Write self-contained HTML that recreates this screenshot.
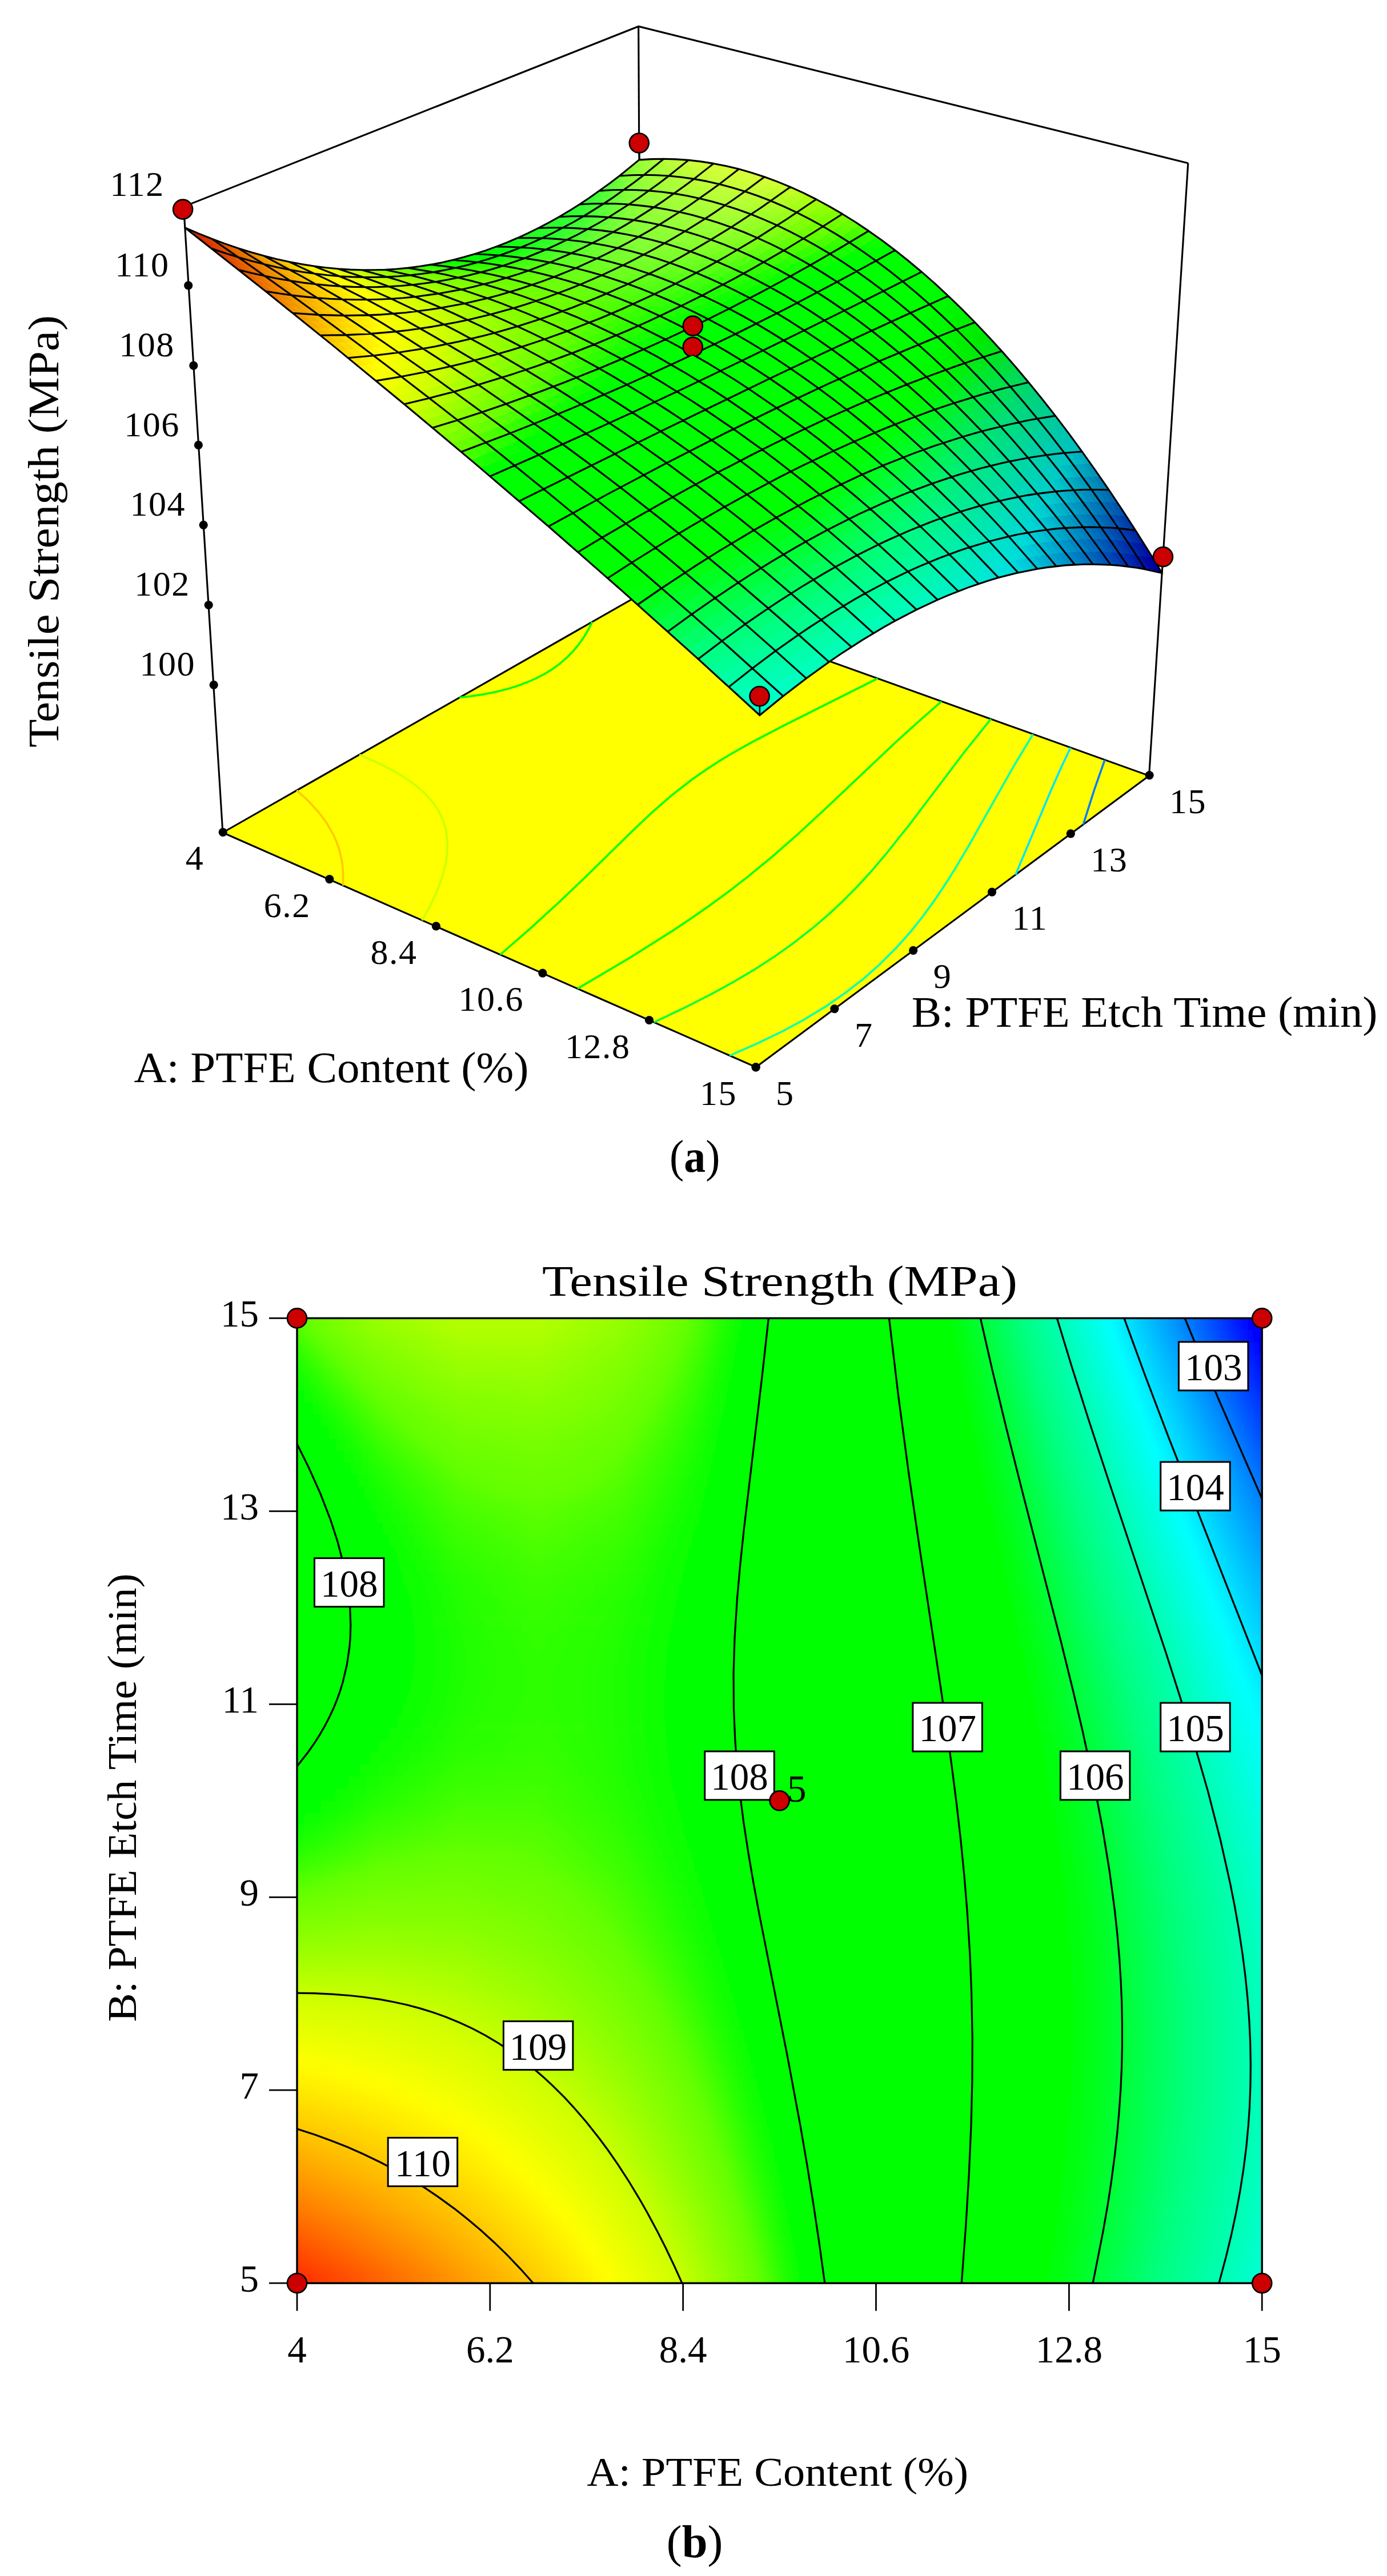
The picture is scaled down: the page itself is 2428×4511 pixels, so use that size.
<!DOCTYPE html><html><head><meta charset="utf-8"><title>Tensile Strength response surface</title><style>html,body{margin:0;padding:0;background:#fff}svg{display:block}</style></head><body><svg width="2428" height="4511" viewBox="0 0 2428 4511"><g id="partA">
<polygon points="389.9,1458 1323.3,1868.7 2011.5,1358.4 1122.7,1039.9" fill="#ffff00" stroke="#000" stroke-width="3.1" stroke-linejoin="miter"/>
<g fill="none" stroke-width="3.5">
<path d="M1896.2 1443.9L1916 1381.8 1934 1330.7" stroke="#007dff"/>
<path d="M1777.8 1531.7L1839.5 1384.8 1857.1 1345.1 1874.1 1309.2" stroke="#00e5ff"/>
<path d="M1277.3 1848.5L1324.9 1827.6 1369.7 1806 1407.2 1785.7 1445.8 1762.2 1477.6 1740.3 1510.1 1715.2 1539.5 1689.3 1568.7 1660.1 1592.8 1633.1 1614.7 1605.8 1636.8 1575.4 1658.8 1542.3 1675.9 1514.7 1695.3 1481.8 1774.1 1342.3 1808.4 1285.6" stroke="#00ffb2"/>
<path d="M1144.9 1790.2L1194.3 1766.7 1241.6 1742.7 1282.4 1720.5 1320.9 1697.7 1356.9 1674.4 1390.5 1650.4 1421.7 1626 1450.7 1601.1 1474.9 1578.5 1500.2 1553 1526 1524.8 1550.2 1496.5 1591.1 1445.2 1688.2 1317 1734.6 1259.2" stroke="#00ff36"/>
<path d="M1011.1 1731.3L1104.5 1675.9 1177.8 1629.7 1212.4 1606.5 1242.5 1585.5 1274.5 1562.1 1305.1 1538.5 1351.3 1500.6 1397.2 1460.3 1443 1418 1565.3 1302.3 1605.5 1265.7 1648.1 1228.2" stroke="#00ff00"/>
<path d="M875.7 1671.8L927.3 1626.9 978.8 1579.8 1021.4 1539.2 1107.2 1454.9 1140.6 1423.4 1175.3 1393.2 1212.1 1364.5 1236.1 1347.7 1261.1 1331.6 1287.1 1316 1317.3 1299.1 1372.4 1270.4 1536.3 1188.1" stroke="#00ff00"/>
<path d="M1036.8 1088.9L1030.4 1101.8 1021.9 1116.1 1012 1129.9 1002.6 1141.1 991.9 1151.9 979.8 1162.3 966.2 1172.2 954.1 1179.7 937.2 1188.5 922.2 1195 905.8 1201.1 887.9 1206.6 868.4 1211.5 847.1 1215.7 824 1219.3 804.3 1221.6" stroke="#00ff00"/>
<path d="M738.9 1611.6L753.2 1585.9 764.8 1561.3 773.6 1537.6 779.9 1513.9 782.7 1494.8 783.2 1473.7 780.8 1454.6 775.8 1437.2 768.5 1421.4 763.2 1412.6 757.1 1404.3 743.2 1388.9 727.2 1374.9 709.3 1362.2 686.6 1348.6 658.7 1334.5 629.2 1321.5" stroke="#c9ff00"/>
<path d="M600.6 1550.7L600.7 1527.5 598.4 1507.1 593.2 1485.8 589.7 1475.8 584.2 1463 572.5 1442.2 558.4 1423 540 1402.8 519.4 1384.1" stroke="#ffc700"/>
</g>
<polyline points="321.5,361.9 1117.7,46.2 2079.8,285.7" fill="none" stroke="#000" stroke-width="3.1"/>
<line x1="1117.7" y1="46.2" x2="1122.7" y2="1039.9" stroke="#000" stroke-width="3.1"/>
<g shape-rendering="crispEdges" stroke-width="0.8">
<path fill="#d42200" stroke="#d42200" d="M323.8 398.7L339.3 410.8 355.1 417.2 339.6 405.6Z"/>
<path fill="#d83100" stroke="#d83100" d="M339.6 405.6L355.1 417.2 370.7 423.2 355.3 412.1Z"/>
<path fill="#db4100" stroke="#db4100" d="M355.3 412.1L370.7 423.2 386.3 428.9 370.9 418.3Z"/>
<path fill="#df5200" stroke="#df5200" d="M370.9 418.3L386.3 428.9 401.7 434.3 386.4 424.1Z"/>
<path fill="#e26200" stroke="#e26200" d="M386.4 424.1L401.7 434.3 417 439.3 401.7 429.6Z"/>
<path fill="#e57200" stroke="#e57200" d="M401.7 429.6L417 439.3 432.2 444 417 434.7Z"/>
<path fill="#e88200" stroke="#e88200" d="M417 434.7L432.2 444 447.3 448.3 432.1 439.5Z"/>
<path fill="#eb9200" stroke="#eb9200" d="M432.1 439.5L447.3 448.3 462.2 452.4 447.2 444Z"/>
<path fill="#eea100" stroke="#eea100" d="M447.2 444L462.2 452.4 477.1 456.1 462.1 448.1Z"/>
<path fill="#f1b100" stroke="#f1b100" d="M462.1 448.1L477.1 456.1 491.9 459.5 476.9 451.9Z"/>
<path fill="#f4c000" stroke="#f4c000" d="M476.9 451.9L491.9 459.5 506.6 462.5 491.6 455.3Z"/>
<path fill="#f7d000" stroke="#f7d000" d="M491.6 455.3L506.6 462.5 521.1 465.3 506.2 458.5Z"/>
<path fill="#f9df00" stroke="#f9df00" d="M506.2 458.5L521.1 465.3 535.6 467.8 520.7 461.3Z"/>
<path fill="#fced00" stroke="#fced00" d="M520.7 461.3L535.6 467.8 550 469.9 535.1 463.8Z"/>
<path fill="#fefc00" stroke="#fefc00" d="M535.1 463.8L550 469.9 564.3 471.8 549.5 466Z"/>
<path fill="#f6ff00" stroke="#f6ff00" d="M549.5 466L564.3 471.8 578.5 473.3 563.7 467.9ZM610 495.7L625.1 502.6 639.3 502.7 624.2 496.2Z"/>
<path fill="#eaff00" stroke="#eaff00" d="M563.7 467.9L578.5 473.3 592.6 474.6 577.8 469.5ZM639.3 502.7L654.4 509.4 668.4 509 653.3 502.7Z"/>
<path fill="#dfff00" stroke="#dfff00" d="M577.8 469.5L592.6 474.6 606.6 475.5 591.9 470.8ZM592.6 474.6L607.4 479.8 621.4 480.4 606.6 475.5ZM668.4 509L683.6 515.6 697.5 514.7 682.4 508.4ZM718.5 556.4L734.1 564.7 748.1 562.7 732.6 554.6ZM726.5 612.9L742.4 623.4 756.7 620.7 740.7 610.5ZM715.4 642.3L731.6 654 746 651 729.8 639.7Z"/>
<path fill="#d5ff00" stroke="#d5ff00" d="M591.9 470.8L606.6 475.5 620.5 476.2 605.8 471.8ZM606.6 475.5L621.4 480.4 635.3 480.8 620.5 476.2ZM751.5 584.2L767.2 593.3 781.2 590.7 765.5 581.9Z"/>
<path fill="#c5ff00" stroke="#c5ff00" d="M605.8 471.8L620.5 476.2 634.4 476.6 619.7 472.4ZM620.5 476.2L635.3 480.8 649.1 480.9 634.4 476.6ZM650.1 485.6L665 490.6 678.8 490.1 663.9 485.4ZM665 490.6L679.9 495.7 693.7 494.9 678.8 490.1Z"/>
<path fill="#b4ff00" stroke="#b4ff00" d="M619.7 472.4L634.4 476.6 648.1 476.7 633.5 472.8ZM723.7 505.2L738.8 510.6 752.4 508.8 737.3 503.7ZM770.7 530.4L786.1 536.8 799.7 534.2 784.3 528ZM787.8 546L803.3 553 816.9 550.2 801.5 543.4Z"/>
<path fill="#a4ff00" stroke="#a4ff00" d="M633.5 472.8L648.1 476.7 661.8 476.5 647.2 472.9ZM782.6 519.8L797.9 525.5 811.3 522.8 796.1 517.3ZM828.7 618L844.7 627.4 858.5 623.6 842.6 614.4ZM767.9 709.9L784.4 722.7 798.8 718.4 782.4 705.9Z"/>
<path fill="#94ff00" stroke="#94ff00" d="M647.2 472.9L661.8 476.5 675.4 476 660.8 472.7ZM764.3 499.9L779.3 504.6 792.7 502.2 777.7 497.7ZM779.3 504.6L794.4 509.5 807.7 506.9 792.7 502.2ZM835 659L851.2 669.7 865.2 665.4 849 655Z"/>
<path fill="#85ff00" stroke="#85ff00" d="M660.8 472.7L675.4 476 688.9 475.3 674.4 472.2ZM733.1 485.6L747.9 489.4 761.2 487.4 746.4 483.8ZM868.5 527.8L883.9 533.5 897.1 529.7 881.7 524.1ZM886 543.3L901.5 549.7 914.7 545.7 899.3 539.5ZM894.9 587L910.6 594.9 924.1 590.7 908.3 583ZM885.9 615.7L901.8 624.6 915.4 620.3 899.5 611.6ZM813.2 714.1L829.6 726.4 843.8 721.7 827.4 709.6ZM786.5 740.2L803.1 753.5 817.5 748.7 800.9 735.7Z"/>
<path fill="#78ff00" stroke="#78ff00" d="M674.4 472.2L688.9 475.3 702.4 474.2 687.8 471.5ZM731.7 480.4L746.4 483.8 759.7 481.8 745 478.6ZM910.2 525.7L925.5 531.4 938.6 527.1 923.2 521.6ZM924.1 590.7L939.8 598.7 953.2 594.1 937.4 586.4ZM867.4 680.4L883.7 691.3 897.6 686.6 881.4 675.9Z"/>
<path fill="#6bff00" stroke="#6bff00" d="M687.8 471.5L702.4 474.2 715.7 472.9 701.2 470.4ZM830.5 486.7L845.5 490.3 858.5 486.9 843.6 483.4ZM969.4 538.8L984.9 545 997.9 540.1 982.4 534.1ZM971.9 549.7L987.5 556.3 1000.5 551.4 984.9 545ZM963.9 577.4L979.6 584.8 992.7 580 977 572.7ZM920.2 647.6L936.3 657.3 949.9 652.4 933.8 643Z"/>
<path fill="#5bff00" stroke="#5bff00" d="M701.2 470.4L715.7 472.9 729 471.4 714.5 469.1ZM819.7 767L836.4 780.5 850.7 775 834.1 761.8Z"/>
<path fill="#46ff00" stroke="#46ff00" d="M714.5 469.1L729 471.4 742.2 469.5 727.7 467.5ZM1034.5 577.4L1050.3 584.9 1063.2 579.6 1047.5 572.2ZM976.8 642.6L992.9 651.9 1006.3 646.7 990.2 637.6ZM952.5 667.1L968.7 677.1 982.2 671.9 966 662.1Z"/>
<path fill="#32ff00" stroke="#32ff00" d="M727.7 467.5L742.2 469.5 755.4 467.4 740.9 465.6ZM1016.8 627.3L1032.8 636.2 1046 630.8 1030 622.1ZM1387.4 446.9L1403 455.4 1414.5 448.8 1399 440.1ZM930.2 708.4L946.6 719.5 960.4 714.1 944 703.1ZM890.9 740.9L907.5 753.1 921.5 747.5 905 735.6Z"/>
<path fill="#21ff00" stroke="#21ff00" d="M740.9 465.6L755.4 467.4 768.5 465 754 463.4ZM1104.7 576.3L1120.5 584 1133.2 578.3 1117.4 570.6ZM1340.7 473.6L1356.3 481.8 1368.1 475.3 1352.5 467ZM1032.8 636.2L1048.9 645.2 1062 639.7 1046 630.8ZM1487 424.6L1502.5 434.9 1513.7 428.4 1498.2 417.9ZM879.3 764.1L895.9 776.9 910 771.1 893.4 758.6Z"/>
<path fill="#13ff00" stroke="#13ff00" d="M754 463.4L768.5 465 781.5 462.4 767 461ZM781.5 462.4L796 464.1 808.9 461 794.4 459.5ZM1133.2 578.3L1149.1 586.3 1161.7 580.5 1145.8 572.6ZM1368.1 475.3L1383.7 483.9 1395.3 477.4 1379.7 468.7Z"/>
<path fill="#06ff00" stroke="#06ff00" d="M767 461L781.5 462.4 794.4 459.5 779.9 458.3ZM1149.1 586.3L1165 594.5 1177.6 588.7 1161.7 580.5ZM1088.1 628.7L1104.2 637.6 1117.1 631.9 1101.1 623.1ZM1407 470.9L1422.6 480.2 1434.1 473.8 1418.5 464.4ZM1001.2 697.6L1017.6 708.1 1031.1 702.4 1014.7 692ZM895.9 776.9L912.6 789.8 926.7 783.8 910 771.1Z"/>
<path fill="#00ff00" stroke="#00ff00" d="M779.9 458.3L794.4 459.5 807.2 456.4 792.8 455.3ZM792.8 455.3L807.2 456.4 820 452.9 805.6 452.1ZM805.6 452.1L820 452.9 832.8 449.3 818.4 448.6ZM807.2 456.4L821.7 457.7 834.5 454.1 820 452.9ZM1224 550.8L1239.8 558.9 1252.1 552.9 1236.3 544.8ZM1236.3 544.8L1252.1 552.9 1264.3 546.8 1248.5 538.7ZM1126.8 611.8L1142.8 620.4 1155.6 614.7 1139.6 606.1ZM1139.6 606.1L1155.6 614.7 1168.3 608.8 1152.3 600.3ZM1152.3 600.3L1168.3 608.8 1181 603 1165 594.5ZM1165 594.5L1181 603 1193.5 597.1 1177.6 588.7ZM1177.6 588.7L1193.5 597.1 1206.1 591.2 1190.1 582.8ZM1190.1 582.8L1206.1 591.2 1218.5 585.3 1202.6 576.9ZM1202.6 576.9L1218.5 585.3 1231 579.3 1215.1 570.9ZM1215.1 570.9L1231 579.3 1243.3 573.3 1227.5 564.9ZM1227.5 564.9L1243.3 573.3 1255.6 567.3 1239.8 558.9ZM1239.8 558.9L1255.6 567.3 1267.9 561.2 1252.1 552.9ZM1252.1 552.9L1267.9 561.2 1280.1 555.2 1264.3 546.8ZM1264.3 546.8L1280.1 555.2 1292.3 549 1276.4 540.6ZM1276.4 540.6L1292.3 549 1304.4 542.9 1288.6 534.5ZM1288.6 534.5L1304.4 542.9 1316.4 536.8 1300.6 528.3ZM1300.6 528.3L1316.4 536.8 1328.4 530.6 1312.6 522ZM1312.6 522L1328.4 530.6 1340.3 524.4 1324.6 515.7ZM1324.6 515.7L1340.3 524.4 1352.2 518.1 1336.5 509.4ZM1336.5 509.4L1352.2 518.1 1364.1 511.9 1348.4 503.1ZM1348.4 503.1L1364.1 511.9 1375.9 505.6 1360.2 496.7ZM1360.2 496.7L1375.9 505.6 1387.6 499.3 1372 490.3ZM1372 490.3L1387.6 499.3 1399.3 492.9 1383.7 483.9ZM1065 654.5L1081.2 663.9 1094.3 658.2 1078.1 648.9ZM1078.1 648.9L1094.3 658.2 1107.3 652.5 1091.2 643.3ZM1091.2 643.3L1107.3 652.5 1120.3 646.8 1104.2 637.6ZM1104.2 637.6L1120.3 646.8 1133.2 641 1117.1 631.9ZM1117.1 631.9L1133.2 641 1146.1 635.2 1130 626.2ZM1130 626.2L1146.1 635.2 1158.9 629.4 1142.8 620.4ZM1142.8 620.4L1158.9 629.4 1171.6 623.5 1155.6 614.7ZM1155.6 614.7L1171.6 623.5 1184.3 617.6 1168.3 608.8ZM1168.3 608.8L1184.3 617.6 1197 611.8 1181 603ZM1181 603L1197 611.8 1209.5 605.8 1193.5 597.1ZM1193.5 597.1L1209.5 605.8 1222.1 599.9 1206.1 591.2ZM1206.1 591.2L1222.1 599.9 1234.5 594 1218.5 585.3ZM1218.5 585.3L1234.5 594 1246.9 588 1231 579.3ZM1231 579.3L1246.9 588 1259.3 582 1243.3 573.3ZM1243.3 573.3L1259.3 582 1271.6 576 1255.6 567.3ZM1255.6 567.3L1271.6 576 1283.8 569.9 1267.9 561.2ZM1267.9 561.2L1283.8 569.9 1296 563.9 1280.1 555.2ZM1280.1 555.2L1296 563.9 1308.1 557.8 1292.3 549ZM1292.3 549L1308.1 557.8 1320.2 551.7 1304.4 542.9ZM1304.4 542.9L1320.2 551.7 1332.2 545.6 1316.4 536.8ZM1316.4 536.8L1332.2 545.6 1344.2 539.5 1328.4 530.6ZM1328.4 530.6L1344.2 539.5 1356.1 533.3 1340.3 524.4ZM1340.3 524.4L1356.1 533.3 1368 527.2 1352.2 518.1ZM1352.2 518.1L1368 527.2 1379.8 521 1364.1 511.9ZM1364.1 511.9L1379.8 521 1391.6 514.8 1375.9 505.6ZM1375.9 505.6L1391.6 514.8 1403.3 508.6 1387.6 499.3ZM1387.6 499.3L1403.3 508.6 1415 502.3 1399.3 492.9ZM1399.3 492.9L1415 502.3 1426.6 496.1 1411 486.6ZM1411 486.6L1426.6 496.1 1438.2 489.8 1422.6 480.2ZM1422.6 480.2L1438.2 489.8 1449.7 483.6 1434.1 473.8ZM1434.1 473.8L1449.7 483.6 1461.2 477.3 1445.6 467.4ZM1445.6 467.4L1461.2 477.3 1472.7 471 1457.1 460.9ZM1457.1 460.9L1472.7 471 1484.1 464.7 1468.5 454.4ZM1468.5 454.4L1484.1 464.7 1495.4 458.3 1479.9 448ZM1479.9 448L1495.4 458.3 1506.7 452 1491.2 441.4ZM1028.1 686.5L1044.5 696.7 1057.8 690.9 1041.5 680.9ZM1041.5 680.9L1057.8 690.9 1071.1 685.2 1054.8 675.3ZM1054.8 675.3L1071.1 685.2 1084.3 679.4 1068 669.6ZM1068 669.6L1084.3 679.4 1097.4 673.6 1081.2 663.9ZM1081.2 663.9L1097.4 673.6 1110.5 667.8 1094.3 658.2ZM1094.3 658.2L1110.5 667.8 1123.5 662 1107.3 652.5ZM1107.3 652.5L1123.5 662 1136.5 656.1 1120.3 646.8ZM1120.3 646.8L1136.5 656.1 1149.4 650.3 1133.2 641ZM1133.2 641L1149.4 650.3 1162.2 644.4 1146.1 635.2ZM1146.1 635.2L1162.2 644.4 1175 638.5 1158.9 629.4ZM1158.9 629.4L1175 638.5 1187.7 632.6 1171.6 623.5ZM1171.6 623.5L1187.7 632.6 1200.4 626.7 1184.3 617.6ZM1184.3 617.6L1200.4 626.7 1213 620.8 1197 611.8ZM1197 611.8L1213 620.8 1225.6 614.8 1209.5 605.8ZM1209.5 605.8L1225.6 614.8 1238.1 608.9 1222.1 599.9ZM1222.1 599.9L1238.1 608.9 1250.5 602.9 1234.5 594ZM1234.5 594L1250.5 602.9 1262.9 596.9 1246.9 588ZM1246.9 588L1262.9 596.9 1275.2 591 1259.3 582ZM1259.3 582L1275.2 591 1287.5 585 1271.6 576ZM1271.6 576L1287.5 585 1299.7 578.9 1283.8 569.9ZM1283.8 569.9L1299.7 578.9 1311.9 572.9 1296 563.9ZM1296 563.9L1311.9 572.9 1324 566.9 1308.1 557.8ZM1308.1 557.8L1324 566.9 1336.1 560.8 1320.2 551.7ZM1320.2 551.7L1336.1 560.8 1348.1 554.8 1332.2 545.6ZM1332.2 545.6L1348.1 554.8 1360 548.7 1344.2 539.5ZM1344.2 539.5L1360 548.7 1372 542.6 1356.1 533.3ZM1356.1 533.3L1372 542.6 1383.8 536.6 1368 527.2ZM1368 527.2L1383.8 536.6 1395.6 530.5 1379.8 521ZM1379.8 521L1395.6 530.5 1407.4 524.4 1391.6 514.8ZM1391.6 514.8L1407.4 524.4 1419.1 518.3 1403.3 508.6ZM1403.3 508.6L1419.1 518.3 1430.7 512.1 1415 502.3ZM1415 502.3L1430.7 512.1 1442.3 506 1426.6 496.1ZM1426.6 496.1L1442.3 506 1453.9 499.9 1438.2 489.8ZM1438.2 489.8L1453.9 499.9 1465.4 493.7 1449.7 483.6ZM1449.7 483.6L1465.4 493.7 1476.9 487.6 1461.2 477.3ZM1461.2 477.3L1476.9 487.6 1488.3 481.4 1472.7 471ZM1472.7 471L1488.3 481.4 1499.6 475.3 1484.1 464.7ZM1484.1 464.7L1499.6 475.3 1511 469.1 1495.4 458.3ZM1495.4 458.3L1511 469.1 1522.2 462.9 1506.7 452ZM1506.7 452L1522.2 462.9 1533.5 456.8 1517.9 445.6ZM1517.9 445.6L1533.5 456.8 1544.7 450.6 1529.2 439.3ZM1529.2 439.3L1544.7 450.6 1555.8 444.4 1540.3 432.9ZM1540.3 432.9L1555.8 444.4 1566.9 438.2 1551.4 426.5ZM976.8 725.1L993.3 736.3 1006.9 730.5 990.5 719.5ZM990.5 719.5L1006.9 730.5 1020.5 724.7 1004.1 713.8ZM1004.1 713.8L1020.5 724.7 1034 718.8 1017.6 708.1ZM1017.6 708.1L1034 718.8 1047.4 712.9 1031.1 702.4ZM1031.1 702.4L1047.4 712.9 1060.8 707.1 1044.5 696.7ZM1044.5 696.7L1060.8 707.1 1074.1 701.2 1057.8 690.9ZM1057.8 690.9L1074.1 701.2 1087.4 695.3 1071.1 685.2ZM1071.1 685.2L1087.4 695.3 1100.6 689.4 1084.3 679.4ZM1084.3 679.4L1100.6 689.4 1113.7 683.5 1097.4 673.6ZM1097.4 673.6L1113.7 683.5 1126.8 677.6 1110.5 667.8ZM1110.5 667.8L1126.8 677.6 1139.8 671.7 1123.5 662ZM1123.5 662L1139.8 671.7 1152.7 665.8 1136.5 656.1ZM1136.5 656.1L1152.7 665.8 1165.6 659.8 1149.4 650.3ZM1149.4 650.3L1165.6 659.8 1178.4 653.9 1162.2 644.4ZM1162.2 644.4L1178.4 653.9 1191.2 647.9 1175 638.5ZM1175 638.5L1191.2 647.9 1203.9 642 1187.7 632.6ZM1187.7 632.6L1203.9 642 1216.5 636 1200.4 626.7ZM1200.4 626.7L1216.5 636 1229.1 630.1 1213 620.8ZM1213 620.8L1229.1 630.1 1241.7 624.1 1225.6 614.8ZM1225.6 614.8L1241.7 624.1 1254.1 618.2 1238.1 608.9ZM1238.1 608.9L1254.1 618.2 1266.6 612.2 1250.5 602.9ZM1250.5 602.9L1266.6 612.2 1278.9 606.2 1262.9 596.9ZM1262.9 596.9L1278.9 606.2 1291.2 600.2 1275.2 591ZM1275.2 591L1291.2 600.2 1303.5 594.3 1287.5 585ZM1287.5 585L1303.5 594.3 1315.7 588.3 1299.7 578.9ZM1299.7 578.9L1315.7 588.3 1327.9 582.3 1311.9 572.9ZM1311.9 572.9L1327.9 582.3 1340 576.3 1324 566.9ZM1324 566.9L1340 576.3 1352 570.3 1336.1 560.8ZM1336.1 560.8L1352 570.3 1364 564.3 1348.1 554.8ZM1348.1 554.8L1364 564.3 1375.9 558.3 1360 548.7ZM1360 548.7L1375.9 558.3 1387.8 552.3 1372 542.6ZM1372 542.6L1387.8 552.3 1399.6 546.3 1383.8 536.6ZM1383.8 536.6L1399.6 546.3 1411.4 540.3 1395.6 530.5ZM1395.6 530.5L1411.4 540.3 1423.2 534.3 1407.4 524.4ZM1407.4 524.4L1423.2 534.3 1434.9 528.3 1419.1 518.3ZM1419.1 518.3L1434.9 528.3 1446.5 522.3 1430.7 512.1ZM1430.7 512.1L1446.5 522.3 1458.1 516.3 1442.3 506ZM1442.3 506L1458.1 516.3 1469.6 510.3 1453.9 499.9ZM1453.9 499.9L1469.6 510.3 1481.1 504.3 1465.4 493.7ZM1465.4 493.7L1481.1 504.3 1492.5 498.3 1476.9 487.6ZM1476.9 487.6L1492.5 498.3 1503.9 492.3 1488.3 481.4ZM1488.3 481.4L1503.9 492.3 1515.3 486.3 1499.6 475.3ZM1499.6 475.3L1515.3 486.3 1526.6 480.3 1511 469.1ZM1511 469.1L1526.6 480.3 1537.8 474.3 1522.2 462.9ZM1522.2 462.9L1537.8 474.3 1549 468.4 1533.5 456.8ZM1533.5 456.8L1549 468.4 1560.2 462.4 1544.7 450.6ZM1544.7 450.6L1560.2 462.4 1571.3 456.4 1555.8 444.4ZM1555.8 444.4L1571.3 456.4 1582.4 450.4 1566.9 438.2ZM924.1 765.3L940.7 777.8 954.6 771.8 938 759.6ZM938 759.6L954.6 771.8 968.5 765.7 951.9 753.8ZM951.9 753.8L968.5 765.7 982.3 759.7 965.8 748ZM965.8 748L982.3 759.7 996.1 753.7 979.6 742.2ZM979.6 742.2L996.1 753.7 1009.8 747.7 993.3 736.3ZM993.3 736.3L1009.8 747.7 1023.4 741.7 1006.9 730.5ZM1006.9 730.5L1023.4 741.7 1036.9 735.7 1020.5 724.7ZM1020.5 724.7L1036.9 735.7 1050.4 729.7 1034 718.8ZM1034 718.8L1050.4 729.7 1063.9 723.7 1047.4 712.9ZM1047.4 712.9L1063.9 723.7 1077.2 717.7 1060.8 707.1ZM1060.8 707.1L1077.2 717.7 1090.5 711.6 1074.1 701.2ZM1074.1 701.2L1090.5 711.6 1103.7 705.6 1087.4 695.3ZM1087.4 695.3L1103.7 705.6 1116.9 699.6 1100.6 689.4ZM1100.6 689.4L1116.9 699.6 1130 693.6 1113.7 683.5ZM1113.7 683.5L1130 693.6 1143.1 687.6 1126.8 677.6ZM1126.8 677.6L1143.1 687.6 1156 681.6 1139.8 671.7ZM1139.8 671.7L1156 681.6 1169 675.6 1152.7 665.8ZM1152.7 665.8L1169 675.6 1181.8 669.6 1165.6 659.8ZM1165.6 659.8L1181.8 669.6 1194.6 663.6 1178.4 653.9ZM1178.4 653.9L1194.6 663.6 1207.4 657.6 1191.2 647.9ZM1191.2 647.9L1207.4 657.6 1220.1 651.6 1203.9 642ZM1203.9 642L1220.1 651.6 1232.7 645.7 1216.5 636ZM1216.5 636L1232.7 645.7 1245.3 639.7 1229.1 630.1ZM1229.1 630.1L1245.3 639.7 1257.8 633.7 1241.7 624.1ZM1241.7 624.1L1257.8 633.7 1270.3 627.7 1254.1 618.2ZM1254.1 618.2L1270.3 627.7 1282.7 621.8 1266.6 612.2ZM1266.6 612.2L1282.7 621.8 1295 615.8 1278.9 606.2ZM1278.9 606.2L1295 615.8 1307.3 609.8 1291.2 600.2ZM1291.2 600.2L1307.3 609.8 1319.5 603.9 1303.5 594.3ZM1303.5 594.3L1319.5 603.9 1331.7 597.9 1315.7 588.3ZM1315.7 588.3L1331.7 597.9 1343.9 592 1327.9 582.3ZM1327.9 582.3L1343.9 592 1355.9 586 1340 576.3ZM1340 576.3L1355.9 586 1368 580.1 1352 570.3ZM1352 570.3L1368 580.1 1379.9 574.2 1364 564.3ZM1364 564.3L1379.9 574.2 1391.8 568.3 1375.9 558.3ZM1375.9 558.3L1391.8 568.3 1403.7 562.4 1387.8 552.3ZM1387.8 552.3L1403.7 562.4 1415.5 556.4 1399.6 546.3ZM1399.6 546.3L1415.5 556.4 1427.3 550.5 1411.4 540.3ZM1411.4 540.3L1427.3 550.5 1439 544.7 1423.2 534.3ZM1423.2 534.3L1439 544.7 1450.7 538.8 1434.9 528.3ZM1434.9 528.3L1450.7 538.8 1462.3 532.9 1446.5 522.3ZM1446.5 522.3L1462.3 532.9 1473.8 527 1458.1 516.3ZM1458.1 516.3L1473.8 527 1485.4 521.2 1469.6 510.3ZM1469.6 510.3L1485.4 521.2 1496.8 515.3 1481.1 504.3ZM1481.1 504.3L1496.8 515.3 1508.2 509.5 1492.5 498.3ZM1492.5 498.3L1508.2 509.5 1519.6 503.6 1503.9 492.3ZM1503.9 492.3L1519.6 503.6 1530.9 497.8 1515.3 486.3ZM1515.3 486.3L1530.9 497.8 1542.2 492 1526.6 480.3ZM1526.6 480.3L1542.2 492 1553.4 486.2 1537.8 474.3ZM1537.8 474.3L1553.4 486.2 1564.6 480.4 1549 468.4ZM1549 468.4L1564.6 480.4 1575.7 474.6 1560.2 462.4ZM1560.2 462.4L1575.7 474.6 1586.8 468.8 1571.3 456.4ZM1571.3 456.4L1586.8 468.8 1597.8 463 1582.4 450.4ZM841.1 819.7L857.9 834.1 872.3 827.8 855.5 813.7ZM855.5 813.7L872.3 827.8 886.7 821.5 869.9 807.8ZM869.9 807.8L886.7 821.5 901 815.3 884.2 801.8ZM884.2 801.8L901 815.3 915.2 809 898.4 795.8ZM898.4 795.8L915.2 809 929.3 802.8 912.6 789.8ZM912.6 789.8L929.3 802.8 943.4 796.5 926.7 783.8ZM926.7 783.8L943.4 796.5 957.4 790.3 940.7 777.8ZM940.7 777.8L957.4 790.3 971.3 784.1 954.6 771.8ZM954.6 771.8L971.3 784.1 985.2 777.8 968.5 765.7ZM968.5 765.7L985.2 777.8 999 771.6 982.3 759.7ZM982.3 759.7L999 771.6 1012.7 765.4 996.1 753.7ZM996.1 753.7L1012.7 765.4 1026.3 759.2 1009.8 747.7ZM1009.8 747.7L1026.3 759.2 1039.9 753.1 1023.4 741.7ZM1023.4 741.7L1039.9 753.1 1053.5 746.9 1036.9 735.7ZM1036.9 735.7L1053.5 746.9 1066.9 740.7 1050.4 729.7ZM1050.4 729.7L1066.9 740.7 1080.3 734.6 1063.9 723.7ZM1063.9 723.7L1080.3 734.6 1093.7 728.4 1077.2 717.7ZM1077.2 717.7L1093.7 728.4 1106.9 722.3 1090.5 711.6ZM1090.5 711.6L1106.9 722.3 1120.2 716.2 1103.7 705.6ZM1103.7 705.6L1120.2 716.2 1133.3 710.1 1116.9 699.6ZM1116.9 699.6L1133.3 710.1 1146.4 704 1130 693.6ZM1130 693.6L1146.4 704 1159.4 697.9 1143.1 687.6ZM1143.1 687.6L1159.4 697.9 1172.4 691.8 1156 681.6ZM1156 681.6L1172.4 691.8 1185.3 685.7 1169 675.6ZM1169 675.6L1185.3 685.7 1198.1 679.6 1181.8 669.6ZM1181.8 669.6L1198.1 679.6 1210.9 673.6 1194.6 663.6ZM1194.6 663.6L1210.9 673.6 1223.6 667.6 1207.4 657.6ZM1207.4 657.6L1223.6 667.6 1236.3 661.5 1220.1 651.6ZM1220.1 651.6L1236.3 661.5 1248.9 655.5 1232.7 645.7ZM1232.7 645.7L1248.9 655.5 1261.5 649.5 1245.3 639.7ZM1245.3 639.7L1261.5 649.5 1274 643.5 1257.8 633.7ZM1257.8 633.7L1274 643.5 1286.4 637.6 1270.3 627.7ZM1270.3 627.7L1286.4 637.6 1298.8 631.6 1282.7 621.8ZM1282.7 621.8L1298.8 631.6 1311.1 625.7 1295 615.8ZM1295 615.8L1311.1 625.7 1323.4 619.7 1307.3 609.8ZM1307.3 609.8L1323.4 619.7 1335.6 613.8 1319.5 603.9ZM1319.5 603.9L1335.6 613.8 1347.8 607.9 1331.7 597.9ZM1331.7 597.9L1347.8 607.9 1359.9 602 1343.9 592ZM1343.9 592L1359.9 602 1372 596.1 1355.9 586ZM1355.9 586L1372 596.1 1384 590.3 1368 580.1ZM1368 580.1L1384 590.3 1395.9 584.4 1379.9 574.2ZM1379.9 574.2L1395.9 584.4 1407.8 578.6 1391.8 568.3ZM1391.8 568.3L1407.8 578.6 1419.6 572.7 1403.7 562.4ZM1403.7 562.4L1419.6 572.7 1431.4 566.9 1415.5 556.4ZM1415.5 556.4L1431.4 566.9 1443.2 561.1 1427.3 550.5ZM1427.3 550.5L1443.2 561.1 1454.9 555.4 1439 544.7ZM1439 544.7L1454.9 555.4 1466.5 549.6 1450.7 538.8ZM1450.7 538.8L1466.5 549.6 1478.1 543.9 1462.3 532.9ZM1462.3 532.9L1478.1 543.9 1489.6 538.1 1473.8 527ZM1473.8 527L1489.6 538.1 1501.1 532.4 1485.4 521.2ZM1485.4 521.2L1501.1 532.4 1512.6 526.7 1496.8 515.3ZM1496.8 515.3L1512.6 526.7 1524 521 1508.2 509.5ZM1508.2 509.5L1524 521 1535.3 515.4 1519.6 503.6ZM1519.6 503.6L1535.3 515.4 1546.6 509.7 1530.9 497.8ZM1530.9 497.8L1546.6 509.7 1557.8 504.1 1542.2 492ZM1542.2 492L1557.8 504.1 1569 498.5 1553.4 486.2ZM1553.4 486.2L1569 498.5 1580.2 492.9 1564.6 480.4ZM1564.6 480.4L1580.2 492.9 1591.3 487.3 1575.7 474.6ZM1575.7 474.6L1591.3 487.3 1602.3 481.7 1586.8 468.8ZM1586.8 468.8L1602.3 481.7 1613.4 476.2 1597.8 463ZM857.9 834.1L874.8 848.5 889.2 842 872.3 827.8ZM872.3 827.8L889.2 842 903.6 835.4 886.7 821.5ZM886.7 821.5L903.6 835.4 917.8 828.9 901 815.3ZM901 815.3L917.8 828.9 932 822.4 915.2 809ZM915.2 809L932 822.4 946.1 815.9 929.3 802.8ZM929.3 802.8L946.1 815.9 960.1 809.4 943.4 796.5ZM943.4 796.5L960.1 809.4 974.1 803 957.4 790.3ZM957.4 790.3L974.1 803 988 796.5 971.3 784.1ZM971.3 784.1L988 796.5 1001.8 790.1 985.2 777.8ZM985.2 777.8L1001.8 790.1 1015.6 783.7 999 771.6ZM999 771.6L1015.6 783.7 1029.3 777.3 1012.7 765.4ZM1012.7 765.4L1029.3 777.3 1043 770.9 1026.3 759.2ZM1026.3 759.2L1043 770.9 1056.5 764.6 1039.9 753.1ZM1039.9 753.1L1056.5 764.6 1070 758.3 1053.5 746.9ZM1053.5 746.9L1070 758.3 1083.5 752 1066.9 740.7ZM1066.9 740.7L1083.5 752 1096.9 745.7 1080.3 734.6ZM1080.3 734.6L1096.9 745.7 1110.2 739.4 1093.7 728.4ZM1093.7 728.4L1110.2 739.4 1123.4 733.1 1106.9 722.3ZM1106.9 722.3L1123.4 733.1 1136.6 726.9 1120.2 716.2ZM1120.2 716.2L1136.6 726.9 1149.7 720.7 1133.3 710.1ZM1133.3 710.1L1149.7 720.7 1162.8 714.5 1146.4 704ZM1146.4 704L1162.8 714.5 1175.8 708.3 1159.4 697.9ZM1159.4 697.9L1175.8 708.3 1188.8 702.2 1172.4 691.8ZM1172.4 691.8L1188.8 702.2 1201.6 696 1185.3 685.7ZM1185.3 685.7L1201.6 696 1214.5 689.9 1198.1 679.6ZM1198.1 679.6L1214.5 689.9 1227.2 683.8 1210.9 673.6ZM1210.9 673.6L1227.2 683.8 1239.9 677.8 1223.6 667.6ZM1223.6 667.6L1239.9 677.8 1252.6 671.7 1236.3 661.5ZM1236.3 661.5L1252.6 671.7 1265.2 665.7 1248.9 655.5ZM1248.9 655.5L1265.2 665.7 1277.7 659.7 1261.5 649.5ZM1261.5 649.5L1277.7 659.7 1290.2 653.7 1274 643.5ZM1274 643.5L1290.2 653.7 1302.6 647.7 1286.4 637.6ZM1286.4 637.6L1302.6 647.7 1315 641.8 1298.8 631.6ZM1298.8 631.6L1315 641.8 1327.3 635.8 1311.1 625.7ZM1311.1 625.7L1327.3 635.8 1339.5 629.9 1323.4 619.7ZM1323.4 619.7L1339.5 629.9 1351.7 624 1335.6 613.8ZM1335.6 613.8L1351.7 624 1363.9 618.2 1347.8 607.9ZM1347.8 607.9L1363.9 618.2 1376 612.3 1359.9 602ZM1359.9 602L1376 612.3 1388 606.5 1372 596.1ZM1372 596.1L1388 606.5 1400 600.7 1384 590.3ZM1384 590.3L1400 600.7 1411.9 595 1395.9 584.4ZM1395.9 584.4L1411.9 595 1423.8 589.2 1407.8 578.6ZM1407.8 578.6L1423.8 589.2 1435.6 583.5 1419.6 572.7ZM1419.6 572.7L1435.6 583.5 1447.4 577.8 1431.4 566.9ZM1431.4 566.9L1447.4 577.8 1459.1 572.1 1443.2 561.1ZM1443.2 561.1L1459.1 572.1 1470.8 566.4 1454.9 555.4ZM1454.9 555.4L1470.8 566.4 1482.4 560.8 1466.5 549.6ZM1466.5 549.6L1482.4 560.8 1494 555.2 1478.1 543.9ZM1478.1 543.9L1494 555.2 1505.5 549.6 1489.6 538.1ZM1489.6 538.1L1505.5 549.6 1516.9 544 1501.1 532.4ZM1501.1 532.4L1516.9 544 1528.3 538.5 1512.6 526.7ZM1512.6 526.7L1528.3 538.5 1539.7 533 1524 521ZM1524 521L1539.7 533 1551 527.5 1535.3 515.4ZM1535.3 515.4L1551 527.5 1562.3 522 1546.6 509.7ZM1546.6 509.7L1562.3 522 1573.5 516.6 1557.8 504.1ZM1557.8 504.1L1573.5 516.6 1584.7 511.2 1569 498.5ZM1569 498.5L1584.7 511.2 1595.8 505.8 1580.2 492.9ZM1580.2 492.9L1595.8 505.8 1606.9 500.4 1591.3 487.3ZM1591.3 487.3L1606.9 500.4 1617.9 495.1 1602.3 481.7ZM1602.3 481.7L1617.9 495.1 1628.9 489.7 1613.4 476.2ZM874.8 848.5L891.8 863 906.2 856.2 889.2 842ZM889.2 842L906.2 856.2 920.5 849.4 903.6 835.4ZM903.6 835.4L920.5 849.4 934.7 842.6 917.8 828.9ZM917.8 828.9L934.7 842.6 948.8 835.8 932 822.4ZM932 822.4L948.8 835.8 962.9 829.1 946.1 815.9ZM946.1 815.9L962.9 829.1 976.9 822.4 960.1 809.4ZM960.1 809.4L976.9 822.4 990.9 815.7 974.1 803ZM974.1 803L990.9 815.7 1004.8 809.1 988 796.5ZM988 796.5L1004.8 809.1 1018.6 802.5 1001.8 790.1ZM1001.8 790.1L1018.6 802.5 1032.3 795.9 1015.6 783.7ZM1015.6 783.7L1032.3 795.9 1046 789.3 1029.3 777.3ZM1029.3 777.3L1046 789.3 1059.6 782.8 1043 770.9ZM1043 770.9L1059.6 782.8 1073.2 776.3 1056.5 764.6ZM1056.5 764.6L1073.2 776.3 1086.6 769.8 1070 758.3ZM1070 758.3L1086.6 769.8 1100.1 763.4 1083.5 752ZM1083.5 752L1100.1 763.4 1113.4 756.9 1096.9 745.7ZM1096.9 745.7L1113.4 756.9 1126.7 750.6 1110.2 739.4ZM1110.2 739.4L1126.7 750.6 1139.9 744.2 1123.4 733.1ZM1123.4 733.1L1139.9 744.2 1153.1 737.9 1136.6 726.9ZM1136.6 726.9L1153.1 737.9 1166.2 731.5 1149.7 720.7ZM1149.7 720.7L1166.2 731.5 1179.3 725.3 1162.8 714.5ZM1162.8 714.5L1179.3 725.3 1192.3 719 1175.8 708.3ZM1175.8 708.3L1192.3 719 1205.2 712.8 1188.8 702.2ZM1188.8 702.2L1205.2 712.8 1218 706.6 1201.6 696ZM1201.6 696L1218 706.6 1230.9 700.4 1214.5 689.9ZM1214.5 689.9L1230.9 700.4 1243.6 694.3 1227.2 683.8ZM1227.2 683.8L1243.6 694.3 1256.3 688.2 1239.9 677.8ZM1239.9 677.8L1256.3 688.2 1268.9 682.1 1252.6 671.7ZM1252.6 671.7L1268.9 682.1 1281.5 676.1 1265.2 665.7ZM1265.2 665.7L1281.5 676.1 1294 670.1 1277.7 659.7ZM1277.7 659.7L1294 670.1 1306.5 664.1 1290.2 653.7ZM1290.2 653.7L1306.5 664.1 1318.9 658.1 1302.6 647.7ZM1302.6 647.7L1318.9 658.1 1331.2 652.2 1315 641.8ZM1315 641.8L1331.2 652.2 1343.5 646.3 1327.3 635.8ZM1327.3 635.8L1343.5 646.3 1355.7 640.4 1339.5 629.9ZM1339.5 629.9L1355.7 640.4 1367.9 634.6 1351.7 624ZM1351.7 624L1367.9 634.6 1380 628.8 1363.9 618.2ZM1363.9 618.2L1380 628.8 1392.1 623 1376 612.3ZM1376 612.3L1392.1 623 1404.1 617.3 1388 606.5ZM1388 606.5L1404.1 617.3 1416.1 611.6 1400 600.7ZM1400 600.7L1416.1 611.6 1428 605.9 1411.9 595ZM1411.9 595L1428 605.9 1439.8 600.2 1423.8 589.2ZM1423.8 589.2L1439.8 600.2 1451.6 594.6 1435.6 583.5ZM1435.6 583.5L1451.6 594.6 1463.4 589 1447.4 577.8ZM1447.4 577.8L1463.4 589 1475.1 583.4 1459.1 572.1ZM1459.1 572.1L1475.1 583.4 1486.7 577.9 1470.8 566.4ZM1470.8 566.4L1486.7 577.9 1498.3 572.4 1482.4 560.8ZM1482.4 560.8L1498.3 572.4 1509.8 566.9 1494 555.2ZM1494 555.2L1509.8 566.9 1521.3 561.5 1505.5 549.6ZM1505.5 549.6L1521.3 561.5 1532.8 556.1 1516.9 544ZM1516.9 544L1532.8 556.1 1544.2 550.7 1528.3 538.5ZM1528.3 538.5L1544.2 550.7 1555.5 545.4 1539.7 533ZM1539.7 533L1555.5 545.4 1566.8 540.1 1551 527.5ZM1551 527.5L1566.8 540.1 1578 534.8 1562.3 522ZM1562.3 522L1578 534.8 1589.2 529.5 1573.5 516.6ZM1573.5 516.6L1589.2 529.5 1600.3 524.3 1584.7 511.2ZM1584.7 511.2L1600.3 524.3 1611.4 519.1 1595.8 505.8ZM1595.8 505.8L1611.4 519.1 1622.5 514 1606.9 500.4ZM1606.9 500.4L1622.5 514 1633.5 508.9 1617.9 495.1ZM891.8 863L908.8 877.6 923.1 870.5 906.2 856.2ZM906.2 856.2L923.1 870.5 937.4 863.4 920.5 849.4ZM920.5 849.4L937.4 863.4 951.6 856.4 934.7 842.6ZM934.7 842.6L951.6 856.4 965.7 849.4 948.8 835.8ZM948.8 835.8L965.7 849.4 979.8 842.5 962.9 829.1ZM962.9 829.1L979.8 842.5 993.8 835.5 976.9 822.4ZM976.9 822.4L993.8 835.5 1007.7 828.7 990.9 815.7ZM990.9 815.7L1007.7 828.7 1021.6 821.8 1004.8 809.1ZM1004.8 809.1L1021.6 821.8 1035.3 815 1018.6 802.5ZM1018.6 802.5L1035.3 815 1049.1 808.2 1032.3 795.9ZM1032.3 795.9L1049.1 808.2 1062.7 801.5 1046 789.3ZM1046 789.3L1062.7 801.5 1076.3 794.8 1059.6 782.8ZM1059.6 782.8L1076.3 794.8 1089.8 788.2 1073.2 776.3ZM1073.2 776.3L1089.8 788.2 1103.3 781.5 1086.6 769.8ZM1086.6 769.8L1103.3 781.5 1116.7 775 1100.1 763.4ZM1100.1 763.4L1116.7 775 1130 768.4 1113.4 756.9ZM1113.4 756.9L1130 768.4 1143.3 761.9 1126.7 750.6ZM1126.7 750.6L1143.3 761.9 1156.5 755.4 1139.9 744.2ZM1139.9 744.2L1156.5 755.4 1169.7 749 1153.1 737.9ZM1153.1 737.9L1169.7 749 1182.8 742.6 1166.2 731.5ZM1166.2 731.5L1182.8 742.6 1195.8 736.3 1179.3 725.3ZM1179.3 725.3L1195.8 736.3 1208.7 729.9 1192.3 719ZM1192.3 719L1208.7 729.9 1221.7 723.7 1205.2 712.8ZM1205.2 712.8L1221.7 723.7 1234.5 717.4 1218 706.6ZM1218 706.6L1234.5 717.4 1247.3 711.2 1230.9 700.4ZM1230.9 700.4L1247.3 711.2 1260 705 1243.6 694.3ZM1243.6 694.3L1260 705 1272.7 698.9 1256.3 688.2ZM1256.3 688.2L1272.7 698.9 1285.3 692.8 1268.9 682.1ZM1268.9 682.1L1285.3 692.8 1297.8 686.8 1281.5 676.1ZM1281.5 676.1L1297.8 686.8 1310.3 680.8 1294 670.1ZM1294 670.1L1310.3 680.8 1322.8 674.8 1306.5 664.1ZM1306.5 664.1L1322.8 674.8 1335.1 668.8 1318.9 658.1ZM1318.9 658.1L1335.1 668.8 1347.5 662.9 1331.2 652.2ZM1331.2 652.2L1347.5 662.9 1359.7 657.1 1343.5 646.3ZM1343.5 646.3L1359.7 657.1 1371.9 651.3 1355.7 640.4ZM1355.7 640.4L1371.9 651.3 1384.1 645.5 1367.9 634.6ZM1367.9 634.6L1384.1 645.5 1396.2 639.7 1380 628.8ZM1380 628.8L1396.2 639.7 1408.2 634 1392.1 623ZM1392.1 623L1408.2 634 1420.2 628.3 1404.1 617.3ZM1404.1 617.3L1420.2 628.3 1432.2 622.7 1416.1 611.6ZM1416.1 611.6L1432.2 622.7 1444.1 617.1 1428 605.9ZM1428 605.9L1444.1 617.1 1455.9 611.6 1439.8 600.2ZM1439.8 600.2L1455.9 611.6 1467.7 606.1 1451.6 594.6ZM1451.6 594.6L1467.7 606.1 1479.4 600.6 1463.4 589ZM1463.4 589L1479.4 600.6 1491.1 595.1 1475.1 583.4ZM1475.1 583.4L1491.1 595.1 1502.7 589.7 1486.7 577.9ZM1486.7 577.9L1502.7 589.7 1514.2 584.4 1498.3 572.4ZM1498.3 572.4L1514.2 584.4 1525.7 579.1 1509.8 566.9ZM1509.8 566.9L1525.7 579.1 1537.2 573.8 1521.3 561.5ZM1521.3 561.5L1537.2 573.8 1548.6 568.5 1532.8 556.1ZM1532.8 556.1L1548.6 568.5 1560 563.3 1544.2 550.7ZM1544.2 550.7L1560 563.3 1571.3 558.2 1555.5 545.4ZM1555.5 545.4L1571.3 558.2 1582.6 553 1566.8 540.1ZM1566.8 540.1L1582.6 553 1593.8 548 1578 534.8ZM1578 534.8L1593.8 548 1604.9 542.9 1589.2 529.5ZM1589.2 529.5L1604.9 542.9 1616 537.9 1600.3 524.3ZM1600.3 524.3L1616 537.9 1627.1 532.9 1611.4 519.1ZM908.8 877.6L925.9 892.3 940.2 884.9 923.1 870.5ZM923.1 870.5L940.2 884.9 954.4 877.6 937.4 863.4ZM937.4 863.4L954.4 877.6 968.6 870.3 951.6 856.4ZM951.6 856.4L968.6 870.3 982.7 863.1 965.7 849.4ZM965.7 849.4L982.7 863.1 996.7 855.9 979.8 842.5ZM979.8 842.5L996.7 855.9 1010.7 848.8 993.8 835.5ZM993.8 835.5L1010.7 848.8 1024.6 841.7 1007.7 828.7ZM1007.7 828.7L1024.6 841.7 1038.4 834.7 1021.6 821.8ZM1021.6 821.8L1038.4 834.7 1052.2 827.7 1035.3 815ZM1035.3 815L1052.2 827.7 1065.9 820.7 1049.1 808.2ZM1049.1 808.2L1065.9 820.7 1079.5 813.8 1062.7 801.5ZM1062.7 801.5L1079.5 813.8 1093.1 807 1076.3 794.8ZM1076.3 794.8L1093.1 807 1106.6 800.2 1089.8 788.2ZM1089.8 788.2L1106.6 800.2 1120 793.4 1103.3 781.5ZM1103.3 781.5L1120 793.4 1133.4 786.7 1116.7 775ZM1116.7 775L1133.4 786.7 1146.7 780.1 1130 768.4ZM1130 768.4L1146.7 780.1 1160 773.5 1143.3 761.9ZM1143.3 761.9L1160 773.5 1173.1 766.9 1156.5 755.4ZM1156.5 755.4L1173.1 766.9 1186.3 760.4 1169.7 749ZM1169.7 749L1186.3 760.4 1199.3 753.9 1182.8 742.6ZM1182.8 742.6L1199.3 753.9 1212.3 747.5 1195.8 736.3ZM1195.8 736.3L1212.3 747.5 1225.3 741.1 1208.7 729.9ZM1208.7 729.9L1225.3 741.1 1238.2 734.7 1221.7 723.7ZM1221.7 723.7L1238.2 734.7 1251 728.5 1234.5 717.4ZM1234.5 717.4L1251 728.5 1263.8 722.2 1247.3 711.2ZM1247.3 711.2L1263.8 722.2 1276.5 716 1260 705ZM1260 705L1276.5 716 1289.1 709.9 1272.7 698.9ZM1272.7 698.9L1289.1 709.9 1301.7 703.8 1285.3 692.8ZM1285.3 692.8L1301.7 703.8 1314.2 697.7 1297.8 686.8ZM1297.8 686.8L1314.2 697.7 1326.7 691.7 1310.3 680.8ZM1310.3 680.8L1326.7 691.7 1339.1 685.8 1322.8 674.8ZM1322.8 674.8L1339.1 685.8 1351.5 679.8 1335.1 668.8ZM1335.1 668.8L1351.5 679.8 1363.8 674 1347.5 662.9ZM1347.5 662.9L1363.8 674 1376 668.2 1359.7 657.1ZM1359.7 657.1L1376 668.2 1388.2 662.4 1371.9 651.3ZM1371.9 651.3L1388.2 662.4 1400.3 656.7 1384.1 645.5ZM1384.1 645.5L1400.3 656.7 1412.4 651 1396.2 639.7ZM1396.2 639.7L1412.4 651 1424.4 645.3 1408.2 634ZM1408.2 634L1424.4 645.3 1436.4 639.8 1420.2 628.3ZM1420.2 628.3L1436.4 639.8 1448.3 634.2 1432.2 622.7ZM1432.2 622.7L1448.3 634.2 1460.2 628.7 1444.1 617.1ZM1444.1 617.1L1460.2 628.7 1472 623.3 1455.9 611.6ZM1455.9 611.6L1472 623.3 1483.7 617.9 1467.7 606.1ZM1467.7 606.1L1483.7 617.9 1495.4 612.5 1479.4 600.6ZM1479.4 600.6L1495.4 612.5 1507.1 607.2 1491.1 595.1ZM1491.1 595.1L1507.1 607.2 1518.7 602 1502.7 589.7ZM1502.7 589.7L1518.7 602 1530.2 596.7 1514.2 584.4ZM1514.2 584.4L1530.2 596.7 1541.7 591.6 1525.7 579.1ZM1525.7 579.1L1541.7 591.6 1553.1 586.5 1537.2 573.8ZM1537.2 573.8L1553.1 586.5 1564.5 581.4 1548.6 568.5ZM1548.6 568.5L1564.5 581.4 1575.8 576.4 1560 563.3ZM1560 563.3L1575.8 576.4 1587.1 571.4 1571.3 558.2ZM1571.3 558.2L1587.1 571.4 1598.4 566.4 1582.6 553ZM1582.6 553L1598.4 566.4 1609.5 561.6 1593.8 548ZM1593.8 548L1609.5 561.6 1620.7 556.7 1604.9 542.9ZM925.9 892.3L943 907 957.2 899.4 940.2 884.9ZM940.2 884.9L957.2 899.4 971.4 891.8 954.4 877.6ZM954.4 877.6L971.4 891.8 985.6 884.3 968.6 870.3ZM968.6 870.3L985.6 884.3 999.7 876.9 982.7 863.1ZM982.7 863.1L999.7 876.9 1013.7 869.5 996.7 855.9ZM996.7 855.9L1013.7 869.5 1027.6 862.2 1010.7 848.8ZM1010.7 848.8L1027.6 862.2 1041.5 854.9 1024.6 841.7ZM1024.6 841.7L1041.5 854.9 1055.3 847.7 1038.4 834.7ZM1038.4 834.7L1055.3 847.7 1069 840.5 1052.2 827.7ZM1052.2 827.7L1069 840.5 1082.7 833.4 1065.9 820.7ZM1065.9 820.7L1082.7 833.4 1096.3 826.3 1079.5 813.8ZM1079.5 813.8L1096.3 826.3 1109.9 819.3 1093.1 807ZM1093.1 807L1109.9 819.3 1123.3 812.4 1106.6 800.2ZM1106.6 800.2L1123.3 812.4 1136.8 805.5 1120 793.4ZM1120 793.4L1136.8 805.5 1150.1 798.7 1133.4 786.7ZM1133.4 786.7L1150.1 798.7 1163.4 791.9 1146.7 780.1ZM1146.7 780.1L1163.4 791.9 1176.6 785.2 1160 773.5ZM1160 773.5L1176.6 785.2 1189.8 778.5 1173.1 766.9ZM1173.1 766.9L1189.8 778.5 1202.9 771.9 1186.3 760.4ZM1186.3 760.4L1202.9 771.9 1216 765.4 1199.3 753.9ZM1199.3 753.9L1216 765.4 1228.9 758.9 1212.3 747.5ZM1212.3 747.5L1228.9 758.9 1241.9 752.5 1225.3 741.1ZM1225.3 741.1L1241.9 752.5 1254.7 746.1 1238.2 734.7ZM1238.2 734.7L1254.7 746.1 1267.5 739.8 1251 728.5ZM1251 728.5L1267.5 739.8 1280.3 733.5 1263.8 722.2ZM1263.8 722.2L1280.3 733.5 1293 727.3 1276.5 716ZM1276.5 716L1293 727.3 1305.6 721.1 1289.1 709.9ZM1289.1 709.9L1305.6 721.1 1318.2 715 1301.7 703.8ZM1301.7 703.8L1318.2 715 1330.7 709 1314.2 697.7ZM1314.2 697.7L1330.7 709 1343.1 703 1326.7 691.7ZM1326.7 691.7L1343.1 703 1355.5 697 1339.1 685.8ZM1339.1 685.8L1355.5 697 1367.8 691.1 1351.5 679.8ZM1351.5 679.8L1367.8 691.1 1380.1 685.3 1363.8 674ZM1363.8 674L1380.1 685.3 1392.3 679.5 1376 668.2ZM1376 668.2L1392.3 679.5 1404.5 673.8 1388.2 662.4ZM1388.2 662.4L1404.5 673.8 1416.6 668.2 1400.3 656.7ZM1400.3 656.7L1416.6 668.2 1428.7 662.6 1412.4 651ZM1412.4 651L1428.7 662.6 1440.7 657 1424.4 645.3ZM1424.4 645.3L1440.7 657 1452.6 651.5 1436.4 639.8ZM1436.4 639.8L1452.6 651.5 1464.5 646.1 1448.3 634.2ZM1448.3 634.2L1464.5 646.1 1476.3 640.7 1460.2 628.7ZM1460.2 628.7L1476.3 640.7 1488.1 635.3 1472 623.3ZM1472 623.3L1488.1 635.3 1499.8 630.1 1483.7 617.9ZM1483.7 617.9L1499.8 630.1 1511.5 624.8 1495.4 612.5ZM1495.4 612.5L1511.5 624.8 1523.1 619.7 1507.1 607.2ZM1507.1 607.2L1523.1 619.7 1534.7 614.6 1518.7 602ZM1518.7 602L1534.7 614.6 1546.2 609.5 1530.2 596.7ZM1530.2 596.7L1546.2 609.5 1557.7 604.5 1541.7 591.6ZM1541.7 591.6L1557.7 604.5 1569.1 599.5 1553.1 586.5ZM1553.1 586.5L1569.1 599.5 1580.4 594.6 1564.5 581.4ZM1564.5 581.4L1580.4 594.6 1591.7 589.8 1575.8 576.4ZM1575.8 576.4L1591.7 589.8 1603 585 1587.1 571.4ZM1587.1 571.4L1603 585 1614.2 580.3 1598.4 566.4ZM943 907L960.1 921.8 974.3 914 957.2 899.4ZM957.2 899.4L974.3 914 988.5 906.2 971.4 891.8ZM971.4 891.8L988.5 906.2 1002.6 898.4 985.6 884.3ZM985.6 884.3L1002.6 898.4 1016.7 890.8 999.7 876.9ZM999.7 876.9L1016.7 890.8 1030.7 883.2 1013.7 869.5ZM1013.7 869.5L1030.7 883.2 1044.6 875.6 1027.6 862.2ZM1027.6 862.2L1044.6 875.6 1058.4 868.2 1041.5 854.9ZM1041.5 854.9L1058.4 868.2 1072.2 860.8 1055.3 847.7ZM1055.3 847.7L1072.2 860.8 1085.9 853.4 1069 840.5ZM1069 840.5L1085.9 853.4 1099.6 846.2 1082.7 833.4ZM1082.7 833.4L1099.6 846.2 1113.2 839 1096.3 826.3ZM1096.3 826.3L1113.2 839 1126.7 831.8 1109.9 819.3ZM1109.9 819.3L1126.7 831.8 1140.2 824.8 1123.3 812.4ZM1123.3 812.4L1140.2 824.8 1153.6 817.8 1136.8 805.5ZM1136.8 805.5L1153.6 817.8 1166.9 810.8 1150.1 798.7ZM1150.1 798.7L1166.9 810.8 1180.2 803.9 1163.4 791.9ZM1163.4 791.9L1180.2 803.9 1193.4 797.1 1176.6 785.2ZM1176.6 785.2L1193.4 797.1 1206.5 790.4 1189.8 778.5ZM1189.8 778.5L1206.5 790.4 1219.6 783.7 1202.9 771.9ZM1202.9 771.9L1219.6 783.7 1232.6 777.1 1216 765.4ZM1216 765.4L1232.6 777.1 1245.6 770.5 1228.9 758.9ZM1228.9 758.9L1245.6 770.5 1258.5 764.1 1241.9 752.5ZM1241.9 752.5L1258.5 764.1 1271.3 757.6 1254.7 746.1ZM1254.7 746.1L1271.3 757.6 1284.1 751.3 1267.5 739.8ZM1267.5 739.8L1284.1 751.3 1296.8 745 1280.3 733.5ZM1280.3 733.5L1296.8 745 1309.5 738.8 1293 727.3ZM1293 727.3L1309.5 738.8 1322.1 732.6 1305.6 721.1ZM1305.6 721.1L1322.1 732.6 1334.7 726.5 1318.2 715ZM1318.2 715L1334.7 726.5 1347.1 720.5 1330.7 709ZM1330.7 709L1347.1 720.5 1359.6 714.5 1343.1 703ZM1343.1 703L1359.6 714.5 1371.9 708.6 1355.5 697ZM1355.5 697L1371.9 708.6 1384.2 702.7 1367.8 691.1ZM1367.8 691.1L1384.2 702.7 1396.5 697 1380.1 685.3ZM1380.1 685.3L1396.5 697 1408.7 691.2 1392.3 679.5ZM1392.3 679.5L1408.7 691.2 1420.8 685.6 1404.5 673.8ZM1404.5 673.8L1420.8 685.6 1432.9 680 1416.6 668.2ZM1416.6 668.2L1432.9 680 1445 674.5 1428.7 662.6ZM1428.7 662.6L1445 674.5 1456.9 669 1440.7 657ZM1440.7 657L1456.9 669 1468.8 663.6 1452.6 651.5ZM1452.6 651.5L1468.8 663.6 1480.7 658.3 1464.5 646.1ZM1464.5 646.1L1480.7 658.3 1492.5 653 1476.3 640.7ZM1476.3 640.7L1492.5 653 1504.3 647.8 1488.1 635.3ZM1488.1 635.3L1504.3 647.8 1516 642.6 1499.8 630.1ZM1499.8 630.1L1516 642.6 1527.6 637.5 1511.5 624.8ZM1511.5 624.8L1527.6 637.5 1539.2 632.5 1523.1 619.7ZM1523.1 619.7L1539.2 632.5 1550.7 627.5 1534.7 614.6ZM1534.7 614.6L1550.7 627.5 1562.2 622.6 1546.2 609.5ZM1546.2 609.5L1562.2 622.6 1573.6 617.8 1557.7 604.5ZM1557.7 604.5L1573.6 617.8 1585 613 1569.1 599.5ZM1569.1 599.5L1585 613 1596.3 608.3 1580.4 594.6ZM1580.4 594.6L1596.3 608.3 1607.6 603.6 1591.7 589.8ZM1591.7 589.8L1607.6 603.6 1618.8 599 1603 585ZM960.1 921.8L977.3 936.7 991.5 928.6 974.3 914ZM974.3 914L991.5 928.6 1005.6 920.6 988.5 906.2ZM988.5 906.2L1005.6 920.6 1019.7 912.6 1002.6 898.4ZM1002.6 898.4L1019.7 912.6 1033.8 904.8 1016.7 890.8ZM1016.7 890.8L1033.8 904.8 1047.7 897 1030.7 883.2ZM1030.7 883.2L1047.7 897 1061.6 889.2 1044.6 875.6ZM1044.6 875.6L1061.6 889.2 1075.4 881.6 1058.4 868.2ZM1058.4 868.2L1075.4 881.6 1089.2 874 1072.2 860.8ZM1072.2 860.8L1089.2 874 1102.9 866.5 1085.9 853.4ZM1085.9 853.4L1102.9 866.5 1116.5 859.1 1099.6 846.2ZM1099.6 846.2L1116.5 859.1 1130.1 851.8 1113.2 839ZM1113.2 839L1130.1 851.8 1143.6 844.5 1126.7 831.8ZM1126.7 831.8L1143.6 844.5 1157 837.3 1140.2 824.8ZM1140.2 824.8L1157 837.3 1170.4 830.2 1153.6 817.8ZM1153.6 817.8L1170.4 830.2 1183.7 823.1 1166.9 810.8ZM1166.9 810.8L1183.7 823.1 1197 816.2 1180.2 803.9ZM1180.2 803.9L1197 816.2 1210.2 809.3 1193.4 797.1ZM1193.4 797.1L1210.2 809.3 1223.3 802.4 1206.5 790.4ZM1206.5 790.4L1223.3 802.4 1236.3 795.7 1219.6 783.7ZM1219.6 783.7L1236.3 795.7 1249.3 789 1232.6 777.1ZM1232.6 777.1L1249.3 789 1262.3 782.4 1245.6 770.5ZM1245.6 770.5L1262.3 782.4 1275.2 775.9 1258.5 764.1ZM1258.5 764.1L1275.2 775.9 1288 769.4 1271.3 757.6ZM1271.3 757.6L1288 769.4 1300.7 763.1 1284.1 751.3ZM1284.1 751.3L1300.7 763.1 1313.4 756.7 1296.8 745ZM1296.8 745L1313.4 756.7 1326.1 750.5 1309.5 738.8ZM1309.5 738.8L1326.1 750.5 1338.7 744.4 1322.1 732.6ZM1322.1 732.6L1338.7 744.4 1351.2 738.3 1334.7 726.5ZM1334.7 726.5L1351.2 738.3 1363.7 732.2 1347.1 720.5ZM1347.1 720.5L1363.7 732.2 1376.1 726.3 1359.6 714.5ZM1359.6 714.5L1376.1 726.3 1388.4 720.4 1371.9 708.6ZM1371.9 708.6L1388.4 720.4 1400.7 714.6 1384.2 702.7ZM1384.2 702.7L1400.7 714.6 1412.9 708.9 1396.5 697ZM1396.5 697L1412.9 708.9 1425.1 703.2 1408.7 691.2ZM1408.7 691.2L1425.1 703.2 1437.2 697.7 1420.8 685.6ZM1420.8 685.6L1437.2 697.7 1449.3 692.1 1432.9 680ZM1432.9 680L1449.3 692.1 1461.3 686.7 1445 674.5ZM1445 674.5L1461.3 686.7 1473.2 681.3 1456.9 669ZM1456.9 669L1473.2 681.3 1485.1 676 1468.8 663.6ZM1468.8 663.6L1485.1 676 1497 670.8 1480.7 658.3ZM1480.7 658.3L1497 670.8 1508.7 665.6 1492.5 653ZM1492.5 653L1508.7 665.6 1520.5 660.5 1504.3 647.8ZM1504.3 647.8L1520.5 660.5 1532.1 655.5 1516 642.6ZM1516 642.6L1532.1 655.5 1543.7 650.6 1527.6 637.5ZM1527.6 637.5L1543.7 650.6 1555.3 645.7 1539.2 632.5ZM1539.2 632.5L1555.3 645.7 1566.8 640.9 1550.7 627.5ZM1550.7 627.5L1566.8 640.9 1578.3 636.2 1562.2 622.6ZM1562.2 622.6L1578.3 636.2 1589.7 631.5 1573.6 617.8ZM1573.6 617.8L1589.7 631.5 1601 626.9 1585 613ZM1585 613L1601 626.9 1612.3 622.4 1596.3 608.3ZM977.3 936.7L994.5 951.7 1008.7 943.4 991.5 928.6ZM991.5 928.6L1008.7 943.4 1022.8 935.1 1005.6 920.6ZM1005.6 920.6L1022.8 935.1 1036.9 927 1019.7 912.6ZM1019.7 912.6L1036.9 927 1050.9 918.9 1033.8 904.8ZM1033.8 904.8L1050.9 918.9 1064.8 910.9 1047.7 897ZM1047.7 897L1064.8 910.9 1078.7 903 1061.6 889.2ZM1061.6 889.2L1078.7 903 1092.5 895.2 1075.4 881.6ZM1075.4 881.6L1092.5 895.2 1106.2 887.4 1089.2 874ZM1089.2 874L1106.2 887.4 1119.9 879.8 1102.9 866.5ZM1102.9 866.5L1119.9 879.8 1133.5 872.2 1116.5 859.1ZM1116.5 859.1L1133.5 872.2 1147 864.7 1130.1 851.8ZM1130.1 851.8L1147 864.7 1160.5 857.3 1143.6 844.5ZM1143.6 844.5L1160.5 857.3 1173.9 850 1157 837.3ZM1157 837.3L1173.9 850 1187.3 842.8 1170.4 830.2ZM1170.4 830.2L1187.3 842.8 1200.6 835.6 1183.7 823.1ZM1183.7 823.1L1200.6 835.6 1213.8 828.6 1197 816.2ZM1197 816.2L1213.8 828.6 1227 821.6 1210.2 809.3ZM1210.2 809.3L1227 821.6 1240.1 814.7 1223.3 802.4ZM1223.3 802.4L1240.1 814.7 1253.1 807.9 1236.3 795.7ZM1236.3 795.7L1253.1 807.9 1266.1 801.2 1249.3 789ZM1249.3 789L1266.1 801.2 1279 794.5 1262.3 782.4ZM1262.3 782.4L1279 794.5 1291.9 788 1275.2 775.9ZM1275.2 775.9L1291.9 788 1304.7 781.5 1288 769.4ZM1288 769.4L1304.7 781.5 1317.4 775.1 1300.7 763.1ZM1300.7 763.1L1317.4 775.1 1330.1 768.8 1313.4 756.7ZM1313.4 756.7L1330.1 768.8 1342.7 762.5 1326.1 750.5ZM1326.1 750.5L1342.7 762.5 1355.3 756.4 1338.7 744.4ZM1338.7 744.4L1355.3 756.4 1367.8 750.3 1351.2 738.3ZM1351.2 738.3L1367.8 750.3 1380.2 744.3 1363.7 732.2ZM1363.7 732.2L1380.2 744.3 1392.6 738.4 1376.1 726.3ZM1376.1 726.3L1392.6 738.4 1404.9 732.6 1388.4 720.4ZM1388.4 720.4L1404.9 732.6 1417.2 726.8 1400.7 714.6ZM1400.7 714.6L1417.2 726.8 1429.4 721.1 1412.9 708.9ZM1412.9 708.9L1429.4 721.1 1441.5 715.5 1425.1 703.2ZM1425.1 703.2L1441.5 715.5 1453.6 710 1437.2 697.7ZM1437.2 697.7L1453.6 710 1465.7 704.6 1449.3 692.1ZM1449.3 692.1L1465.7 704.6 1477.6 699.3 1461.3 686.7ZM1461.3 686.7L1477.6 699.3 1489.6 694 1473.2 681.3ZM1473.2 681.3L1489.6 694 1501.4 688.8 1485.1 676ZM1485.1 676L1501.4 688.8 1513.2 683.7 1497 670.8ZM1497 670.8L1513.2 683.7 1525 678.6 1508.7 665.6ZM1508.7 665.6L1525 678.6 1536.7 673.7 1520.5 660.5ZM1520.5 660.5L1536.7 673.7 1548.3 668.8 1532.1 655.5ZM1532.1 655.5L1548.3 668.8 1559.9 664 1543.7 650.6ZM1543.7 650.6L1559.9 664 1571.4 659.3 1555.3 645.7ZM1555.3 645.7L1571.4 659.3 1582.9 654.6 1566.8 640.9ZM1566.8 640.9L1582.9 654.6 1594.3 650.1 1578.3 636.2ZM1578.3 636.2L1594.3 650.1 1605.7 645.6 1589.7 631.5ZM994.5 951.7L1011.8 966.8 1025.9 958.2 1008.7 943.4ZM1008.7 943.4L1025.9 958.2 1040 949.8 1022.8 935.1ZM1022.8 935.1L1040 949.8 1054.1 941.4 1036.9 927ZM1036.9 927L1054.1 941.4 1068 933.1 1050.9 918.9ZM1050.9 918.9L1068 933.1 1082 924.9 1064.8 910.9ZM1064.8 910.9L1082 924.9 1095.8 916.8 1078.7 903ZM1078.7 903L1095.8 916.8 1109.6 908.8 1092.5 895.2ZM1092.5 895.2L1109.6 908.8 1123.3 901 1106.2 887.4ZM1106.2 887.4L1123.3 901 1136.9 893.2 1119.9 879.8ZM1119.9 879.8L1136.9 893.2 1150.5 885.4 1133.5 872.2ZM1133.5 872.2L1150.5 885.4 1164 877.8 1147 864.7ZM1147 864.7L1164 877.8 1177.5 870.3 1160.5 857.3ZM1160.5 857.3L1177.5 870.3 1190.9 862.9 1173.9 850ZM1173.9 850L1190.9 862.9 1204.2 855.6 1187.3 842.8ZM1187.3 842.8L1204.2 855.6 1217.5 848.3 1200.6 835.6ZM1200.6 835.6L1217.5 848.3 1230.7 841.2 1213.8 828.6ZM1213.8 828.6L1230.7 841.2 1243.8 834.1 1227 821.6ZM1227 821.6L1243.8 834.1 1256.9 827.2 1240.1 814.7ZM1240.1 814.7L1256.9 827.2 1269.9 820.3 1253.1 807.9ZM1253.1 807.9L1269.9 820.3 1282.9 813.5 1266.1 801.2ZM1266.1 801.2L1282.9 813.5 1295.8 806.8 1279 794.5ZM1279 794.5L1295.8 806.8 1308.6 800.2 1291.9 788ZM1291.9 788L1308.6 800.2 1321.4 793.7 1304.7 781.5ZM1304.7 781.5L1321.4 793.7 1334.1 787.3 1317.4 775.1ZM1317.4 775.1L1334.1 787.3 1346.8 781 1330.1 768.8ZM1330.1 768.8L1346.8 781 1359.4 774.8 1342.7 762.5ZM1342.7 762.5L1359.4 774.8 1371.9 768.6 1355.3 756.4ZM1355.3 756.4L1371.9 768.6 1384.4 762.6 1367.8 750.3ZM1367.8 750.3L1384.4 762.6 1396.8 756.6 1380.2 744.3ZM1380.2 744.3L1396.8 756.6 1409.2 750.8 1392.6 738.4ZM1392.6 738.4L1409.2 750.8 1421.5 745 1404.9 732.6ZM1404.9 732.6L1421.5 745 1433.7 739.3 1417.2 726.8ZM1417.2 726.8L1433.7 739.3 1445.9 733.7 1429.4 721.1ZM1429.4 721.1L1445.9 733.7 1458 728.2 1441.5 715.5ZM1441.5 715.5L1458 728.2 1470.1 722.7 1453.6 710ZM1453.6 710L1470.1 722.7 1482.1 717.4 1465.7 704.6ZM1465.7 704.6L1482.1 717.4 1494 712.1 1477.6 699.3ZM1477.6 699.3L1494 712.1 1505.9 707 1489.6 694ZM1489.6 694L1505.9 707 1517.8 701.9 1501.4 688.8ZM1501.4 688.8L1517.8 701.9 1529.5 696.9 1513.2 683.7ZM1513.2 683.7L1529.5 696.9 1541.3 692 1525 678.6ZM1525 678.6L1541.3 692 1552.9 687.2 1536.7 673.7ZM1536.7 673.7L1552.9 687.2 1564.5 682.4 1548.3 668.8ZM1548.3 668.8L1564.5 682.4 1576.1 677.8 1559.9 664ZM1559.9 664L1576.1 677.8 1587.6 673.2 1571.4 659.3ZM1571.4 659.3L1587.6 673.2 1599 668.8 1582.9 654.6ZM1011.8 966.8L1029.1 981.9 1043.2 973.2 1025.9 958.2ZM1025.9 958.2L1043.2 973.2 1057.3 964.5 1040 949.8ZM1040 949.8L1057.3 964.5 1071.3 955.9 1054.1 941.4ZM1054.1 941.4L1071.3 955.9 1085.3 947.4 1068 933.1ZM1068 933.1L1085.3 947.4 1099.1 939.1 1082 924.9ZM1082 924.9L1099.1 939.1 1113 930.8 1095.8 916.8ZM1095.8 916.8L1113 930.8 1126.7 922.7 1109.6 908.8ZM1109.6 908.8L1126.7 922.7 1140.4 914.6 1123.3 901ZM1123.3 901L1140.4 914.6 1154 906.7 1136.9 893.2ZM1136.9 893.2L1154 906.7 1167.6 898.8 1150.5 885.4ZM1150.5 885.4L1167.6 898.8 1181.1 891.1 1164 877.8ZM1164 877.8L1181.1 891.1 1194.5 883.5 1177.5 870.3ZM1177.5 870.3L1194.5 883.5 1207.9 875.9 1190.9 862.9ZM1190.9 862.9L1207.9 875.9 1221.2 868.5 1204.2 855.6ZM1204.2 855.6L1221.2 868.5 1234.4 861.2 1217.5 848.3ZM1217.5 848.3L1234.4 861.2 1247.6 854 1230.7 841.2ZM1230.7 841.2L1247.6 854 1260.8 846.9 1243.8 834.1ZM1243.8 834.1L1260.8 846.9 1273.8 839.8 1256.9 827.2ZM1256.9 827.2L1273.8 839.8 1286.8 832.9 1269.9 820.3ZM1269.9 820.3L1286.8 832.9 1299.7 826.1 1282.9 813.5ZM1282.9 813.5L1299.7 826.1 1312.6 819.4 1295.8 806.8ZM1295.8 806.8L1312.6 819.4 1325.4 812.8 1308.6 800.2ZM1308.6 800.2L1325.4 812.8 1338.2 806.3 1321.4 793.7ZM1321.4 793.7L1338.2 806.3 1350.9 799.8 1334.1 787.3ZM1334.1 787.3L1350.9 799.8 1363.5 793.5 1346.8 781ZM1346.8 781L1363.5 793.5 1376.1 787.3 1359.4 774.8ZM1359.4 774.8L1376.1 787.3 1388.6 781.2 1371.9 768.6ZM1371.9 768.6L1388.6 781.2 1401 775.2 1384.4 762.6ZM1384.4 762.6L1401 775.2 1413.4 769.2 1396.8 756.6ZM1396.8 756.6L1413.4 769.2 1425.8 763.4 1409.2 750.8ZM1409.2 750.8L1425.8 763.4 1438 757.7 1421.5 745ZM1421.5 745L1438 757.7 1450.2 752.1 1433.7 739.3ZM1433.7 739.3L1450.2 752.1 1462.4 746.5 1445.9 733.7ZM1445.9 733.7L1462.4 746.5 1474.5 741.1 1458 728.2ZM1458 728.2L1474.5 741.1 1486.5 735.7 1470.1 722.7ZM1470.1 722.7L1486.5 735.7 1498.5 730.5 1482.1 717.4ZM1482.1 717.4L1498.5 730.5 1510.4 725.3 1494 712.1ZM1494 712.1L1510.4 725.3 1522.3 720.3 1505.9 707ZM1505.9 707L1522.3 720.3 1534.1 715.3 1517.8 701.9ZM1517.8 701.9L1534.1 715.3 1545.9 710.5 1529.5 696.9ZM1529.5 696.9L1545.9 710.5 1557.6 705.7 1541.3 692ZM1541.3 692L1557.6 705.7 1569.2 701 1552.9 687.2ZM1552.9 687.2L1569.2 701 1580.8 696.4 1564.5 682.4ZM1564.5 682.4L1580.8 696.4 1592.3 692 1576.1 677.8ZM1029.1 981.9L1046.4 997.2 1060.5 988.2 1043.2 973.2ZM1043.2 973.2L1060.5 988.2 1074.6 979.3 1057.3 964.5ZM1057.3 964.5L1074.6 979.3 1088.6 970.5 1071.3 955.9ZM1071.3 955.9L1088.6 970.5 1102.5 961.9 1085.3 947.4ZM1085.3 947.4L1102.5 961.9 1116.4 953.3 1099.1 939.1ZM1099.1 939.1L1116.4 953.3 1130.2 944.9 1113 930.8ZM1113 930.8L1130.2 944.9 1143.9 936.6 1126.7 922.7ZM1126.7 922.7L1143.9 936.6 1157.6 928.4 1140.4 914.6ZM1140.4 914.6L1157.6 928.4 1171.2 920.3 1154 906.7ZM1154 906.7L1171.2 920.3 1184.7 912.4 1167.6 898.8ZM1167.6 898.8L1184.7 912.4 1198.2 904.5 1181.1 891.1ZM1181.1 891.1L1198.2 904.5 1211.6 896.8 1194.5 883.5ZM1194.5 883.5L1211.6 896.8 1224.9 889.2 1207.9 875.9ZM1207.9 875.9L1224.9 889.2 1238.2 881.7 1221.2 868.5ZM1221.2 868.5L1238.2 881.7 1251.4 874.3 1234.4 861.2ZM1234.4 861.2L1251.4 874.3 1264.6 867 1247.6 854ZM1247.6 854L1264.6 867 1277.7 859.8 1260.8 846.9ZM1260.8 846.9L1277.7 859.8 1290.7 852.7 1273.8 839.8ZM1273.8 839.8L1290.7 852.7 1303.7 845.7 1286.8 832.9ZM1286.8 832.9L1303.7 845.7 1316.6 838.9 1299.7 826.1ZM1299.7 826.1L1316.6 838.9 1329.5 832.2 1312.6 819.4ZM1312.6 819.4L1329.5 832.2 1342.3 825.5 1325.4 812.8ZM1325.4 812.8L1342.3 825.5 1355 819 1338.2 806.3ZM1338.2 806.3L1355 819 1367.7 812.6 1350.9 799.8ZM1350.9 799.8L1367.7 812.6 1380.3 806.3 1363.5 793.5ZM1363.5 793.5L1380.3 806.3 1392.8 800.1 1376.1 787.3ZM1376.1 787.3L1392.8 800.1 1405.3 794 1388.6 781.2ZM1388.6 781.2L1405.3 794 1417.7 788 1401 775.2ZM1401 775.2L1417.7 788 1430.1 782.1 1413.4 769.2ZM1413.4 769.2L1430.1 782.1 1442.4 776.4 1425.8 763.4ZM1425.8 763.4L1442.4 776.4 1454.6 770.7 1438 757.7ZM1438 757.7L1454.6 770.7 1466.8 765.1 1450.2 752.1ZM1450.2 752.1L1466.8 765.1 1479 759.7 1462.4 746.5ZM1462.4 746.5L1479 759.7 1491 754.3 1474.5 741.1ZM1474.5 741.1L1491 754.3 1503 749.1 1486.5 735.7ZM1486.5 735.7L1503 749.1 1515 743.9 1498.5 730.5ZM1498.5 730.5L1515 743.9 1526.9 738.9 1510.4 725.3ZM1510.4 725.3L1526.9 738.9 1538.7 734 1522.3 720.3ZM1522.3 720.3L1538.7 734 1550.5 729.1 1534.1 715.3ZM1534.1 715.3L1550.5 729.1 1562.2 724.4 1545.9 710.5ZM1545.9 710.5L1562.2 724.4 1573.9 719.8 1557.6 705.7ZM1557.6 705.7L1573.9 719.8 1585.5 715.2 1569.2 701ZM1046.4 997.2L1063.8 1012.5 1077.9 1003.3 1060.5 988.2ZM1060.5 988.2L1077.9 1003.3 1091.9 994.2 1074.6 979.3ZM1074.6 979.3L1091.9 994.2 1105.9 985.3 1088.6 970.5ZM1088.6 970.5L1105.9 985.3 1119.8 976.4 1102.5 961.9ZM1102.5 961.9L1119.8 976.4 1133.6 967.7 1116.4 953.3ZM1116.4 953.3L1133.6 967.7 1147.4 959.2 1130.2 944.9ZM1130.2 944.9L1147.4 959.2 1161.1 950.7 1143.9 936.6ZM1143.9 936.6L1161.1 950.7 1174.8 942.4 1157.6 928.4ZM1157.6 928.4L1174.8 942.4 1188.3 934.2 1171.2 920.3ZM1171.2 920.3L1188.3 934.2 1201.9 926.1 1184.7 912.4ZM1184.7 912.4L1201.9 926.1 1215.3 918.1 1198.2 904.5ZM1198.2 904.5L1215.3 918.1 1228.7 910.3 1211.6 896.8ZM1211.6 896.8L1228.7 910.3 1242 902.6 1224.9 889.2ZM1224.9 889.2L1242 902.6 1255.3 895 1238.2 881.7ZM1238.2 881.7L1255.3 895 1268.5 887.5 1251.4 874.3ZM1251.4 874.3L1268.5 887.5 1281.6 880.1 1264.6 867ZM1264.6 867L1281.6 880.1 1294.7 872.9 1277.7 859.8ZM1277.7 859.8L1294.7 872.9 1307.7 865.8 1290.7 852.7ZM1290.7 852.7L1307.7 865.8 1320.7 858.8 1303.7 845.7ZM1303.7 845.7L1320.7 858.8 1333.6 851.9 1316.6 838.9ZM1316.6 838.9L1333.6 851.9 1346.4 845.2 1329.5 832.2ZM1329.5 832.2L1346.4 845.2 1359.1 838.5 1342.3 825.5ZM1342.3 825.5L1359.1 838.5 1371.9 832 1355 819ZM1355 819L1371.9 832 1384.5 825.6 1367.7 812.6ZM1367.7 812.6L1384.5 825.6 1397.1 819.3 1380.3 806.3ZM1380.3 806.3L1397.1 819.3 1409.6 813.1 1392.8 800.1ZM1392.8 800.1L1409.6 813.1 1422.1 807.1 1405.3 794ZM1405.3 794L1422.1 807.1 1434.5 801.1 1417.7 788ZM1417.7 788L1434.5 801.1 1446.8 795.3 1430.1 782.1ZM1430.1 782.1L1446.8 795.3 1459.1 789.6 1442.4 776.4ZM1442.4 776.4L1459.1 789.6 1471.3 784 1454.6 770.7ZM1454.6 770.7L1471.3 784 1483.5 778.5 1466.8 765.1ZM1466.8 765.1L1483.5 778.5 1495.6 773.1 1479 759.7ZM1479 759.7L1495.6 773.1 1507.6 767.9 1491 754.3ZM1491 754.3L1507.6 767.9 1519.6 762.7 1503 749.1ZM1503 749.1L1519.6 762.7 1531.5 757.7 1515 743.9ZM1515 743.9L1531.5 757.7 1543.4 752.8 1526.9 738.9ZM1526.9 738.9L1543.4 752.8 1555.2 747.9 1538.7 734ZM1538.7 734L1555.2 747.9 1566.9 743.2 1550.5 729.1ZM1550.5 729.1L1566.9 743.2 1578.6 738.7 1562.2 724.4ZM1063.8 1012.5L1081.3 1027.9 1095.3 1018.5 1077.9 1003.3ZM1077.9 1003.3L1095.3 1018.5 1109.3 1009.2 1091.9 994.2ZM1091.9 994.2L1109.3 1009.2 1123.3 1000.1 1105.9 985.3ZM1105.9 985.3L1123.3 1000.1 1137.2 991.1 1119.8 976.4ZM1119.8 976.4L1137.2 991.1 1151 982.2 1133.6 967.7ZM1133.6 967.7L1151 982.2 1164.7 973.5 1147.4 959.2ZM1147.4 959.2L1164.7 973.5 1178.4 964.9 1161.1 950.7ZM1161.1 950.7L1178.4 964.9 1192 956.5 1174.8 942.4ZM1174.8 942.4L1192 956.5 1205.6 948.1 1188.3 934.2ZM1188.3 934.2L1205.6 948.1 1219.1 939.9 1201.9 926.1ZM1201.9 926.1L1219.1 939.9 1232.5 931.9 1215.3 918.1ZM1215.3 918.1L1232.5 931.9 1245.9 923.9 1228.7 910.3ZM1228.7 910.3L1245.9 923.9 1259.2 916.1 1242 902.6ZM1242 902.6L1259.2 916.1 1272.4 908.5 1255.3 895ZM1255.3 895L1272.4 908.5 1285.6 900.9 1268.5 887.5ZM1268.5 887.5L1285.6 900.9 1298.7 893.5 1281.6 880.1ZM1281.6 880.1L1298.7 893.5 1311.7 886.2 1294.7 872.9ZM1294.7 872.9L1311.7 886.2 1324.7 879.1 1307.7 865.8ZM1307.7 865.8L1324.7 879.1 1337.7 872 1320.7 858.8ZM1320.7 858.8L1337.7 872 1350.5 865.2 1333.6 851.9ZM1333.6 851.9L1350.5 865.2 1363.3 858.4 1346.4 845.2ZM1346.4 845.2L1363.3 858.4 1376.1 851.7 1359.1 838.5ZM1359.1 838.5L1376.1 851.7 1388.7 845.2 1371.9 832ZM1371.9 832L1388.7 845.2 1401.4 838.8 1384.5 825.6ZM1384.5 825.6L1401.4 838.8 1413.9 832.6 1397.1 819.3ZM1397.1 819.3L1413.9 832.6 1426.4 826.4 1409.6 813.1ZM1409.6 813.1L1426.4 826.4 1438.9 820.4 1422.1 807.1ZM1422.1 807.1L1438.9 820.4 1451.2 814.5 1434.5 801.1ZM1434.5 801.1L1451.2 814.5 1463.5 808.7 1446.8 795.3ZM1446.8 795.3L1463.5 808.7 1475.8 803.1 1459.1 789.6ZM1459.1 789.6L1475.8 803.1 1488 797.6 1471.3 784ZM1471.3 784L1488 797.6 1500.1 792.2 1483.5 778.5ZM1483.5 778.5L1500.1 792.2 1512.2 786.9 1495.6 773.1ZM1495.6 773.1L1512.2 786.9 1524.2 781.7 1507.6 767.9ZM1507.6 767.9L1524.2 781.7 1536.2 776.7 1519.6 762.7ZM1519.6 762.7L1536.2 776.7 1548.1 771.8 1531.5 757.7ZM1095.3 1018.5L1112.8 1033.8 1126.8 1024.3 1109.3 1009.2ZM1109.3 1009.2L1126.8 1024.3 1140.7 1015 1123.3 1000.1ZM1123.3 1000.1L1140.7 1015 1154.5 1005.9 1137.2 991.1ZM1137.2 991.1L1154.5 1005.9 1168.3 996.9 1151 982.2ZM1151 982.2L1168.3 996.9 1182.1 988 1164.7 973.5ZM1164.7 973.5L1182.1 988 1195.7 979.3 1178.4 964.9ZM1178.4 964.9L1195.7 979.3 1209.3 970.7 1192 956.5ZM1192 956.5L1209.3 970.7 1222.8 962.2 1205.6 948.1ZM1205.6 948.1L1222.8 962.2 1236.3 953.9 1219.1 939.9ZM1219.1 939.9L1236.3 953.9 1249.7 945.8 1232.5 931.9ZM1232.5 931.9L1249.7 945.8 1263.1 937.8 1245.9 923.9ZM1245.9 923.9L1263.1 937.8 1276.3 929.9 1259.2 916.1ZM1259.2 916.1L1276.3 929.9 1289.6 922.1 1272.4 908.5ZM1272.4 908.5L1289.6 922.1 1302.7 914.5 1285.6 900.9ZM1285.6 900.9L1302.7 914.5 1315.8 907.1 1298.7 893.5ZM1298.7 893.5L1315.8 907.1 1328.8 899.8 1311.7 886.2ZM1311.7 886.2L1328.8 899.8 1341.8 892.6 1324.7 879.1ZM1324.7 879.1L1341.8 892.6 1354.7 885.5 1337.7 872ZM1337.7 872L1354.7 885.5 1367.5 878.6 1350.5 865.2ZM1350.5 865.2L1367.5 878.6 1380.3 871.8 1363.3 858.4ZM1363.3 858.4L1380.3 871.8 1393 865.2 1376.1 851.7ZM1376.1 851.7L1393 865.2 1405.7 858.7 1388.7 845.2ZM1388.7 845.2L1405.7 858.7 1418.3 852.3 1401.4 838.8ZM1401.4 838.8L1418.3 852.3 1430.8 846.1 1413.9 832.6ZM1413.9 832.6L1430.8 846.1 1443.3 840 1426.4 826.4ZM1426.4 826.4L1443.3 840 1455.7 834 1438.9 820.4ZM1438.9 820.4L1455.7 834 1468 828.2 1451.2 814.5ZM1451.2 814.5L1468 828.2 1480.3 822.5 1463.5 808.7ZM1463.5 808.7L1480.3 822.5 1492.5 816.9 1475.8 803.1ZM1222.8 962.2L1240.2 976.5 1253.6 968.1 1236.3 953.9ZM1236.3 953.9L1253.6 968.1 1267 959.8 1249.7 945.8ZM1249.7 945.8L1267 959.8 1280.3 951.7 1263.1 937.8ZM1263.1 937.8L1280.3 951.7 1293.6 943.8 1276.3 929.9ZM1276.3 929.9L1293.6 943.8 1306.8 936 1289.6 922.1ZM1289.6 922.1L1306.8 936 1319.9 928.3 1302.7 914.5ZM1302.7 914.5L1319.9 928.3 1332.9 920.8 1315.8 907.1ZM1315.8 907.1L1332.9 920.8 1345.9 913.5 1328.8 899.8ZM1328.8 899.8L1345.9 913.5 1358.9 906.3 1341.8 892.6ZM1341.8 892.6L1358.9 906.3 1371.8 899.2 1354.7 885.5ZM1354.7 885.5L1371.8 899.2 1384.6 892.3 1367.5 878.6ZM1367.5 878.6L1384.6 892.3 1397.3 885.5 1380.3 871.8ZM1380.3 871.8L1397.3 885.5 1410 878.9 1393 865.2ZM1393 865.2L1410 878.9 1422.7 872.4 1405.7 858.7Z"/>
<path fill="#01ff01" stroke="#01ff01" d="M818.4 448.6L832.8 449.3 845.4 445.3 831.1 444.8ZM820 452.9L834.5 454.1 847.2 450.2 832.8 449.3Z"/>
<path fill="#03ff03" stroke="#03ff03" d="M831.1 444.8L845.4 445.3 858 441.2 843.7 440.8ZM832.8 449.3L847.2 450.2 859.9 446.2 845.4 445.3Z"/>
<path fill="#06ff06" stroke="#06ff06" d="M843.7 440.8L858 441.2 870.6 436.7 856.2 436.5ZM845.4 445.3L859.9 446.2 872.5 441.8 858 441.2ZM847.2 450.2L861.8 451.5 874.4 447.3 859.9 446.2Z"/>
<path fill="#0aff0a" stroke="#0aff0a" d="M856.2 436.5L870.6 436.7 883.1 432.1 868.7 431.9ZM858 441.2L872.5 441.8 885 437.3 870.6 436.7ZM859.9 446.2L874.4 447.3 887 442.8 872.5 441.8Z"/>
<path fill="#0eff0e" stroke="#0eff0e" d="M868.7 431.9L883.1 432.1 895.5 427.2 881.1 427.2ZM870.6 436.7L885 437.3 897.5 432.5 883.1 432.1ZM872.5 441.8L887 442.8 899.5 438.1 885 437.3Z"/>
<path fill="#13ff13" stroke="#13ff13" d="M881.1 427.2L895.5 427.2 907.9 422 893.5 422.1ZM883.1 432.1L897.5 432.5 909.9 427.4 895.5 427.2ZM885 437.3L899.5 438.1 912 433.2 897.5 432.5Z"/>
<path fill="#17ff17" stroke="#17ff17" d="M893.5 422.1L907.9 422 920.2 416.6 905.8 416.8ZM895.5 427.2L909.9 427.4 922.3 422.2 907.9 422ZM897.5 432.5L912 433.2 924.4 428 909.9 427.4ZM899.5 438.1L914.1 439.2 926.5 434.2 912 433.2Z"/>
<path fill="#1bff1b" stroke="#1bff1b" d="M905.8 416.8L920.2 416.6 932.4 410.9 918.1 411.3ZM912 433.2L926.5 434.2 938.9 428.9 924.4 428Z"/>
<path fill="#1fff1f" stroke="#1fff1f" d="M918.1 411.3L932.4 410.9 944.6 405 930.3 405.5Z"/>
<path fill="#23ff23" stroke="#23ff23" d="M930.3 405.5L944.6 405 956.8 398.9 942.5 399.4Z"/>
<path fill="#26ff26" stroke="#26ff26" d="M942.5 399.4L956.8 398.9 968.9 392.5 954.6 393.1Z"/>
<path fill="#29ff29" stroke="#29ff29" d="M954.6 393.1L968.9 392.5 980.9 385.9 966.6 386.6Z"/>
<path fill="#2bff2b" stroke="#2bff2b" d="M966.6 386.6L980.9 385.9 992.9 379.1 978.6 379.8ZM959 404.9L973.5 405.1 985.6 398.8 971.1 398.7ZM961.3 411.2L975.8 411.8 988 405.6 973.5 405.1Z"/>
<path fill="#2eff2e" stroke="#2eff2e" d="M978.6 379.8L992.9 379.1 1004.8 372 990.5 372.8ZM971.1 398.7L985.6 398.8 997.7 392.3 983.2 392.2Z"/>
<path fill="#30ff30" stroke="#30ff30" d="M990.5 372.8L1004.8 372 1016.7 364.7 1002.4 365.5ZM983.2 392.2L997.7 392.3 1009.7 385.6 995.3 385.6Z"/>
<path fill="#31ff31" stroke="#31ff31" d="M1002.4 365.5L1016.7 364.7 1028.6 357.1 1014.3 358ZM992.9 379.1L1007.2 378.7 1019.2 371.5 1004.8 372Z"/>
<path fill="#33ff33" stroke="#33ff33" d="M1014.3 358L1028.6 357.1 1040.4 349.3 1026.1 350.3ZM1004.8 372L1019.2 371.5 1031.1 364.2 1016.7 364.7Z"/>
<path fill="#39ff34" stroke="#39ff34" d="M1026.1 350.3L1040.4 349.3 1052.1 341.3 1037.8 342.3ZM1007.2 378.7L1021.7 378.6 1033.6 371.4 1019.2 371.5Z"/>
<path fill="#44ff35" stroke="#44ff35" d="M1037.8 342.3L1052.1 341.3 1063.8 333.1 1049.5 334.1Z"/>
<path fill="#50ff36" stroke="#50ff36" d="M1049.5 334.1L1063.8 333.1 1075.5 324.6 1061.2 325.6ZM1024.2 385.9L1038.7 386.5 1050.7 379.5 1036.1 378.9Z"/>
<path fill="#5eff36" stroke="#5eff36" d="M1061.2 325.6L1075.5 324.6 1087.1 316 1072.8 316.9Z"/>
<path fill="#6eff37" stroke="#6eff37" d="M1072.8 316.9L1087.1 316 1098.6 307 1084.4 308Z"/>
<path fill="#7fff37" stroke="#7fff37" d="M1084.4 308L1098.6 307 1110.2 297.9 1095.9 298.9Z"/>
<path fill="#8bff37" stroke="#8bff37" d="M1095.9 298.9L1110.2 297.9 1121.7 288.5 1107.4 289.5Z"/>
<path fill="#95ff37" stroke="#95ff37" d="M1107.4 289.5L1121.7 288.5 1133.1 279 1118.9 279.9ZM1169 397.1L1184 400.9 1195.9 393.6 1180.9 389.7Z"/>
<path fill="#d72b00" stroke="#d72b00" d="M339.3 410.8L354.8 423 370.6 428.9 355.1 417.2Z"/>
<path fill="#db3a00" stroke="#db3a00" d="M355.1 417.2L370.6 428.9 386.2 434.4 370.7 423.2Z"/>
<path fill="#de4a00" stroke="#de4a00" d="M370.7 423.2L386.2 434.4 401.6 439.7 386.3 428.9Z"/>
<path fill="#e15a00" stroke="#e15a00" d="M386.3 428.9L401.6 439.7 417 444.5 401.7 434.3Z"/>
<path fill="#e56a00" stroke="#e56a00" d="M401.7 434.3L417 444.5 432.3 449.1 417 439.3Z"/>
<path fill="#e87900" stroke="#e87900" d="M417 439.3L432.3 449.1 447.4 453.3 432.2 444Z"/>
<path fill="#eb8900" stroke="#eb8900" d="M432.2 444L447.4 453.3 462.5 457.3 447.3 448.3Z"/>
<path fill="#ee9900" stroke="#ee9900" d="M447.3 448.3L462.5 457.3 477.4 460.9 462.2 452.4Z"/>
<path fill="#f1a800" stroke="#f1a800" d="M462.2 452.4L477.4 460.9 492.2 464.2 477.1 456.1Z"/>
<path fill="#f4b700" stroke="#f4b700" d="M477.1 456.1L492.2 464.2 507 467.2 491.9 459.5Z"/>
<path fill="#f7c600" stroke="#f7c600" d="M491.9 459.5L507 467.2 521.6 469.9 506.6 462.5Z"/>
<path fill="#f9d500" stroke="#f9d500" d="M506.6 462.5L521.6 469.9 536.1 472.3 521.1 465.3Z"/>
<path fill="#fce400" stroke="#fce400" d="M521.1 465.3L536.1 472.3 550.6 474.3 535.6 467.8Z"/>
<path fill="#fef200" stroke="#fef200" d="M535.6 467.8L550.6 474.3 564.9 476.1 550 469.9Z"/>
<path fill="#fffe00" stroke="#fffe00" d="M550 469.9L564.9 476.1 579.2 477.6 564.3 471.8ZM644.8 542.3L660.4 551.3 674.7 550.4 659.1 541.8Z"/>
<path fill="#f4ff00" stroke="#f4ff00" d="M564.3 471.8L579.2 477.6 593.3 478.9 578.5 473.3ZM657.9 532.8L673.4 541 687.5 540.1 672.1 532.2ZM676 560.4L691.7 569.6 705.9 568.2 690.3 559.2Z"/>
<path fill="#e9ff00" stroke="#e9ff00" d="M578.5 473.3L593.3 478.9 607.4 479.8 592.6 474.6Z"/>
<path fill="#b5ff00" stroke="#b5ff00" d="M634.4 476.6L649.1 480.9 662.9 480.7 648.1 476.7ZM708.7 500L723.7 505.2 737.3 503.7 722.3 498.7Z"/>
<path fill="#a6ff00" stroke="#a6ff00" d="M648.1 476.7L662.9 480.7 676.5 480.2 661.8 476.5ZM767.5 514.2L782.6 519.8 796.1 517.3 781 512ZM799.7 534.2L815 540.6 828.5 537.6 813.2 531.5ZM816.9 550.2L832.4 557.2 845.9 553.9 830.4 547.2ZM740.7 735.2L757.3 749.1 771.9 744.7 755.4 731.1Z"/>
<path fill="#97ff00" stroke="#97ff00" d="M661.8 476.5L676.5 480.2 690.1 479.5 675.4 476Z"/>
<path fill="#89ff00" stroke="#89ff00" d="M675.4 476L690.1 479.5 703.6 478.5 688.9 475.3ZM762.8 493.5L777.7 497.7 791 495.3 776.1 491.2ZM838 516.9L853.2 522.2 866.5 518.8 851.3 513.6ZM883.6 603.1L899.5 611.6 913 607.4 897.2 599.1Z"/>
<path fill="#7cff00" stroke="#7cff00" d="M688.9 475.3L703.6 478.5 717 477.2 702.4 474.2ZM834.2 501L849.3 505.5 862.4 502 847.4 497.7ZM849.3 505.5L864.4 510.2 877.6 506.6 862.4 502ZM864.4 510.2L879.6 515.1 892.7 511.3 877.6 506.6ZM917 556.3L932.6 563.1 945.8 558.7 930.2 552.1Z"/>
<path fill="#70ff00" stroke="#70ff00" d="M702.4 474.2L717 477.2 730.3 475.7 715.7 472.9ZM875.5 498.4L890.6 502.8 903.6 498.8 888.5 494.6ZM906.6 652.2L922.7 662 936.3 657.3 920.2 647.6Z"/>
<path fill="#65ff00" stroke="#65ff00" d="M715.7 472.9L730.3 475.7 743.6 473.9 729 471.4ZM758.3 476.6L773 479.6 786.1 477.1 771.4 474.3ZM800.9 480L815.7 483.2 828.7 480.1 813.9 477.1ZM843.6 483.4L858.5 486.9 871.5 483.2 856.6 479.9ZM979.6 584.8L995.4 592.5 1008.5 587.6 992.7 580ZM969 602.1L984.9 610.3 998.1 605.4 982.2 597.4ZM922.7 662L938.9 672.1 952.5 667.1 936.3 657.3ZM872.1 712.1L888.5 723.8 902.5 718.7 886.1 707.3Z"/>
<path fill="#51ff00" stroke="#51ff00" d="M729 471.4L743.6 473.9 756.8 471.8 742.2 469.5ZM1008.5 587.6L1024.3 595.3 1037.4 590.2 1021.6 582.5ZM874.4 728.9L890.9 740.9 905 735.6 888.5 723.8Z"/>
<path fill="#3eff00" stroke="#3eff00" d="M742.2 469.5L756.8 471.8 769.9 469.5 755.4 467.4ZM1014 613.7L1030 622.1 1043.1 616.9 1027.1 608.5ZM1410.5 433.2L1426 442 1437.5 435.3 1422 426.3ZM1471.5 414.8L1487 424.6 1498.2 417.9 1482.8 407.9Z"/>
<path fill="#2dff00" stroke="#2dff00" d="M755.4 467.4L769.9 469.5 783 466.9 768.5 465ZM1088.9 568.8L1104.7 576.3 1117.4 570.6 1101.6 563.2ZM1030 622.1L1046 630.8 1059.1 625.4 1043.1 616.9ZM1375.8 453.6L1391.4 462.1 1403 455.4 1387.4 446.9Z"/>
<path fill="#1fff00" stroke="#1fff00" d="M768.5 465L783 466.9 796 464.1 781.5 462.4ZM1117.4 570.6L1133.2 578.3 1145.8 572.6 1130 565ZM971.4 692.6L987.7 703.1 1001.2 697.6 984.9 687.3ZM932.8 724.9L949.3 736.4 963.1 730.7 946.6 719.5Z"/>
<path fill="#08ff00" stroke="#08ff00" d="M794.4 459.5L808.9 461 821.7 457.7 807.2 456.4ZM1136.4 592L1152.3 600.3 1165 594.5 1149.1 586.3ZM1320.8 501.1L1336.5 509.4 1348.4 503.1 1332.7 494.7ZM1038.6 665.5L1054.8 675.3 1068 669.6 1051.8 660Z"/>
<path fill="#1cff1c" stroke="#1cff1c" d="M907.9 422L922.3 422.2 934.6 416.6 920.2 416.6ZM909.9 427.4L924.4 428 936.7 422.6 922.3 422.2Z"/>
<path fill="#20ff20" stroke="#20ff20" d="M920.2 416.6L934.6 416.6 946.8 410.9 932.4 410.9ZM922.3 422.2L936.7 422.6 949 417 934.6 416.6ZM924.4 428L938.9 428.9 951.3 423.4 936.7 422.6Z"/>
<path fill="#24ff24" stroke="#24ff24" d="M932.4 410.9L946.8 410.9 959 404.9 944.6 405ZM934.6 416.6L949 417 961.3 411.2 946.8 410.9ZM936.7 422.6L951.3 423.4 963.6 417.7 949 417Z"/>
<path fill="#27ff27" stroke="#27ff27" d="M944.6 405L959 404.9 971.1 398.7 956.8 398.9Z"/>
<path fill="#2aff2a" stroke="#2aff2a" d="M956.8 398.9L971.1 398.7 983.2 392.2 968.9 392.5Z"/>
<path fill="#2dff2d" stroke="#2dff2d" d="M968.9 392.5L983.2 392.2 995.3 385.6 980.9 385.9Z"/>
<path fill="#2fff2f" stroke="#2fff2f" d="M980.9 385.9L995.3 385.6 1007.2 378.7 992.9 379.1Z"/>
<path fill="#38ff34" stroke="#38ff34" d="M1016.7 364.7L1031.1 364.2 1042.9 356.6 1028.6 357.1Z"/>
<path fill="#42ff35" stroke="#42ff35" d="M1028.6 357.1L1042.9 356.6 1054.7 348.8 1040.4 349.3Z"/>
<path fill="#4cff36" stroke="#4cff36" d="M1040.4 349.3L1054.7 348.8 1066.4 340.8 1052.1 341.3Z"/>
<path fill="#56ff37" stroke="#56ff37" d="M1052.1 341.3L1066.4 340.8 1078.1 332.5 1063.8 333.1Z"/>
<path fill="#64ff37" stroke="#64ff37" d="M1063.8 333.1L1078.1 332.5 1089.8 324 1075.5 324.6Z"/>
<path fill="#73ff38" stroke="#73ff38" d="M1075.5 324.6L1089.8 324 1101.4 315.4 1087.1 316ZM1065.3 380.5L1079.9 381.8 1091.8 374.5 1077.2 373.2Z"/>
<path fill="#83ff38" stroke="#83ff38" d="M1087.1 316L1101.4 315.4 1113 306.4 1098.6 307Z"/>
<path fill="#8dff38" stroke="#8dff38" d="M1098.6 307L1113 306.4 1124.5 297.3 1110.2 297.9Z"/>
<path fill="#96ff38" stroke="#96ff38" d="M1110.2 297.9L1124.5 297.3 1136 288 1121.7 288.5ZM1113 306.4L1127.4 306.2 1138.9 297.1 1124.5 297.3ZM1124.4 342.1L1139 343.4 1150.7 335.2 1136 333.9ZM1127.3 351.4L1141.9 353.1 1153.7 345.1 1139 343.4ZM1151 383.2L1165.9 386.3 1177.7 378.8 1162.8 375.7Z"/>
<path fill="#a0ff38" stroke="#a0ff38" d="M1121.7 288.5L1136 288 1147.4 278.4 1133.1 279ZM1174.6 368.1L1189.5 371.2 1201.2 363.4 1186.3 360.3Z"/>
<path fill="#da3400" stroke="#da3400" d="M354.8 423L370.4 435.2 386.1 440.6 370.6 428.9Z"/>
<path fill="#de4400" stroke="#de4400" d="M370.6 428.9L386.1 440.6 401.6 445.7 386.2 434.4Z"/>
<path fill="#e15300" stroke="#e15300" d="M386.2 434.4L401.6 445.7 417.1 450.4 401.6 439.7Z"/>
<path fill="#e46300" stroke="#e46300" d="M401.6 439.7L417.1 450.4 432.4 454.9 417 444.5Z"/>
<path fill="#e77200" stroke="#e77200" d="M417 444.5L432.4 454.9 447.6 459 432.3 449.1Z"/>
<path fill="#eb8100" stroke="#eb8100" d="M432.3 449.1L447.6 459 462.7 462.8 447.4 453.3Z"/>
<path fill="#ee9100" stroke="#ee9100" d="M447.4 453.3L462.7 462.8 477.7 466.3 462.5 457.3Z"/>
<path fill="#f1a000" stroke="#f1a000" d="M462.5 457.3L477.7 466.3 492.6 469.5 477.4 460.9Z"/>
<path fill="#f3af00" stroke="#f3af00" d="M477.4 460.9L492.6 469.5 507.4 472.4 492.2 464.2Z"/>
<path fill="#f6be00" stroke="#f6be00" d="M492.2 464.2L507.4 472.4 522.1 475 507 467.2Z"/>
<path fill="#f9cc00" stroke="#f9cc00" d="M507 467.2L522.1 475 536.7 477.3 521.6 469.9Z"/>
<path fill="#fcdb00" stroke="#fcdb00" d="M521.6 469.9L536.7 477.3 551.2 479.3 536.1 472.3ZM593.1 613.5L609.4 626.7 624.3 625.5 608.1 612.7Z"/>
<path fill="#fee900" stroke="#fee900" d="M536.1 472.3L551.2 479.3 565.6 481.1 550.6 474.3Z"/>
<path fill="#fff500" stroke="#fff500" d="M550.6 474.3L565.6 481.1 579.9 482.5 564.9 476.1ZM637.8 610.6L653.9 622.7 668.6 621 652.5 609.3Z"/>
<path fill="#fdff00" stroke="#fdff00" d="M564.9 476.1L579.9 482.5 594.1 483.7 579.2 477.6ZM627.2 516.8L642.5 524.8 656.7 524.5 641.4 516.9ZM643.7 533.2L659.1 541.8 673.4 541 657.9 532.8Z"/>
<path fill="#f2ff00" stroke="#f2ff00" d="M579.2 477.6L594.1 483.7 608.2 484.6 593.3 478.9ZM674.7 550.4L690.3 559.2 704.5 557.9 688.9 549.4Z"/>
<path fill="#e8ff00" stroke="#e8ff00" d="M593.3 478.9L608.2 484.6 622.3 485.2 607.4 479.8ZM670.8 524L686.2 531.4 700.2 530.4 684.9 523.2ZM687.5 540.1L703 548.2 717 546.7 701.6 539ZM699.3 630.7L715.4 642.3 729.8 639.7 713.7 628.4ZM674.7 680.4L691.1 694 705.9 690.9 689.5 677.7Z"/>
<path fill="#deff00" stroke="#deff00" d="M607.4 479.8L622.3 485.2 636.3 485.5 621.4 480.4Z"/>
<path fill="#d4ff00" stroke="#d4ff00" d="M621.4 480.4L636.3 485.5 650.1 485.6 635.3 480.8ZM636.3 485.5L651.2 490.8 665 490.6 650.1 485.6ZM697.5 514.7L712.7 521.1 726.5 519.7 711.3 513.5ZM749.8 573.2L765.5 581.9 779.4 579.3 763.7 570.9ZM753.2 595.8L769 605.4 783 602.6 767.2 593.3ZM744.2 636.9L760.3 648 774.6 644.8 758.5 634.1Z"/>
<path fill="#c6ff00" stroke="#c6ff00" d="M635.3 480.8L650.1 485.6 663.9 485.4 649.1 480.9ZM726.5 519.7L741.8 526 755.5 524.1 740.3 518.1Z"/>
<path fill="#b6ff00" stroke="#b6ff00" d="M649.1 480.9L663.9 485.4 677.6 484.9 662.9 480.7ZM693.7 494.9L708.7 500 722.3 498.7 707.4 493.9ZM798.9 611.9L814.8 621.5 828.7 618 812.8 608.7ZM788.7 641.6L804.8 652.2 818.9 648.6 802.8 638.2Z"/>
<path fill="#a7ff00" stroke="#a7ff00" d="M662.9 480.7L677.6 484.9 691.3 484.2 676.5 480.2ZM752.4 508.8L767.5 514.2 781 512 765.9 506.8ZM826.7 605.4L842.6 614.4 856.3 610.8 840.5 602ZM816.9 634.7L832.9 644.8 846.8 641 830.8 631.1ZM780.4 689.7L796.7 701.8 811 697.7 794.7 685.9Z"/>
<path fill="#99ff00" stroke="#99ff00" d="M676.5 480.2L691.3 484.2 704.8 483.2 690.1 479.5ZM808.9 681.9L825.2 693.5 839.4 689.2 823.1 677.9Z"/>
<path fill="#8cff00" stroke="#8cff00" d="M690.1 479.5L704.8 483.2 718.3 481.9 703.6 478.5ZM855.3 531.2L870.6 537.2 883.9 533.5 868.5 527.8ZM874.8 557.3L890.4 564.3 903.7 560.3 888.2 553.6ZM879.2 579.3L894.9 587 908.3 583 892.6 575.4ZM837.2 673.8L853.4 684.8 867.4 680.4 851.2 669.7Z"/>
<path fill="#80ff00" stroke="#80ff00" d="M703.6 478.5L718.3 481.9 731.7 480.4 717 477.2ZM776.1 491.2L791 495.3 804.3 492.6 789.4 488.8ZM901.5 549.7L917 556.3 930.2 552.1 914.7 545.7ZM865.2 665.4L881.4 675.9 895.2 671.4 879 661.1Z"/>
<path fill="#74ff00" stroke="#74ff00" d="M717 477.2L731.7 480.4 745 478.6 730.3 475.7ZM832.4 493.6L847.4 497.7 860.5 494.2 845.5 490.3ZM937.4 586.4L953.2 594.1 966.4 589.5 950.7 581.9ZM855.7 700.6L872.1 712.1 886.1 707.3 869.7 696ZM829.6 726.4L846.1 738.9 860.3 733.9 843.8 721.7Z"/>
<path fill="#6aff00" stroke="#6aff00" d="M730.3 475.7L745 478.6 758.3 476.6 743.6 473.9ZM883.7 691.3L900 702.4 913.9 697.4 897.6 686.6ZM858 716.9L874.4 728.9 888.5 723.8 872.1 712.1Z"/>
<path fill="#5cff00" stroke="#5cff00" d="M743.6 473.9L758.3 476.6 771.4 474.3 756.8 471.8ZM971.6 615.2L987.5 623.7 1000.8 618.7 984.9 610.3ZM1406.6 417.8L1422 426.3 1433.4 419.4 1418 410.7Z"/>
<path fill="#4aff00" stroke="#4aff00" d="M756.8 471.8L771.4 474.3 784.5 471.8 769.9 469.5ZM848.4 756.6L865 769.6 879.3 764.1 862.7 751.4Z"/>
<path fill="#39ff00" stroke="#39ff00" d="M769.9 469.5L784.5 471.8 797.6 469 783 466.9ZM916.4 713.6L932.8 724.9 946.6 719.5 930.2 708.4Z"/>
<path fill="#2aff00" stroke="#2aff00" d="M783 466.9L797.6 469 810.6 466 796 464.1ZM1066.2 592.7L1082.1 600.7 1094.9 595.2 1079.1 587.3Z"/>
<path fill="#1eff00" stroke="#1eff00" d="M796 464.1L810.6 466 823.5 462.7 808.9 461ZM1403 455.4L1418.5 464.4 1430.1 457.9 1414.5 448.8ZM1009.1 661.4L1025.3 671 1038.6 665.5 1022.4 656Z"/>
<path fill="#14ff00" stroke="#14ff00" d="M808.9 461L823.5 462.7 836.3 459.2 821.7 457.7ZM1453 444.7L1468.5 454.4 1479.9 448 1464.3 438ZM960.4 714.1L976.8 725.1 990.5 719.5 974.1 708.6Z"/>
<path fill="#0bff00" stroke="#0bff00" d="M821.7 457.7L836.3 459.2 849.1 455.5 834.5 454.1ZM1332.7 494.7L1348.4 503.1 1360.2 496.7 1344.5 488.3ZM987.7 703.1L1004.1 713.8 1017.6 708.1 1001.2 697.6ZM881.7 782.6L898.4 795.8 912.6 789.8 895.9 776.9Z"/>
<path fill="#05ff02" stroke="#05ff02" d="M834.5 454.1L849.1 455.5 861.8 451.5 847.2 450.2Z"/>
<path fill="#28ff28" stroke="#28ff28" d="M946.8 410.9L961.3 411.2 973.5 405.1 959 404.9ZM949 417L963.6 417.7 975.8 411.8 961.3 411.2Z"/>
<path fill="#32ff32" stroke="#32ff32" d="M995.3 385.6L1009.7 385.6 1021.7 378.6 1007.2 378.7Z"/>
<path fill="#41ff35" stroke="#41ff35" d="M1019.2 371.5L1033.6 371.4 1045.5 364 1031.1 364.2Z"/>
<path fill="#4aff36" stroke="#4aff36" d="M1031.1 364.2L1045.5 364 1057.3 356.4 1042.9 356.6Z"/>
<path fill="#53ff37" stroke="#53ff37" d="M1042.9 356.6L1057.3 356.4 1069.1 348.6 1054.7 348.8Z"/>
<path fill="#5eff37" stroke="#5eff37" d="M1054.7 348.8L1069.1 348.6 1080.8 340.5 1066.4 340.8ZM1038.7 386.5L1053.3 387.5 1065.3 380.5 1050.7 379.5Z"/>
<path fill="#6aff38" stroke="#6aff38" d="M1066.4 340.8L1080.8 340.5 1092.5 332.3 1078.1 332.5Z"/>
<path fill="#78ff38" stroke="#78ff38" d="M1078.1 332.5L1092.5 332.3 1104.2 323.8 1089.8 324ZM1074.5 364.8L1089.1 365.7 1100.9 358 1086.3 357.1Z"/>
<path fill="#86ff38" stroke="#86ff38" d="M1089.8 324L1104.2 323.8 1115.8 315.1 1101.4 315.4ZM1091.8 374.5L1106.5 376.1 1118.4 368.6 1103.7 367Z"/>
<path fill="#8eff38" stroke="#8eff38" d="M1101.4 315.4L1115.8 315.1 1127.4 306.2 1113 306.4ZM1127.2 397.7L1142.1 400.8 1154 393.6 1139.1 390.5Z"/>
<path fill="#9fff38" stroke="#9fff38" d="M1124.5 297.3L1138.9 297.1 1150.4 287.8 1136 288ZM1127.4 306.2L1141.8 306.4 1153.3 297.4 1138.9 297.1ZM1130.2 315.3L1144.7 315.9 1156.3 307 1141.8 306.4ZM1156.7 355.1L1171.5 357.5 1183.2 349.5 1168.4 347.1Z"/>
<path fill="#a9ff38" stroke="#a9ff38" d="M1136 288L1150.4 287.8 1161.8 278.3 1147.4 278.4ZM1183.2 349.5L1198 352.3 1209.7 344.2 1194.8 341.4Z"/>
<path fill="#dd3e00" stroke="#dd3e00" d="M370.4 435.2L386.1 447.6 401.7 452.5 386.1 440.6Z"/>
<path fill="#e14d00" stroke="#e14d00" d="M386.1 440.6L401.7 452.5 417.2 457 401.6 445.7Z"/>
<path fill="#e45c00" stroke="#e45c00" d="M401.6 445.7L417.2 457 432.5 461.3 417.1 450.4Z"/>
<path fill="#e76b00" stroke="#e76b00" d="M417.1 450.4L432.5 461.3 447.8 465.3 432.4 454.9Z"/>
<path fill="#ea7b00" stroke="#ea7b00" d="M432.4 454.9L447.8 465.3 463 469 447.6 459Z"/>
<path fill="#ed8a00" stroke="#ed8a00" d="M447.6 459L463 469 478 472.4 462.7 462.8Z"/>
<path fill="#f09900" stroke="#f09900" d="M462.7 462.8L478 472.4 493 475.5 477.7 466.3Z"/>
<path fill="#f3a700" stroke="#f3a700" d="M477.7 466.3L493 475.5 507.8 478.2 492.6 469.5Z"/>
<path fill="#f6b600" stroke="#f6b600" d="M492.6 469.5L507.8 478.2 522.6 480.8 507.4 472.4Z"/>
<path fill="#f9c400" stroke="#f9c400" d="M507.4 472.4L522.6 480.8 537.2 483 522.1 475Z"/>
<path fill="#fbd300" stroke="#fbd300" d="M522.1 475L537.2 483 551.8 484.9 536.7 477.3Z"/>
<path fill="#fee100" stroke="#fee100" d="M536.7 477.3L551.8 484.9 566.3 486.6 551.2 479.3Z"/>
<path fill="#ffed00" stroke="#ffed00" d="M551.2 479.3L566.3 486.6 580.6 487.9 565.6 481.1ZM615.9 542.7L631.6 552.3 646 551.9 630.4 542.6Z"/>
<path fill="#fff800" stroke="#fff800" d="M565.6 481.1L580.6 487.9 594.9 489.1 579.9 482.5ZM596.6 501.4L611.9 509.1 626.1 509.4 610.9 502.1ZM639.1 624.2L655.3 636.7 670.1 634.8 653.9 622.7Z"/>
<path fill="#fbff00" stroke="#fbff00" d="M579.9 482.5L594.9 489.1 609.1 489.9 594.1 483.7ZM661.7 561.4L677.4 570.9 691.7 569.6 676 560.4Z"/>
<path fill="#f1ff00" stroke="#f1ff00" d="M594.1 483.7L609.1 489.9 623.2 490.4 608.2 484.6ZM656.7 524.5L672.1 532.2 686.2 531.4 670.8 524ZM683.2 619.2L699.3 630.7 713.7 628.4 697.7 617.2ZM671.6 649.3L687.9 662.1 702.5 659.5 686.3 647.1Z"/>
<path fill="#e6ff00" stroke="#e6ff00" d="M608.2 484.6L623.2 490.4 637.2 490.7 622.3 485.2ZM710.5 602.5L726.5 612.9 740.7 610.5 724.8 600.4Z"/>
<path fill="#ddff00" stroke="#ddff00" d="M622.3 485.2L637.2 490.7 651.2 490.8 636.3 485.5ZM700.2 530.4L715.6 537.7 729.5 536.1 714.1 529.1ZM728.1 626L744.2 636.9 758.5 634.1 742.4 623.4Z"/>
<path fill="#b7ff00" stroke="#b7ff00" d="M663.9 485.4L678.8 490.1 692.5 489.3 677.6 484.9ZM678.8 490.1L693.7 494.9 707.4 493.9 692.5 489.3ZM755.5 524.1L770.7 530.4 784.3 528 769.1 522ZM789.6 555.7L805.1 563.1 818.8 560.2 803.3 553ZM751.5 697.2L767.9 709.9 782.4 705.9 766 693.5Z"/>
<path fill="#a9ff00" stroke="#a9ff00" d="M677.6 484.9L692.5 489.3 706.1 488.3 691.3 484.2ZM692.5 489.3L707.4 493.9 720.9 492.7 706.1 488.3ZM722.3 498.7L737.3 503.7 750.8 501.9 735.9 497.2ZM737.3 503.7L752.4 508.8 765.9 506.8 750.8 501.9ZM820.7 570.8L836.4 578.6 850 575.2 834.4 567.6ZM822.7 581.8L838.4 590 852.1 586.6 836.4 578.6ZM824.7 593.4L840.5 602 854.2 598.4 838.4 590ZM804.8 652.2L821 662.9 835 659 818.9 648.6ZM792.7 670.5L808.9 681.9 823.1 677.9 806.9 666.8Z"/>
<path fill="#9bff00" stroke="#9bff00" d="M691.3 484.2L706.1 488.3 719.6 487.1 704.8 483.2ZM796.1 517.3L811.3 522.8 824.7 520 809.5 514.6Z"/>
<path fill="#8fff00" stroke="#8fff00" d="M704.8 483.2L719.6 487.1 733.1 485.6 718.3 481.9ZM857.3 540.7L872.7 547 886 543.3 870.6 537.2ZM870 607L885.9 615.7 899.5 611.6 883.6 603.1Z"/>
<path fill="#83ff00" stroke="#83ff00" d="M718.3 481.9L733.1 485.6 746.4 483.8 731.7 480.4ZM821 504L836.1 508.7 849.3 505.5 834.2 501ZM836.1 508.7L851.3 513.6 864.4 510.2 849.3 505.5ZM897.2 599.1L913 607.4 926.5 603.1 910.6 594.9ZM1448 373.1L1463.3 382 1474.6 374.7 1459.3 365.6ZM839.4 689.2L855.7 700.6 869.7 696 853.4 684.8Z"/>
<path fill="#6eff00" stroke="#6eff00" d="M745 478.6L759.7 481.8 773 479.6 758.3 476.6ZM958.9 554.3L974.5 561 987.5 556.3 971.9 549.7ZM895.2 671.4L911.4 681.8 925.2 677 909 666.7Z"/>
<path fill="#54ff00" stroke="#54ff00" d="M771.4 474.3L786.1 477.1 799.2 474.3 784.5 471.8ZM841.7 476.8L856.6 479.9 869.5 476.1 854.7 473.2Z"/>
<path fill="#44ff00" stroke="#44ff00" d="M784.5 471.8L799.2 474.3 812.2 471.4 797.6 469ZM1000.8 618.7L1016.8 627.3 1030 622.1 1014 613.7ZM1422 426.3L1437.5 435.3 1448.9 428.5 1433.4 419.4Z"/>
<path fill="#36ff00" stroke="#36ff00" d="M797.6 469L812.2 471.4 825.2 468.2 810.6 466ZM955.1 682.2L971.4 692.6 984.9 687.3 968.7 677.1ZM836.4 780.5L853.1 794.1 867.4 788.3 850.7 775Z"/>
<path fill="#29ff00" stroke="#29ff00" d="M810.6 466L825.2 468.2 838.1 464.7 823.5 462.7Z"/>
<path fill="#20ff00" stroke="#20ff00" d="M823.5 462.7L838.1 464.7 850.9 461 836.3 459.2ZM1069.1 606.2L1085.1 614.5 1098 609 1082.1 600.7ZM824.2 805.5L841.1 819.7 855.5 813.7 838.7 799.8Z"/>
<path fill="#19ff02" stroke="#19ff02" d="M836.3 459.2L850.9 461 863.7 457.1 849.1 455.5Z"/>
<path fill="#14ff05" stroke="#14ff05" d="M849.1 455.5L863.7 457.1 876.4 453 861.8 451.5Z"/>
<path fill="#12ff09" stroke="#12ff09" d="M861.8 451.5L876.4 453 889 448.6 874.4 447.3Z"/>
<path fill="#11ff0d" stroke="#11ff0d" d="M874.4 447.3L889 448.6 901.6 444 887 442.8Z"/>
<path fill="#12ff12" stroke="#12ff12" d="M887 442.8L901.6 444 914.1 439.2 899.5 438.1Z"/>
<path fill="#2fff2e" stroke="#2fff2e" d="M973.5 405.1L988 405.6 1000.1 399.3 985.6 398.8Z"/>
<path fill="#35ff30" stroke="#35ff30" d="M985.6 398.8L1000.1 399.3 1012.2 392.7 997.7 392.3Z"/>
<path fill="#3bff32" stroke="#3bff32" d="M997.7 392.3L1012.2 392.7 1024.2 385.9 1009.7 385.6Z"/>
<path fill="#42ff34" stroke="#42ff34" d="M1009.7 385.6L1024.2 385.9 1036.1 378.9 1021.7 378.6Z"/>
<path fill="#49ff35" stroke="#49ff35" d="M1021.7 378.6L1036.1 378.9 1048.1 371.7 1033.6 371.4Z"/>
<path fill="#51ff37" stroke="#51ff37" d="M1033.6 371.4L1048.1 371.7 1059.9 364.2 1045.5 364Z"/>
<path fill="#59ff37" stroke="#59ff37" d="M1045.5 364L1059.9 364.2 1071.8 356.6 1057.3 356.4Z"/>
<path fill="#64ff38" stroke="#64ff38" d="M1057.3 356.4L1071.8 356.6 1083.6 348.7 1069.1 348.6Z"/>
<path fill="#6fff38" stroke="#6fff38" d="M1069.1 348.6L1083.6 348.7 1095.3 340.7 1080.8 340.5Z"/>
<path fill="#7cff38" stroke="#7cff38" d="M1080.8 340.5L1095.3 340.7 1107 332.4 1092.5 332.3Z"/>
<path fill="#88ff38" stroke="#88ff38" d="M1092.5 332.3L1107 332.4 1118.6 324 1104.2 323.8ZM1097.5 392.6L1112.3 395 1124.2 387.8 1109.4 385.4Z"/>
<path fill="#8fff38" stroke="#8fff38" d="M1104.2 323.8L1118.6 324 1130.2 315.3 1115.8 315.1ZM1124.2 387.8L1139.1 390.5 1151 383.2 1136.1 380.5Z"/>
<path fill="#97ff38" stroke="#97ff38" d="M1115.8 315.1L1130.2 315.3 1141.8 306.4 1127.4 306.2ZM1118.6 324L1133.1 324.5 1144.7 315.9 1130.2 315.3ZM1121.5 333L1136 333.9 1147.7 325.4 1133.1 324.5Z"/>
<path fill="#a8ff38" stroke="#a8ff38" d="M1138.9 297.1L1153.3 297.4 1164.8 288.1 1150.4 287.8ZM1165.3 336.9L1180.1 338.9 1191.7 330.6 1177 328.5ZM1216.1 367L1231.1 370.9 1242.8 363.1 1227.8 359.1ZM1231.1 370.9L1246.2 375.2 1257.8 367.5 1242.8 363.1Z"/>
<path fill="#b2ff38" stroke="#b2ff38" d="M1150.4 287.8L1164.8 288.1 1176.2 278.6 1161.8 278.3ZM1173.9 318.2L1188.5 319.9 1200.1 311.2 1185.4 309.4Z"/>
<path fill="#e04800" stroke="#e04800" d="M386.1 447.6L401.7 459.9 417.3 464.3 401.7 452.5Z"/>
<path fill="#e35700" stroke="#e35700" d="M401.7 452.5L417.3 464.3 432.7 468.5 417.2 457Z"/>
<path fill="#e66600" stroke="#e66600" d="M417.2 457L432.7 468.5 448 472.3 432.5 461.3Z"/>
<path fill="#ea7400" stroke="#ea7400" d="M432.5 461.3L448 472.3 463.3 475.8 447.8 465.3Z"/>
<path fill="#ed8300" stroke="#ed8300" d="M447.8 465.3L463.3 475.8 478.4 479.1 463 469Z"/>
<path fill="#f09200" stroke="#f09200" d="M463 469L478.4 479.1 493.4 482 478 472.4Z"/>
<path fill="#f3a000" stroke="#f3a000" d="M478 472.4L493.4 482 508.3 484.7 493 475.5Z"/>
<path fill="#f5af00" stroke="#f5af00" d="M493 475.5L508.3 484.7 523.1 487.1 507.8 478.2Z"/>
<path fill="#f8bd00" stroke="#f8bd00" d="M507.8 478.2L523.1 487.1 537.8 489.2 522.6 480.8Z"/>
<path fill="#fbcb00" stroke="#fbcb00" d="M522.6 480.8L537.8 489.2 552.5 491.1 537.2 483Z"/>
<path fill="#fdd900" stroke="#fdd900" d="M537.2 483L552.5 491.1 567 492.6 551.8 484.9ZM592 599.9L608.1 612.7 623 611.7 606.9 599.3Z"/>
<path fill="#ffe600" stroke="#ffe600" d="M551.8 484.9L567 492.6 581.4 493.9 566.3 486.6Z"/>
<path fill="#fff100" stroke="#fff100" d="M566.3 486.6L581.4 493.9 595.7 495 580.6 487.9ZM624.3 625.5L640.5 638.4 655.3 636.7 639.1 624.2Z"/>
<path fill="#fffb00" stroke="#fffb00" d="M580.6 487.9L595.7 495 610 495.7 594.9 489.1ZM647.3 562.1L663 572 677.4 570.9 661.7 561.4ZM651.2 596.5L667.1 607.8 681.7 606.2 665.7 595.3ZM640.5 638.4L656.8 651.5 671.6 649.3 655.3 636.7Z"/>
<path fill="#f8ff00" stroke="#f8ff00" d="M594.9 489.1L610 495.7 624.2 496.2 609.1 489.9ZM626.1 509.4L641.4 516.9 655.6 516.7 640.3 509.5ZM668.6 621L684.7 632.8 699.3 630.7 683.2 619.2ZM656.8 651.5L673.1 664.5 687.9 662.1 671.6 649.3Z"/>
<path fill="#eeff00" stroke="#eeff00" d="M609.1 489.9L624.2 496.2 638.2 496.5 623.2 490.4ZM691.7 569.6L707.4 579 721.6 577.3 705.9 568.2ZM693.2 580.6L709 590.5 723.2 588.6 707.4 579ZM694.6 592.2L710.5 602.5 724.8 600.4 709 590.5Z"/>
<path fill="#e5ff00" stroke="#e5ff00" d="M623.2 490.4L638.2 496.5 652.2 496.5 637.2 490.7ZM686.2 531.4L701.6 539 715.6 537.7 700.2 530.4ZM704.5 557.9L720.1 566.5 734.1 564.7 718.5 556.4ZM712.1 615.1L728.1 626 742.4 623.4 726.5 612.9ZM700.9 644.8L717.1 656.8 731.6 654 715.4 642.3Z"/>
<path fill="#dcff00" stroke="#dcff00" d="M637.2 490.7L652.2 496.5 666.1 496.2 651.2 490.8ZM683.6 515.6L698.9 522.3 712.7 521.1 697.5 514.7ZM717 546.7L732.6 554.6 746.5 552.8 731 545.1ZM717.1 656.8L733.3 668.9 747.8 665.8 731.6 654ZM704.2 674.9L720.5 687.8 735.1 684.5 718.8 671.9ZM691.1 694L707.6 707.7 722.3 704.3 705.9 690.9Z"/>
<path fill="#d3ff00" stroke="#d3ff00" d="M651.2 490.8L666.1 496.2 679.9 495.7 665 490.6ZM729.5 536.1L744.9 543.3 758.7 541.3 743.3 534.4ZM748.1 562.7L763.7 570.9 777.6 568.5 762 560.5ZM754.9 608L770.8 617.9 784.9 615 769 605.4Z"/>
<path fill="#9dff00" stroke="#9dff00" d="M706.1 488.3L720.9 492.7 734.4 491.1 719.6 487.1ZM765.9 506.8L781 512 794.4 509.5 779.3 504.6ZM782.4 705.9L798.8 718.4 813.2 714.1 796.7 701.8Z"/>
<path fill="#91ff00" stroke="#91ff00" d="M719.6 487.1L734.4 491.1 747.9 489.4 733.1 485.6ZM859.3 550.6L874.8 557.3 888.2 553.6 872.7 547ZM867.8 594.7L883.6 603.1 897.2 599.1 881.4 590.9ZM757.3 749.1L774 763.1 788.6 758.3 771.9 744.7Z"/>
<path fill="#7bff00" stroke="#7bff00" d="M746.4 483.8L761.2 487.4 774.5 485.2 759.7 481.8ZM819.2 496.7L834.2 501 847.4 497.7 832.4 493.6ZM879.6 515.1L894.9 520.3 908 516.4 892.7 511.3ZM914.7 545.7L930.2 552.1 943.3 547.8 927.9 541.5ZM919.3 567.3L935 574.5 948.2 570.1 932.6 563.1ZM901.8 624.6L917.8 633.7 931.3 629.2 915.4 620.3ZM890.5 642.5L906.6 652.2 920.2 647.6 904.2 638.2Z"/>
<path fill="#72ff00" stroke="#72ff00" d="M759.7 481.8L774.5 485.2 787.7 482.7 773 479.6ZM817.4 489.8L832.4 493.6 845.5 490.3 830.5 486.7ZM940.9 537.2L956.4 543.3 969.4 538.8 954 532.8ZM945.8 558.7L961.4 565.6 974.5 561 958.9 554.3ZM803.1 753.5L819.7 767 834.1 761.8 817.5 748.7Z"/>
<path fill="#69ff00" stroke="#69ff00" d="M773 479.6L787.7 482.7 800.9 480 786.1 477.1ZM974.5 561L990.1 567.9 1003.1 563.1 987.5 556.3ZM955.7 606.8L971.6 615.2 984.9 610.3 969 602.1ZM909 666.7L925.2 677 938.9 672.1 922.7 662ZM790.7 777.1L807.4 791.3 821.9 785.9 805.2 772.1Z"/>
<path fill="#5dff00" stroke="#5dff00" d="M786.1 477.1L800.9 480 813.9 477.1 799.2 474.3ZM936.3 657.3L952.5 667.1 966 662.1 949.9 652.4Z"/>
<path fill="#4fff00" stroke="#4fff00" d="M799.2 474.3L813.9 477.1 827 474 812.2 471.4Z"/>
<path fill="#41ff00" stroke="#41ff00" d="M812.2 471.4L827 474 839.9 470.6 825.2 468.2ZM1047.5 572.2L1063.2 579.6 1076.1 574.2 1060.3 566.9ZM902.5 718.7L918.9 730.3 932.8 724.9 916.4 713.6Z"/>
<path fill="#35ff00" stroke="#35ff00" d="M825.2 468.2L839.9 470.6 852.8 467 838.1 464.7Z"/>
<path fill="#2bff01" stroke="#2bff01" d="M838.1 464.7L852.8 467 865.6 463.1 850.9 461Z"/>
<path fill="#25ff04" stroke="#25ff04" d="M850.9 461L865.6 463.1 878.3 459.1 863.7 457.1Z"/>
<path fill="#22ff08" stroke="#22ff08" d="M863.7 457.1L878.3 459.1 891 454.8 876.4 453Z"/>
<path fill="#21ff0c" stroke="#21ff0c" d="M876.4 453L891 454.8 903.6 450.3 889 448.6Z"/>
<path fill="#21ff11" stroke="#21ff11" d="M889 448.6L903.6 450.3 916.2 445.5 901.6 444Z"/>
<path fill="#22ff16" stroke="#22ff16" d="M901.6 444L916.2 445.5 928.7 440.6 914.1 439.2Z"/>
<path fill="#24ff1a" stroke="#24ff1a" d="M914.1 439.2L928.7 440.6 941.1 435.4 926.5 434.2Z"/>
<path fill="#27ff1f" stroke="#27ff1f" d="M926.5 434.2L941.1 435.4 953.5 430.1 938.9 428.9Z"/>
<path fill="#2bff23" stroke="#2bff23" d="M938.9 428.9L953.5 430.1 965.9 424.5 951.3 423.4Z"/>
<path fill="#2fff27" stroke="#2fff27" d="M951.3 423.4L965.9 424.5 978.1 418.7 963.6 417.7Z"/>
<path fill="#33ff2b" stroke="#33ff2b" d="M963.6 417.7L978.1 418.7 990.4 412.7 975.8 411.8Z"/>
<path fill="#38ff2e" stroke="#38ff2e" d="M975.8 411.8L990.4 412.7 1002.5 406.5 988 405.6Z"/>
<path fill="#3eff30" stroke="#3eff30" d="M988 405.6L1002.5 406.5 1014.6 400 1000.1 399.3Z"/>
<path fill="#43ff32" stroke="#43ff32" d="M1000.1 399.3L1014.6 400 1026.7 393.4 1012.2 392.7Z"/>
<path fill="#49ff34" stroke="#49ff34" d="M1012.2 392.7L1026.7 393.4 1038.7 386.5 1024.2 385.9Z"/>
<path fill="#57ff37" stroke="#57ff37" d="M1036.1 378.9L1050.7 379.5 1062.6 372.2 1048.1 371.7Z"/>
<path fill="#60ff37" stroke="#60ff37" d="M1048.1 371.7L1062.6 372.2 1074.5 364.8 1059.9 364.2Z"/>
<path fill="#69ff38" stroke="#69ff38" d="M1059.9 364.2L1074.5 364.8 1086.3 357.1 1071.8 356.6Z"/>
<path fill="#74ff38" stroke="#74ff38" d="M1071.8 356.6L1086.3 357.1 1098.1 349.3 1083.6 348.7Z"/>
<path fill="#7fff38" stroke="#7fff38" d="M1083.6 348.7L1098.1 349.3 1109.8 341.2 1095.3 340.7Z"/>
<path fill="#89ff38" stroke="#89ff38" d="M1095.3 340.7L1109.8 341.2 1121.5 333 1107 332.4Z"/>
<path fill="#90ff38" stroke="#90ff38" d="M1107 332.4L1121.5 333 1133.1 324.5 1118.6 324ZM1109.8 341.2L1124.4 342.1 1136 333.9 1121.5 333ZM1112.6 350.2L1127.3 351.4 1139 343.4 1124.4 342.1ZM1115.5 359.3L1130.2 360.9 1141.9 353.1 1127.3 351.4ZM1118.4 368.6L1133.1 370.6 1144.9 362.9 1130.2 360.9ZM1121.3 378.1L1136.1 380.5 1147.9 373 1133.1 370.6Z"/>
<path fill="#a7ff38" stroke="#a7ff38" d="M1141.8 306.4L1156.3 307 1167.8 298 1153.3 297.4ZM1201.2 363.4L1216.1 367 1227.8 359.1 1212.9 355.5Z"/>
<path fill="#b0ff38" stroke="#b0ff38" d="M1153.3 297.4L1167.8 298 1179.3 288.7 1164.8 288.1Z"/>
<path fill="#baff38" stroke="#baff38" d="M1164.8 288.1L1179.3 288.7 1190.7 279.3 1176.2 278.6ZM1185.4 309.4L1200.1 311.2 1211.6 302.3 1196.9 300.4ZM1203.3 322.1L1218 324.6 1229.5 316 1214.8 313.4ZM1251 343L1266 347.1 1277.5 338.9 1262.6 334.7Z"/>
<path fill="#e35200" stroke="#e35200" d="M401.7 459.9L417.5 472.4 432.9 476.3 417.3 464.3Z"/>
<path fill="#e66100" stroke="#e66100" d="M417.3 464.3L432.9 476.3 448.3 480 432.7 468.5Z"/>
<path fill="#e96f00" stroke="#e96f00" d="M432.7 468.5L448.3 480 463.6 483.3 448 472.3Z"/>
<path fill="#ec7e00" stroke="#ec7e00" d="M448 472.3L463.6 483.3 478.8 486.4 463.3 475.8Z"/>
<path fill="#ef8c00" stroke="#ef8c00" d="M463.3 475.8L478.8 486.4 493.9 489.3 478.4 479.1Z"/>
<path fill="#f29a00" stroke="#f29a00" d="M478.4 479.1L493.9 489.3 508.8 491.8 493.4 482Z"/>
<path fill="#f5a900" stroke="#f5a900" d="M493.4 482L508.8 491.8 523.7 494.1 508.3 484.7Z"/>
<path fill="#f8b700" stroke="#f8b700" d="M508.3 484.7L523.7 494.1 538.5 496.1 523.1 487.1ZM543.8 562L559.8 574.6 574.8 574.8 558.9 562.7Z"/>
<path fill="#fac400" stroke="#fac400" d="M523.1 487.1L538.5 496.1 553.1 497.8 537.8 489.2Z"/>
<path fill="#fdd200" stroke="#fdd200" d="M537.8 489.2L553.1 497.8 567.7 499.3 552.5 491.1Z"/>
<path fill="#ffdf00" stroke="#ffdf00" d="M552.5 491.1L567.7 499.3 582.2 500.5 567 492.6ZM568.5 506.5L583.9 515.3 598.4 516.1 583 507.6Z"/>
<path fill="#ffea00" stroke="#ffea00" d="M567 492.6L582.2 500.5 596.6 501.4 581.4 493.9ZM599.4 524.3L614.9 533.4 629.3 533.4 613.8 524.7ZM618.2 563.1L634 573.7 648.5 573 632.8 562.7ZM619.3 574.3L635.2 585.3 649.8 584.4 634 573.7ZM620.5 586.1L636.5 597.6 651.2 596.5 635.2 585.3Z"/>
<path fill="#fff400" stroke="#fff400" d="M581.4 493.9L596.6 501.4 610.9 502.1 595.7 495ZM631.6 552.3L647.3 562.1 661.7 561.4 646 551.9ZM625.6 640L641.9 653.4 656.8 651.5 640.5 638.4Z"/>
<path fill="#ffff00" stroke="#ffff00" d="M595.7 495L610.9 502.1 625.1 502.6 610 495.7ZM653.9 622.7L670.1 634.8 684.7 632.8 668.6 621Z"/>
<path fill="#ecff00" stroke="#ecff00" d="M624.2 496.2L639.3 502.7 653.3 502.7 638.2 496.5ZM655.6 516.7L670.8 524 684.9 523.2 669.6 516.2ZM672.1 532.2L687.5 540.1 701.6 539 686.2 531.4ZM690.3 559.2L705.9 568.2 720.1 566.5 704.5 557.9Z"/>
<path fill="#e3ff00" stroke="#e3ff00" d="M638.2 496.5L653.3 502.7 667.3 502.4 652.2 496.5ZM703 548.2L718.5 556.4 732.6 554.6 717 546.7Z"/>
<path fill="#daff00" stroke="#daff00" d="M652.2 496.5L667.3 502.4 681.1 501.8 666.1 496.2ZM715.6 537.7L731 545.1 744.9 543.3 729.5 536.1ZM734.1 564.7L749.8 573.2 763.7 570.9 748.1 562.7ZM735.7 575.3L751.5 584.2 765.5 581.9 749.8 573.2ZM739 598.2L754.9 608 769 605.4 753.2 595.8ZM729.8 639.7L746 651 760.3 648 744.2 636.9Z"/>
<path fill="#d2ff00" stroke="#d2ff00" d="M666.1 496.2L681.1 501.8 694.9 501 679.9 495.7ZM712.7 521.1L728 527.7 741.8 526 726.5 519.7ZM746.5 552.8L762 560.5 775.9 558.2 760.3 550.7ZM733.3 668.9L749.6 681.1 764.1 677.7 747.8 665.8Z"/>
<path fill="#c4ff00" stroke="#c4ff00" d="M679.9 495.7L694.9 501 708.7 500 693.7 494.9ZM772.7 631.1L788.7 641.6 802.8 638.2 786.8 628Z"/>
<path fill="#aaff00" stroke="#aaff00" d="M707.4 493.9L722.3 498.7 735.9 497.2 720.9 492.7ZM784.3 528L799.7 534.2 813.2 531.5 797.9 525.5Z"/>
<path fill="#9eff00" stroke="#9eff00" d="M720.9 492.7L735.9 497.2 749.3 495.4 734.4 491.1ZM735.9 497.2L750.8 501.9 764.3 499.9 749.3 495.4ZM750.8 501.9L765.9 506.8 779.3 504.6 764.3 499.9ZM813.2 531.5L828.5 537.6 841.9 534.5 826.6 528.6ZM830.4 547.2L845.9 553.9 859.3 550.6 843.9 544Z"/>
<path fill="#92ff00" stroke="#92ff00" d="M734.4 491.1L749.3 495.4 762.8 493.5 747.9 489.4ZM809.5 514.6L824.7 520 838 516.9 822.9 511.8ZM858.5 623.6L874.5 633 888.2 628.9 872.2 619.7ZM784.4 722.7L800.9 735.7 815.3 731.1 798.8 718.4Z"/>
<path fill="#88ff00" stroke="#88ff00" d="M747.9 489.4L762.8 493.5 776.1 491.2 761.2 487.4ZM870.6 537.2L886 543.3 899.3 539.5 883.9 533.5Z"/>
<path fill="#7eff00" stroke="#7eff00" d="M761.2 487.4L776.1 491.2 789.4 488.8 774.5 485.2ZM1436.8 380.6L1452.1 389.2 1463.3 382 1448 373.1ZM853.4 684.8L869.7 696 883.7 691.3 867.4 680.4Z"/>
<path fill="#75ff00" stroke="#75ff00" d="M774.5 485.2L789.4 488.8 802.6 486.1 787.7 482.7ZM847.4 497.7L862.4 502 875.5 498.4 860.5 494.2ZM908 516.4L923.2 521.6 936.2 517.3 921 512.2ZM925.5 531.4L940.9 537.2 954 532.8 938.6 527.1ZM926.5 603.1L942.3 611.4 955.7 606.8 939.8 598.7ZM892.8 656.7L909 666.7 922.7 662 906.6 652.2Z"/>
<path fill="#6cff00" stroke="#6cff00" d="M787.7 482.7L802.6 486.1 815.7 483.2 800.9 480ZM953.2 594.1L969 602.1 982.2 597.4 966.4 589.5ZM1440.8 396.5L1456.1 405.4 1467.4 398.4 1452.1 389.2Z"/>
<path fill="#57ff00" stroke="#57ff00" d="M813.9 477.1L828.7 480.1 841.7 476.8 827 474ZM995.4 592.5L1011.2 600.4 1024.3 595.3 1008.5 587.6Z"/>
<path fill="#4bff00" stroke="#4bff00" d="M827 474L841.7 476.8 854.7 473.2 839.9 470.6ZM1021.6 582.5L1037.4 590.2 1050.3 584.9 1034.5 577.4ZM987.5 623.7L1003.5 632.5 1016.8 627.3 1000.8 618.7ZM1433.4 419.4L1448.9 428.5 1460.2 421.7 1444.8 412.4Z"/>
<path fill="#40ff01" stroke="#40ff01" d="M839.9 470.6L854.7 473.2 867.5 469.4 852.8 467Z"/>
<path fill="#38ff03" stroke="#38ff03" d="M852.8 467L867.5 469.4 880.3 465.5 865.6 463.1ZM1336.9 459.1L1352.5 467 1364.2 460.3 1348.7 452.4Z"/>
<path fill="#32ff06" stroke="#32ff06" d="M865.6 463.1L880.3 465.5 893 461.2 878.3 459.1Z"/>
<path fill="#2fff0b" stroke="#2fff0b" d="M878.3 459.1L893 461.2 905.7 456.8 891 454.8Z"/>
<path fill="#2eff0f" stroke="#2eff0f" d="M891 454.8L905.7 456.8 918.3 452.2 903.6 450.3Z"/>
<path fill="#2eff14" stroke="#2eff14" d="M903.6 450.3L918.3 452.2 930.9 447.3 916.2 445.5Z"/>
<path fill="#30ff19" stroke="#30ff19" d="M916.2 445.5L930.9 447.3 943.4 442.3 928.7 440.6Z"/>
<path fill="#32ff1e" stroke="#32ff1e" d="M928.7 440.6L943.4 442.3 955.8 437 941.1 435.4Z"/>
<path fill="#35ff22" stroke="#35ff22" d="M941.1 435.4L955.8 437 968.2 431.5 953.5 430.1Z"/>
<path fill="#38ff26" stroke="#38ff26" d="M953.5 430.1L968.2 431.5 980.5 425.9 965.9 424.5Z"/>
<path fill="#3cff2a" stroke="#3cff2a" d="M965.9 424.5L980.5 425.9 992.8 420 978.1 418.7Z"/>
<path fill="#41ff2d" stroke="#41ff2d" d="M978.1 418.7L992.8 420 1005 413.9 990.4 412.7Z"/>
<path fill="#46ff30" stroke="#46ff30" d="M990.4 412.7L1005 413.9 1017.1 407.6 1002.5 406.5Z"/>
<path fill="#4bff32" stroke="#4bff32" d="M1002.5 406.5L1017.1 407.6 1029.3 401.1 1014.6 400Z"/>
<path fill="#50ff34" stroke="#50ff34" d="M1014.6 400L1029.3 401.1 1041.3 394.4 1026.7 393.4Z"/>
<path fill="#56ff36" stroke="#56ff36" d="M1026.7 393.4L1041.3 394.4 1053.3 387.5 1038.7 386.5Z"/>
<path fill="#66ff37" stroke="#66ff37" d="M1050.7 379.5L1065.3 380.5 1077.2 373.2 1062.6 372.2Z"/>
<path fill="#6eff38" stroke="#6eff38" d="M1062.6 372.2L1077.2 373.2 1089.1 365.7 1074.5 364.8Z"/>
<path fill="#82ff38" stroke="#82ff38" d="M1086.3 357.1L1100.9 358 1112.6 350.2 1098.1 349.3Z"/>
<path fill="#8aff38" stroke="#8aff38" d="M1098.1 349.3L1112.6 350.2 1124.4 342.1 1109.8 341.2Z"/>
<path fill="#9eff38" stroke="#9eff38" d="M1133.1 324.5L1147.7 325.4 1159.3 316.8 1144.7 315.9ZM1192.7 382.3L1207.7 386.1 1219.4 378.6 1204.4 374.7Z"/>
<path fill="#a6ff38" stroke="#a6ff38" d="M1144.7 315.9L1159.3 316.8 1170.8 308 1156.3 307Z"/>
<path fill="#aeff38" stroke="#aeff38" d="M1156.3 307L1170.8 308 1182.3 299 1167.8 298ZM1227.8 359.1L1242.8 363.1 1254.4 355.1 1239.5 351.1Z"/>
<path fill="#b7ff38" stroke="#b7ff38" d="M1167.8 298L1182.3 299 1193.8 289.8 1179.3 288.7ZM1188.5 319.9L1203.3 322.1 1214.8 313.4 1200.1 311.2Z"/>
<path fill="#c1ff38" stroke="#c1ff38" d="M1179.3 288.7L1193.8 289.8 1205.3 280.4 1190.7 279.3ZM1262.6 334.7L1277.5 338.9 1289 330.5 1274.1 326.3Z"/>
<path fill="#e55d00" stroke="#e55d00" d="M417.5 472.4L433.2 484.9 448.7 488.3 432.9 476.3Z"/>
<path fill="#e86b00" stroke="#e86b00" d="M432.9 476.3L448.7 488.3 464 491.5 448.3 480Z"/>
<path fill="#ec7900" stroke="#ec7900" d="M448.3 480L464 491.5 479.2 494.5 463.6 483.3Z"/>
<path fill="#ef8700" stroke="#ef8700" d="M463.6 483.3L479.2 494.5 494.3 497.1 478.8 486.4Z"/>
<path fill="#f19500" stroke="#f19500" d="M478.8 486.4L494.3 497.1 509.4 499.5 493.9 489.3Z"/>
<path fill="#f4a300" stroke="#f4a300" d="M493.9 489.3L509.4 499.5 524.3 501.7 508.8 491.8Z"/>
<path fill="#f7b100" stroke="#f7b100" d="M508.8 491.8L524.3 501.7 539.1 503.5 523.7 494.1Z"/>
<path fill="#fabe00" stroke="#fabe00" d="M523.7 494.1L539.1 503.5 553.9 505.2 538.5 496.1Z"/>
<path fill="#fccc00" stroke="#fccc00" d="M538.5 496.1L553.9 505.2 568.5 506.5 553.1 497.8Z"/>
<path fill="#ffd900" stroke="#ffd900" d="M553.1 497.8L568.5 506.5 583 507.6 567.7 499.3ZM587.7 552.4L603.5 563.3 618.2 563.1 602.4 552.6ZM588.7 563.3L604.6 574.6 619.3 574.3 603.5 563.3Z"/>
<path fill="#ffe400" stroke="#ffe400" d="M567.7 499.3L583 507.6 597.5 508.5 582.2 500.5ZM583.9 515.3L599.4 524.3 613.8 524.7 598.4 516.1ZM601.4 542.5L617 552.6 631.6 552.3 615.9 542.7ZM606.9 599.3L623 611.7 637.8 610.6 621.7 598.6Z"/>
<path fill="#ffee00" stroke="#ffee00" d="M582.2 500.5L597.5 508.5 611.9 509.1 596.6 501.4ZM598.4 516.1L613.8 524.7 628.2 524.8 612.8 516.6ZM623 611.7L639.1 624.2 653.9 622.7 637.8 610.6Z"/>
<path fill="#fcff00" stroke="#fcff00" d="M610.9 502.1L626.1 509.4 640.3 509.5 625.1 502.6ZM663 572L678.8 582.1 693.2 580.6 677.4 570.9ZM664.4 583.3L680.2 593.8 694.6 592.2 678.8 582.1ZM665.7 595.3L681.7 606.2 696.1 604.4 680.2 593.8ZM655.3 636.7L671.6 649.3 686.3 647.1 670.1 634.8Z"/>
<path fill="#f3ff00" stroke="#f3ff00" d="M625.1 502.6L640.3 509.5 654.4 509.4 639.3 502.7ZM681.7 606.2L697.7 617.2 712.1 615.1 696.1 604.4ZM658.3 666.9L674.7 680.4 689.5 677.7 673.1 664.5Z"/>
<path fill="#e1ff00" stroke="#e1ff00" d="M653.3 502.7L668.4 509 682.4 508.4 667.3 502.4ZM684.9 523.2L700.2 530.4 714.1 529.1 698.9 522.3ZM701.6 539L717 546.7 731 545.1 715.6 537.7ZM721.6 577.3L737.4 586.5 751.5 584.2 735.7 575.3ZM723.2 588.6L739 598.2 753.2 595.8 737.4 586.5ZM702.5 659.5L718.8 671.9 733.3 668.9 717.1 656.8Z"/>
<path fill="#d9ff00" stroke="#d9ff00" d="M667.3 502.4L682.4 508.4 696.2 507.6 681.1 501.8ZM698.9 522.3L714.1 529.1 728 527.7 712.7 521.1ZM740.7 610.5L756.7 620.7 770.8 617.9 754.9 608Z"/>
<path fill="#cfff00" stroke="#cfff00" d="M681.1 501.8L696.2 507.6 710 506.5 694.9 501ZM707.6 707.7L724.1 721.4 738.8 717.7 722.3 704.3Z"/>
<path fill="#c2ff00" stroke="#c2ff00" d="M694.9 501L710 506.5 723.7 505.2 708.7 500ZM741.8 526L757.1 532.5 770.7 530.4 755.5 524.1ZM777.6 568.5L793.2 576.6 807 573.8 791.4 565.9ZM783 602.6L798.9 611.9 812.8 608.7 797 599.6Z"/>
<path fill="#93ff00" stroke="#93ff00" d="M749.3 495.4L764.3 499.9 777.7 497.7 762.8 493.5ZM794.4 509.5L809.5 514.6 822.9 511.8 807.7 506.9ZM841.9 534.5L857.3 540.7 870.6 537.2 855.3 531.2ZM861.4 560.9L877 568 890.4 564.3 874.8 557.3ZM863.5 571.7L879.2 579.3 892.6 575.4 877 568ZM865.7 583L881.4 590.9 894.9 587 879.2 579.3ZM846.8 641L862.9 650.9 876.7 646.8 860.7 637ZM823.1 677.9L839.4 689.2 853.4 684.8 837.2 673.8Z"/>
<path fill="#77ff00" stroke="#77ff00" d="M789.4 488.8L804.3 492.6 817.4 489.8 802.6 486.1ZM927.9 541.5L943.3 547.8 956.4 543.3 940.9 537.2ZM930.2 552.1L945.8 558.7 958.9 554.3 943.3 547.8ZM932.6 563.1L948.2 570.1 961.4 565.6 945.8 558.7ZM788.6 758.3L805.2 772.1 819.7 767 803.1 753.5Z"/>
<path fill="#6fff00" stroke="#6fff00" d="M802.6 486.1L817.4 489.8 830.5 486.7 815.7 483.2ZM860.5 494.2L875.5 498.4 888.5 494.6 873.5 490.6ZM954 532.8L969.4 538.8 982.4 534.1 966.9 528.2ZM956.4 543.3L971.9 549.7 984.9 545 969.4 538.8ZM950.7 581.9L966.4 589.5 979.6 584.8 963.9 577.4ZM869.7 696L886.1 707.3 900 702.4 883.7 691.3ZM843.8 721.7L860.3 733.9 874.4 728.9 858 716.9Z"/>
<path fill="#68ff00" stroke="#68ff00" d="M815.7 483.2L830.5 486.7 843.6 483.4 828.7 480.1ZM858.5 486.9L873.5 490.6 886.4 486.7 871.5 483.2ZM984.9 545L1000.5 551.4 1013.4 546.5 997.9 540.1ZM966.4 589.5L982.2 597.4 995.4 592.5 979.6 584.8ZM944.8 624.6L960.8 633.5 974.2 628.7 958.2 619.9ZM1429.4 403.6L1444.8 412.4 1456.1 405.4 1440.8 396.5ZM831.8 743.8L848.4 756.6 862.7 751.4 846.1 738.9Z"/>
<path fill="#5fff00" stroke="#5fff00" d="M828.7 480.1L843.6 483.4 856.6 479.9 841.7 476.8ZM911.4 681.8L927.7 692.4 941.4 687.3 925.2 677Z"/>
<path fill="#4aff02" stroke="#4aff02" d="M854.7 473.2L869.5 476.1 882.3 472.2 867.5 469.4Z"/>
<path fill="#43ff05" stroke="#43ff05" d="M867.5 469.4L882.3 472.2 895.1 468 880.3 465.5Z"/>
<path fill="#3eff09" stroke="#3eff09" d="M880.3 465.5L895.1 468 907.8 463.7 893 461.2Z"/>
<path fill="#3bff0d" stroke="#3bff0d" d="M893 461.2L907.8 463.7 920.5 459.1 905.7 456.8Z"/>
<path fill="#3aff12" stroke="#3aff12" d="M905.7 456.8L920.5 459.1 933.1 454.4 918.3 452.2Z"/>
<path fill="#3aff17" stroke="#3aff17" d="M918.3 452.2L933.1 454.4 945.6 449.4 930.9 447.3Z"/>
<path fill="#3cff1c" stroke="#3cff1c" d="M930.9 447.3L945.6 449.4 958.1 444.2 943.4 442.3Z"/>
<path fill="#3eff20" stroke="#3eff20" d="M943.4 442.3L958.1 444.2 970.5 438.9 955.8 437Z"/>
<path fill="#41ff25" stroke="#41ff25" d="M955.8 437L970.5 438.9 982.9 433.3 968.2 431.5Z"/>
<path fill="#45ff29" stroke="#45ff29" d="M968.2 431.5L982.9 433.3 995.2 427.5 980.5 425.9Z"/>
<path fill="#48ff2c" stroke="#48ff2c" d="M980.5 425.9L995.2 427.5 1007.5 421.6 992.8 420Z"/>
<path fill="#4dff2f" stroke="#4dff2f" d="M992.8 420L1007.5 421.6 1019.7 415.4 1005 413.9Z"/>
<path fill="#51ff31" stroke="#51ff31" d="M1005 413.9L1019.7 415.4 1031.8 409.1 1017.1 407.6Z"/>
<path fill="#57ff33" stroke="#57ff33" d="M1017.1 407.6L1031.8 409.1 1043.9 402.5 1029.3 401.1Z"/>
<path fill="#5dff35" stroke="#5dff35" d="M1029.3 401.1L1043.9 402.5 1056 395.8 1041.3 394.4Z"/>
<path fill="#64ff36" stroke="#64ff36" d="M1041.3 394.4L1056 395.8 1068 388.9 1053.3 387.5Z"/>
<path fill="#6bff37" stroke="#6bff37" d="M1053.3 387.5L1068 388.9 1079.9 381.8 1065.3 380.5Z"/>
<path fill="#7bff38" stroke="#7bff38" d="M1077.2 373.2L1091.8 374.5 1103.7 367 1089.1 365.7Z"/>
<path fill="#85ff38" stroke="#85ff38" d="M1089.1 365.7L1103.7 367 1115.5 359.3 1100.9 358Z"/>
<path fill="#8bff38" stroke="#8bff38" d="M1100.9 358L1115.5 359.3 1127.3 351.4 1112.6 350.2ZM1103.7 367L1118.4 368.6 1130.2 360.9 1115.5 359.3ZM1106.5 376.1L1121.3 378.1 1133.1 370.6 1118.4 368.6ZM1112.3 395L1127.2 397.7 1139.1 390.5 1124.2 387.8Z"/>
<path fill="#9dff38" stroke="#9dff38" d="M1136 333.9L1150.7 335.2 1162.3 326.8 1147.7 325.4ZM1159.7 365.3L1174.6 368.1 1186.3 360.3 1171.5 357.5ZM1177.7 378.8L1192.7 382.3 1204.4 374.7 1189.5 371.2Z"/>
<path fill="#a4ff38" stroke="#a4ff38" d="M1147.7 325.4L1162.3 326.8 1173.9 318.2 1159.3 316.8Z"/>
<path fill="#acff38" stroke="#acff38" d="M1159.3 316.8L1173.9 318.2 1185.4 309.4 1170.8 308ZM1180.1 338.9L1194.8 341.4 1206.4 333.1 1191.7 330.6Z"/>
<path fill="#b5ff38" stroke="#b5ff38" d="M1170.8 308L1185.4 309.4 1196.9 300.4 1182.3 299Z"/>
<path fill="#beff38" stroke="#beff38" d="M1182.3 299L1196.9 300.4 1208.4 291.3 1193.8 289.8Z"/>
<path fill="#c7ff38" stroke="#c7ff38" d="M1193.8 289.8L1208.4 291.3 1219.8 282 1205.3 280.4ZM1211.6 302.3L1226.3 304.5 1237.7 295.5 1223.1 293.2ZM1244.3 319L1259.2 322.4 1270.7 313.8 1255.8 310.3ZM1289 330.5L1304 335.2 1315.5 326.9 1300.5 322.1Z"/>
<path fill="#e86700" stroke="#e86700" d="M433.2 484.9L449 497.4 464.4 500.4 448.7 488.3Z"/>
<path fill="#eb7500" stroke="#eb7500" d="M448.7 488.3L464.4 500.4 479.7 503.2 464 491.5Z"/>
<path fill="#ee8300" stroke="#ee8300" d="M464 491.5L479.7 503.2 494.9 505.7 479.2 494.5Z"/>
<path fill="#f19100" stroke="#f19100" d="M479.2 494.5L494.9 505.7 510 507.9 494.3 497.1Z"/>
<path fill="#f49e00" stroke="#f49e00" d="M494.3 497.1L510 507.9 524.9 509.9 509.4 499.5Z"/>
<path fill="#f7ac00" stroke="#f7ac00" d="M509.4 499.5L524.9 509.9 539.8 511.6 524.3 501.7Z"/>
<path fill="#f9b900" stroke="#f9b900" d="M524.3 501.7L539.8 511.6 554.6 513.1 539.1 503.5ZM542.1 539.9L557.9 551.4 572.9 552 557.1 540.9Z"/>
<path fill="#fcc600" stroke="#fcc600" d="M539.1 503.5L554.6 513.1 569.3 514.4 553.9 505.2Z"/>
<path fill="#fed300" stroke="#fed300" d="M553.9 505.2L569.3 514.4 583.9 515.3 568.5 506.5Z"/>
<path fill="#ffe900" stroke="#ffe900" d="M583 507.6L598.4 516.1 612.8 516.6 597.5 508.5Z"/>
<path fill="#fff300" stroke="#fff300" d="M597.5 508.5L612.8 516.6 627.2 516.8 611.9 509.1ZM613.8 524.7L629.3 533.4 643.7 533.2 628.2 524.8ZM632.8 562.7L648.5 573 663 572 647.3 562.1ZM636.5 597.6L652.5 609.3 667.1 607.8 651.2 596.5Z"/>
<path fill="#fffc00" stroke="#fffc00" d="M611.9 509.1L627.2 516.8 641.4 516.9 626.1 509.4ZM628.2 524.8L643.7 533.2 657.9 532.8 642.5 524.8ZM646 551.9L661.7 561.4 676 560.4 660.4 551.3Z"/>
<path fill="#efff00" stroke="#efff00" d="M640.3 509.5L655.6 516.7 669.6 516.2 654.4 509.4ZM684.7 632.8L700.9 644.8 715.4 642.3 699.3 630.7Z"/>
<path fill="#e7ff00" stroke="#e7ff00" d="M654.4 509.4L669.6 516.2 683.6 515.6 668.4 509ZM705.9 568.2L721.6 577.3 735.7 575.3 720.1 566.5ZM707.4 579L723.2 588.6 737.4 586.5 721.6 577.3ZM709 590.5L724.8 600.4 739 598.2 723.2 588.6ZM687.9 662.1L704.2 674.9 718.8 671.9 702.5 659.5Z"/>
<path fill="#d7ff00" stroke="#d7ff00" d="M682.4 508.4L697.5 514.7 711.3 513.5 696.2 507.6ZM742.4 623.4L758.5 634.1 772.7 631.1 756.7 620.7ZM718.8 671.9L735.1 684.5 749.6 681.1 733.3 668.9ZM705.9 690.9L722.3 704.3 737 700.7 720.5 687.8Z"/>
<path fill="#cdff00" stroke="#cdff00" d="M696.2 507.6L711.3 513.5 725.1 512.2 710 506.5ZM728 527.7L743.3 534.4 757.1 532.5 741.8 526ZM765.5 581.9L781.2 590.7 795.1 587.9 779.4 579.3ZM758.5 634.1L774.6 644.8 788.7 641.6 772.7 631.1Z"/>
<path fill="#c0ff00" stroke="#c0ff00" d="M710 506.5L725.1 512.2 738.8 510.6 723.7 505.2ZM775.9 558.2L791.4 565.9 805.1 563.1 789.6 555.7ZM762.2 662.5L778.4 674.1 792.7 670.5 776.5 659.2ZM749.6 681.1L766 693.5 780.4 689.7 764.1 677.7Z"/>
<path fill="#8aff00" stroke="#8aff00" d="M777.7 497.7L792.7 502.2 806 499.5 791 495.3ZM822.9 511.8L838 516.9 851.3 513.6 836.1 508.7ZM825.2 693.5L841.6 705.2 855.7 700.6 839.4 689.2Z"/>
<path fill="#81ff00" stroke="#81ff00" d="M791 495.3L806 499.5 819.2 496.7 804.3 492.6ZM866.5 518.8L881.7 524.1 894.9 520.3 879.6 515.1ZM903.7 560.3L919.3 567.3 932.6 563.1 917 556.3ZM906 571.4L921.7 578.8 935 574.5 919.3 567.3ZM888.2 628.9L904.2 638.2 917.8 633.7 901.8 624.6ZM876.7 646.8L892.8 656.7 906.6 652.2 890.5 642.5Z"/>
<path fill="#79ff00" stroke="#79ff00" d="M804.3 492.6L819.2 496.7 832.4 493.6 817.4 489.8ZM1425.4 387.9L1440.8 396.5 1452.1 389.2 1436.8 380.6Z"/>
<path fill="#5bff01" stroke="#5bff01" d="M856.6 479.9L871.5 483.2 884.4 479.3 869.5 476.1Z"/>
<path fill="#53ff03" stroke="#53ff03" d="M869.5 476.1L884.4 479.3 897.2 475.2 882.3 472.2Z"/>
<path fill="#4dff07" stroke="#4dff07" d="M882.3 472.2L897.2 475.2 910 470.9 895.1 468Z"/>
<path fill="#49ff0b" stroke="#49ff0b" d="M895.1 468L910 470.9 922.7 466.4 907.8 463.7Z"/>
<path fill="#47ff10" stroke="#47ff10" d="M907.8 463.7L922.7 466.4 935.3 461.7 920.5 459.1ZM1170.3 503L1185.8 509.5 1198.1 503.4 1182.5 496.9Z"/>
<path fill="#46ff15" stroke="#46ff15" d="M920.5 459.1L935.3 461.7 947.9 456.8 933.1 454.4Z"/>
<path fill="#46ff1a" stroke="#46ff1a" d="M933.1 454.4L947.9 456.8 960.4 451.8 945.6 449.4Z"/>
<path fill="#47ff1e" stroke="#47ff1e" d="M945.6 449.4L960.4 451.8 972.9 446.5 958.1 444.2Z"/>
<path fill="#49ff23" stroke="#49ff23" d="M958.1 444.2L972.9 446.5 985.3 441 970.5 438.9Z"/>
<path fill="#4cff27" stroke="#4cff27" d="M970.5 438.9L985.3 441 997.7 435.4 982.9 433.3Z"/>
<path fill="#50ff2a" stroke="#50ff2a" d="M982.9 433.3L997.7 435.4 1010 429.5 995.2 427.5Z"/>
<path fill="#54ff2e" stroke="#54ff2e" d="M995.2 427.5L1010 429.5 1022.2 423.5 1007.5 421.6Z"/>
<path fill="#58ff30" stroke="#58ff30" d="M1007.5 421.6L1022.2 423.5 1034.4 417.3 1019.7 415.4Z"/>
<path fill="#5dff33" stroke="#5dff33" d="M1019.7 415.4L1034.4 417.3 1046.6 410.9 1031.8 409.1Z"/>
<path fill="#63ff34" stroke="#63ff34" d="M1031.8 409.1L1046.6 410.9 1058.7 404.3 1043.9 402.5Z"/>
<path fill="#69ff36" stroke="#69ff36" d="M1043.9 402.5L1058.7 404.3 1070.7 397.5 1056 395.8Z"/>
<path fill="#6fff37" stroke="#6fff37" d="M1056 395.8L1070.7 397.5 1082.7 390.6 1068 388.9Z"/>
<path fill="#77ff38" stroke="#77ff38" d="M1068 388.9L1082.7 390.6 1094.6 383.4 1079.9 381.8Z"/>
<path fill="#7eff38" stroke="#7eff38" d="M1079.9 381.8L1094.6 383.4 1106.5 376.1 1091.8 374.5Z"/>
<path fill="#9cff38" stroke="#9cff38" d="M1139 343.4L1153.7 345.1 1165.3 336.9 1150.7 335.2Z"/>
<path fill="#a3ff38" stroke="#a3ff38" d="M1150.7 335.2L1165.3 336.9 1177 328.5 1162.3 326.8ZM1171.5 357.5L1186.3 360.3 1198 352.3 1183.2 349.5ZM1204.4 374.7L1219.4 378.6 1231.1 370.9 1216.1 367Z"/>
<path fill="#aaff38" stroke="#aaff38" d="M1162.3 326.8L1177 328.5 1188.5 319.9 1173.9 318.2Z"/>
<path fill="#c3ff38" stroke="#c3ff38" d="M1196.9 300.4L1211.6 302.3 1223.1 293.2 1208.4 291.3Z"/>
<path fill="#ccff38" stroke="#ccff38" d="M1208.4 291.3L1223.1 293.2 1234.5 284 1219.8 282Z"/>
<path fill="#ea7200" stroke="#ea7200" d="M449 497.4L464.9 510 480.2 512.6 464.4 500.4Z"/>
<path fill="#ed8000" stroke="#ed8000" d="M464.4 500.4L480.2 512.6 495.4 514.9 479.7 503.2Z"/>
<path fill="#f08d00" stroke="#f08d00" d="M479.7 503.2L495.4 514.9 510.6 517 494.9 505.7Z"/>
<path fill="#f39b00" stroke="#f39b00" d="M494.9 505.7L510.6 517 525.6 518.8 510 507.9Z"/>
<path fill="#f6a800" stroke="#f6a800" d="M510 507.9L525.6 518.8 540.6 520.4 524.9 509.9Z"/>
<path fill="#f9b500" stroke="#f9b500" d="M524.9 509.9L540.6 520.4 555.4 521.7 539.8 511.6Z"/>
<path fill="#fbc200" stroke="#fbc200" d="M539.8 511.6L555.4 521.7 570.1 522.8 554.6 513.1Z"/>
<path fill="#fecf00" stroke="#fecf00" d="M554.6 513.1L570.1 522.8 584.8 523.7 569.3 514.4ZM572.9 552L588.7 563.3 603.5 563.3 587.7 552.4Z"/>
<path fill="#ffda00" stroke="#ffda00" d="M569.3 514.4L584.8 523.7 599.4 524.3 583.9 515.3Z"/>
<path fill="#fff700" stroke="#fff700" d="M612.8 516.6L628.2 524.8 642.5 524.8 627.2 516.8Z"/>
<path fill="#f5ff00" stroke="#f5ff00" d="M641.4 516.9L656.7 524.5 670.8 524 655.6 516.7ZM677.4 570.9L693.2 580.6 707.4 579 691.7 569.6ZM678.8 582.1L694.6 592.2 709 590.5 693.2 580.6ZM680.2 593.8L696.1 604.4 710.5 602.5 694.6 592.2ZM670.1 634.8L686.3 647.1 700.9 644.8 684.7 632.8Z"/>
<path fill="#e4ff00" stroke="#e4ff00" d="M669.6 516.2L684.9 523.2 698.9 522.3 683.6 515.6Z"/>
<path fill="#caff00" stroke="#caff00" d="M711.3 513.5L726.5 519.7 740.3 518.1 725.1 512.2ZM762 560.5L777.6 568.5 791.4 565.9 775.9 558.2Z"/>
<path fill="#beff00" stroke="#beff00" d="M725.1 512.2L740.3 518.1 753.9 516.2 738.8 510.6ZM757.1 532.5L772.4 539.1 786.1 536.8 770.7 530.4Z"/>
<path fill="#b2ff00" stroke="#b2ff00" d="M738.8 510.6L753.9 516.2 767.5 514.2 752.4 508.8Z"/>
<path fill="#8bff00" stroke="#8bff00" d="M792.7 502.2L807.7 506.9 821 504 806 499.5ZM807.7 506.9L822.9 511.8 836.1 508.7 821 504ZM872.7 547L888.2 553.6 901.5 549.7 886 543.3ZM881.4 590.9L897.2 599.1 910.6 594.9 894.9 587ZM872.2 619.7L888.2 628.9 901.8 624.6 885.9 615.7ZM798.8 718.4L815.3 731.1 829.6 726.4 813.2 714.1ZM771.9 744.7L788.6 758.3 803.1 753.5 786.5 740.2Z"/>
<path fill="#82ff00" stroke="#82ff00" d="M806 499.5L821 504 834.2 501 819.2 496.7ZM851.3 513.6L866.5 518.8 879.6 515.1 864.4 510.2ZM883.9 533.5L899.3 539.5 912.4 535.5 897.1 529.7Z"/>
<path fill="#6dff00" stroke="#6dff00" d="M845.5 490.3L860.5 494.2 873.5 490.6 858.5 486.9ZM961.4 565.6L977 572.7 990.1 567.9 974.5 561ZM942.3 611.4L958.2 619.9 971.6 615.2 955.7 606.8ZM931.3 629.2L947.3 638.3 960.8 633.5 944.8 624.6ZM817.5 748.7L834.1 761.8 848.4 756.6 831.8 743.8Z"/>
<path fill="#62ff02" stroke="#62ff02" d="M871.5 483.2L886.4 486.7 899.3 482.7 884.4 479.3Z"/>
<path fill="#5bff05" stroke="#5bff05" d="M884.4 479.3L899.3 482.7 912.1 478.5 897.2 475.2Z"/>
<path fill="#56ff09" stroke="#56ff09" d="M897.2 475.2L912.1 478.5 924.9 474 910 470.9Z"/>
<path fill="#53ff0d" stroke="#53ff0d" d="M910 470.9L924.9 474 937.6 469.4 922.7 466.4Z"/>
<path fill="#51ff12" stroke="#51ff12" d="M922.7 466.4L937.6 469.4 950.2 464.6 935.3 461.7Z"/>
<path fill="#50ff17" stroke="#50ff17" d="M935.3 461.7L950.2 464.6 962.8 459.6 947.9 456.8Z"/>
<path fill="#51ff1c" stroke="#51ff1c" d="M947.9 456.8L962.8 459.6 975.3 454.4 960.4 451.8Z"/>
<path fill="#52ff20" stroke="#52ff20" d="M960.4 451.8L975.3 454.4 987.7 449 972.9 446.5Z"/>
<path fill="#54ff24" stroke="#54ff24" d="M972.9 446.5L987.7 449 1000.1 443.5 985.3 441Z"/>
<path fill="#57ff28" stroke="#57ff28" d="M985.3 441L1000.1 443.5 1012.5 437.8 997.7 435.4Z"/>
<path fill="#5aff2c" stroke="#5aff2c" d="M997.7 435.4L1012.5 437.8 1024.8 431.8 1010 429.5Z"/>
<path fill="#5eff2f" stroke="#5eff2f" d="M1010 429.5L1024.8 431.8 1037 425.7 1022.2 423.5Z"/>
<path fill="#63ff31" stroke="#63ff31" d="M1022.2 423.5L1037 425.7 1049.2 419.5 1034.4 417.3Z"/>
<path fill="#68ff33" stroke="#68ff33" d="M1034.4 417.3L1049.2 419.5 1061.4 413 1046.6 410.9Z"/>
<path fill="#6dff35" stroke="#6dff35" d="M1046.6 410.9L1061.4 413 1073.4 406.4 1058.7 404.3Z"/>
<path fill="#73ff36" stroke="#73ff36" d="M1058.7 404.3L1073.4 406.4 1085.5 399.6 1070.7 397.5Z"/>
<path fill="#7aff37" stroke="#7aff37" d="M1070.7 397.5L1085.5 399.6 1097.5 392.6 1082.7 390.6Z"/>
<path fill="#81ff38" stroke="#81ff38" d="M1082.7 390.6L1097.5 392.6 1109.4 385.4 1094.6 383.4Z"/>
<path fill="#87ff38" stroke="#87ff38" d="M1094.6 383.4L1109.4 385.4 1121.3 378.1 1106.5 376.1Z"/>
<path fill="#95ff38" stroke="#95ff38" d="M1130.2 360.9L1144.9 362.9 1156.7 355.1 1141.9 353.1Z"/>
<path fill="#9bff38" stroke="#9bff38" d="M1141.9 353.1L1156.7 355.1 1168.4 347.1 1153.7 345.1ZM1162.8 375.7L1177.7 378.8 1189.5 371.2 1174.6 368.1Z"/>
<path fill="#a1ff38" stroke="#a1ff38" d="M1153.7 345.1L1168.4 347.1 1180.1 338.9 1165.3 336.9Z"/>
<path fill="#afff38" stroke="#afff38" d="M1177 328.5L1191.7 330.6 1203.3 322.1 1188.5 319.9ZM1194.8 341.4L1209.7 344.2 1221.3 336 1206.4 333.1Z"/>
<path fill="#bfff38" stroke="#bfff38" d="M1200.1 311.2L1214.8 313.4 1226.3 304.5 1211.6 302.3ZM1232.8 327.6L1247.7 330.9 1259.2 322.4 1244.3 319Z"/>
<path fill="#d0ff38" stroke="#d0ff38" d="M1223.1 293.2L1237.7 295.5 1249.2 286.4 1234.5 284Z"/>
<path fill="#ed7d00" stroke="#ed7d00" d="M464.9 510L480.7 522.7 496 524.9 480.2 512.6Z"/>
<path fill="#f08a00" stroke="#f08a00" d="M480.2 512.6L496 524.9 511.2 526.7 495.4 514.9Z"/>
<path fill="#f29700" stroke="#f29700" d="M495.4 514.9L511.2 526.7 526.3 528.4 510.6 517Z"/>
<path fill="#f5a400" stroke="#f5a400" d="M510.6 517L526.3 528.4 541.3 529.8 525.6 518.8Z"/>
<path fill="#f8b100" stroke="#f8b100" d="M525.6 518.8L541.3 529.8 556.2 531 540.6 520.4Z"/>
<path fill="#fbbe00" stroke="#fbbe00" d="M540.6 520.4L556.2 531 571 531.9 555.4 521.7Z"/>
<path fill="#fdcb00" stroke="#fdcb00" d="M555.4 521.7L571 531.9 585.7 532.6 570.1 522.8Z"/>
<path fill="#ffd600" stroke="#ffd600" d="M570.1 522.8L585.7 532.6 600.3 533.1 584.8 523.7Z"/>
<path fill="#ffe000" stroke="#ffe000" d="M584.8 523.7L600.3 533.1 614.9 533.4 599.4 524.3Z"/>
<path fill="#f9ff00" stroke="#f9ff00" d="M642.5 524.8L657.9 532.8 672.1 532.2 656.7 524.5Z"/>
<path fill="#bbff00" stroke="#bbff00" d="M740.3 518.1L755.5 524.1 769.1 522 753.9 516.2ZM786.8 628L802.8 638.2 816.9 634.7 800.9 624.8ZM724.1 721.4L740.7 735.2 755.4 731.1 738.8 717.7Z"/>
<path fill="#b0ff00" stroke="#b0ff00" d="M753.9 516.2L769.1 522 782.6 519.8 767.5 514.2ZM805.1 563.1L820.7 570.8 834.4 567.6 818.8 560.2ZM810.9 596.6L826.7 605.4 840.5 602 824.7 593.4ZM790.7 655.7L806.9 666.8 821 662.9 804.8 652.2ZM778.4 674.1L794.7 685.9 808.9 681.9 792.7 670.5Z"/>
<path fill="#9cff00" stroke="#9cff00" d="M781 512L796.1 517.3 809.5 514.6 794.4 509.5ZM842.6 614.4L858.5 623.6 872.2 619.7 856.3 610.8Z"/>
<path fill="#6aff01" stroke="#6aff01" d="M873.5 490.6L888.5 494.6 901.4 490.5 886.4 486.7Z"/>
<path fill="#67ff03" stroke="#67ff03" d="M886.4 486.7L901.4 490.5 914.3 486.4 899.3 482.7Z"/>
<path fill="#62ff06" stroke="#62ff06" d="M899.3 482.7L914.3 486.4 927.1 482 912.1 478.5Z"/>
<path fill="#5dff0b" stroke="#5dff0b" d="M912.1 478.5L927.1 482 939.8 477.4 924.9 474Z"/>
<path fill="#5aff0f" stroke="#5aff0f" d="M924.9 474L939.8 477.4 952.5 472.7 937.6 469.4Z"/>
<path fill="#59ff14" stroke="#59ff14" d="M937.6 469.4L952.5 472.7 965.1 467.7 950.2 464.6Z"/>
<path fill="#59ff19" stroke="#59ff19" d="M950.2 464.6L965.1 467.7 977.7 462.6 962.8 459.6Z"/>
<path fill="#59ff1d" stroke="#59ff1d" d="M962.8 459.6L977.7 462.6 990.2 457.3 975.3 454.4Z"/>
<path fill="#5bff22" stroke="#5bff22" d="M975.3 454.4L990.2 457.3 1002.7 451.9 987.7 449Z"/>
<path fill="#5dff26" stroke="#5dff26" d="M987.7 449L1002.7 451.9 1015 446.3 1000.1 443.5Z"/>
<path fill="#60ff29" stroke="#60ff29" d="M1000.1 443.5L1015 446.3 1027.4 440.4 1012.5 437.8Z"/>
<path fill="#63ff2c" stroke="#63ff2c" d="M1012.5 437.8L1027.4 440.4 1039.7 434.5 1024.8 431.8Z"/>
<path fill="#67ff2f" stroke="#67ff2f" d="M1024.8 431.8L1039.7 434.5 1051.9 428.3 1037 425.7Z"/>
<path fill="#6cff32" stroke="#6cff32" d="M1037 425.7L1051.9 428.3 1064.1 422 1049.2 419.5Z"/>
<path fill="#70ff34" stroke="#70ff34" d="M1049.2 419.5L1064.1 422 1076.2 415.5 1061.4 413Z"/>
<path fill="#76ff35" stroke="#76ff35" d="M1061.4 413L1076.2 415.5 1088.3 408.8 1073.4 406.4Z"/>
<path fill="#7cff36" stroke="#7cff36" d="M1073.4 406.4L1088.3 408.8 1100.3 402 1085.5 399.6Z"/>
<path fill="#82ff37" stroke="#82ff37" d="M1085.5 399.6L1100.3 402 1112.3 395 1097.5 392.6Z"/>
<path fill="#8cff38" stroke="#8cff38" d="M1109.4 385.4L1124.2 387.8 1136.1 380.5 1121.3 378.1Z"/>
<path fill="#94ff38" stroke="#94ff38" d="M1133.1 370.6L1147.9 373 1159.7 365.3 1144.9 362.9ZM1154 393.6L1169 397.1 1180.9 389.7 1165.9 386.3Z"/>
<path fill="#99ff38" stroke="#99ff38" d="M1144.9 362.9L1159.7 365.3 1171.5 357.5 1156.7 355.1ZM1180.9 389.7L1195.9 393.6 1207.7 386.1 1192.7 382.3Z"/>
<path fill="#a5ff38" stroke="#a5ff38" d="M1168.4 347.1L1183.2 349.5 1194.8 341.4 1180.1 338.9ZM1186.3 360.3L1201.2 363.4 1212.9 355.5 1198 352.3Z"/>
<path fill="#b3ff38" stroke="#b3ff38" d="M1191.7 330.6L1206.4 333.1 1218 324.6 1203.3 322.1ZM1224.5 347.5L1239.5 351.1 1251 343 1236.1 339.3ZM1254.4 355.1L1269.4 359.6 1281 351.6 1266 347.1Z"/>
<path fill="#c2ff38" stroke="#c2ff38" d="M1214.8 313.4L1229.5 316 1241 307.2 1226.3 304.5Z"/>
<path fill="#cbff38" stroke="#cbff38" d="M1226.3 304.5L1241 307.2 1252.5 298.3 1237.7 295.5Z"/>
<path fill="#d3ff38" stroke="#d3ff38" d="M1237.7 295.5L1252.5 298.3 1263.9 289.2 1249.2 286.4Z"/>
<path fill="#ef8800" stroke="#ef8800" d="M480.7 522.7L496.7 535.5 511.9 537.2 496 524.9Z"/>
<path fill="#f29500" stroke="#f29500" d="M496 524.9L511.9 537.2 527.1 538.6 511.2 526.7Z"/>
<path fill="#f5a200" stroke="#f5a200" d="M511.2 526.7L527.1 538.6 542.1 539.9 526.3 528.4Z"/>
<path fill="#f7af00" stroke="#f7af00" d="M526.3 528.4L542.1 539.9 557.1 540.9 541.3 529.8Z"/>
<path fill="#fabb00" stroke="#fabb00" d="M541.3 529.8L557.1 540.9 571.9 541.6 556.2 531Z"/>
<path fill="#fdc700" stroke="#fdc700" d="M556.2 531L571.9 541.6 586.7 542.2 571 531.9Z"/>
<path fill="#ffd300" stroke="#ffd300" d="M571 531.9L586.7 542.2 601.4 542.5 585.7 532.6Z"/>
<path fill="#ffdd00" stroke="#ffdd00" d="M585.7 532.6L601.4 542.5 615.9 542.7 600.3 533.1Z"/>
<path fill="#ffe700" stroke="#ffe700" d="M600.3 533.1L615.9 542.7 630.4 542.6 614.9 533.4Z"/>
<path fill="#fff000" stroke="#fff000" d="M614.9 533.4L630.4 542.6 644.8 542.3 629.3 533.4Z"/>
<path fill="#fff900" stroke="#fff900" d="M629.3 533.4L644.8 542.3 659.1 541.8 643.7 533.2Z"/>
<path fill="#d6ff00" stroke="#d6ff00" d="M714.1 529.1L729.5 536.1 743.3 534.4 728 527.7ZM731 545.1L746.5 552.8 760.3 550.7 744.9 543.3ZM731.6 654L747.8 665.8 762.2 662.5 746 651Z"/>
<path fill="#adff00" stroke="#adff00" d="M769.1 522L784.3 528 797.9 525.5 782.6 519.8Z"/>
<path fill="#76ff00" stroke="#76ff00" d="M862.4 502L877.6 506.6 890.6 502.8 875.5 498.4ZM877.6 506.6L892.7 511.3 905.8 507.4 890.6 502.8ZM892.7 511.3L908 516.4 921 512.2 905.8 507.4ZM935 574.5L950.7 581.9 963.9 577.4 948.2 570.1ZM915.4 620.3L931.3 629.2 944.8 624.6 928.9 615.9ZM904.2 638.2L920.2 647.6 933.8 643 917.8 633.7ZM1463.3 382L1478.7 391.3 1489.9 384.1 1474.6 374.7Z"/>
<path fill="#6cff02" stroke="#6cff02" d="M888.5 494.6L903.6 498.8 916.5 494.6 901.4 490.5ZM966.9 528.2L982.4 534.1 995.3 529.2 979.8 523.5Z"/>
<path fill="#69ff04" stroke="#69ff04" d="M901.4 490.5L916.5 494.6 929.3 490.3 914.3 486.4ZM1379.7 416.8L1395.1 424.8 1406.6 417.8 1391.2 409.7Z"/>
<path fill="#67ff08" stroke="#67ff08" d="M914.3 486.4L929.3 490.3 942.1 485.7 927.1 482Z"/>
<path fill="#63ff0c" stroke="#63ff0c" d="M927.1 482L942.1 485.7 954.9 481.1 939.8 477.4Z"/>
<path fill="#61ff11" stroke="#61ff11" d="M939.8 477.4L954.9 481.1 967.5 476.2 952.5 472.7Z"/>
<path fill="#60ff15" stroke="#60ff15" d="M952.5 472.7L967.5 476.2 980.1 471.2 965.1 467.7Z"/>
<path fill="#5fff1a" stroke="#5fff1a" d="M965.1 467.7L980.1 471.2 992.7 466 977.7 462.6ZM1151.6 484.9L1167 490.7 1179.3 484.5 1163.8 478.6Z"/>
<path fill="#60ff1e" stroke="#60ff1e" d="M977.7 462.6L992.7 466 1005.2 460.6 990.2 457.3Z"/>
<path fill="#62ff22" stroke="#62ff22" d="M990.2 457.3L1005.2 460.6 1017.6 455 1002.7 451.9Z"/>
<path fill="#64ff26" stroke="#64ff26" d="M1002.7 451.9L1017.6 455 1030 449.3 1015 446.3Z"/>
<path fill="#67ff2a" stroke="#67ff2a" d="M1015 446.3L1030 449.3 1042.3 443.4 1027.4 440.4Z"/>
<path fill="#6aff2d" stroke="#6aff2d" d="M1027.4 440.4L1042.3 443.4 1054.6 437.4 1039.7 434.5Z"/>
<path fill="#6eff30" stroke="#6eff30" d="M1039.7 434.5L1054.6 437.4 1066.8 431.2 1051.9 428.3Z"/>
<path fill="#73ff32" stroke="#73ff32" d="M1051.9 428.3L1066.8 431.2 1079 424.8 1064.1 422Z"/>
<path fill="#78ff34" stroke="#78ff34" d="M1064.1 422L1079 424.8 1091.1 418.3 1076.2 415.5Z"/>
<path fill="#7dff35" stroke="#7dff35" d="M1076.2 415.5L1091.1 418.3 1103.2 411.6 1088.3 408.8Z"/>
<path fill="#83ff36" stroke="#83ff36" d="M1088.3 408.8L1103.2 411.6 1115.2 404.7 1100.3 402Z"/>
<path fill="#87ff37" stroke="#87ff37" d="M1100.3 402L1115.2 404.7 1127.2 397.7 1112.3 395Z"/>
<path fill="#93ff38" stroke="#93ff38" d="M1136.1 380.5L1151 383.2 1162.8 375.7 1147.9 373Z"/>
<path fill="#98ff38" stroke="#98ff38" d="M1147.9 373L1162.8 375.7 1174.6 368.1 1159.7 365.3ZM1165.9 386.3L1180.9 389.7 1192.7 382.3 1177.7 378.8Z"/>
<path fill="#b6ff38" stroke="#b6ff38" d="M1206.4 333.1L1221.3 336 1232.8 327.6 1218 324.6Z"/>
<path fill="#bdff38" stroke="#bdff38" d="M1218 324.6L1232.8 327.6 1244.3 319 1229.5 316Z"/>
<path fill="#c5ff38" stroke="#c5ff38" d="M1229.5 316L1244.3 319 1255.8 310.3 1241 307.2Z"/>
<path fill="#cdff38" stroke="#cdff38" d="M1241 307.2L1255.8 310.3 1267.3 301.4 1252.5 298.3Z"/>
<path fill="#d6ff38" stroke="#d6ff38" d="M1252.5 298.3L1267.3 301.4 1278.7 292.4 1263.9 289.2Z"/>
<path fill="#f19400" stroke="#f19400" d="M496.7 535.5L512.6 548.3 527.8 549.6 511.9 537.2Z"/>
<path fill="#f4a000" stroke="#f4a000" d="M511.9 537.2L527.8 549.6 542.9 550.6 527.1 538.6Z"/>
<path fill="#f7ad00" stroke="#f7ad00" d="M527.1 538.6L542.9 550.6 557.9 551.4 542.1 539.9Z"/>
<path fill="#fcc500" stroke="#fcc500" d="M557.1 540.9L572.9 552 587.7 552.4 571.9 541.6Z"/>
<path fill="#fed100" stroke="#fed100" d="M571.9 541.6L587.7 552.4 602.4 552.6 586.7 542.2Z"/>
<path fill="#ffdb00" stroke="#ffdb00" d="M586.7 542.2L602.4 552.6 617 552.6 601.4 542.5Z"/>
<path fill="#fff600" stroke="#fff600" d="M630.4 542.6L646 551.9 660.4 551.3 644.8 542.3Z"/>
<path fill="#f7ff00" stroke="#f7ff00" d="M659.1 541.8L674.7 550.4 688.9 549.4 673.4 541Z"/>
<path fill="#f0ff00" stroke="#f0ff00" d="M673.4 541L688.9 549.4 703 548.2 687.5 540.1Z"/>
<path fill="#c8ff00" stroke="#c8ff00" d="M743.3 534.4L758.7 541.3 772.4 539.1 757.1 532.5ZM770.8 617.9L786.8 628 800.9 624.8 784.9 615Z"/>
<path fill="#a1ff00" stroke="#a1ff00" d="M797.9 525.5L813.2 531.5 826.6 528.6 811.3 522.8ZM834.4 567.6L850 575.2 863.5 571.7 847.9 564.3ZM838.4 590L854.2 598.4 867.8 594.7 852.1 586.6ZM818.9 648.6L835 659 849 655 832.9 644.8ZM806.9 666.8L823.1 677.9 837.2 673.8 821 662.9Z"/>
<path fill="#98ff00" stroke="#98ff00" d="M811.3 522.8L826.6 528.6 840 525.5 824.7 520ZM845.9 553.9L861.4 560.9 874.8 557.3 859.3 550.6ZM854.2 598.4L870 607 883.6 603.1 867.8 594.7ZM844.7 627.4L860.7 637 874.5 633 858.5 623.6ZM769.9 727L786.5 740.2 800.9 735.7 784.4 722.7Z"/>
<path fill="#90ff00" stroke="#90ff00" d="M824.7 520L840 525.5 853.2 522.2 838 516.9ZM811 697.7L827.4 709.6 841.6 705.2 825.2 693.5Z"/>
<path fill="#71ff00" stroke="#71ff00" d="M890.6 502.8L905.8 507.4 918.7 503.2 903.6 498.8ZM938.6 527.1L954 532.8 966.9 528.2 951.6 522.7ZM948.2 570.1L963.9 577.4 977 572.7 961.4 565.6ZM939.8 598.7L955.7 606.8 969 602.1 953.2 594.1ZM928.9 615.9L944.8 624.6 958.2 619.9 942.3 611.4ZM917.8 633.7L933.8 643 947.3 638.3 931.3 629.2ZM1452.1 389.2L1467.4 398.4 1478.7 391.3 1463.3 382Z"/>
<path fill="#6eff02" stroke="#6eff02" d="M903.6 498.8L918.7 503.2 931.6 498.9 916.5 494.6ZM951.6 522.7L966.9 528.2 979.8 523.5 964.5 518.1Z"/>
<path fill="#6bff05" stroke="#6bff05" d="M916.5 494.6L931.6 498.9 944.4 494.4 929.3 490.3Z"/>
<path fill="#6aff09" stroke="#6aff09" d="M929.3 490.3L944.4 494.4 957.2 489.8 942.1 485.7Z"/>
<path fill="#67ff0d" stroke="#67ff0d" d="M942.1 485.7L957.2 489.8 969.9 485 954.9 481.1Z"/>
<path fill="#65ff12" stroke="#65ff12" d="M954.9 481.1L969.9 485 982.6 480 967.5 476.2Z"/>
<path fill="#64ff16" stroke="#64ff16" d="M967.5 476.2L982.6 480 995.2 474.9 980.1 471.2Z"/>
<path fill="#65ff1b" stroke="#65ff1b" d="M980.1 471.2L995.2 474.9 1007.7 469.6 992.7 466Z"/>
<path fill="#66ff1f" stroke="#66ff1f" d="M992.7 466L1007.7 469.6 1020.2 464.1 1005.2 460.6Z"/>
<path fill="#67ff23" stroke="#67ff23" d="M1005.2 460.6L1020.2 464.1 1032.6 458.5 1017.6 455Z"/>
<path fill="#6aff27" stroke="#6aff27" d="M1017.6 455L1032.6 458.5 1045 452.7 1030 449.3Z"/>
<path fill="#6dff2a" stroke="#6dff2a" d="M1030 449.3L1045 452.7 1057.3 446.7 1042.3 443.4Z"/>
<path fill="#70ff2d" stroke="#70ff2d" d="M1042.3 443.4L1057.3 446.7 1069.6 440.6 1054.6 437.4Z"/>
<path fill="#74ff30" stroke="#74ff30" d="M1054.6 437.4L1069.6 440.6 1081.8 434.4 1066.8 431.2Z"/>
<path fill="#78ff32" stroke="#78ff32" d="M1066.8 431.2L1081.8 434.4 1094 428 1079 424.8Z"/>
<path fill="#7dff34" stroke="#7dff34" d="M1079 424.8L1094 428 1106.1 421.4 1091.1 418.3Z"/>
<path fill="#83ff35" stroke="#83ff35" d="M1091.1 418.3L1106.1 421.4 1118.1 414.7 1103.2 411.6Z"/>
<path fill="#87ff36" stroke="#87ff36" d="M1103.2 411.6L1118.1 414.7 1130.1 407.8 1115.2 404.7Z"/>
<path fill="#8aff37" stroke="#8aff37" d="M1115.2 404.7L1130.1 407.8 1142.1 400.8 1127.2 397.7Z"/>
<path fill="#92ff38" stroke="#92ff38" d="M1139.1 390.5L1154 393.6 1165.9 386.3 1151 383.2Z"/>
<path fill="#abff38" stroke="#abff38" d="M1198 352.3L1212.9 355.5 1224.5 347.5 1209.7 344.2Z"/>
<path fill="#b1ff38" stroke="#b1ff38" d="M1209.7 344.2L1224.5 347.5 1236.1 339.3 1221.3 336Z"/>
<path fill="#b8ff38" stroke="#b8ff38" d="M1221.3 336L1236.1 339.3 1247.7 330.9 1232.8 327.6Z"/>
<path fill="#cfff38" stroke="#cfff38" d="M1255.8 310.3L1270.7 313.8 1282.1 305 1267.3 301.4ZM1270.7 313.8L1285.6 317.7 1297 309 1282.1 305ZM1285.6 317.7L1300.5 322.1 1311.9 313.5 1297 309Z"/>
<path fill="#d7ff38" stroke="#d7ff38" d="M1267.3 301.4L1282.1 305 1293.5 296.1 1278.7 292.4ZM1282.1 305L1297 309 1308.4 300.2 1293.5 296.1ZM1297 309L1311.9 313.5 1323.3 304.8 1308.4 300.2Z"/>
<path fill="#f39f00" stroke="#f39f00" d="M512.6 548.3L528.6 561.2 543.8 562 527.8 549.6Z"/>
<path fill="#f6ab00" stroke="#f6ab00" d="M527.8 549.6L543.8 562 558.9 562.7 542.9 550.6Z"/>
<path fill="#f9b700" stroke="#f9b700" d="M542.9 550.6L558.9 562.7 573.8 563.1 557.9 551.4Z"/>
<path fill="#fbc300" stroke="#fbc300" d="M557.9 551.4L573.8 563.1 588.7 563.3 572.9 552Z"/>
<path fill="#ffe300" stroke="#ffe300" d="M602.4 552.6L618.2 563.1 632.8 562.7 617 552.6Z"/>
<path fill="#ffeb00" stroke="#ffeb00" d="M617 552.6L632.8 562.7 647.3 562.1 631.6 552.3Z"/>
<path fill="#faff00" stroke="#faff00" d="M660.4 551.3L676 560.4 690.3 559.2 674.7 550.4ZM667.1 607.8L683.2 619.2 697.7 617.2 681.7 606.2Z"/>
<path fill="#ebff00" stroke="#ebff00" d="M688.9 549.4L704.5 557.9 718.5 556.4 703 548.2ZM697.7 617.2L713.7 628.4 728.1 626 712.1 615.1ZM686.3 647.1L702.5 659.5 717.1 656.8 700.9 644.8Z"/>
<path fill="#ceff00" stroke="#ceff00" d="M744.9 543.3L760.3 550.7 774.1 548.4 758.7 541.3Z"/>
<path fill="#c3ff00" stroke="#c3ff00" d="M758.7 541.3L774.1 548.4 787.8 546 772.4 539.1ZM779.4 579.3L795.1 587.9 808.9 584.9 793.2 576.6ZM781.2 590.7L797 599.6 810.9 596.6 795.1 587.9Z"/>
<path fill="#b9ff00" stroke="#b9ff00" d="M772.4 539.1L787.8 546 801.5 543.4 786.1 536.8ZM791.4 565.9L807 573.8 820.7 570.8 805.1 563.1ZM797 599.6L812.8 608.7 826.7 605.4 810.9 596.6Z"/>
<path fill="#afff00" stroke="#afff00" d="M786.1 536.8L801.5 543.4 815 540.6 799.7 534.2ZM766 693.5L782.4 705.9 796.7 701.8 780.4 689.7Z"/>
<path fill="#96ff00" stroke="#96ff00" d="M826.6 528.6L841.9 534.5 855.3 531.2 840 525.5ZM843.9 544L859.3 550.6 872.7 547 857.3 540.7ZM796.7 701.8L813.2 714.1 827.4 709.6 811 697.7Z"/>
<path fill="#8eff00" stroke="#8eff00" d="M840 525.5L855.3 531.2 868.5 527.8 853.2 522.2Z"/>
<path fill="#87ff00" stroke="#87ff00" d="M853.2 522.2L868.5 527.8 881.7 524.1 866.5 518.8ZM890.4 564.3L906 571.4 919.3 567.3 903.7 560.3ZM874.5 633L890.5 642.5 904.2 638.2 888.2 628.9ZM862.9 650.9L879 661.1 892.8 656.7 876.7 646.8Z"/>
<path fill="#71ff01" stroke="#71ff01" d="M905.8 507.4L921 512.2 933.9 507.9 918.7 503.2ZM921 512.2L936.2 517.3 949.2 512.9 933.9 507.9Z"/>
<path fill="#6eff03" stroke="#6eff03" d="M918.7 503.2L933.9 507.9 946.8 503.5 931.6 498.9Z"/>
<path fill="#6cff06" stroke="#6cff06" d="M931.6 498.9L946.8 503.5 959.6 498.9 944.4 494.4Z"/>
<path fill="#6bff0a" stroke="#6bff0a" d="M944.4 494.4L959.6 498.9 972.4 494.1 957.2 489.8ZM990.1 508.5L1005.5 513.7 1018.2 508.6 1002.9 503.5Z"/>
<path fill="#6aff0e" stroke="#6aff0e" d="M957.2 489.8L972.4 494.1 985.1 489.2 969.9 485Z"/>
<path fill="#68ff12" stroke="#68ff12" d="M969.9 485L985.1 489.2 997.7 484.1 982.6 480Z"/>
<path fill="#68ff17" stroke="#68ff17" d="M982.6 480L997.7 484.1 1010.3 478.8 995.2 474.9Z"/>
<path fill="#68ff1b" stroke="#68ff1b" d="M995.2 474.9L1010.3 478.8 1022.8 473.4 1007.7 469.6Z"/>
<path fill="#69ff1f" stroke="#69ff1f" d="M1007.7 469.6L1022.8 473.4 1035.3 467.9 1020.2 464.1ZM1108.6 480.2L1123.9 485.4 1136.2 479.3 1120.9 474.1Z"/>
<path fill="#6bff23" stroke="#6bff23" d="M1020.2 464.1L1035.3 467.9 1047.7 462.2 1032.6 458.5Z"/>
<path fill="#6eff26" stroke="#6eff26" d="M1032.6 458.5L1047.7 462.2 1060.1 456.3 1045 452.7Z"/>
<path fill="#70ff2a" stroke="#70ff2a" d="M1045 452.7L1060.1 456.3 1072.4 450.3 1057.3 446.7Z"/>
<path fill="#74ff2d" stroke="#74ff2d" d="M1057.3 446.7L1072.4 450.3 1084.6 444.2 1069.6 440.6Z"/>
<path fill="#78ff2f" stroke="#78ff2f" d="M1069.6 440.6L1084.6 444.2 1096.8 437.9 1081.8 434.4Z"/>
<path fill="#7cff31" stroke="#7cff31" d="M1081.8 434.4L1096.8 437.9 1109 431.5 1094 428Z"/>
<path fill="#81ff33" stroke="#81ff33" d="M1094 428L1109 431.5 1121.1 424.9 1106.1 421.4Z"/>
<path fill="#85ff35" stroke="#85ff35" d="M1106.1 421.4L1121.1 424.9 1133.1 418.1 1118.1 414.7Z"/>
<path fill="#89ff36" stroke="#89ff36" d="M1118.1 414.7L1133.1 418.1 1145.1 411.2 1130.1 407.8Z"/>
<path fill="#8cff37" stroke="#8cff37" d="M1130.1 407.8L1145.1 411.2 1157.1 404.2 1142.1 400.8Z"/>
<path fill="#90ff37" stroke="#90ff37" d="M1142.1 400.8L1157.1 404.2 1169 397.1 1154 393.6Z"/>
<path fill="#a2ff38" stroke="#a2ff38" d="M1189.5 371.2L1204.4 374.7 1216.1 367 1201.2 363.4Z"/>
<path fill="#adff38" stroke="#adff38" d="M1212.9 355.5L1227.8 359.1 1239.5 351.1 1224.5 347.5ZM1242.8 363.1L1257.8 367.5 1269.4 359.6 1254.4 355.1Z"/>
<path fill="#b9ff38" stroke="#b9ff38" d="M1236.1 339.3L1251 343 1262.6 334.7 1247.7 330.9ZM1266 347.1L1281 351.6 1292.5 343.5 1277.5 338.9Z"/>
<path fill="#c0ff38" stroke="#c0ff38" d="M1247.7 330.9L1262.6 334.7 1274.1 326.3 1259.2 322.4ZM1277.5 338.9L1292.5 343.5 1304 335.2 1289 330.5Z"/>
<path fill="#c8ff38" stroke="#c8ff38" d="M1259.2 322.4L1274.1 326.3 1285.6 317.7 1270.7 313.8ZM1274.1 326.3L1289 330.5 1300.5 322.1 1285.6 317.7Z"/>
<path fill="#f5ab00" stroke="#f5ab00" d="M528.6 561.2L544.7 574.2 559.8 574.6 543.8 562Z"/>
<path fill="#fac200" stroke="#fac200" d="M558.9 562.7L574.8 574.8 589.8 574.8 573.8 563.1ZM559.8 574.6L575.9 587.2 590.8 587 574.8 574.8Z"/>
<path fill="#fdce00" stroke="#fdce00" d="M573.8 563.1L589.8 574.8 604.6 574.6 588.7 563.3Z"/>
<path fill="#ffe200" stroke="#ffe200" d="M603.5 563.3L619.3 574.3 634 573.7 618.2 563.1ZM605.7 586.6L621.7 598.6 636.5 597.6 620.5 586.1Z"/>
<path fill="#d8ff00" stroke="#d8ff00" d="M732.6 554.6L748.1 562.7 762 560.5 746.5 552.8Z"/>
<path fill="#c7ff00" stroke="#c7ff00" d="M760.3 550.7L775.9 558.2 789.6 555.7 774.1 548.4ZM760.3 648L776.5 659.2 790.7 655.7 774.6 644.8ZM722.3 704.3L738.8 717.7 753.4 713.8 737 700.7Z"/>
<path fill="#bdff00" stroke="#bdff00" d="M774.1 548.4L789.6 555.7 803.3 553 787.8 546Z"/>
<path fill="#abff00" stroke="#abff00" d="M801.5 543.4L816.9 550.2 830.4 547.2 815 540.6ZM814.8 621.5L830.8 631.1 844.7 627.4 828.7 618ZM753.4 713.8L769.9 727 784.4 722.7 767.9 709.9Z"/>
<path fill="#a2ff00" stroke="#a2ff00" d="M815 540.6L830.4 547.2 843.9 544 828.5 537.6ZM836.4 578.6L852.1 586.6 865.7 583 850 575.2Z"/>
<path fill="#9aff00" stroke="#9aff00" d="M828.5 537.6L843.9 544 857.3 540.7 841.9 534.5ZM847.9 564.3L863.5 571.7 877 568 861.4 560.9ZM850 575.2L865.7 583 879.2 579.3 863.5 571.7ZM852.1 586.6L867.8 594.7 881.4 590.9 865.7 583ZM832.9 644.8L849 655 862.9 650.9 846.8 641ZM821 662.9L837.2 673.8 851.2 669.7 835 659Z"/>
<path fill="#7fff00" stroke="#7fff00" d="M881.7 524.1L897.1 529.7 910.2 525.7 894.9 520.3ZM899.3 539.5L914.7 545.7 927.9 541.5 912.4 535.5ZM908.3 583L924.1 590.7 937.4 586.4 921.7 578.8ZM899.5 611.6L915.4 620.3 928.9 615.9 913 607.4ZM827.4 709.6L843.8 721.7 858 716.9 841.6 705.2ZM800.9 735.7L817.5 748.7 831.8 743.8 815.3 731.1Z"/>
<path fill="#7aff00" stroke="#7aff00" d="M894.9 520.3L910.2 525.7 923.2 521.6 908 516.4ZM912.4 535.5L927.9 541.5 940.9 537.2 925.5 531.4ZM921.7 578.8L937.4 586.4 950.7 581.9 935 574.5ZM913 607.4L928.9 615.9 942.3 611.4 926.5 603.1ZM879 661.1L895.2 671.4 909 666.7 892.8 656.7ZM841.6 705.2L858 716.9 872.1 712.1 855.7 700.6ZM815.3 731.1L831.8 743.8 846.1 738.9 829.6 726.4Z"/>
<path fill="#6eff04" stroke="#6eff04" d="M933.9 507.9L949.2 512.9 962 508.3 946.8 503.5ZM949.2 512.9L964.5 518.1 977.3 513.4 962 508.3Z"/>
<path fill="#6dff07" stroke="#6dff07" d="M946.8 503.5L962 508.3 974.8 503.6 959.6 498.9Z"/>
<path fill="#6cff0a" stroke="#6cff0a" d="M959.6 498.9L974.8 503.6 987.6 498.7 972.4 494.1Z"/>
<path fill="#6bff0e" stroke="#6bff0e" d="M972.4 494.1L987.6 498.7 1000.3 493.6 985.1 489.2ZM987.6 498.7L1002.9 503.5 1015.5 498.4 1000.3 493.6Z"/>
<path fill="#6aff13" stroke="#6aff13" d="M985.1 489.2L1000.3 493.6 1012.9 488.4 997.7 484.1Z"/>
<path fill="#6aff17" stroke="#6aff17" d="M997.7 484.1L1012.9 488.4 1025.5 483.1 1010.3 478.8Z"/>
<path fill="#6aff1b" stroke="#6aff1b" d="M1010.3 478.8L1025.5 483.1 1038 477.6 1022.8 473.4Z"/>
<path fill="#6bff1f" stroke="#6bff1f" d="M1022.8 473.4L1038 477.6 1050.5 472 1035.3 467.9Z"/>
<path fill="#6dff22" stroke="#6dff22" d="M1035.3 467.9L1050.5 472 1062.9 466.2 1047.7 462.2Z"/>
<path fill="#70ff26" stroke="#70ff26" d="M1047.7 462.2L1062.9 466.2 1075.2 460.3 1060.1 456.3Z"/>
<path fill="#73ff29" stroke="#73ff29" d="M1060.1 456.3L1075.2 460.3 1087.5 454.3 1072.4 450.3Z"/>
<path fill="#76ff2c" stroke="#76ff2c" d="M1072.4 450.3L1087.5 454.3 1099.7 448.1 1084.6 444.2Z"/>
<path fill="#7aff2e" stroke="#7aff2e" d="M1084.6 444.2L1099.7 448.1 1111.9 441.7 1096.8 437.9Z"/>
<path fill="#7fff30" stroke="#7fff30" d="M1096.8 437.9L1111.9 441.7 1124.1 435.3 1109 431.5Z"/>
<path fill="#83ff32" stroke="#83ff32" d="M1109 431.5L1124.1 435.3 1136.2 428.7 1121.1 424.9Z"/>
<path fill="#86ff34" stroke="#86ff34" d="M1121.1 424.9L1136.2 428.7 1148.2 421.9 1133.1 418.1Z"/>
<path fill="#8aff35" stroke="#8aff35" d="M1133.1 418.1L1148.2 421.9 1160.2 415 1145.1 411.2Z"/>
<path fill="#8dff36" stroke="#8dff36" d="M1145.1 411.2L1160.2 415 1172.1 408 1157.1 404.2Z"/>
<path fill="#91ff37" stroke="#91ff37" d="M1157.1 404.2L1172.1 408 1184 400.9 1169 397.1Z"/>
<path fill="#b4ff38" stroke="#b4ff38" d="M1239.5 351.1L1254.4 355.1 1266 347.1 1251 343Z"/>
<path fill="#f7b700" stroke="#f7b700" d="M544.7 574.2L560.8 587.2 575.9 587.2 559.8 574.6Z"/>
<path fill="#fccd00" stroke="#fccd00" d="M574.8 574.8L590.8 587 605.7 586.6 589.8 574.8Z"/>
<path fill="#ffd800" stroke="#ffd800" d="M589.8 574.8L605.7 586.6 620.5 586.1 604.6 574.6Z"/>
<path fill="#ffe100" stroke="#ffe100" d="M604.6 574.6L620.5 586.1 635.2 585.3 619.3 574.3Z"/>
<path fill="#fff200" stroke="#fff200" d="M634 573.7L649.8 584.4 664.4 583.3 648.5 573ZM635.2 585.3L651.2 596.5 665.7 595.3 649.8 584.4Z"/>
<path fill="#fffa00" stroke="#fffa00" d="M648.5 573L664.4 583.3 678.8 582.1 663 572ZM649.8 584.4L665.7 595.3 680.2 593.8 664.4 583.3Z"/>
<path fill="#e0ff00" stroke="#e0ff00" d="M720.1 566.5L735.7 575.3 749.8 573.2 734.1 564.7ZM724.8 600.4L740.7 610.5 754.9 608 739 598.2Z"/>
<path fill="#aeff00" stroke="#aeff00" d="M803.3 553L818.8 560.2 832.4 557.2 816.9 550.2ZM812.8 608.7L828.7 618 842.6 614.4 826.7 605.4ZM802.8 638.2L818.9 648.6 832.9 644.8 816.9 634.7Z"/>
<path fill="#7dff00" stroke="#7dff00" d="M897.1 529.7L912.4 535.5 925.5 531.4 910.2 525.7ZM910.6 594.9L926.5 603.1 939.8 598.7 924.1 590.7ZM774 763.1L790.7 777.1 805.2 772.1 788.6 758.3Z"/>
<path fill="#73ff00" stroke="#73ff00" d="M923.2 521.6L938.6 527.1 951.6 522.7 936.2 517.3ZM943.3 547.8L958.9 554.3 971.9 549.7 956.4 543.3ZM881.4 675.9L897.6 686.6 911.4 681.8 895.2 671.4Z"/>
<path fill="#70ff02" stroke="#70ff02" d="M936.2 517.3L951.6 522.7 964.5 518.1 949.2 512.9ZM1402.6 402.5L1418 410.7 1429.4 403.6 1414.1 395.3Z"/>
<path fill="#6cff07" stroke="#6cff07" d="M962 508.3L977.3 513.4 990.1 508.5 974.8 503.6Z"/>
<path fill="#6cff0b" stroke="#6cff0b" d="M974.8 503.6L990.1 508.5 1002.9 503.5 987.6 498.7Z"/>
<path fill="#6aff12" stroke="#6aff12" d="M1000.3 493.6L1015.5 498.4 1028.1 493.1 1012.9 488.4Z"/>
<path fill="#6aff16" stroke="#6aff16" d="M1012.9 488.4L1028.1 493.1 1040.7 487.7 1025.5 483.1Z"/>
<path fill="#6bff1a" stroke="#6bff1a" d="M1025.5 483.1L1040.7 487.7 1053.2 482.1 1038 477.6Z"/>
<path fill="#6cff1e" stroke="#6cff1e" d="M1038 477.6L1053.2 482.1 1065.7 476.4 1050.5 472Z"/>
<path fill="#6eff21" stroke="#6eff21" d="M1050.5 472L1065.7 476.4 1078 470.6 1062.9 466.2Z"/>
<path fill="#71ff25" stroke="#71ff25" d="M1062.9 466.2L1078 470.6 1090.4 464.6 1075.2 460.3Z"/>
<path fill="#74ff28" stroke="#74ff28" d="M1075.2 460.3L1090.4 464.6 1102.7 458.5 1087.5 454.3Z"/>
<path fill="#77ff2a" stroke="#77ff2a" d="M1087.5 454.3L1102.7 458.5 1114.9 452.3 1099.7 448.1Z"/>
<path fill="#7bff2d" stroke="#7bff2d" d="M1099.7 448.1L1114.9 452.3 1127.1 445.9 1111.9 441.7Z"/>
<path fill="#80ff2f" stroke="#80ff2f" d="M1111.9 441.7L1127.1 445.9 1139.2 439.4 1124.1 435.3Z"/>
<path fill="#83ff31" stroke="#83ff31" d="M1124.1 435.3L1139.2 439.4 1151.3 432.8 1136.2 428.7Z"/>
<path fill="#86ff32" stroke="#86ff32" d="M1136.2 428.7L1151.3 432.8 1163.3 426 1148.2 421.9Z"/>
<path fill="#8aff34" stroke="#8aff34" d="M1148.2 421.9L1163.3 426 1175.3 419.2 1160.2 415Z"/>
<path fill="#8dff35" stroke="#8dff35" d="M1160.2 415L1175.3 419.2 1187.2 412.2 1172.1 408Z"/>
<path fill="#91ff36" stroke="#91ff36" d="M1172.1 408L1187.2 412.2 1199.1 405 1184 400.9Z"/>
<path fill="#95ff36" stroke="#95ff36" d="M1184 400.9L1199.1 405 1210.9 397.8 1195.9 393.6Z"/>
<path fill="#99ff37" stroke="#99ff37" d="M1195.9 393.6L1210.9 397.8 1222.7 390.4 1207.7 386.1Z"/>
<path fill="#9eff37" stroke="#9eff37" d="M1207.7 386.1L1222.7 390.4 1234.5 382.9 1219.4 378.6Z"/>
<path fill="#a3ff37" stroke="#a3ff37" d="M1219.4 378.6L1234.5 382.9 1246.2 375.2 1231.1 370.9Z"/>
<path fill="#ceff38" stroke="#ceff38" d="M1300.5 322.1L1315.5 326.9 1326.9 318.4 1311.9 313.5Z"/>
<path fill="#d5ff38" stroke="#d5ff38" d="M1311.9 313.5L1326.9 318.4 1338.2 309.8 1323.3 304.8Z"/>
<path fill="#f9c300" stroke="#f9c300" d="M560.8 587.2L576.9 600.3 592 599.9 575.9 587.2Z"/>
<path fill="#fbce00" stroke="#fbce00" d="M575.9 587.2L592 599.9 606.9 599.3 590.8 587Z"/>
<path fill="#fed900" stroke="#fed900" d="M590.8 587L606.9 599.3 621.7 598.6 605.7 586.6Z"/>
<path fill="#ccff00" stroke="#ccff00" d="M763.7 570.9L779.4 579.3 793.2 576.6 777.6 568.5ZM767.2 593.3L783 602.6 797 599.6 781.2 590.7Z"/>
<path fill="#a8ff00" stroke="#a8ff00" d="M818.8 560.2L834.4 567.6 847.9 564.3 832.4 557.2Z"/>
<path fill="#a0ff00" stroke="#a0ff00" d="M832.4 557.2L847.9 564.3 861.4 560.9 845.9 553.9ZM794.7 685.9L811 697.7 825.2 693.5 808.9 681.9Z"/>
<path fill="#6cff04" stroke="#6cff04" d="M964.5 518.1L979.8 523.5 992.7 518.7 977.3 513.4Z"/>
<path fill="#6bff07" stroke="#6bff07" d="M977.3 513.4L992.7 518.7 1005.5 513.7 990.1 508.5Z"/>
<path fill="#69ff0e" stroke="#69ff0e" d="M1002.9 503.5L1018.2 508.6 1030.8 503.4 1015.5 498.4Z"/>
<path fill="#69ff12" stroke="#69ff12" d="M1015.5 498.4L1030.8 503.4 1043.4 498 1028.1 493.1Z"/>
<path fill="#69ff16" stroke="#69ff16" d="M1028.1 493.1L1043.4 498 1056 492.5 1040.7 487.7Z"/>
<path fill="#6aff19" stroke="#6aff19" d="M1040.7 487.7L1056 492.5 1068.5 486.9 1053.2 482.1Z"/>
<path fill="#6bff1d" stroke="#6bff1d" d="M1053.2 482.1L1068.5 486.9 1080.9 481.1 1065.7 476.4Z"/>
<path fill="#6dff20" stroke="#6dff20" d="M1065.7 476.4L1080.9 481.1 1093.3 475.2 1078 470.6Z"/>
<path fill="#70ff23" stroke="#70ff23" d="M1078 470.6L1093.3 475.2 1105.6 469.2 1090.4 464.6Z"/>
<path fill="#73ff26" stroke="#73ff26" d="M1090.4 464.6L1105.6 469.2 1117.9 463.1 1102.7 458.5Z"/>
<path fill="#77ff29" stroke="#77ff29" d="M1102.7 458.5L1117.9 463.1 1130.1 456.8 1114.9 452.3Z"/>
<path fill="#7bff2b" stroke="#7bff2b" d="M1114.9 452.3L1130.1 456.8 1142.3 450.4 1127.1 445.9Z"/>
<path fill="#7fff2d" stroke="#7fff2d" d="M1127.1 445.9L1142.3 450.4 1154.4 443.9 1139.2 439.4Z"/>
<path fill="#82ff2f" stroke="#82ff2f" d="M1139.2 439.4L1154.4 443.9 1166.5 437.3 1151.3 432.8Z"/>
<path fill="#86ff31" stroke="#86ff31" d="M1151.3 432.8L1166.5 437.3 1178.5 430.5 1163.3 426Z"/>
<path fill="#89ff32" stroke="#89ff32" d="M1163.3 426L1178.5 430.5 1190.4 423.7 1175.3 419.2Z"/>
<path fill="#8dff33" stroke="#8dff33" d="M1175.3 419.2L1190.4 423.7 1202.4 416.7 1187.2 412.2Z"/>
<path fill="#90ff34" stroke="#90ff34" d="M1187.2 412.2L1202.4 416.7 1214.2 409.5 1199.1 405Z"/>
<path fill="#94ff35" stroke="#94ff35" d="M1199.1 405L1214.2 409.5 1226.1 402.3 1210.9 397.8Z"/>
<path fill="#98ff35" stroke="#98ff35" d="M1210.9 397.8L1226.1 402.3 1237.8 395 1222.7 390.4Z"/>
<path fill="#9dff36" stroke="#9dff36" d="M1222.7 390.4L1237.8 395 1249.6 387.5 1234.5 382.9Z"/>
<path fill="#a2ff36" stroke="#a2ff36" d="M1234.5 382.9L1249.6 387.5 1261.3 379.9 1246.2 375.2Z"/>
<path fill="#a7ff36" stroke="#a7ff36" d="M1246.2 375.2L1261.3 379.9 1272.9 372.2 1257.8 367.5Z"/>
<path fill="#acff37" stroke="#acff37" d="M1257.8 367.5L1272.9 372.2 1284.5 364.4 1269.4 359.6Z"/>
<path fill="#b2ff37" stroke="#b2ff37" d="M1269.4 359.6L1284.5 364.4 1296.1 356.5 1281 351.6Z"/>
<path fill="#b8ff37" stroke="#b8ff37" d="M1281 351.6L1296.1 356.5 1307.6 348.5 1292.5 343.5Z"/>
<path fill="#beff37" stroke="#beff37" d="M1292.5 343.5L1307.6 348.5 1319.1 340.3 1304 335.2Z"/>
<path fill="#c4ff37" stroke="#c4ff37" d="M1304 335.2L1319.1 340.3 1330.5 332.1 1315.5 326.9Z"/>
<path fill="#cbff36" stroke="#cbff36" d="M1315.5 326.9L1330.5 332.1 1341.9 323.7 1326.9 318.4Z"/>
<path fill="#d3ff36" stroke="#d3ff36" d="M1326.9 318.4L1341.9 323.7 1353.2 315.2 1338.2 309.8Z"/>
<path fill="#facf00" stroke="#facf00" d="M576.9 600.3L593.1 613.5 608.1 612.7 592 599.9Z"/>
<path fill="#ffec00" stroke="#ffec00" d="M621.7 598.6L637.8 610.6 652.5 609.3 636.5 597.6Z"/>
<path fill="#dbff00" stroke="#dbff00" d="M737.4 586.5L753.2 595.8 767.2 593.3 751.5 584.2Z"/>
<path fill="#baff00" stroke="#baff00" d="M793.2 576.6L808.9 584.9 822.7 581.8 807 573.8ZM795.1 587.9L810.9 596.6 824.7 593.4 808.9 584.9Z"/>
<path fill="#b1ff00" stroke="#b1ff00" d="M807 573.8L822.7 581.8 836.4 578.6 820.7 570.8ZM808.9 584.9L824.7 593.4 838.4 590 822.7 581.8Z"/>
<path fill="#86ff00" stroke="#86ff00" d="M888.2 553.6L903.7 560.3 917 556.3 901.5 549.7ZM892.6 575.4L908.3 583 921.7 578.8 906 571.4ZM851.2 669.7L867.4 680.4 881.4 675.9 865.2 665.4Z"/>
<path fill="#6aff04" stroke="#6aff04" d="M979.8 523.5L995.3 529.2 1008.1 524.3 992.7 518.7Z"/>
<path fill="#69ff07" stroke="#69ff07" d="M992.7 518.7L1008.1 524.3 1020.8 519.2 1005.5 513.7Z"/>
<path fill="#68ff0a" stroke="#68ff0a" d="M1005.5 513.7L1020.8 519.2 1033.5 514 1018.2 508.6Z"/>
<path fill="#66ff0d" stroke="#66ff0d" d="M1018.2 508.6L1033.5 514 1046.2 508.6 1030.8 503.4Z"/>
<path fill="#66ff11" stroke="#66ff11" d="M1030.8 503.4L1046.2 508.6 1058.8 503.2 1043.4 498Z"/>
<path fill="#66ff14" stroke="#66ff14" d="M1043.4 498L1058.8 503.2 1071.3 497.6 1056 492.5Z"/>
<path fill="#67ff18" stroke="#67ff18" d="M1056 492.5L1071.3 497.6 1083.8 491.9 1068.5 486.9Z"/>
<path fill="#69ff1b" stroke="#69ff1b" d="M1068.5 486.9L1083.8 491.9 1096.2 486.1 1080.9 481.1Z"/>
<path fill="#6bff1e" stroke="#6bff1e" d="M1080.9 481.1L1096.2 486.1 1108.6 480.2 1093.3 475.2Z"/>
<path fill="#6dff21" stroke="#6dff21" d="M1093.3 475.2L1108.6 480.2 1120.9 474.1 1105.6 469.2Z"/>
<path fill="#71ff24" stroke="#71ff24" d="M1105.6 469.2L1120.9 474.1 1133.2 467.9 1117.9 463.1Z"/>
<path fill="#74ff26" stroke="#74ff26" d="M1117.9 463.1L1133.2 467.9 1145.4 461.6 1130.1 456.8ZM1145.4 461.6L1160.7 466.8 1172.8 460.4 1157.5 455.2Z"/>
<path fill="#78ff29" stroke="#78ff29" d="M1130.1 456.8L1145.4 461.6 1157.5 455.2 1142.3 450.4Z"/>
<path fill="#7dff2b" stroke="#7dff2b" d="M1142.3 450.4L1157.5 455.2 1169.6 448.7 1154.4 443.9Z"/>
<path fill="#80ff2d" stroke="#80ff2d" d="M1154.4 443.9L1169.6 448.7 1181.7 442.1 1166.5 437.3Z"/>
<path fill="#84ff2e" stroke="#84ff2e" d="M1166.5 437.3L1181.7 442.1 1193.7 435.4 1178.5 430.5Z"/>
<path fill="#87ff2f" stroke="#87ff2f" d="M1178.5 430.5L1193.7 435.4 1205.6 428.5 1190.4 423.7Z"/>
<path fill="#8bff31" stroke="#8bff31" d="M1190.4 423.7L1205.6 428.5 1217.6 421.5 1202.4 416.7Z"/>
<path fill="#8eff32" stroke="#8eff32" d="M1202.4 416.7L1217.6 421.5 1229.4 414.4 1214.2 409.5Z"/>
<path fill="#92ff32" stroke="#92ff32" d="M1214.2 409.5L1229.4 414.4 1241.2 407.3 1226.1 402.3Z"/>
<path fill="#96ff33" stroke="#96ff33" d="M1226.1 402.3L1241.2 407.3 1253 400 1237.8 395Z"/>
<path fill="#9bff34" stroke="#9bff34" d="M1237.8 395L1253 400 1264.7 392.5 1249.6 387.5Z"/>
<path fill="#9fff34" stroke="#9fff34" d="M1249.6 387.5L1264.7 392.5 1276.4 385 1261.3 379.9Z"/>
<path fill="#a4ff34" stroke="#a4ff34" d="M1261.3 379.9L1276.4 385 1288 377.4 1272.9 372.2Z"/>
<path fill="#a9ff34" stroke="#a9ff34" d="M1272.9 372.2L1288 377.4 1299.6 369.7 1284.5 364.4Z"/>
<path fill="#afff34" stroke="#afff34" d="M1284.5 364.4L1299.6 369.7 1311.2 361.8 1296.1 356.5Z"/>
<path fill="#b5ff34" stroke="#b5ff34" d="M1296.1 356.5L1311.2 361.8 1322.7 353.9 1307.6 348.5Z"/>
<path fill="#bbff34" stroke="#bbff34" d="M1307.6 348.5L1322.7 353.9 1334.1 345.8 1319.1 340.3Z"/>
<path fill="#c1ff34" stroke="#c1ff34" d="M1319.1 340.3L1334.1 345.8 1345.6 337.7 1330.5 332.1Z"/>
<path fill="#c7ff33" stroke="#c7ff33" d="M1330.5 332.1L1345.6 337.7 1356.9 329.4 1341.9 323.7Z"/>
<path fill="#ceff32" stroke="#ceff32" d="M1341.9 323.7L1356.9 329.4 1368.3 321.1 1353.2 315.2Z"/>
<path fill="#fee500" stroke="#fee500" d="M608.1 612.7L624.3 625.5 639.1 624.2 623 611.7Z"/>
<path fill="#fffd00" stroke="#fffd00" d="M652.5 609.3L668.6 621 683.2 619.2 667.1 607.8Z"/>
<path fill="#edff00" stroke="#edff00" d="M696.1 604.4L712.1 615.1 726.5 612.9 710.5 602.5ZM673.1 664.5L689.5 677.7 704.2 674.9 687.9 662.1Z"/>
<path fill="#8dff00" stroke="#8dff00" d="M877 568L892.6 575.4 906 571.4 890.4 564.3ZM860.7 637L876.7 646.8 890.5 642.5 874.5 633ZM849 655L865.2 665.4 879 661.1 862.9 650.9Z"/>
<path fill="#69ff02" stroke="#69ff02" d="M982.4 534.1L997.9 540.1 1010.7 535.2 995.3 529.2Z"/>
<path fill="#67ff04" stroke="#67ff04" d="M995.3 529.2L1010.7 535.2 1023.5 530.1 1008.1 524.3Z"/>
<path fill="#65ff06" stroke="#65ff06" d="M1008.1 524.3L1023.5 530.1 1036.3 524.9 1020.8 519.2Z"/>
<path fill="#63ff09" stroke="#63ff09" d="M1020.8 519.2L1036.3 524.9 1049 519.6 1033.5 514Z"/>
<path fill="#62ff0c" stroke="#62ff0c" d="M1033.5 514L1049 519.6 1061.6 514.2 1046.2 508.6Z"/>
<path fill="#61ff0f" stroke="#61ff0f" d="M1046.2 508.6L1061.6 514.2 1074.2 508.7 1058.8 503.2Z"/>
<path fill="#62ff13" stroke="#62ff13" d="M1058.8 503.2L1074.2 508.7 1086.7 503 1071.3 497.6Z"/>
<path fill="#63ff16" stroke="#63ff16" d="M1071.3 497.6L1086.7 503 1099.2 497.3 1083.8 491.9Z"/>
<path fill="#64ff19" stroke="#64ff19" d="M1083.8 491.9L1099.2 497.3 1111.6 491.4 1096.2 486.1Z"/>
<path fill="#67ff1c" stroke="#67ff1c" d="M1096.2 486.1L1111.6 491.4 1123.9 485.4 1108.6 480.2Z"/>
<path fill="#6cff21" stroke="#6cff21" d="M1120.9 474.1L1136.2 479.3 1148.5 473.1 1133.2 467.9Z"/>
<path fill="#70ff24" stroke="#70ff24" d="M1133.2 467.9L1148.5 473.1 1160.7 466.8 1145.4 461.6Z"/>
<path fill="#79ff28" stroke="#79ff28" d="M1157.5 455.2L1172.8 460.4 1184.9 453.9 1169.6 448.7Z"/>
<path fill="#7dff29" stroke="#7dff29" d="M1169.6 448.7L1184.9 453.9 1197 447.3 1181.7 442.1Z"/>
<path fill="#80ff2b" stroke="#80ff2b" d="M1181.7 442.1L1197 447.3 1208.9 440.5 1193.7 435.4Z"/>
<path fill="#84ff2c" stroke="#84ff2c" d="M1193.7 435.4L1208.9 440.5 1220.9 433.7 1205.6 428.5Z"/>
<path fill="#87ff2d" stroke="#87ff2d" d="M1205.6 428.5L1220.9 433.7 1232.8 426.7 1217.6 421.5Z"/>
<path fill="#8bff2e" stroke="#8bff2e" d="M1217.6 421.5L1232.8 426.7 1244.6 419.7 1229.4 414.4Z"/>
<path fill="#8fff2f" stroke="#8fff2f" d="M1229.4 414.4L1244.6 419.7 1256.4 412.6 1241.2 407.3Z"/>
<path fill="#93ff30" stroke="#93ff30" d="M1241.2 407.3L1256.4 412.6 1268.2 405.3 1253 400Z"/>
<path fill="#97ff30" stroke="#97ff30" d="M1253 400L1268.2 405.3 1279.9 398 1264.7 392.5Z"/>
<path fill="#9bff31" stroke="#9bff31" d="M1264.7 392.5L1279.9 398 1291.6 390.5 1276.4 385Z"/>
<path fill="#a0ff31" stroke="#a0ff31" d="M1276.4 385L1291.6 390.5 1303.2 383 1288 377.4Z"/>
<path fill="#a5ff31" stroke="#a5ff31" d="M1288 377.4L1303.2 383 1314.8 375.3 1299.6 369.7Z"/>
<path fill="#aaff31" stroke="#aaff31" d="M1299.6 369.7L1314.8 375.3 1326.3 367.6 1311.2 361.8Z"/>
<path fill="#b0ff30" stroke="#b0ff30" d="M1311.2 361.8L1326.3 367.6 1337.8 359.7 1322.7 353.9Z"/>
<path fill="#b6ff30" stroke="#b6ff30" d="M1322.7 353.9L1337.8 359.7 1349.3 351.8 1334.1 345.8Z"/>
<path fill="#bcff2f" stroke="#bcff2f" d="M1334.1 345.8L1349.3 351.8 1360.7 343.8 1345.6 337.7Z"/>
<path fill="#c2ff2e" stroke="#c2ff2e" d="M1345.6 337.7L1360.7 343.8 1372 335.6 1356.9 329.4Z"/>
<path fill="#c8ff2d" stroke="#c8ff2d" d="M1356.9 329.4L1372 335.6 1383.4 327.4 1368.3 321.1Z"/>
<path fill="#fde800" stroke="#fde800" d="M609.4 626.7L625.6 640 640.5 638.4 624.3 625.5Z"/>
<path fill="#cbff00" stroke="#cbff00" d="M769 605.4L784.9 615 798.9 611.9 783 602.6Z"/>
<path fill="#65ff01" stroke="#65ff01" d="M997.9 540.1L1013.4 546.5 1026.2 541.4 1010.7 535.2Z"/>
<path fill="#62ff03" stroke="#62ff03" d="M1010.7 535.2L1026.2 541.4 1039 536.2 1023.5 530.1Z"/>
<path fill="#5fff05" stroke="#5fff05" d="M1023.5 530.1L1039 536.2 1051.8 530.9 1036.3 524.9Z"/>
<path fill="#5dff08" stroke="#5dff08" d="M1036.3 524.9L1051.8 530.9 1064.5 525.5 1049 519.6Z"/>
<path fill="#5cff0b" stroke="#5cff0b" d="M1049 519.6L1064.5 525.5 1077.1 520 1061.6 514.2Z"/>
<path fill="#5bff0e" stroke="#5bff0e" d="M1061.6 514.2L1077.1 520 1089.6 514.4 1074.2 508.7Z"/>
<path fill="#5cff11" stroke="#5cff11" d="M1074.2 508.7L1089.6 514.4 1102.1 508.7 1086.7 503Z"/>
<path fill="#5dff13" stroke="#5dff13" d="M1086.7 503L1102.1 508.7 1114.6 502.9 1099.2 497.3Z"/>
<path fill="#5fff16" stroke="#5fff16" d="M1099.2 497.3L1114.6 502.9 1127 497 1111.6 491.4Z"/>
<path fill="#61ff19" stroke="#61ff19" d="M1111.6 491.4L1127 497 1139.3 491 1123.9 485.4Z"/>
<path fill="#63ff1c" stroke="#63ff1c" d="M1123.9 485.4L1139.3 491 1151.6 484.9 1136.2 479.3Z"/>
<path fill="#67ff1e" stroke="#67ff1e" d="M1136.2 479.3L1151.6 484.9 1163.8 478.6 1148.5 473.1Z"/>
<path fill="#6aff20" stroke="#6aff20" d="M1148.5 473.1L1163.8 478.6 1176 472.3 1160.7 466.8ZM1188.2 465.9L1203.6 471.7 1215.6 465.2 1200.2 459.4Z"/>
<path fill="#6eff22" stroke="#6eff22" d="M1160.7 466.8L1176 472.3 1188.2 465.9 1172.8 460.4Z"/>
<path fill="#73ff24" stroke="#73ff24" d="M1172.8 460.4L1188.2 465.9 1200.2 459.4 1184.9 453.9Z"/>
<path fill="#77ff26" stroke="#77ff26" d="M1184.9 453.9L1200.2 459.4 1212.3 452.8 1197 447.3Z"/>
<path fill="#7cff27" stroke="#7cff27" d="M1197 447.3L1212.3 452.8 1224.3 446.1 1208.9 440.5Z"/>
<path fill="#7fff28" stroke="#7fff28" d="M1208.9 440.5L1224.3 446.1 1236.2 439.2 1220.9 433.7Z"/>
<path fill="#83ff29" stroke="#83ff29" d="M1220.9 433.7L1236.2 439.2 1248.1 432.3 1232.8 426.7Z"/>
<path fill="#86ff2a" stroke="#86ff2a" d="M1232.8 426.7L1248.1 432.3 1259.9 425.3 1244.6 419.7Z"/>
<path fill="#8aff2b" stroke="#8aff2b" d="M1244.6 419.7L1259.9 425.3 1271.7 418.2 1256.4 412.6Z"/>
<path fill="#8eff2b" stroke="#8eff2b" d="M1256.4 412.6L1271.7 418.2 1283.5 411.1 1268.2 405.3Z"/>
<path fill="#92ff2c" stroke="#92ff2c" d="M1268.2 405.3L1283.5 411.1 1295.1 403.8 1279.9 398Z"/>
<path fill="#96ff2c" stroke="#96ff2c" d="M1279.9 398L1295.1 403.8 1306.8 396.4 1291.6 390.5Z"/>
<path fill="#9aff2c" stroke="#9aff2c" d="M1291.6 390.5L1306.8 396.4 1318.4 388.9 1303.2 383Z"/>
<path fill="#9fff2c" stroke="#9fff2c" d="M1303.2 383L1318.4 388.9 1330 381.4 1314.8 375.3Z"/>
<path fill="#a4ff2b" stroke="#a4ff2b" d="M1314.8 375.3L1330 381.4 1341.5 373.7 1326.3 367.6Z"/>
<path fill="#a9ff2a" stroke="#a9ff2a" d="M1326.3 367.6L1341.5 373.7 1353 366 1337.8 359.7Z"/>
<path fill="#afff29" stroke="#afff29" d="M1337.8 359.7L1353 366 1364.4 358.2 1349.3 351.8Z"/>
<path fill="#b5ff28" stroke="#b5ff28" d="M1349.3 351.8L1364.4 358.2 1375.8 350.2 1360.7 343.8Z"/>
<path fill="#bbff27" stroke="#bbff27" d="M1360.7 343.8L1375.8 350.2 1387.2 342.2 1372 335.6Z"/>
<path fill="#c1ff25" stroke="#c1ff25" d="M1372 335.6L1387.2 342.2 1398.5 334.1 1383.4 327.4Z"/>
<path fill="#e2ff00" stroke="#e2ff00" d="M713.7 628.4L729.8 639.7 744.2 636.9 728.1 626ZM689.5 677.7L705.9 690.9 720.5 687.8 704.2 674.9Z"/>
<path fill="#d1ff00" stroke="#d1ff00" d="M756.7 620.7L772.7 631.1 786.8 628 770.8 617.9ZM720.5 687.8L737 700.7 751.5 697.2 735.1 684.5Z"/>
<path fill="#bfff00" stroke="#bfff00" d="M784.9 615L800.9 624.8 814.8 621.5 798.9 611.9ZM774.6 644.8L790.7 655.7 804.8 652.2 788.7 641.6ZM737 700.7L753.4 713.8 767.9 709.9 751.5 697.2Z"/>
<path fill="#9fff00" stroke="#9fff00" d="M840.5 602L856.3 610.8 870 607 854.2 598.4ZM830.8 631.1L846.8 641 860.7 637 844.7 627.4ZM755.4 731.1L771.9 744.7 786.5 740.2 769.9 727Z"/>
<path fill="#66ff00" stroke="#66ff00" d="M987.5 556.3L1003.1 563.1 1016.1 558.1 1000.5 551.4ZM897.6 686.6L913.9 697.4 927.7 692.4 911.4 681.8Z"/>
<path fill="#62ff00" stroke="#62ff00" d="M1000.5 551.4L1016.1 558.1 1029 553 1013.4 546.5ZM1467.4 398.4L1482.8 407.9 1494.1 401 1478.7 391.3Z"/>
<path fill="#5dff01" stroke="#5dff01" d="M1013.4 546.5L1029 553 1041.8 547.8 1026.2 541.4Z"/>
<path fill="#5aff03" stroke="#5aff03" d="M1026.2 541.4L1041.8 547.8 1054.6 542.6 1039 536.2Z"/>
<path fill="#57ff04" stroke="#57ff04" d="M1039 536.2L1054.6 542.6 1067.3 537.2 1051.8 530.9Z"/>
<path fill="#55ff07" stroke="#55ff07" d="M1051.8 530.9L1067.3 537.2 1080 531.7 1064.5 525.5Z"/>
<path fill="#54ff09" stroke="#54ff09" d="M1064.5 525.5L1080 531.7 1092.6 526.2 1077.1 520Z"/>
<path fill="#54ff0c" stroke="#54ff0c" d="M1077.1 520L1092.6 526.2 1105.1 520.5 1089.6 514.4Z"/>
<path fill="#54ff0e" stroke="#54ff0e" d="M1089.6 514.4L1105.1 520.5 1117.6 514.7 1102.1 508.7Z"/>
<path fill="#55ff11" stroke="#55ff11" d="M1102.1 508.7L1117.6 514.7 1130.1 508.9 1114.6 502.9Z"/>
<path fill="#57ff13" stroke="#57ff13" d="M1114.6 502.9L1130.1 508.9 1142.4 502.9 1127 497Z"/>
<path fill="#59ff16" stroke="#59ff16" d="M1127 497L1142.4 502.9 1154.8 496.9 1139.3 491Z"/>
<path fill="#5cff18" stroke="#5cff18" d="M1139.3 491L1154.8 496.9 1167 490.7 1151.6 484.9Z"/>
<path fill="#62ff1c" stroke="#62ff1c" d="M1163.8 478.6L1179.3 484.5 1191.4 478.1 1176 472.3Z"/>
<path fill="#66ff1e" stroke="#66ff1e" d="M1176 472.3L1191.4 478.1 1203.6 471.7 1188.2 465.9Z"/>
<path fill="#6fff21" stroke="#6fff21" d="M1200.2 459.4L1215.6 465.2 1227.6 458.6 1212.3 452.8Z"/>
<path fill="#74ff22" stroke="#74ff22" d="M1212.3 452.8L1227.6 458.6 1239.6 451.9 1224.3 446.1Z"/>
<path fill="#79ff23" stroke="#79ff23" d="M1224.3 446.1L1239.6 451.9 1251.5 445.2 1236.2 439.2Z"/>
<path fill="#7dff24" stroke="#7dff24" d="M1236.2 439.2L1251.5 445.2 1263.4 438.3 1248.1 432.3Z"/>
<path fill="#80ff25" stroke="#80ff25" d="M1248.1 432.3L1263.4 438.3 1275.2 431.3 1259.9 425.3Z"/>
<path fill="#84ff25" stroke="#84ff25" d="M1259.9 425.3L1275.2 431.3 1287 424.3 1271.7 418.2Z"/>
<path fill="#87ff26" stroke="#87ff26" d="M1271.7 418.2L1287 424.3 1298.7 417.2 1283.5 411.1Z"/>
<path fill="#8bff26" stroke="#8bff26" d="M1283.5 411.1L1298.7 417.2 1310.4 410 1295.1 403.8Z"/>
<path fill="#8fff26" stroke="#8fff26" d="M1295.1 403.8L1310.4 410 1322.1 402.7 1306.8 396.4Z"/>
<path fill="#93ff25" stroke="#93ff25" d="M1306.8 396.4L1322.1 402.7 1333.7 395.3 1318.4 388.9Z"/>
<path fill="#98ff25" stroke="#98ff25" d="M1318.4 388.9L1333.7 395.3 1345.2 387.8 1330 381.4Z"/>
<path fill="#9cff24" stroke="#9cff24" d="M1330 381.4L1345.2 387.8 1356.7 380.3 1341.5 373.7Z"/>
<path fill="#a1ff23" stroke="#a1ff23" d="M1341.5 373.7L1356.7 380.3 1368.2 372.7 1353 366Z"/>
<path fill="#a6ff22" stroke="#a6ff22" d="M1353 366L1368.2 372.7 1379.6 365 1364.4 358.2Z"/>
<path fill="#acff20" stroke="#acff20" d="M1364.4 358.2L1379.6 365 1391 357.2 1375.8 350.2Z"/>
<path fill="#b1ff1e" stroke="#b1ff1e" d="M1375.8 350.2L1391 357.2 1402.3 349.3 1387.2 342.2Z"/>
<path fill="#b7ff1c" stroke="#b7ff1c" d="M1387.2 342.2L1402.3 349.3 1413.6 341.3 1398.5 334.1Z"/>
<path fill="#feff00" stroke="#feff00" d="M641.9 653.4L658.3 666.9 673.1 664.5 656.8 651.5Z"/>
<path fill="#b3ff00" stroke="#b3ff00" d="M800.9 624.8L816.9 634.7 830.8 631.1 814.8 621.5ZM738.8 717.7L755.4 731.1 769.9 727 753.4 713.8Z"/>
<path fill="#95ff00" stroke="#95ff00" d="M856.3 610.8L872.2 619.7 885.9 615.7 870 607Z"/>
<path fill="#67ff00" stroke="#67ff00" d="M977 572.7L992.7 580 1005.8 575.1 990.1 567.9ZM933.8 643L949.9 652.4 963.4 647.6 947.3 638.3ZM1478.7 391.3L1494.1 401 1505.2 394 1489.9 384.1Z"/>
<path fill="#64ff00" stroke="#64ff00" d="M990.1 567.9L1005.8 575.1 1018.8 570.1 1003.1 563.1ZM958.2 619.9L974.2 628.7 987.5 623.7 971.6 615.2ZM1418 410.7L1433.4 419.4 1444.8 412.4 1429.4 403.6ZM805.2 772.1L821.9 785.9 836.4 780.5 819.7 767Z"/>
<path fill="#5eff00" stroke="#5eff00" d="M1003.1 563.1L1018.8 570.1 1031.8 565 1016.1 558.1ZM992.7 580L1008.5 587.6 1021.6 582.5 1005.8 575.1ZM982.2 597.4L998.1 605.4 1011.2 600.4 995.4 592.5ZM886.1 707.3L902.5 718.7 916.4 713.6 900 702.4Z"/>
<path fill="#58ff00" stroke="#58ff00" d="M1016.1 558.1L1031.8 565 1044.6 559.8 1029 553ZM1005.8 575.1L1021.6 582.5 1034.5 577.4 1018.8 570.1Z"/>
<path fill="#54ff01" stroke="#54ff01" d="M1029 553L1044.6 559.8 1057.5 554.6 1041.8 547.8Z"/>
<path fill="#50ff02" stroke="#50ff02" d="M1041.8 547.8L1057.5 554.6 1070.2 549.2 1054.6 542.6Z"/>
<path fill="#4eff03" stroke="#4eff03" d="M1054.6 542.6L1070.2 549.2 1082.9 543.7 1067.3 537.2Z"/>
<path fill="#4cff05" stroke="#4cff05" d="M1067.3 537.2L1082.9 543.7 1095.6 538.2 1080 531.7Z"/>
<path fill="#4bff07" stroke="#4bff07" d="M1080 531.7L1095.6 538.2 1108.2 532.5 1092.6 526.2Z"/>
<path fill="#4bff09" stroke="#4bff09" d="M1092.6 526.2L1108.2 532.5 1120.7 526.8 1105.1 520.5Z"/>
<path fill="#4bff0c" stroke="#4bff0c" d="M1105.1 520.5L1120.7 526.8 1133.2 521 1117.6 514.7Z"/>
<path fill="#4cff0e" stroke="#4cff0e" d="M1117.6 514.7L1133.2 521 1145.6 515.1 1130.1 508.9Z"/>
<path fill="#4eff10" stroke="#4eff10" d="M1130.1 508.9L1145.6 515.1 1158 509.1 1142.4 502.9Z"/>
<path fill="#50ff12" stroke="#50ff12" d="M1142.4 502.9L1158 509.1 1170.3 503 1154.8 496.9Z"/>
<path fill="#52ff14" stroke="#52ff14" d="M1154.8 496.9L1170.3 503 1182.5 496.9 1167 490.7Z"/>
<path fill="#55ff16" stroke="#55ff16" d="M1167 490.7L1182.5 496.9 1194.7 490.6 1179.3 484.5Z"/>
<path fill="#58ff18" stroke="#58ff18" d="M1179.3 484.5L1194.7 490.6 1206.9 484.3 1191.4 478.1Z"/>
<path fill="#5cff19" stroke="#5cff19" d="M1191.4 478.1L1206.9 484.3 1219 477.9 1203.6 471.7Z"/>
<path fill="#60ff1b" stroke="#60ff1b" d="M1203.6 471.7L1219 477.9 1231.1 471.4 1215.6 465.2Z"/>
<path fill="#65ff1c" stroke="#65ff1c" d="M1215.6 465.2L1231.1 471.4 1243.1 464.8 1227.6 458.6Z"/>
<path fill="#69ff1d" stroke="#69ff1d" d="M1227.6 458.6L1243.1 464.8 1255 458.2 1239.6 451.9Z"/>
<path fill="#6fff1e" stroke="#6fff1e" d="M1239.6 451.9L1255 458.2 1266.9 451.4 1251.5 445.2Z"/>
<path fill="#74ff1e" stroke="#74ff1e" d="M1251.5 445.2L1266.9 451.4 1278.8 444.6 1263.4 438.3Z"/>
<path fill="#78ff1f" stroke="#78ff1f" d="M1263.4 438.3L1278.8 444.6 1290.6 437.7 1275.2 431.3Z"/>
<path fill="#7cff1f" stroke="#7cff1f" d="M1275.2 431.3L1290.6 437.7 1302.4 430.7 1287 424.3Z"/>
<path fill="#7fff1f" stroke="#7fff1f" d="M1287 424.3L1302.4 430.7 1314.1 423.7 1298.7 417.2Z"/>
<path fill="#82ff1f" stroke="#82ff1f" d="M1298.7 417.2L1314.1 423.7 1325.8 416.6 1310.4 410Z"/>
<path fill="#86ff1e" stroke="#86ff1e" d="M1310.4 410L1325.8 416.6 1337.4 409.4 1322.1 402.7Z"/>
<path fill="#8aff1e" stroke="#8aff1e" d="M1322.1 402.7L1337.4 409.4 1349 402.1 1333.7 395.3Z"/>
<path fill="#8eff1d" stroke="#8eff1d" d="M1333.7 395.3L1349 402.1 1360.5 394.7 1345.2 387.8Z"/>
<path fill="#92ff1c" stroke="#92ff1c" d="M1345.2 387.8L1360.5 394.7 1372 387.3 1356.7 380.3Z"/>
<path fill="#97ff1a" stroke="#97ff1a" d="M1356.7 380.3L1372 387.3 1383.4 379.8 1368.2 372.7Z"/>
<path fill="#9cff19" stroke="#9cff19" d="M1368.2 372.7L1383.4 379.8 1394.8 372.2 1379.6 365Z"/>
<path fill="#a1ff17" stroke="#a1ff17" d="M1379.6 365L1394.8 372.2 1406.2 364.5 1391 357.2Z"/>
<path fill="#a6ff14" stroke="#a6ff14" d="M1391 357.2L1406.2 364.5 1417.5 356.8 1402.3 349.3Z"/>
<path fill="#acff12" stroke="#acff12" d="M1402.3 349.3L1417.5 356.8 1428.8 349 1413.6 341.3Z"/>
<path fill="#d0ff00" stroke="#d0ff00" d="M746 651L762.2 662.5 776.5 659.2 760.3 648Z"/>
<path fill="#52ff00" stroke="#52ff00" d="M1018.8 570.1L1034.5 577.4 1047.5 572.2 1031.8 565ZM974.2 628.7L990.2 637.6 1003.5 632.5 987.5 623.7ZM834.1 761.8L850.7 775 865 769.6 848.4 756.6Z"/>
<path fill="#4dff00" stroke="#4dff00" d="M1031.8 565L1047.5 572.2 1060.3 566.9 1044.6 559.8ZM963.4 647.6L979.5 657 992.9 651.9 976.8 642.6ZM913.9 697.4L930.2 708.4 944 703.1 927.7 692.4Z"/>
<path fill="#49ff00" stroke="#49ff00" d="M1044.6 559.8L1060.3 566.9 1073.1 561.5 1057.5 554.6ZM888.5 723.8L905 735.6 918.9 730.3 902.5 718.7Z"/>
<path fill="#46ff01" stroke="#46ff01" d="M1057.5 554.6L1073.1 561.5 1085.9 556.1 1070.2 549.2Z"/>
<path fill="#43ff02" stroke="#43ff02" d="M1070.2 549.2L1085.9 556.1 1098.6 550.5 1082.9 543.7Z"/>
<path fill="#41ff04" stroke="#41ff04" d="M1082.9 543.7L1098.6 550.5 1111.2 544.9 1095.6 538.2Z"/>
<path fill="#41ff05" stroke="#41ff05" d="M1095.6 538.2L1111.2 544.9 1123.8 539.2 1108.2 532.5Z"/>
<path fill="#40ff07" stroke="#40ff07" d="M1108.2 532.5L1123.8 539.2 1136.3 533.4 1120.7 526.8Z"/>
<path fill="#41ff09" stroke="#41ff09" d="M1120.7 526.8L1136.3 533.4 1148.8 527.6 1133.2 521Z"/>
<path fill="#41ff0b" stroke="#41ff0b" d="M1133.2 521L1148.8 527.6 1161.2 521.6 1145.6 515.1Z"/>
<path fill="#43ff0d" stroke="#43ff0d" d="M1145.6 515.1L1161.2 521.6 1173.5 515.6 1158 509.1Z"/>
<path fill="#45ff0e" stroke="#45ff0e" d="M1158 509.1L1173.5 515.6 1185.8 509.5 1170.3 503Z"/>
<path fill="#4aff12" stroke="#4aff12" d="M1182.5 496.9L1198.1 503.4 1210.3 497.1 1194.7 490.6Z"/>
<path fill="#4dff13" stroke="#4dff13" d="M1194.7 490.6L1210.3 497.1 1222.4 490.8 1206.9 484.3Z"/>
<path fill="#50ff14" stroke="#50ff14" d="M1206.9 484.3L1222.4 490.8 1234.5 484.4 1219 477.9Z"/>
<path fill="#54ff15" stroke="#54ff15" d="M1219 477.9L1234.5 484.4 1246.5 477.9 1231.1 471.4Z"/>
<path fill="#58ff16" stroke="#58ff16" d="M1231.1 471.4L1246.5 477.9 1258.5 471.4 1243.1 464.8Z"/>
<path fill="#5cff17" stroke="#5cff17" d="M1243.1 464.8L1258.5 471.4 1270.5 464.8 1255 458.2Z"/>
<path fill="#61ff17" stroke="#61ff17" d="M1255 458.2L1270.5 464.8 1282.4 458.1 1266.9 451.4Z"/>
<path fill="#66ff18" stroke="#66ff18" d="M1266.9 451.4L1282.4 458.1 1294.2 451.3 1278.8 444.6Z"/>
<path fill="#6cff18" stroke="#6cff18" d="M1278.8 444.6L1294.2 451.3 1306 444.5 1290.6 437.7Z"/>
<path fill="#72ff18" stroke="#72ff18" d="M1290.6 437.7L1306 444.5 1317.8 437.6 1302.4 430.7Z"/>
<path fill="#75ff18" stroke="#75ff18" d="M1302.4 430.7L1317.8 437.6 1329.5 430.6 1314.1 423.7Z"/>
<path fill="#78ff17" stroke="#78ff17" d="M1314.1 423.7L1329.5 430.6 1341.1 423.5 1325.8 416.6Z"/>
<path fill="#7cff16" stroke="#7cff16" d="M1325.8 416.6L1341.1 423.5 1352.7 416.4 1337.4 409.4Z"/>
<path fill="#7fff15" stroke="#7fff15" d="M1337.4 409.4L1352.7 416.4 1364.3 409.3 1349 402.1Z"/>
<path fill="#83ff14" stroke="#83ff14" d="M1349 402.1L1364.3 409.3 1375.8 402 1360.5 394.7Z"/>
<path fill="#87ff13" stroke="#87ff13" d="M1360.5 394.7L1375.8 402 1387.3 394.7 1372 387.3Z"/>
<path fill="#8bff11" stroke="#8bff11" d="M1372 387.3L1387.3 394.7 1398.7 387.3 1383.4 379.8Z"/>
<path fill="#8fff0f" stroke="#8fff0f" d="M1383.4 379.8L1398.7 387.3 1410.1 379.8 1394.8 372.2Z"/>
<path fill="#94ff0d" stroke="#94ff0d" d="M1394.8 372.2L1410.1 379.8 1421.5 372.3 1406.2 364.5Z"/>
<path fill="#99ff0b" stroke="#99ff0b" d="M1406.2 364.5L1421.5 372.3 1432.8 364.7 1417.5 356.8Z"/>
<path fill="#9eff08" stroke="#9eff08" d="M1417.5 356.8L1432.8 364.7 1444 357.1 1428.8 349Z"/>
<path fill="#c9ff00" stroke="#c9ff00" d="M747.8 665.8L764.1 677.7 778.4 674.1 762.2 662.5ZM735.1 684.5L751.5 697.2 766 693.5 749.6 681.1Z"/>
<path fill="#b8ff00" stroke="#b8ff00" d="M776.5 659.2L792.7 670.5 806.9 666.8 790.7 655.7ZM764.1 677.7L780.4 689.7 794.7 685.9 778.4 674.1Z"/>
<path fill="#3dff00" stroke="#3dff00" d="M1060.3 566.9L1076.1 574.2 1088.9 568.8 1073.1 561.5ZM1037.4 590.2L1053.2 598 1066.2 592.7 1050.3 584.9ZM941.4 687.3L957.7 697.9 971.4 692.6 955.1 682.2ZM821.9 785.9L838.7 799.8 853.1 794.1 836.4 780.5Z"/>
<path fill="#3aff00" stroke="#3aff00" d="M1073.1 561.5L1088.9 568.8 1101.6 563.2 1085.9 556.1ZM876.8 746.2L893.4 758.6 907.5 753.1 890.9 740.9Z"/>
<path fill="#37ff01" stroke="#37ff01" d="M1085.9 556.1L1101.6 563.2 1114.3 557.6 1098.6 550.5Z"/>
<path fill="#36ff02" stroke="#36ff02" d="M1098.6 550.5L1114.3 557.6 1126.9 551.9 1111.2 544.9Z"/>
<path fill="#35ff03" stroke="#35ff03" d="M1111.2 544.9L1126.9 551.9 1139.5 546.2 1123.8 539.2Z"/>
<path fill="#34ff05" stroke="#34ff05" d="M1123.8 539.2L1139.5 546.2 1152 540.4 1136.3 533.4Z"/>
<path fill="#34ff06" stroke="#34ff06" d="M1136.3 533.4L1152 540.4 1164.4 534.5 1148.8 527.6Z"/>
<path fill="#35ff08" stroke="#35ff08" d="M1148.8 527.6L1164.4 534.5 1176.8 528.5 1161.2 521.6Z"/>
<path fill="#36ff09" stroke="#36ff09" d="M1161.2 521.6L1176.8 528.5 1189.1 522.5 1173.5 515.6Z"/>
<path fill="#38ff0a" stroke="#38ff0a" d="M1173.5 515.6L1189.1 522.5 1201.4 516.3 1185.8 509.5ZM1262.1 484.8L1277.6 492 1289.6 485.5 1274 478.3Z"/>
<path fill="#3aff0c" stroke="#3aff0c" d="M1185.8 509.5L1201.4 516.3 1213.7 510.2 1198.1 503.4Z"/>
<path fill="#3cff0d" stroke="#3cff0d" d="M1198.1 503.4L1213.7 510.2 1225.8 503.9 1210.3 497.1Z"/>
<path fill="#3fff0e" stroke="#3fff0e" d="M1210.3 497.1L1225.8 503.9 1238 497.6 1222.4 490.8Z"/>
<path fill="#42ff0f" stroke="#42ff0f" d="M1222.4 490.8L1238 497.6 1250 491.2 1234.5 484.4Z"/>
<path fill="#45ff10" stroke="#45ff10" d="M1234.5 484.4L1250 491.2 1262.1 484.8 1246.5 477.9Z"/>
<path fill="#49ff10" stroke="#49ff10" d="M1246.5 477.9L1262.1 484.8 1274 478.3 1258.5 471.4Z"/>
<path fill="#4dff11" stroke="#4dff11" d="M1258.5 471.4L1274 478.3 1286 471.7 1270.5 464.8Z"/>
<path fill="#52ff11" stroke="#52ff11" d="M1270.5 464.8L1286 471.7 1297.8 465.1 1282.4 458.1Z"/>
<path fill="#56ff11" stroke="#56ff11" d="M1282.4 458.1L1297.8 465.1 1309.7 458.4 1294.2 451.3Z"/>
<path fill="#5bff11" stroke="#5bff11" d="M1294.2 451.3L1309.7 458.4 1321.5 451.6 1306 444.5Z"/>
<path fill="#61ff10" stroke="#61ff10" d="M1306 444.5L1321.5 451.6 1333.2 444.8 1317.8 437.6Z"/>
<path fill="#66ff10" stroke="#66ff10" d="M1317.8 437.6L1333.2 444.8 1344.9 437.9 1329.5 430.6Z"/>
<path fill="#6dff0f" stroke="#6dff0f" d="M1329.5 430.6L1344.9 437.9 1356.5 430.9 1341.1 423.5Z"/>
<path fill="#70ff0e" stroke="#70ff0e" d="M1341.1 423.5L1356.5 430.9 1368.1 423.9 1352.7 416.4Z"/>
<path fill="#73ff0d" stroke="#73ff0d" d="M1352.7 416.4L1368.1 423.9 1379.7 416.8 1364.3 409.3Z"/>
<path fill="#76ff0c" stroke="#76ff0c" d="M1364.3 409.3L1379.7 416.8 1391.2 409.7 1375.8 402Z"/>
<path fill="#7aff0a" stroke="#7aff0a" d="M1375.8 402L1391.2 409.7 1402.6 402.5 1387.3 394.7Z"/>
<path fill="#7eff08" stroke="#7eff08" d="M1387.3 394.7L1402.6 402.5 1414.1 395.3 1398.7 387.3Z"/>
<path fill="#82ff07" stroke="#82ff07" d="M1398.7 387.3L1414.1 395.3 1425.4 387.9 1410.1 379.8Z"/>
<path fill="#86ff05" stroke="#86ff05" d="M1410.1 379.8L1425.4 387.9 1436.8 380.6 1421.5 372.3Z"/>
<path fill="#8bff03" stroke="#8bff03" d="M1421.5 372.3L1436.8 380.6 1448 373.1 1432.8 364.7Z"/>
<path fill="#90ff02" stroke="#90ff02" d="M1432.8 364.7L1448 373.1 1459.3 365.6 1444 357.1Z"/>
<path fill="#55ff00" stroke="#55ff00" d="M984.9 610.3L1000.8 618.7 1014 613.7 998.1 605.4ZM1395.1 424.8L1410.5 433.2 1422 426.3 1406.6 417.8ZM949.9 652.4L966 662.1 979.5 657 963.4 647.6ZM900 702.4L916.4 713.6 930.2 708.4 913.9 697.4Z"/>
<path fill="#4eff00" stroke="#4eff00" d="M998.1 605.4L1014 613.7 1027.1 608.5 1011.2 600.4ZM938.9 672.1L955.1 682.2 968.7 677.1 952.5 667.1Z"/>
<path fill="#48ff00" stroke="#48ff00" d="M1011.2 600.4L1027.1 608.5 1040.2 603.3 1024.3 595.3Z"/>
<path fill="#43ff00" stroke="#43ff00" d="M1024.3 595.3L1040.2 603.3 1053.2 598 1037.4 590.2Z"/>
<path fill="#38ff00" stroke="#38ff00" d="M1050.3 584.9L1066.2 592.7 1079.1 587.3 1063.2 579.6ZM1027.1 608.5L1043.1 616.9 1056.1 611.5 1040.2 603.3ZM1003.5 632.5L1019.6 641.5 1032.8 636.2 1016.8 627.3ZM1399 440.1L1414.5 448.8 1426 442 1410.5 433.2ZM979.5 657L995.7 666.6 1009.1 661.4 992.9 651.9Z"/>
<path fill="#34ff00" stroke="#34ff00" d="M1063.2 579.6L1079.1 587.3 1091.9 581.8 1076.1 574.2Z"/>
<path fill="#30ff00" stroke="#30ff00" d="M1076.1 574.2L1091.9 581.8 1104.7 576.3 1088.9 568.8Z"/>
<path fill="#2bff00" stroke="#2bff00" d="M1101.6 563.2L1117.4 570.6 1130 565 1114.3 557.6ZM1006.3 646.7L1022.4 656 1035.7 650.6 1019.6 641.5ZM1437.5 435.3L1453 444.7 1464.3 438 1448.9 428.5ZM1509.4 411.2L1524.9 421.8 1536 415.2 1520.6 404.4ZM944 703.1L960.4 714.1 974.1 708.6 957.7 697.9ZM905 735.6L921.5 747.5 935.4 741.9 918.9 730.3Z"/>
<path fill="#29ff01" stroke="#29ff01" d="M1114.3 557.6L1130 565 1142.6 559.2 1126.9 551.9Z"/>
<path fill="#28ff02" stroke="#28ff02" d="M1126.9 551.9L1142.6 559.2 1155.2 553.4 1139.5 546.2Z"/>
<path fill="#27ff03" stroke="#27ff03" d="M1139.5 546.2L1155.2 553.4 1167.7 547.6 1152 540.4Z"/>
<path fill="#28ff04" stroke="#28ff04" d="M1152 540.4L1167.7 547.6 1180.1 541.6 1164.4 534.5Z"/>
<path fill="#28ff05" stroke="#28ff05" d="M1164.4 534.5L1180.1 541.6 1192.5 535.6 1176.8 528.5Z"/>
<path fill="#29ff06" stroke="#29ff06" d="M1176.8 528.5L1192.5 535.6 1204.8 529.6 1189.1 522.5Z"/>
<path fill="#2aff07" stroke="#2aff07" d="M1189.1 522.5L1204.8 529.6 1217.1 523.5 1201.4 516.3Z"/>
<path fill="#2cff08" stroke="#2cff08" d="M1201.4 516.3L1217.1 523.5 1229.3 517.3 1213.7 510.2Z"/>
<path fill="#2dff08" stroke="#2dff08" d="M1213.7 510.2L1229.3 517.3 1241.4 511.1 1225.8 503.9Z"/>
<path fill="#2fff09" stroke="#2fff09" d="M1225.8 503.9L1241.4 511.1 1253.6 504.8 1238 497.6Z"/>
<path fill="#32ff0a" stroke="#32ff0a" d="M1238 497.6L1253.6 504.8 1265.6 498.4 1250 491.2Z"/>
<path fill="#35ff0a" stroke="#35ff0a" d="M1250 491.2L1265.6 498.4 1277.6 492 1262.1 484.8Z"/>
<path fill="#3cff0a" stroke="#3cff0a" d="M1274 478.3L1289.6 485.5 1301.5 479 1286 471.7Z"/>
<path fill="#40ff0a" stroke="#40ff0a" d="M1286 471.7L1301.5 479 1313.4 472.4 1297.8 465.1Z"/>
<path fill="#44ff0a" stroke="#44ff0a" d="M1297.8 465.1L1313.4 472.4 1325.2 465.8 1309.7 458.4Z"/>
<path fill="#48ff0a" stroke="#48ff0a" d="M1309.7 458.4L1325.2 465.8 1336.9 459.1 1321.5 451.6Z"/>
<path fill="#4dff09" stroke="#4dff09" d="M1321.5 451.6L1336.9 459.1 1348.7 452.4 1333.2 444.8Z"/>
<path fill="#53ff08" stroke="#53ff08" d="M1333.2 444.8L1348.7 452.4 1360.3 445.6 1344.9 437.9Z"/>
<path fill="#58ff08" stroke="#58ff08" d="M1344.9 437.9L1360.3 445.6 1372 438.7 1356.5 430.9Z"/>
<path fill="#5eff07" stroke="#5eff07" d="M1356.5 430.9L1372 438.7 1383.5 431.8 1368.1 423.9Z"/>
<path fill="#65ff05" stroke="#65ff05" d="M1368.1 423.9L1383.5 431.8 1395.1 424.8 1379.7 416.8Z"/>
<path fill="#6cff03" stroke="#6cff03" d="M1391.2 409.7L1406.6 417.8 1418 410.7 1402.6 402.5Z"/>
<path fill="#74ff01" stroke="#74ff01" d="M1414.1 395.3L1429.4 403.6 1440.8 396.5 1425.4 387.9Z"/>
<path fill="#61ff00" stroke="#61ff00" d="M947.3 638.3L963.4 647.6 976.8 642.6 960.8 633.5Z"/>
<path fill="#59ff00" stroke="#59ff00" d="M960.8 633.5L976.8 642.6 990.2 637.6 974.2 628.7Z"/>
<path fill="#33ff00" stroke="#33ff00" d="M1040.2 603.3L1056.1 611.5 1069.1 606.2 1053.2 598Z"/>
<path fill="#2eff00" stroke="#2eff00" d="M1053.2 598L1069.1 606.2 1082.1 600.7 1066.2 592.7ZM850.7 775L867.4 788.3 881.7 782.6 865 769.6Z"/>
<path fill="#26ff00" stroke="#26ff00" d="M1079.1 587.3L1094.9 595.2 1107.7 589.6 1091.9 581.8ZM1019.6 641.5L1035.7 650.6 1048.9 645.2 1032.8 636.2ZM1426 442L1441.5 451.3 1453 444.7 1437.5 435.3ZM1498.2 417.9L1513.7 428.4 1524.9 421.8 1509.4 411.2Z"/>
<path fill="#23ff00" stroke="#23ff00" d="M1091.9 581.8L1107.7 589.6 1120.5 584 1104.7 576.3ZM995.7 666.6L1011.9 676.5 1025.3 671 1009.1 661.4Z"/>
<path fill="#1dff00" stroke="#1dff00" d="M1130 565L1145.8 572.6 1158.4 566.8 1142.6 559.2ZM1082.1 600.7L1098 609 1110.8 603.4 1094.9 595.2ZM1046 630.8L1062 639.7 1075.1 634.2 1059.1 625.4ZM1475.7 431.3L1491.2 441.4 1502.5 434.9 1487 424.6Z"/>
<path fill="#1cff01" stroke="#1cff01" d="M1142.6 559.2L1158.4 566.8 1170.9 561 1155.2 553.4Z"/>
<path fill="#1bff01" stroke="#1bff01" d="M1155.2 553.4L1170.9 561 1183.4 555.1 1167.7 547.6ZM1317.1 486.7L1332.7 494.7 1344.5 488.3 1328.9 480.2Z"/>
<path fill="#1bff02" stroke="#1bff02" d="M1167.7 547.6L1183.4 555.1 1195.8 549.1 1180.1 541.6ZM1180.1 541.6L1195.8 549.1 1208.2 543.1 1192.5 535.6Z"/>
<path fill="#1cff03" stroke="#1cff03" d="M1192.5 535.6L1208.2 543.1 1220.5 537 1204.8 529.6Z"/>
<path fill="#1dff03" stroke="#1dff03" d="M1204.8 529.6L1220.5 537 1232.8 530.9 1217.1 523.5Z"/>
<path fill="#1eff04" stroke="#1eff04" d="M1217.1 523.5L1232.8 530.9 1245 524.7 1229.3 517.3Z"/>
<path fill="#1fff04" stroke="#1fff04" d="M1229.3 517.3L1245 524.7 1257.1 518.5 1241.4 511.1Z"/>
<path fill="#21ff05" stroke="#21ff05" d="M1241.4 511.1L1257.1 518.5 1269.2 512.3 1253.6 504.8Z"/>
<path fill="#23ff05" stroke="#23ff05" d="M1253.6 504.8L1269.2 512.3 1281.3 505.9 1265.6 498.4Z"/>
<path fill="#25ff05" stroke="#25ff05" d="M1265.6 498.4L1281.3 505.9 1293.2 499.6 1277.6 492Z"/>
<path fill="#27ff05" stroke="#27ff05" d="M1277.6 492L1293.2 499.6 1305.2 493.2 1289.6 485.5Z"/>
<path fill="#29ff05" stroke="#29ff05" d="M1289.6 485.5L1305.2 493.2 1317.1 486.7 1301.5 479Z"/>
<path fill="#2cff05" stroke="#2cff05" d="M1301.5 479L1317.1 486.7 1328.9 480.2 1313.4 472.4Z"/>
<path fill="#30ff04" stroke="#30ff04" d="M1313.4 472.4L1328.9 480.2 1340.7 473.6 1325.2 465.8Z"/>
<path fill="#34ff04" stroke="#34ff04" d="M1325.2 465.8L1340.7 473.6 1352.5 467 1336.9 459.1Z"/>
<path fill="#3dff03" stroke="#3dff03" d="M1348.7 452.4L1364.2 460.3 1375.8 453.6 1360.3 445.6Z"/>
<path fill="#42ff02" stroke="#42ff02" d="M1360.3 445.6L1375.8 453.6 1387.4 446.9 1372 438.7Z"/>
<path fill="#48ff01" stroke="#48ff01" d="M1372 438.7L1387.4 446.9 1399 440.1 1383.5 431.8Z"/>
<path fill="#4eff01" stroke="#4eff01" d="M1383.5 431.8L1399 440.1 1410.5 433.2 1395.1 424.8Z"/>
<path fill="#3fff00" stroke="#3fff00" d="M990.2 637.6L1006.3 646.7 1019.6 641.5 1003.5 632.5ZM966 662.1L982.2 671.9 995.7 666.6 979.5 657Z"/>
<path fill="#28ff00" stroke="#28ff00" d="M1043.1 616.9L1059.1 625.4 1072.1 620 1056.1 611.5ZM1364.2 460.3L1379.7 468.7 1391.4 462.1 1375.8 453.6ZM982.2 671.9L998.4 681.9 1011.9 676.5 995.7 666.6Z"/>
<path fill="#24ff00" stroke="#24ff00" d="M1056.1 611.5L1072.1 620 1085.1 614.5 1069.1 606.2ZM1352.5 467L1368.1 475.3 1379.7 468.7 1364.2 460.3ZM918.9 730.3L935.4 741.9 949.3 736.4 932.8 724.9Z"/>
<path fill="#1aff00" stroke="#1aff00" d="M1094.9 595.2L1110.8 603.4 1123.6 597.7 1107.7 589.6ZM1391.4 462.1L1407 470.9 1418.5 464.4 1403 455.4ZM1022.4 656L1038.6 665.5 1051.8 660 1035.7 650.6ZM984.9 687.3L1001.2 697.6 1014.7 692 998.4 681.9ZM946.6 719.5L963.1 730.7 976.8 725.1 960.4 714.1ZM838.7 799.8L855.5 813.7 869.9 807.8 853.1 794.1Z"/>
<path fill="#17ff00" stroke="#17ff00" d="M1107.7 589.6L1123.6 597.7 1136.4 592 1120.5 584Z"/>
<path fill="#15ff00" stroke="#15ff00" d="M1120.5 584L1136.4 592 1149.1 586.3 1133.2 578.3ZM1072.1 620L1088.1 628.7 1101.1 623.1 1085.1 614.5ZM1035.7 650.6L1051.8 660 1065 654.5 1048.9 645.2ZM998.4 681.9L1014.7 692 1028.1 686.5 1011.9 676.5ZM853.1 794.1L869.9 807.8 884.2 801.8 867.4 788.3Z"/>
<path fill="#11ff00" stroke="#11ff00" d="M1145.8 572.6L1161.7 580.5 1174.3 574.7 1158.4 566.8ZM1048.9 645.2L1065 654.5 1078.1 648.9 1062 639.7ZM1011.9 676.5L1028.1 686.5 1041.5 680.9 1025.3 671ZM921.5 747.5L938 759.6 951.9 753.8 935.4 741.9Z"/>
<path fill="#10ff00" stroke="#10ff00" d="M1158.4 566.8L1174.3 574.7 1186.8 568.8 1170.9 561ZM1356.3 481.8L1372 490.3 1383.7 483.9 1368.1 475.3ZM1441.5 451.3L1457.1 460.9 1468.5 454.4 1453 444.7ZM867.4 788.3L884.2 801.8 898.4 795.8 881.7 782.6Z"/>
<path fill="#0fff00" stroke="#0fff00" d="M1170.9 561L1186.8 568.8 1199.2 562.8 1183.4 555.1ZM1098 609L1114 617.5 1126.8 611.8 1110.8 603.4ZM974.1 708.6L990.5 719.5 1004.1 713.8 987.7 703.1Z"/>
<path fill="#0eff00" stroke="#0eff00" d="M1183.4 555.1L1199.2 562.8 1211.6 556.9 1195.8 549.1ZM1524.9 421.8L1540.3 432.9 1551.4 426.5 1536 415.2Z"/>
<path fill="#0eff01" stroke="#0eff01" d="M1195.8 549.1L1211.6 556.9 1224 550.8 1208.2 543.1ZM1208.2 543.1L1224 550.8 1236.3 544.8 1220.5 537Z"/>
<path fill="#0fff01" stroke="#0fff01" d="M1220.5 537L1236.3 544.8 1248.5 538.7 1232.8 530.9ZM1232.8 530.9L1248.5 538.7 1260.7 532.5 1245 524.7Z"/>
<path fill="#10ff01" stroke="#10ff01" d="M1245 524.7L1260.7 532.5 1272.8 526.3 1257.1 518.5Z"/>
<path fill="#11ff02" stroke="#11ff02" d="M1257.1 518.5L1272.8 526.3 1284.9 520.1 1269.2 512.3Z"/>
<path fill="#13ff02" stroke="#13ff02" d="M1269.2 512.3L1284.9 520.1 1296.9 513.8 1281.3 505.9Z"/>
<path fill="#15ff02" stroke="#15ff02" d="M1281.3 505.9L1296.9 513.8 1308.9 507.5 1293.2 499.6Z"/>
<path fill="#16ff01" stroke="#16ff01" d="M1293.2 499.6L1308.9 507.5 1320.8 501.1 1305.2 493.2Z"/>
<path fill="#19ff01" stroke="#19ff01" d="M1305.2 493.2L1320.8 501.1 1332.7 494.7 1317.1 486.7Z"/>
<path fill="#1eff01" stroke="#1eff01" d="M1328.9 480.2L1344.5 488.3 1356.3 481.8 1340.7 473.6Z"/>
<path fill="#53ff00" stroke="#53ff00" d="M1444.8 412.4L1460.2 421.7 1471.5 414.8 1456.1 405.4Z"/>
<path fill="#5aff00" stroke="#5aff00" d="M1456.1 405.4L1471.5 414.8 1482.8 407.9 1467.4 398.4ZM860.3 733.9L876.8 746.2 890.9 740.9 874.4 728.9Z"/>
<path fill="#56ff00" stroke="#56ff00" d="M925.2 677L941.4 687.3 955.1 682.2 938.9 672.1Z"/>
<path fill="#31ff00" stroke="#31ff00" d="M992.9 651.9L1009.1 661.4 1022.4 656 1006.3 646.7ZM1448.9 428.5L1464.3 438 1475.7 431.3 1460.2 421.7Z"/>
<path fill="#19ff00" stroke="#19ff00" d="M1059.1 625.4L1075.1 634.2 1088.1 628.7 1072.1 620Z"/>
<path fill="#12ff00" stroke="#12ff00" d="M1085.1 614.5L1101.1 623.1 1114 617.5 1098 609Z"/>
<path fill="#0cff00" stroke="#0cff00" d="M1110.8 603.4L1126.8 611.8 1139.6 606.1 1123.6 597.7ZM1025.3 671L1041.5 680.9 1054.8 675.3 1038.6 665.5ZM935.4 741.9L951.9 753.8 965.8 748 949.3 736.4Z"/>
<path fill="#0aff00" stroke="#0aff00" d="M1123.6 597.7L1139.6 606.1 1152.3 600.3 1136.4 592ZM1075.1 634.2L1091.2 643.3 1104.2 637.6 1088.1 628.7ZM1513.7 428.4L1529.2 439.3 1540.3 432.9 1524.9 421.8Z"/>
<path fill="#04ff00" stroke="#04ff00" d="M1161.7 580.5L1177.6 588.7 1190.1 582.8 1174.3 574.7ZM1051.8 660L1068 669.6 1081.2 663.9 1065 654.5Z"/>
<path fill="#03ff00" stroke="#03ff00" d="M1174.3 574.7L1190.1 582.8 1202.6 576.9 1186.8 568.8ZM1284.9 520.1L1300.6 528.3 1312.6 522 1296.9 513.8ZM1101.1 623.1L1117.1 631.9 1130 626.2 1114 617.5ZM1395.3 477.4L1411 486.6 1422.6 480.2 1407 470.9ZM1491.2 441.4L1506.7 452 1517.9 445.6 1502.5 434.9ZM963.1 730.7L979.6 742.2 993.3 736.3 976.8 725.1Z"/>
<path fill="#02ff00" stroke="#02ff00" d="M1186.8 568.8L1202.6 576.9 1215.1 570.9 1199.2 562.8ZM1272.8 526.3L1288.6 534.5 1300.6 528.3 1284.9 520.1ZM1014.7 692L1031.1 702.4 1044.5 696.7 1028.1 686.5Z"/>
<path fill="#01ff00" stroke="#01ff00" d="M1199.2 562.8L1215.1 570.9 1227.5 564.9 1211.6 556.9ZM1211.6 556.9L1227.5 564.9 1239.8 558.9 1224 550.8ZM1248.5 538.7L1264.3 546.8 1276.4 540.6 1260.7 532.5ZM1260.7 532.5L1276.4 540.6 1288.6 534.5 1272.8 526.3ZM1114 617.5L1130 626.2 1142.8 620.4 1126.8 611.8ZM1383.7 483.9L1399.3 492.9 1411 486.6 1395.3 477.4ZM910 771.1L926.7 783.8 940.7 777.8 924.1 765.3Z"/>
<path fill="#05ff00" stroke="#05ff00" d="M1296.9 513.8L1312.6 522 1324.6 515.7 1308.9 507.5Z"/>
<path fill="#07ff00" stroke="#07ff00" d="M1308.9 507.5L1324.6 515.7 1336.5 509.4 1320.8 501.1ZM1502.5 434.9L1517.9 445.6 1529.2 439.3 1513.7 428.4ZM949.3 736.4L965.8 748 979.6 742.2 963.1 730.7Z"/>
<path fill="#0dff00" stroke="#0dff00" d="M1344.5 488.3L1360.2 496.7 1372 490.3 1356.3 481.8ZM1062 639.7L1078.1 648.9 1091.2 643.3 1075.1 634.2ZM1430.1 457.9L1445.6 467.4 1457.1 460.9 1441.5 451.3Z"/>
<path fill="#16ff00" stroke="#16ff00" d="M1379.7 468.7L1395.3 477.4 1407 470.9 1391.4 462.1ZM907.5 753.1L924.1 765.3 938 759.6 921.5 747.5Z"/>
<path fill="#22ff00" stroke="#22ff00" d="M1414.5 448.8L1430.1 457.9 1441.5 451.3 1426 442Z"/>
<path fill="#37ff00" stroke="#37ff00" d="M1460.2 421.7L1475.7 431.3 1487 424.6 1471.5 414.8Z"/>
<path fill="#45ff00" stroke="#45ff00" d="M1482.8 407.9L1498.2 417.9 1509.4 411.2 1494.1 401ZM927.7 692.4L944 703.1 957.7 697.9 941.4 687.3ZM807.4 791.3L824.2 805.5 838.7 799.8 821.9 785.9Z"/>
<path fill="#4cff00" stroke="#4cff00" d="M1494.1 401L1509.4 411.2 1520.6 404.4 1505.2 394Z"/>
<path fill="#2fff00" stroke="#2fff00" d="M968.7 677.1L984.9 687.3 998.4 681.9 982.2 671.9Z"/>
<path fill="#09ff00" stroke="#09ff00" d="M1418.5 464.4L1434.1 473.8 1445.6 467.4 1430.1 457.9Z"/>
<path fill="#18ff00" stroke="#18ff00" d="M1464.3 438L1479.9 448 1491.2 441.4 1475.7 431.3Z"/>
<path fill="#63ff00" stroke="#63ff00" d="M846.1 738.9L862.7 751.4 876.8 746.2 860.3 733.9Z"/>
<path fill="#25ff00" stroke="#25ff00" d="M957.7 697.9L974.1 708.6 987.7 703.1 971.4 692.6Z"/>
<path fill="#42ff00" stroke="#42ff00" d="M862.7 751.4L879.3 764.1 893.4 758.6 876.8 746.2Z"/>
<path fill="#27ff00" stroke="#27ff00" d="M865 769.6L881.7 782.6 895.9 776.9 879.3 764.1Z"/>
<path fill="#1cff00" stroke="#1cff00" d="M893.4 758.6L910 771.1 924.1 765.3 907.5 753.1Z"/>
<path fill="#00fe00" stroke="#00fe00" d="M1617.9 495.1L1633.5 508.9 1644.4 503.8 1628.9 489.7ZM1611.4 519.1L1627.1 532.9 1638.1 528 1622.5 514ZM1604.9 542.9L1620.7 556.7 1631.7 551.9 1616 537.9ZM1598.4 566.4L1614.2 580.3 1625.3 575.6 1609.5 561.6ZM1582.9 654.6L1599 668.8 1610.4 664.4 1594.3 650.1ZM1576.1 677.8L1592.3 692 1603.8 687.6 1587.6 673.2ZM1569.2 701L1585.5 715.2 1597.1 710.8 1580.8 696.4Z"/>
<path fill="#00fc00" stroke="#00fc00" d="M1622.5 514L1638.1 528 1649.1 523.1 1633.5 508.9ZM1601 626.9L1617 641.2 1628.3 636.8 1612.3 622.4ZM1594.3 650.1L1610.4 664.4 1621.8 660.1 1605.7 645.6ZM1587.6 673.2L1603.8 687.6 1615.2 683.3 1599 668.8Z"/>
<path fill="#00fb00" stroke="#00fb00" d="M1633.5 508.9L1649.1 523.1 1660 518.3 1644.4 503.8ZM1627.1 532.9L1642.8 547.2 1653.7 542.5 1638.1 528ZM1620.7 556.7L1636.4 571 1647.5 566.4 1631.7 551.9ZM1614.2 580.3L1630 594.5 1641.1 590 1625.3 575.6ZM1607.6 603.6L1623.5 617.9 1634.7 613.5 1618.8 599ZM1599 668.8L1615.2 683.3 1626.5 679 1610.4 664.4ZM1592.3 692L1608.5 706.5 1620 702.3 1603.8 687.6Z"/>
<path fill="#00fd00" stroke="#00fd00" d="M1616 537.9L1631.7 551.9 1642.8 547.2 1627.1 532.9ZM1609.5 561.6L1625.3 575.6 1636.4 571 1620.7 556.7ZM1603 585L1618.8 599 1630 594.5 1614.2 580.3ZM1596.3 608.3L1612.3 622.4 1623.5 617.9 1607.6 603.6ZM1589.7 631.5L1605.7 645.6 1617 641.2 1601 626.9ZM1580.8 696.4L1597.1 710.8 1608.5 706.5 1592.3 692Z"/>
<path fill="#00f900" stroke="#00f900" d="M1638.1 528L1653.7 542.5 1664.7 537.8 1649.1 523.1ZM1631.7 551.9L1647.5 566.4 1658.5 561.9 1642.8 547.2ZM1625.3 575.6L1641.1 590 1652.2 585.6 1636.4 571ZM1617 641.2L1633 655.8 1644.3 651.7 1628.3 636.8ZM1610.4 664.4L1626.5 679 1637.8 674.9 1621.8 660.1Z"/>
<path fill="#00f700" stroke="#00f700" d="M1649.1 523.1L1664.7 537.8 1675.6 533.2 1660 518.3ZM1642.8 547.2L1658.5 561.9 1669.4 557.4 1653.7 542.5ZM1634.7 613.5L1650.6 628.4 1661.7 624.3 1645.9 609.2ZM1628.3 636.8L1644.3 651.7 1655.4 647.6 1639.5 632.6ZM1621.8 660.1L1637.8 674.9 1649.1 670.9 1633 655.8Z"/>
<path fill="#00f500" stroke="#00f500" d="M1653.7 542.5L1669.4 557.4 1680.3 553 1664.7 537.8ZM1645.9 609.2L1661.7 624.3 1672.8 620.2 1656.9 604.9ZM1639.5 632.6L1655.4 647.6 1666.6 643.7 1650.6 628.4ZM1633 655.8L1649.1 670.9 1660.3 667 1644.3 651.7Z"/>
<path fill="#00f300" stroke="#00f300" d="M1664.7 537.8L1680.3 553 1691.1 548.6 1675.6 533.2ZM1656.9 604.9L1672.8 620.2 1683.8 616.3 1668 600.7ZM1650.6 628.4L1666.6 643.7 1677.6 639.8 1661.7 624.3Z"/>
<path fill="#00f800" stroke="#00f800" d="M1636.4 571L1652.2 585.6 1663.2 581.3 1647.5 566.4ZM1630 594.5L1645.9 609.2 1656.9 604.9 1641.1 590ZM1623.5 617.9L1639.5 632.6 1650.6 628.4 1634.7 613.5Z"/>
<path fill="#00f600" stroke="#00f600" d="M1647.5 566.4L1663.2 581.3 1674.2 577 1658.5 561.9ZM1641.1 590L1656.9 604.9 1668 600.7 1652.2 585.6Z"/>
<path fill="#00f400" stroke="#00f400" d="M1658.5 561.9L1674.2 577 1685.1 572.8 1669.4 557.4ZM1652.2 585.6L1668 600.7 1679 596.6 1663.2 581.3Z"/>
<path fill="#00f200" stroke="#00f200" d="M1669.4 557.4L1685.1 572.8 1695.9 568.6 1680.3 553ZM1663.2 581.3L1679 596.6 1689.9 592.6 1674.2 577Z"/>
<path fill="#00f000" stroke="#00f000" d="M1680.3 553L1695.9 568.6 1706.7 564.5 1691.1 548.6ZM1674.2 577L1689.9 592.6 1700.8 588.6 1685.1 572.8Z"/>
<path fill="#00fa00" stroke="#00fa00" d="M1618.8 599L1634.7 613.5 1645.9 609.2 1630 594.5ZM1612.3 622.4L1628.3 636.8 1639.5 632.6 1623.5 617.9ZM1605.7 645.6L1621.8 660.1 1633 655.8 1617 641.2Z"/>
<path fill="#00ee00" stroke="#00ee00" d="M1685.1 572.8L1700.8 588.6 1711.6 584.7 1695.9 568.6Z"/>
<path fill="#00ec00" stroke="#00ec00" d="M1695.9 568.6L1711.6 584.7 1722.4 580.8 1706.7 564.5Z"/>
<path fill="#00f100" stroke="#00f100" d="M1668 600.7L1683.8 616.3 1694.7 612.4 1679 596.6ZM1661.7 624.3L1677.6 639.8 1688.6 636 1672.8 620.2Z"/>
<path fill="#00ef00" stroke="#00ef00" d="M1679 596.6L1694.7 612.4 1705.6 608.6 1689.9 592.6Z"/>
<path fill="#00ed00" stroke="#00ed00" d="M1689.9 592.6L1705.6 608.6 1716.4 604.9 1700.8 588.6Z"/>
<path fill="#00ea00" stroke="#00ea00" d="M1700.8 588.6L1716.4 604.9 1727.2 601.2 1711.6 584.7Z"/>
<path fill="#00e801" stroke="#00e801" d="M1711.6 584.7L1727.2 601.2 1738 597.6 1722.4 580.8Z"/>
<path fill="#00ef01" stroke="#00ef01" d="M1672.8 620.2L1688.6 636 1699.6 632.3 1683.8 616.3Z"/>
<path fill="#00ed05" stroke="#00ed05" d="M1683.8 616.3L1699.6 632.3 1710.5 628.6 1694.7 612.4Z"/>
<path fill="#00eb09" stroke="#00eb09" d="M1694.7 612.4L1710.5 628.6 1721.3 625.1 1705.6 608.6Z"/>
<path fill="#00e90d" stroke="#00e90d" d="M1705.6 608.6L1721.3 625.1 1732.1 621.6 1716.4 604.9Z"/>
<path fill="#00e711" stroke="#00e711" d="M1716.4 604.9L1732.1 621.6 1742.9 618.2 1727.2 601.2Z"/>
<path fill="#00e415" stroke="#00e415" d="M1727.2 601.2L1742.9 618.2 1753.6 614.9 1738 597.6Z"/>
<path fill="#00f404" stroke="#00f404" d="M1644.3 651.7L1660.3 667 1671.4 663.1 1655.4 647.6Z"/>
<path fill="#00f208" stroke="#00f208" d="M1655.4 647.6L1671.4 663.1 1682.5 659.4 1666.6 643.7Z"/>
<path fill="#00f00c" stroke="#00f00c" d="M1666.6 643.7L1682.5 659.4 1693.5 655.7 1677.6 639.8Z"/>
<path fill="#00ee10" stroke="#00ee10" d="M1677.6 639.8L1693.5 655.7 1704.5 652.1 1688.6 636Z"/>
<path fill="#00ec15" stroke="#00ec15" d="M1688.6 636L1704.5 652.1 1715.4 648.7 1699.6 632.3Z"/>
<path fill="#00ea19" stroke="#00ea19" d="M1699.6 632.3L1715.4 648.7 1726.3 645.3 1710.5 628.6Z"/>
<path fill="#00e71e" stroke="#00e71e" d="M1710.5 628.6L1726.3 645.3 1737.1 642 1721.3 625.1Z"/>
<path fill="#00e523" stroke="#00e523" d="M1721.3 625.1L1737.1 642 1747.9 638.8 1732.1 621.6Z"/>
<path fill="#00e328" stroke="#00e328" d="M1732.1 621.6L1747.9 638.8 1758.6 635.6 1742.9 618.2Z"/>
<path fill="#00e02d" stroke="#00e02d" d="M1742.9 618.2L1758.6 635.6 1769.2 632.6 1753.6 614.9Z"/>
<path fill="#00f902" stroke="#00f902" d="M1603.8 687.6L1620 702.3 1631.4 698.1 1615.2 683.3Z"/>
<path fill="#00f806" stroke="#00f806" d="M1615.2 683.3L1631.4 698.1 1642.7 694.1 1626.5 679Z"/>
<path fill="#00f60a" stroke="#00f60a" d="M1626.5 679L1642.7 694.1 1653.9 690.2 1637.8 674.9Z"/>
<path fill="#00f40e" stroke="#00f40e" d="M1637.8 674.9L1653.9 690.2 1665.2 686.4 1649.1 670.9Z"/>
<path fill="#00f212" stroke="#00f212" d="M1649.1 670.9L1665.2 686.4 1676.3 682.6 1660.3 667Z"/>
<path fill="#00f017" stroke="#00f017" d="M1660.3 667L1676.3 682.6 1687.4 679 1671.4 663.1Z"/>
<path fill="#00ee1b" stroke="#00ee1b" d="M1671.4 663.1L1687.4 679 1698.5 675.5 1682.5 659.4Z"/>
<path fill="#00ec21" stroke="#00ec21" d="M1682.5 659.4L1698.5 675.5 1709.4 672.1 1693.5 655.7Z"/>
<path fill="#00ea26" stroke="#00ea26" d="M1693.5 655.7L1709.4 672.1 1720.4 668.7 1704.5 652.1Z"/>
<path fill="#00e82b" stroke="#00e82b" d="M1704.5 652.1L1720.4 668.7 1731.3 665.5 1715.4 648.7Z"/>
<path fill="#00e630" stroke="#00e630" d="M1715.4 648.7L1731.3 665.5 1742.1 662.4 1726.3 645.3Z"/>
<path fill="#00e435" stroke="#00e435" d="M1726.3 645.3L1742.1 662.4 1752.9 659.3 1737.1 642Z"/>
<path fill="#00e13a" stroke="#00e13a" d="M1737.1 642L1752.9 659.3 1763.6 656.4 1747.9 638.8Z"/>
<path fill="#00df3f" stroke="#00df3f" d="M1747.9 638.8L1763.6 656.4 1774.2 653.5 1758.6 635.6Z"/>
<path fill="#00dc45" stroke="#00dc45" d="M1758.6 635.6L1774.2 653.5 1784.8 650.8 1769.2 632.6Z"/>
<path fill="#00fe01" stroke="#00fe01" d="M1562.2 724.4L1578.6 738.7 1590.3 734.2 1573.9 719.8Z"/>
<path fill="#00fd04" stroke="#00fd04" d="M1573.9 719.8L1590.3 734.2 1601.8 729.8 1585.5 715.2Z"/>
<path fill="#00fb08" stroke="#00fb08" d="M1585.5 715.2L1601.8 729.8 1613.3 725.5 1597.1 710.8Z"/>
<path fill="#00fa0c" stroke="#00fa0c" d="M1597.1 710.8L1613.3 725.5 1624.8 721.4 1608.5 706.5Z"/>
<path fill="#00f810" stroke="#00f810" d="M1608.5 706.5L1624.8 721.4 1636.2 717.3 1620 702.3Z"/>
<path fill="#00f614" stroke="#00f614" d="M1620 702.3L1636.2 717.3 1647.5 713.4 1631.4 698.1Z"/>
<path fill="#00f518" stroke="#00f518" d="M1631.4 698.1L1647.5 713.4 1658.8 709.6 1642.7 694.1Z"/>
<path fill="#00f31d" stroke="#00f31d" d="M1642.7 694.1L1658.8 709.6 1670.1 705.9 1653.9 690.2Z"/>
<path fill="#00f122" stroke="#00f122" d="M1653.9 690.2L1670.1 705.9 1681.2 702.2 1665.2 686.4Z"/>
<path fill="#00ef27" stroke="#00ef27" d="M1665.2 686.4L1681.2 702.2 1692.4 698.7 1676.3 682.6Z"/>
<path fill="#00ed2c" stroke="#00ed2c" d="M1676.3 682.6L1692.4 698.7 1703.4 695.3 1687.4 679Z"/>
<path fill="#00eb31" stroke="#00eb31" d="M1687.4 679L1703.4 695.3 1714.4 692 1698.5 675.5Z"/>
<path fill="#00e937" stroke="#00e937" d="M1698.5 675.5L1714.4 692 1725.4 688.8 1709.4 672.1Z"/>
<path fill="#00e73c" stroke="#00e73c" d="M1709.4 672.1L1725.4 688.8 1736.3 685.8 1720.4 668.7Z"/>
<path fill="#00e441" stroke="#00e441" d="M1720.4 668.7L1736.3 685.8 1747.1 682.8 1731.3 665.5Z"/>
<path fill="#00e247" stroke="#00e247" d="M1731.3 665.5L1747.1 682.8 1757.9 679.9 1742.1 662.4Z"/>
<path fill="#00e04c" stroke="#00e04c" d="M1742.1 662.4L1757.9 679.9 1768.6 677.1 1752.9 659.3Z"/>
<path fill="#00dd51" stroke="#00dd51" d="M1752.9 659.3L1768.6 677.1 1779.3 674.5 1763.6 656.4Z"/>
<path fill="#00db57" stroke="#00db57" d="M1763.6 656.4L1779.3 674.5 1789.9 671.9 1774.2 653.5Z"/>
<path fill="#00d85c" stroke="#00d85c" d="M1774.2 653.5L1789.9 671.9 1800.5 669.4 1784.8 650.8Z"/>
<path fill="#00ff03" stroke="#00ff03" d="M1531.5 757.7L1548.1 771.8 1559.9 767 1543.4 752.8ZM1488 797.6L1504.7 811.4 1516.8 806.1 1500.1 792.2ZM1195.7 979.3L1213.1 993.7 1226.6 985 1209.3 970.7ZM1418.3 852.3L1435.2 866 1447.7 859.8 1430.8 846.1Z"/>
<path fill="#00ff06" stroke="#00ff06" d="M1543.4 752.8L1559.9 767 1571.7 762.3 1555.2 747.9ZM1500.1 792.2L1516.8 806.1 1528.9 800.9 1512.2 786.9ZM1168.3 996.9L1185.7 1011.6 1199.4 1002.6 1182.1 988ZM1443.3 840L1460.2 853.8 1472.5 847.9 1455.7 834Z"/>
<path fill="#00ff0a" stroke="#00ff0a" d="M1555.2 747.9L1571.7 762.3 1583.4 757.7 1566.9 743.2ZM1140.7 1015L1158.1 1030.1 1172 1020.8 1154.5 1005.9ZM1293.6 943.8L1310.8 957.9 1324 950 1306.8 936ZM1306.8 936L1324 950 1337.1 942.3 1319.9 928.3ZM1319.9 928.3L1337.1 942.3 1350.1 934.8 1332.9 920.8ZM1332.9 920.8L1350.1 934.8 1363.1 927.4 1345.9 913.5ZM1345.9 913.5L1363.1 927.4 1376 920.2 1358.9 906.3Z"/>
<path fill="#00fd0d" stroke="#00fd0d" d="M1566.9 743.2L1583.4 757.7 1595 753.3 1578.6 738.7Z"/>
<path fill="#00fc11" stroke="#00fc11" d="M1578.6 738.7L1595 753.3 1606.6 748.9 1590.3 734.2Z"/>
<path fill="#00fa15" stroke="#00fa15" d="M1590.3 734.2L1606.6 748.9 1618.2 744.7 1601.8 729.8Z"/>
<path fill="#00f919" stroke="#00f919" d="M1601.8 729.8L1618.2 744.7 1629.7 740.6 1613.3 725.5Z"/>
<path fill="#00f71e" stroke="#00f71e" d="M1613.3 725.5L1629.7 740.6 1641.1 736.7 1624.8 721.4Z"/>
<path fill="#00f523" stroke="#00f523" d="M1624.8 721.4L1641.1 736.7 1652.4 732.8 1636.2 717.3Z"/>
<path fill="#00f328" stroke="#00f328" d="M1636.2 717.3L1652.4 732.8 1663.8 729.1 1647.5 713.4Z"/>
<path fill="#00f22d" stroke="#00f22d" d="M1647.5 713.4L1663.8 729.1 1675 725.4 1658.8 709.6Z"/>
<path fill="#00f032" stroke="#00f032" d="M1658.8 709.6L1675 725.4 1686.2 721.9 1670.1 705.9Z"/>
<path fill="#00ee37" stroke="#00ee37" d="M1670.1 705.9L1686.2 721.9 1697.3 718.5 1681.2 702.2Z"/>
<path fill="#00ec3c" stroke="#00ec3c" d="M1681.2 702.2L1697.3 718.5 1708.4 715.2 1692.4 698.7Z"/>
<path fill="#00ea42" stroke="#00ea42" d="M1692.4 698.7L1708.4 715.2 1719.4 712.1 1703.4 695.3Z"/>
<path fill="#00e847" stroke="#00e847" d="M1703.4 695.3L1719.4 712.1 1730.4 709 1714.4 692Z"/>
<path fill="#00e54d" stroke="#00e54d" d="M1714.4 692L1730.4 709 1741.3 706 1725.4 688.8Z"/>
<path fill="#00e352" stroke="#00e352" d="M1725.4 688.8L1741.3 706 1752.2 703.2 1736.3 685.8Z"/>
<path fill="#00e158" stroke="#00e158" d="M1736.3 685.8L1752.2 703.2 1763 700.5 1747.1 682.8Z"/>
<path fill="#00de5d" stroke="#00de5d" d="M1747.1 682.8L1763 700.5 1773.7 697.9 1757.9 679.9Z"/>
<path fill="#00dc63" stroke="#00dc63" d="M1757.9 679.9L1773.7 697.9 1784.4 695.4 1768.6 677.1Z"/>
<path fill="#00da69" stroke="#00da69" d="M1768.6 677.1L1784.4 695.4 1795 693 1779.3 674.5Z"/>
<path fill="#00d76d" stroke="#00d76d" d="M1779.3 674.5L1795 693 1805.6 690.7 1789.9 671.9Z"/>
<path fill="#00d571" stroke="#00d571" d="M1789.9 671.9L1805.6 690.7 1816.1 688.5 1800.5 669.4Z"/>
<path fill="#00ff02" stroke="#00ff02" d="M1081.3 1027.9L1098.7 1043.4 1112.8 1033.8 1095.3 1018.5Z"/>
<path fill="#00ff01" stroke="#00ff01" d="M1475.8 803.1L1492.5 816.9 1504.7 811.4 1488 797.6ZM1209.3 970.7L1226.6 985 1240.2 976.5 1222.8 962.2ZM1405.7 858.7L1422.7 872.4 1435.2 866 1418.3 852.3Z"/>
<path fill="#00ff09" stroke="#00ff09" d="M1512.2 786.9L1528.9 800.9 1540.8 795.9 1524.2 781.7Z"/>
<path fill="#00ff0c" stroke="#00ff0c" d="M1524.2 781.7L1540.8 795.9 1552.8 790.9 1536.2 776.7ZM1267 959.8L1284.3 974.1 1297.6 965.9 1280.3 951.7ZM1384.6 892.3L1401.7 906.2 1414.4 899.4 1397.3 885.5Z"/>
<path fill="#00ff10" stroke="#00ff10" d="M1536.2 776.7L1552.8 790.9 1564.6 786.1 1548.1 771.8ZM1492.5 816.9L1509.3 831 1521.5 825.6 1504.7 811.4ZM1422.7 872.4L1439.7 886.3 1452.2 880 1435.2 866Z"/>
<path fill="#00ff13" stroke="#00ff13" d="M1548.1 771.8L1564.6 786.1 1576.4 781.5 1559.9 767ZM1504.7 811.4L1521.5 825.6 1533.5 820.4 1516.8 806.1ZM1199.4 1002.6L1216.9 1017.3 1230.5 1008.4 1213.1 993.7ZM1447.7 859.8L1464.7 873.9 1477.1 867.9 1460.2 853.8Z"/>
<path fill="#00fe17" stroke="#00fe17" d="M1559.9 767L1576.4 781.5 1588.2 776.9 1571.7 762.3Z"/>
<path fill="#00fc1b" stroke="#00fc1b" d="M1571.7 762.3L1588.2 776.9 1599.9 772.5 1583.4 757.7Z"/>
<path fill="#00fb1f" stroke="#00fb1f" d="M1583.4 757.7L1599.9 772.5 1611.5 768.2 1595 753.3Z"/>
<path fill="#00f924" stroke="#00f924" d="M1595 753.3L1611.5 768.2 1623 764.1 1606.6 748.9Z"/>
<path fill="#00f728" stroke="#00f728" d="M1606.6 748.9L1623 764.1 1634.5 760 1618.2 744.7Z"/>
<path fill="#00f62d" stroke="#00f62d" d="M1618.2 744.7L1634.5 760 1646 756.1 1629.7 740.6Z"/>
<path fill="#00f432" stroke="#00f432" d="M1629.7 740.6L1646 756.1 1657.4 752.3 1641.1 736.7Z"/>
<path fill="#00f237" stroke="#00f237" d="M1641.1 736.7L1657.4 752.3 1668.7 748.6 1652.4 732.8Z"/>
<path fill="#00f03c" stroke="#00f03c" d="M1652.4 732.8L1668.7 748.6 1680 745.1 1663.8 729.1Z"/>
<path fill="#00ef42" stroke="#00ef42" d="M1663.8 729.1L1680 745.1 1691.2 741.7 1675 725.4Z"/>
<path fill="#00ed47" stroke="#00ed47" d="M1675 725.4L1691.2 741.7 1702.4 738.4 1686.2 721.9Z"/>
<path fill="#00ea4c" stroke="#00ea4c" d="M1686.2 721.9L1702.4 738.4 1713.4 735.2 1697.3 718.5Z"/>
<path fill="#00e852" stroke="#00e852" d="M1697.3 718.5L1713.4 735.2 1724.5 732.1 1708.4 715.2Z"/>
<path fill="#00e658" stroke="#00e658" d="M1708.4 715.2L1724.5 732.1 1735.5 729.2 1719.4 712.1Z"/>
<path fill="#00e45d" stroke="#00e45d" d="M1719.4 712.1L1735.5 729.2 1746.4 726.4 1730.4 709Z"/>
<path fill="#00e263" stroke="#00e263" d="M1730.4 709L1746.4 726.4 1757.3 723.7 1741.3 706Z"/>
<path fill="#00df69" stroke="#00df69" d="M1741.3 706L1757.3 723.7 1768.1 721.1 1752.2 703.2Z"/>
<path fill="#00dd6e" stroke="#00dd6e" d="M1752.2 703.2L1768.1 721.1 1778.8 718.6 1763 700.5Z"/>
<path fill="#00db72" stroke="#00db72" d="M1763 700.5L1778.8 718.6 1789.5 716.3 1773.7 697.9Z"/>
<path fill="#00d876" stroke="#00d876" d="M1773.7 697.9L1789.5 716.3 1800.2 714.1 1784.4 695.4Z"/>
<path fill="#00d679" stroke="#00d679" d="M1784.4 695.4L1800.2 714.1 1810.7 711.9 1795 693Z"/>
<path fill="#00d37d" stroke="#00d37d" d="M1795 693L1810.7 711.9 1821.3 709.9 1805.6 690.7Z"/>
<path fill="#00d181" stroke="#00d181" d="M1805.6 690.7L1821.3 709.9 1831.7 708.1 1816.1 688.5Z"/>
<path fill="#00ff12" stroke="#00ff12" d="M1098.7 1043.4L1116.3 1058.9 1130.3 1049.2 1112.8 1033.8Z"/>
<path fill="#00ff0f" stroke="#00ff0f" d="M1112.8 1033.8L1130.3 1049.2 1144.2 1039.5 1126.8 1024.3ZM1226.6 985L1244 999.5 1257.5 990.9 1240.2 976.5Z"/>
<path fill="#00ff0d" stroke="#00ff0d" d="M1126.8 1024.3L1144.2 1039.5 1158.1 1030.1 1140.7 1015ZM1480.3 822.5L1497.1 836.5 1509.3 831 1492.5 816.9ZM1253.6 968.1L1270.9 982.4 1284.3 974.1 1267 959.8ZM1397.3 885.5L1414.4 899.4 1427.1 892.8 1410 878.9Z"/>
<path fill="#00ff08" stroke="#00ff08" d="M1154.5 1005.9L1172 1020.8 1185.7 1011.6 1168.3 996.9ZM1455.7 834L1472.5 847.9 1484.9 842.1 1468 828.2Z"/>
<path fill="#00ff04" stroke="#00ff04" d="M1182.1 988L1199.4 1002.6 1213.1 993.7 1195.7 979.3Z"/>
<path fill="#00ff05" stroke="#00ff05" d="M1430.8 846.1L1447.7 859.8 1460.2 853.8 1443.3 840Z"/>
<path fill="#00ff0b" stroke="#00ff0b" d="M1468 828.2L1484.9 842.1 1497.1 836.5 1480.3 822.5ZM1280.3 951.7L1297.6 965.9 1310.8 957.9 1293.6 943.8ZM1358.9 906.3L1376 920.2 1388.9 913.1 1371.8 899.2ZM1371.8 899.2L1388.9 913.1 1401.7 906.2 1384.6 892.3Z"/>
<path fill="#00ff16" stroke="#00ff16" d="M1516.8 806.1L1533.5 820.4 1545.5 815.3 1528.9 800.9Z"/>
<path fill="#00ff19" stroke="#00ff19" d="M1528.9 800.9L1545.5 815.3 1557.5 810.4 1540.8 795.9ZM1158.1 1030.1L1175.6 1045.2 1189.4 1035.8 1172 1020.8ZM1297.6 965.9L1314.9 980.2 1328.1 972.2 1310.8 957.9ZM1376 920.2L1393.2 934.3 1406 927.2 1388.9 913.1ZM1388.9 913.1L1406 927.2 1418.8 920.3 1401.7 906.2Z"/>
<path fill="#00ff1d" stroke="#00ff1d" d="M1540.8 795.9L1557.5 810.4 1569.4 805.5 1552.8 790.9ZM1497.1 836.5L1514 850.7 1526.1 845.3 1509.3 831ZM1257.5 990.9L1274.9 1005.5 1288.3 996.9 1270.9 982.4ZM1427.1 892.8L1444.1 907 1456.7 900.5 1439.7 886.3Z"/>
<path fill="#00fe21" stroke="#00fe21" d="M1552.8 790.9L1569.4 805.5 1581.2 800.9 1564.6 786.1Z"/>
<path fill="#00fd25" stroke="#00fd25" d="M1564.6 786.1L1581.2 800.9 1593 796.3 1576.4 781.5Z"/>
<path fill="#00fb29" stroke="#00fb29" d="M1576.4 781.5L1593 796.3 1604.7 791.9 1588.2 776.9Z"/>
<path fill="#00fa2e" stroke="#00fa2e" d="M1588.2 776.9L1604.7 791.9 1616.3 787.7 1599.9 772.5Z"/>
<path fill="#00f833" stroke="#00f833" d="M1599.9 772.5L1616.3 787.7 1627.9 783.5 1611.5 768.2Z"/>
<path fill="#00f637" stroke="#00f637" d="M1611.5 768.2L1627.9 783.5 1639.5 779.5 1623 764.1Z"/>
<path fill="#00f53c" stroke="#00f53c" d="M1623 764.1L1639.5 779.5 1650.9 775.7 1634.5 760Z"/>
<path fill="#00f341" stroke="#00f341" d="M1634.5 760L1650.9 775.7 1662.4 771.9 1646 756.1Z"/>
<path fill="#00f147" stroke="#00f147" d="M1646 756.1L1662.4 771.9 1673.7 768.3 1657.4 752.3Z"/>
<path fill="#00ef4c" stroke="#00ef4c" d="M1657.4 752.3L1673.7 768.3 1685 764.9 1668.7 748.6Z"/>
<path fill="#00ed51" stroke="#00ed51" d="M1668.7 748.6L1685 764.9 1696.2 761.5 1680 745.1Z"/>
<path fill="#00eb57" stroke="#00eb57" d="M1680 745.1L1696.2 761.5 1707.4 758.3 1691.2 741.7Z"/>
<path fill="#00e95c" stroke="#00e95c" d="M1691.2 741.7L1707.4 758.3 1718.5 755.2 1702.4 738.4Z"/>
<path fill="#00e762" stroke="#00e762" d="M1702.4 738.4L1718.5 755.2 1729.6 752.3 1713.4 735.2Z"/>
<path fill="#00e568" stroke="#00e568" d="M1713.4 735.2L1729.6 752.3 1740.6 749.4 1724.5 732.1Z"/>
<path fill="#00e36d" stroke="#00e36d" d="M1724.5 732.1L1740.6 749.4 1751.5 746.7 1735.5 729.2Z"/>
<path fill="#00e072" stroke="#00e072" d="M1735.5 729.2L1751.5 746.7 1762.4 744.2 1746.4 726.4Z"/>
<path fill="#00de76" stroke="#00de76" d="M1746.4 726.4L1762.4 744.2 1773.2 741.7 1757.3 723.7Z"/>
<path fill="#00dc7a" stroke="#00dc7a" d="M1757.3 723.7L1773.2 741.7 1784 739.4 1768.1 721.1Z"/>
<path fill="#00d97e" stroke="#00d97e" d="M1768.1 721.1L1784 739.4 1794.7 737.2 1778.8 718.6Z"/>
<path fill="#00d782" stroke="#00d782" d="M1778.8 718.6L1794.7 737.2 1805.3 735.1 1789.5 716.3Z"/>
<path fill="#00d486" stroke="#00d486" d="M1789.5 716.3L1805.3 735.1 1815.9 733.2 1800.2 714.1Z"/>
<path fill="#00d289" stroke="#00d289" d="M1800.2 714.1L1815.9 733.2 1826.5 731.4 1810.7 711.9Z"/>
<path fill="#00cf8d" stroke="#00cf8d" d="M1810.7 711.9L1826.5 731.4 1836.9 729.7 1821.3 709.9Z"/>
<path fill="#00cd91" stroke="#00cd91" d="M1821.3 709.9L1836.9 729.7 1847.4 728.1 1831.7 708.1Z"/>
<path fill="#00ff22" stroke="#00ff22" d="M1116.3 1058.9L1133.8 1074.6 1147.8 1064.6 1130.3 1049.2ZM1216.9 1017.3L1234.3 1032.2 1247.9 1023.1 1230.5 1008.4Z"/>
<path fill="#00ff1f" stroke="#00ff1f" d="M1130.3 1049.2L1147.8 1064.6 1161.8 1054.8 1144.2 1039.5ZM1439.7 886.3L1456.7 900.5 1469.2 894.3 1452.2 880Z"/>
<path fill="#00ff1c" stroke="#00ff1c" d="M1144.2 1039.5L1161.8 1054.8 1175.6 1045.2 1158.1 1030.1ZM1414.4 899.4L1431.5 913.6 1444.1 907 1427.1 892.8Z"/>
<path fill="#00ff17" stroke="#00ff17" d="M1172 1020.8L1189.4 1035.8 1203.2 1026.5 1185.7 1011.6ZM1472.5 847.9L1489.4 862 1501.7 856.3 1484.9 842.1Z"/>
<path fill="#00ff15" stroke="#00ff15" d="M1185.7 1011.6L1203.2 1026.5 1216.9 1017.3 1199.4 1002.6ZM1460.2 853.8L1477.1 867.9 1489.4 862 1472.5 847.9Z"/>
<path fill="#00ff11" stroke="#00ff11" d="M1213.1 993.7L1230.5 1008.4 1244 999.5 1226.6 985ZM1435.2 866L1452.2 880 1464.7 873.9 1447.7 859.8Z"/>
<path fill="#00ff0e" stroke="#00ff0e" d="M1240.2 976.5L1257.5 990.9 1270.9 982.4 1253.6 968.1ZM1410 878.9L1427.1 892.8 1439.7 886.3 1422.7 872.4Z"/>
<path fill="#00ff1a" stroke="#00ff1a" d="M1484.9 842.1L1501.7 856.3 1514 850.7 1497.1 836.5ZM1284.3 974.1L1301.6 988.5 1314.9 980.2 1297.6 965.9ZM1401.7 906.2L1418.8 920.3 1431.5 913.6 1414.4 899.4Z"/>
<path fill="#00ff20" stroke="#00ff20" d="M1509.3 831L1526.1 845.3 1538.2 840.1 1521.5 825.6ZM1230.5 1008.4L1247.9 1023.1 1261.4 1014.2 1244 999.5Z"/>
<path fill="#00ff24" stroke="#00ff24" d="M1521.5 825.6L1538.2 840.1 1550.3 834.9 1533.5 820.4ZM1464.7 873.9L1481.7 888.2 1494.1 882.2 1477.1 867.9Z"/>
<path fill="#00ff28" stroke="#00ff28" d="M1533.5 820.4L1550.3 834.9 1562.3 830 1545.5 815.3ZM1341.3 964.3L1358.6 978.7 1371.6 970.9 1354.3 956.5ZM1354.3 956.5L1371.6 970.9 1384.6 963.3 1367.4 949ZM1367.4 949L1384.6 963.3 1397.6 955.9 1380.3 941.5Z"/>
<path fill="#00fe2c" stroke="#00fe2c" d="M1545.5 815.3L1562.3 830 1574.2 825.1 1557.5 810.4Z"/>
<path fill="#00fd30" stroke="#00fd30" d="M1557.5 810.4L1574.2 825.1 1586 820.5 1569.4 805.5Z"/>
<path fill="#00fc34" stroke="#00fc34" d="M1569.4 805.5L1586 820.5 1597.8 815.9 1581.2 800.9Z"/>
<path fill="#00fa38" stroke="#00fa38" d="M1581.2 800.9L1597.8 815.9 1609.6 811.5 1593 796.3Z"/>
<path fill="#00f93d" stroke="#00f93d" d="M1593 796.3L1609.6 811.5 1621.3 807.3 1604.7 791.9Z"/>
<path fill="#00f741" stroke="#00f741" d="M1604.7 791.9L1621.3 807.3 1632.9 803.2 1616.3 787.7Z"/>
<path fill="#00f546" stroke="#00f546" d="M1616.3 787.7L1632.9 803.2 1644.4 799.2 1627.9 783.5Z"/>
<path fill="#00f44b" stroke="#00f44b" d="M1627.9 783.5L1644.4 799.2 1655.9 795.4 1639.5 779.5Z"/>
<path fill="#00f250" stroke="#00f250" d="M1639.5 779.5L1655.9 795.4 1667.4 791.7 1650.9 775.7Z"/>
<path fill="#00f056" stroke="#00f056" d="M1650.9 775.7L1667.4 791.7 1678.7 788.1 1662.4 771.9Z"/>
<path fill="#00ee5b" stroke="#00ee5b" d="M1662.4 771.9L1678.7 788.1 1690 784.7 1673.7 768.3Z"/>
<path fill="#00ec61" stroke="#00ec61" d="M1673.7 768.3L1690 784.7 1701.3 781.4 1685 764.9Z"/>
<path fill="#00ea66" stroke="#00ea66" d="M1685 764.9L1701.3 781.4 1712.5 778.3 1696.2 761.5Z"/>
<path fill="#00e86c" stroke="#00e86c" d="M1696.2 761.5L1712.5 778.3 1723.6 775.3 1707.4 758.3Z"/>
<path fill="#00e671" stroke="#00e671" d="M1707.4 758.3L1723.6 775.3 1734.7 772.5 1718.5 755.2Z"/>
<path fill="#00e475" stroke="#00e475" d="M1718.5 755.2L1734.7 772.5 1745.7 769.7 1729.6 752.3Z"/>
<path fill="#00e279" stroke="#00e279" d="M1729.6 752.3L1745.7 769.7 1756.7 767.1 1740.6 749.4Z"/>
<path fill="#00df7d" stroke="#00df7d" d="M1740.6 749.4L1756.7 767.1 1767.6 764.7 1751.5 746.7Z"/>
<path fill="#00dd81" stroke="#00dd81" d="M1751.5 746.7L1767.6 764.7 1778.4 762.4 1762.4 744.2Z"/>
<path fill="#00db85" stroke="#00db85" d="M1762.4 744.2L1778.4 762.4 1789.2 760.2 1773.2 741.7Z"/>
<path fill="#00d889" stroke="#00d889" d="M1773.2 741.7L1789.2 760.2 1799.9 758.1 1784 739.4Z"/>
<path fill="#00d68d" stroke="#00d68d" d="M1784 739.4L1799.9 758.1 1810.6 756.2 1794.7 737.2Z"/>
<path fill="#00d391" stroke="#00d391" d="M1794.7 737.2L1810.6 756.2 1821.2 754.4 1805.3 735.1Z"/>
<path fill="#00d195" stroke="#00d195" d="M1805.3 735.1L1821.2 754.4 1831.7 752.8 1815.9 733.2Z"/>
<path fill="#00ce99" stroke="#00ce99" d="M1815.9 733.2L1831.7 752.8 1842.2 751.2 1826.5 731.4Z"/>
<path fill="#00cb9d" stroke="#00cb9d" d="M1826.5 731.4L1842.2 751.2 1852.6 749.8 1836.9 729.7Z"/>
<path fill="#00c9a0" stroke="#00c9a0" d="M1836.9 729.7L1852.6 749.8 1863 748.5 1847.4 728.1Z"/>
<path fill="#00ff34" stroke="#00ff34" d="M1133.8 1074.6L1151.4 1090.3 1165.4 1080.2 1147.8 1064.6Z"/>
<path fill="#00ff31" stroke="#00ff31" d="M1147.8 1064.6L1165.4 1080.2 1179.3 1070.3 1161.8 1054.8ZM1247.9 1023.1L1265.4 1038 1278.9 1029 1261.4 1014.2ZM1456.7 900.5L1473.8 915 1486.3 908.8 1469.2 894.3Z"/>
<path fill="#00ff2d" stroke="#00ff2d" d="M1161.8 1054.8L1179.3 1070.3 1193.2 1060.5 1175.6 1045.2ZM1274.9 1005.5L1292.4 1020.2 1305.7 1011.5 1288.3 996.9ZM1431.5 913.6L1448.6 927.9 1461.2 921.4 1444.1 907Z"/>
<path fill="#00ff2a" stroke="#00ff2a" d="M1175.6 1045.2L1193.2 1060.5 1207 1050.9 1189.4 1035.8ZM1314.9 980.2L1332.3 994.7 1345.5 986.6 1328.1 972.2ZM1406 927.2L1423.2 941.6 1436 934.7 1418.8 920.3Z"/>
<path fill="#00ff27" stroke="#00ff27" d="M1189.4 1035.8L1207 1050.9 1220.7 1041.5 1203.2 1026.5Z"/>
<path fill="#00ff25" stroke="#00ff25" d="M1203.2 1026.5L1220.7 1041.5 1234.3 1032.2 1216.9 1017.3Z"/>
<path fill="#00ff1e" stroke="#00ff1e" d="M1244 999.5L1261.4 1014.2 1274.9 1005.5 1257.5 990.9Z"/>
<path fill="#00ff1b" stroke="#00ff1b" d="M1270.9 982.4L1288.3 996.9 1301.6 988.5 1284.3 974.1Z"/>
<path fill="#00ff18" stroke="#00ff18" d="M1310.8 957.9L1328.1 972.2 1341.3 964.3 1324 950ZM1324 950L1341.3 964.3 1354.3 956.5 1337.1 942.3ZM1337.1 942.3L1354.3 956.5 1367.4 949 1350.1 934.8ZM1350.1 934.8L1367.4 949 1380.3 941.5 1363.1 927.4ZM1363.1 927.4L1380.3 941.5 1393.2 934.3 1376 920.2Z"/>
<path fill="#00ff21" stroke="#00ff21" d="M1452.2 880L1469.2 894.3 1481.7 888.2 1464.7 873.9Z"/>
<path fill="#00ff26" stroke="#00ff26" d="M1477.1 867.9L1494.1 882.2 1506.4 876.4 1489.4 862Z"/>
<path fill="#00ff29" stroke="#00ff29" d="M1489.4 862L1506.4 876.4 1518.6 870.8 1501.7 856.3ZM1328.1 972.2L1345.5 986.6 1358.6 978.7 1341.3 964.3ZM1380.3 941.5L1397.6 955.9 1410.4 948.6 1393.2 934.3ZM1393.2 934.3L1410.4 948.6 1423.2 941.6 1406 927.2Z"/>
<path fill="#00ff2c" stroke="#00ff2c" d="M1501.7 856.3L1518.6 870.8 1530.8 865.3 1514 850.7ZM1288.3 996.9L1305.7 1011.5 1319 1003 1301.6 988.5Z"/>
<path fill="#00ff2f" stroke="#00ff2f" d="M1514 850.7L1530.8 865.3 1543 860 1526.1 845.3ZM1261.4 1014.2L1278.9 1029 1292.4 1020.2 1274.9 1005.5ZM1444.1 907L1461.2 921.4 1473.8 915 1456.7 900.5Z"/>
<path fill="#00ff33" stroke="#00ff33" d="M1526.1 845.3L1543 860 1555.1 854.8 1538.2 840.1ZM1234.3 1032.2L1251.8 1047.2 1265.4 1038 1247.9 1023.1ZM1469.2 894.3L1486.3 908.8 1498.7 902.7 1481.7 888.2Z"/>
<path fill="#00ff37" stroke="#00ff37" d="M1538.2 840.1L1555.1 854.8 1567.1 849.8 1550.3 834.9Z"/>
<path fill="#00fe3b" stroke="#00fe3b" d="M1550.3 834.9L1567.1 849.8 1579 844.9 1562.3 830Z"/>
<path fill="#00fc3f" stroke="#00fc3f" d="M1562.3 830L1579 844.9 1590.9 840.2 1574.2 825.1Z"/>
<path fill="#00fb43" stroke="#00fb43" d="M1574.2 825.1L1590.9 840.2 1602.7 835.7 1586 820.5Z"/>
<path fill="#00f947" stroke="#00f947" d="M1586 820.5L1602.7 835.7 1614.5 831.3 1597.8 815.9Z"/>
<path fill="#00f84c" stroke="#00f84c" d="M1597.8 815.9L1614.5 831.3 1626.2 827 1609.6 811.5Z"/>
<path fill="#00f650" stroke="#00f650" d="M1609.6 811.5L1626.2 827 1637.8 822.9 1621.3 807.3Z"/>
<path fill="#00f555" stroke="#00f555" d="M1621.3 807.3L1637.8 822.9 1649.4 819 1632.9 803.2Z"/>
<path fill="#00f35a" stroke="#00f35a" d="M1632.9 803.2L1649.4 819 1660.9 815.2 1644.4 799.2Z"/>
<path fill="#00f15f" stroke="#00f15f" d="M1644.4 799.2L1660.9 815.2 1672.4 811.5 1655.9 795.4Z"/>
<path fill="#00ef65" stroke="#00ef65" d="M1655.9 795.4L1672.4 811.5 1683.8 808 1667.4 791.7Z"/>
<path fill="#00ed6a" stroke="#00ed6a" d="M1667.4 791.7L1683.8 808 1695.1 804.7 1678.7 788.1Z"/>
<path fill="#00eb70" stroke="#00eb70" d="M1678.7 788.1L1695.1 804.7 1706.4 801.5 1690 784.7Z"/>
<path fill="#00e975" stroke="#00e975" d="M1690 784.7L1706.4 801.5 1717.6 798.4 1701.3 781.4Z"/>
<path fill="#00e778" stroke="#00e778" d="M1701.3 781.4L1717.6 798.4 1728.8 795.5 1712.5 778.3Z"/>
<path fill="#00e57c" stroke="#00e57c" d="M1712.5 778.3L1728.8 795.5 1739.9 792.7 1723.6 775.3Z"/>
<path fill="#00e380" stroke="#00e380" d="M1723.6 775.3L1739.9 792.7 1750.9 790.1 1734.7 772.5Z"/>
<path fill="#00e084" stroke="#00e084" d="M1734.7 772.5L1750.9 790.1 1761.9 787.6 1745.7 769.7Z"/>
<path fill="#00de88" stroke="#00de88" d="M1745.7 769.7L1761.9 787.6 1772.8 785.3 1756.7 767.1Z"/>
<path fill="#00dc8d" stroke="#00dc8d" d="M1756.7 767.1L1772.8 785.3 1783.6 783.1 1767.6 764.7Z"/>
<path fill="#00d991" stroke="#00d991" d="M1767.6 764.7L1783.6 783.1 1794.4 781 1778.4 762.4Z"/>
<path fill="#00d794" stroke="#00d794" d="M1778.4 762.4L1794.4 781 1805.1 779.1 1789.2 760.2Z"/>
<path fill="#00d498" stroke="#00d498" d="M1789.2 760.2L1805.1 779.1 1815.8 777.3 1799.9 758.1Z"/>
<path fill="#00d29c" stroke="#00d29c" d="M1799.9 758.1L1815.8 777.3 1826.4 775.6 1810.6 756.2Z"/>
<path fill="#00cfa0" stroke="#00cfa0" d="M1810.6 756.2L1826.4 775.6 1837 774.1 1821.2 754.4Z"/>
<path fill="#00cda4" stroke="#00cda4" d="M1821.2 754.4L1837 774.1 1847.5 772.8 1831.7 752.8Z"/>
<path fill="#00caa8" stroke="#00caa8" d="M1831.7 752.8L1847.5 772.8 1857.9 771.5 1842.2 751.2Z"/>
<path fill="#00c7ac" stroke="#00c7ac" d="M1842.2 751.2L1857.9 771.5 1868.3 770.4 1852.6 749.8Z"/>
<path fill="#00c5b0" stroke="#00c5b0" d="M1852.6 749.8L1868.3 770.4 1878.6 769.5 1863 748.5Z"/>
<path fill="#00ff46" stroke="#00ff46" d="M1151.4 1090.3L1169.1 1106.1 1183.1 1095.9 1165.4 1080.2Z"/>
<path fill="#00ff43" stroke="#00ff43" d="M1165.4 1080.2L1183.1 1095.9 1196.9 1085.8 1179.3 1070.3Z"/>
<path fill="#00ff3f" stroke="#00ff3f" d="M1179.3 1070.3L1196.9 1085.8 1210.8 1075.8 1193.2 1060.5Z"/>
<path fill="#00ff3c" stroke="#00ff3c" d="M1193.2 1060.5L1210.8 1075.8 1224.5 1066.1 1207 1050.9ZM1423.2 941.6L1440.5 956.1 1453.2 949.2 1436 934.7Z"/>
<path fill="#00ff39" stroke="#00ff39" d="M1207 1050.9L1224.5 1066.1 1238.2 1056.6 1220.7 1041.5ZM1358.6 978.7L1376 993.3 1389 985.5 1371.6 970.9ZM1371.6 970.9L1389 985.5 1401.9 977.8 1384.6 963.3ZM1384.6 963.3L1401.9 977.8 1414.8 970.4 1397.6 955.9Z"/>
<path fill="#00ff36" stroke="#00ff36" d="M1220.7 1041.5L1238.2 1056.6 1251.8 1047.2 1234.3 1032.2Z"/>
<path fill="#00ff2b" stroke="#00ff2b" d="M1301.6 988.5L1319 1003 1332.3 994.7 1314.9 980.2ZM1418.8 920.3L1436 934.7 1448.6 927.9 1431.5 913.6Z"/>
<path fill="#00ff35" stroke="#00ff35" d="M1481.7 888.2L1498.7 902.7 1511.1 896.8 1494.1 882.2Z"/>
<path fill="#00ff38" stroke="#00ff38" d="M1494.1 882.2L1511.1 896.8 1523.4 891.1 1506.4 876.4Z"/>
<path fill="#00ff3b" stroke="#00ff3b" d="M1506.4 876.4L1523.4 891.1 1535.6 885.5 1518.6 870.8ZM1319 1003L1336.5 1017.7 1349.7 1009.4 1332.3 994.7ZM1410.4 948.6L1427.7 963.2 1440.5 956.1 1423.2 941.6Z"/>
<path fill="#00ff3e" stroke="#00ff3e" d="M1518.6 870.8L1535.6 885.5 1547.7 880.1 1530.8 865.3ZM1292.4 1020.2L1309.8 1035 1323.2 1026.3 1305.7 1011.5ZM1448.6 927.9L1465.8 942.5 1478.4 936 1461.2 921.4Z"/>
<path fill="#00ff42" stroke="#00ff42" d="M1530.8 865.3L1547.7 880.1 1559.9 874.9 1543 860ZM1265.4 1038L1282.9 1053 1296.4 1043.9 1278.9 1029ZM1473.8 915L1490.9 929.7 1503.4 923.5 1486.3 908.8Z"/>
<path fill="#00fe46" stroke="#00fe46" d="M1543 860L1559.9 874.9 1571.9 869.9 1555.1 854.8Z"/>
<path fill="#00fd49" stroke="#00fd49" d="M1555.1 854.8L1571.9 869.9 1583.9 865 1567.1 849.8Z"/>
<path fill="#00fb4d" stroke="#00fb4d" d="M1567.1 849.8L1583.9 865 1595.8 860.2 1579 844.9Z"/>
<path fill="#00fa52" stroke="#00fa52" d="M1579 844.9L1595.8 860.2 1607.6 855.6 1590.9 840.2Z"/>
<path fill="#00f956" stroke="#00f956" d="M1590.9 840.2L1607.6 855.6 1619.4 851.2 1602.7 835.7Z"/>
<path fill="#00f75a" stroke="#00f75a" d="M1602.7 835.7L1619.4 851.2 1631.2 847 1614.5 831.3Z"/>
<path fill="#00f55f" stroke="#00f55f" d="M1614.5 831.3L1631.2 847 1642.8 842.9 1626.2 827Z"/>
<path fill="#00f464" stroke="#00f464" d="M1626.2 827L1642.8 842.9 1654.4 838.9 1637.8 822.9Z"/>
<path fill="#00f269" stroke="#00f269" d="M1637.8 822.9L1654.4 838.9 1666 835.2 1649.4 819Z"/>
<path fill="#00f06e" stroke="#00f06e" d="M1649.4 819L1666 835.2 1677.5 831.5 1660.9 815.2Z"/>
<path fill="#00ee74" stroke="#00ee74" d="M1660.9 815.2L1677.5 831.5 1688.9 828.1 1672.4 811.5Z"/>
<path fill="#00ec78" stroke="#00ec78" d="M1672.4 811.5L1688.9 828.1 1700.2 824.8 1683.8 808Z"/>
<path fill="#00ea7b" stroke="#00ea7b" d="M1683.8 808L1700.2 824.8 1711.5 821.6 1695.1 804.7Z"/>
<path fill="#00e87f" stroke="#00e87f" d="M1695.1 804.7L1711.5 821.6 1722.8 818.6 1706.4 801.5Z"/>
<path fill="#00e683" stroke="#00e683" d="M1706.4 801.5L1722.8 818.6 1733.9 815.8 1717.6 798.4Z"/>
<path fill="#00e487" stroke="#00e487" d="M1717.6 798.4L1733.9 815.8 1745 813.1 1728.8 795.5Z"/>
<path fill="#00e28b" stroke="#00e28b" d="M1728.8 795.5L1745 813.1 1756.1 810.5 1739.9 792.7Z"/>
<path fill="#00df8f" stroke="#00df8f" d="M1739.9 792.7L1756.1 810.5 1767.1 808.1 1750.9 790.1Z"/>
<path fill="#00dd93" stroke="#00dd93" d="M1750.9 790.1L1767.1 808.1 1778 805.9 1761.9 787.6Z"/>
<path fill="#00db97" stroke="#00db97" d="M1761.9 787.6L1778 805.9 1788.9 803.8 1772.8 785.3Z"/>
<path fill="#00d89b" stroke="#00d89b" d="M1772.8 785.3L1788.9 803.8 1799.7 801.8 1783.6 783.1Z"/>
<path fill="#00d69f" stroke="#00d69f" d="M1783.6 783.1L1799.7 801.8 1810.4 800 1794.4 781Z"/>
<path fill="#00d3a3" stroke="#00d3a3" d="M1794.4 781L1810.4 800 1821.1 798.4 1805.1 779.1Z"/>
<path fill="#00d1a7" stroke="#00d1a7" d="M1805.1 779.1L1821.1 798.4 1831.7 796.9 1815.8 777.3Z"/>
<path fill="#00ceab" stroke="#00ceab" d="M1815.8 777.3L1831.7 796.9 1842.3 795.5 1826.4 775.6Z"/>
<path fill="#00ccaf" stroke="#00ccaf" d="M1826.4 775.6L1842.3 795.5 1852.8 794.3 1837 774.1Z"/>
<path fill="#00c9b3" stroke="#00c9b3" d="M1837 774.1L1852.8 794.3 1863.2 793.2 1847.5 772.8Z"/>
<path fill="#00c6b7" stroke="#00c6b7" d="M1847.5 772.8L1863.2 793.2 1873.6 792.3 1857.9 771.5Z"/>
<path fill="#00c4bb" stroke="#00c4bb" d="M1857.9 771.5L1873.6 792.3 1883.9 791.5 1868.3 770.4Z"/>
<path fill="#00c1bf" stroke="#00c1bf" d="M1868.3 770.4L1883.9 791.5 1894.2 790.8 1878.6 769.5Z"/>
<path fill="#00ff59" stroke="#00ff59" d="M1169.1 1106.1L1186.8 1122.1 1200.7 1111.6 1183.1 1095.9ZM1255.8 1071.8L1273.4 1087.1 1287 1077.6 1269.4 1062.3Z"/>
<path fill="#00ff55" stroke="#00ff55" d="M1183.1 1095.9L1200.7 1111.6 1214.6 1101.4 1196.9 1085.8ZM1490.9 929.7L1508.1 944.6 1520.5 938.5 1503.4 923.5Z"/>
<path fill="#00ff51" stroke="#00ff51" d="M1196.9 1085.8L1214.6 1101.4 1228.4 1091.3 1210.8 1075.8ZM1535.6 885.5L1552.6 900.6 1564.7 895.3 1547.7 880.1ZM1296.4 1043.9L1314 1059 1327.4 1050 1309.8 1035Z"/>
<path fill="#00ff4d" stroke="#00ff4d" d="M1210.8 1075.8L1228.4 1091.3 1242.1 1081.5 1224.5 1066.1ZM1336.5 1017.7L1354 1032.6 1367.2 1024.2 1349.7 1009.4ZM1440.5 956.1L1457.7 970.9 1470.4 964 1453.2 949.2Z"/>
<path fill="#00ff4a" stroke="#00ff4a" d="M1224.5 1066.1L1242.1 1081.5 1255.8 1071.8 1238.2 1056.6ZM1389 985.5L1406.4 1000.2 1419.3 992.6 1401.9 977.8Z"/>
<path fill="#00ff47" stroke="#00ff47" d="M1238.2 1056.6L1255.8 1071.8 1269.4 1062.3 1251.8 1047.2Z"/>
<path fill="#00ff45" stroke="#00ff45" d="M1251.8 1047.2L1269.4 1062.3 1282.9 1053 1265.4 1038ZM1486.3 908.8L1503.4 923.5 1515.8 917.5 1498.7 902.7Z"/>
<path fill="#00ff40" stroke="#00ff40" d="M1278.9 1029L1296.4 1043.9 1309.8 1035 1292.4 1020.2ZM1461.2 921.4L1478.4 936 1490.9 929.7 1473.8 915Z"/>
<path fill="#00ff3d" stroke="#00ff3d" d="M1305.7 1011.5L1323.2 1026.3 1336.5 1017.7 1319 1003ZM1436 934.7L1453.2 949.2 1465.8 942.5 1448.6 927.9Z"/>
<path fill="#00ff3a" stroke="#00ff3a" d="M1332.3 994.7L1349.7 1009.4 1362.9 1001.2 1345.5 986.6ZM1345.5 986.6L1362.9 1001.2 1376 993.3 1358.6 978.7ZM1397.6 955.9L1414.8 970.4 1427.7 963.2 1410.4 948.6Z"/>
<path fill="#00ff48" stroke="#00ff48" d="M1498.7 902.7L1515.8 917.5 1528.1 911.7 1511.1 896.8Z"/>
<path fill="#00ff4b" stroke="#00ff4b" d="M1511.1 896.8L1528.1 911.7 1540.4 906 1523.4 891.1ZM1362.9 1001.2L1380.3 1016 1393.4 1008 1376 993.3ZM1376 993.3L1393.4 1008 1406.4 1000.2 1389 985.5ZM1401.9 977.8L1419.3 992.6 1432.2 985.2 1414.8 970.4ZM1414.8 970.4L1432.2 985.2 1445 977.9 1427.7 963.2Z"/>
<path fill="#00ff4e" stroke="#00ff4e" d="M1523.4 891.1L1540.4 906 1552.6 900.6 1535.6 885.5ZM1323.2 1026.3L1340.7 1041.2 1354 1032.6 1336.5 1017.7Z"/>
<path fill="#00fd55" stroke="#00fd55" d="M1547.7 880.1L1564.7 895.3 1576.8 890.1 1559.9 874.9Z"/>
<path fill="#00fc59" stroke="#00fc59" d="M1559.9 874.9L1576.8 890.1 1588.8 885.2 1571.9 869.9Z"/>
<path fill="#00fb5c" stroke="#00fb5c" d="M1571.9 869.9L1588.8 885.2 1600.7 880.4 1583.9 865Z"/>
<path fill="#00f961" stroke="#00f961" d="M1583.9 865L1600.7 880.4 1612.6 875.8 1595.8 860.2Z"/>
<path fill="#00f865" stroke="#00f865" d="M1595.8 860.2L1612.6 875.8 1624.4 871.4 1607.6 855.6Z"/>
<path fill="#00f669" stroke="#00f669" d="M1607.6 855.6L1624.4 871.4 1636.2 867.1 1619.4 851.2Z"/>
<path fill="#00f56e" stroke="#00f56e" d="M1619.4 851.2L1636.2 867.1 1647.9 863 1631.2 847Z"/>
<path fill="#00f373" stroke="#00f373" d="M1631.2 847L1647.9 863 1659.5 859.1 1642.8 842.9Z"/>
<path fill="#00f177" stroke="#00f177" d="M1642.8 842.9L1659.5 859.1 1671.1 855.3 1654.4 838.9Z"/>
<path fill="#00ef7b" stroke="#00ef7b" d="M1654.4 838.9L1671.1 855.3 1682.6 851.7 1666 835.2Z"/>
<path fill="#00ed7f" stroke="#00ed7f" d="M1666 835.2L1682.6 851.7 1694 848.2 1677.5 831.5Z"/>
<path fill="#00eb82" stroke="#00eb82" d="M1677.5 831.5L1694 848.2 1705.4 845 1688.9 828.1Z"/>
<path fill="#00e986" stroke="#00e986" d="M1688.9 828.1L1705.4 845 1716.7 841.9 1700.2 824.8Z"/>
<path fill="#00e78a" stroke="#00e78a" d="M1700.2 824.8L1716.7 841.9 1728 838.9 1711.5 821.6Z"/>
<path fill="#00e58e" stroke="#00e58e" d="M1711.5 821.6L1728 838.9 1739.1 836.1 1722.8 818.6Z"/>
<path fill="#00e392" stroke="#00e392" d="M1722.8 818.6L1739.1 836.1 1750.3 833.5 1733.9 815.8Z"/>
<path fill="#00e196" stroke="#00e196" d="M1733.9 815.8L1750.3 833.5 1761.3 831 1745 813.1Z"/>
<path fill="#00de9a" stroke="#00de9a" d="M1745 813.1L1761.3 831 1772.3 828.7 1756.1 810.5Z"/>
<path fill="#00dc9e" stroke="#00dc9e" d="M1756.1 810.5L1772.3 828.7 1783.3 826.5 1767.1 808.1Z"/>
<path fill="#00daa2" stroke="#00daa2" d="M1767.1 808.1L1783.3 826.5 1794.2 824.5 1778 805.9Z"/>
<path fill="#00d7a6" stroke="#00d7a6" d="M1778 805.9L1794.2 824.5 1805 822.7 1788.9 803.8Z"/>
<path fill="#00d5aa" stroke="#00d5aa" d="M1788.9 803.8L1805 822.7 1815.7 821 1799.7 801.8Z"/>
<path fill="#00d2ae" stroke="#00d2ae" d="M1799.7 801.8L1815.7 821 1826.4 819.5 1810.4 800Z"/>
<path fill="#00d0b2" stroke="#00d0b2" d="M1810.4 800L1826.4 819.5 1837.1 818.1 1821.1 798.4Z"/>
<path fill="#00cdb6" stroke="#00cdb6" d="M1821.1 798.4L1837.1 818.1 1847.6 816.9 1831.7 796.9Z"/>
<path fill="#00caba" stroke="#00caba" d="M1831.7 796.9L1847.6 816.9 1858.2 815.8 1842.3 795.5Z"/>
<path fill="#00c8be" stroke="#00c8be" d="M1842.3 795.5L1858.2 815.8 1868.6 814.9 1852.8 794.3Z"/>
<path fill="#00c5c2" stroke="#00c5c2" d="M1852.8 794.3L1868.6 814.9 1879 814.1 1863.2 793.2Z"/>
<path fill="#00bfc2" stroke="#00bfc2" d="M1863.2 793.2L1879 814.1 1889.3 813.5 1873.6 792.3Z"/>
<path fill="#00b5c0" stroke="#00b5c0" d="M1873.6 792.3L1889.3 813.5 1899.6 813 1883.9 791.5Z"/>
<path fill="#00acbd" stroke="#00acbd" d="M1883.9 791.5L1899.6 813 1909.8 812.7 1894.2 790.8Z"/>
<path fill="#00ff6b" stroke="#00ff6b" d="M1186.8 1122.1L1204.5 1138.1 1218.4 1127.5 1200.7 1111.6Z"/>
<path fill="#00ff67" stroke="#00ff67" d="M1200.7 1111.6L1218.4 1127.5 1232.3 1117.1 1214.6 1101.4ZM1287 1077.6L1304.6 1092.9 1318.1 1083.5 1300.5 1068.2ZM1508.1 944.6L1525.3 959.7 1537.7 953.7 1520.5 938.5Z"/>
<path fill="#00ff63" stroke="#00ff63" d="M1214.6 1101.4L1232.3 1117.1 1246.1 1106.9 1228.4 1091.3ZM1314 1059L1331.6 1074.2 1344.9 1065.2 1327.4 1050ZM1483 957.4L1500.3 972.4 1512.8 966 1495.6 950.9Z"/>
<path fill="#00ff5f" stroke="#00ff5f" d="M1228.4 1091.3L1246.1 1106.9 1259.8 1096.9 1242.1 1081.5ZM1340.7 1041.2L1358.2 1056.3 1371.5 1047.7 1354 1032.6ZM1457.7 970.9L1475 985.9 1487.7 979 1470.4 964Z"/>
<path fill="#00ff5c" stroke="#00ff5c" d="M1242.1 1081.5L1259.8 1096.9 1273.4 1087.1 1255.8 1071.8ZM1380.3 1016L1397.8 1031 1410.8 1023 1393.4 1008ZM1393.4 1008L1410.8 1023 1423.8 1015.2 1406.4 1000.2ZM1406.4 1000.2L1423.8 1015.2 1436.7 1007.5 1419.3 992.6ZM1419.3 992.6L1436.7 1007.5 1449.5 1000.1 1432.2 985.2Z"/>
<path fill="#00ff56" stroke="#00ff56" d="M1269.4 1062.3L1287 1077.6 1300.5 1068.2 1282.9 1053Z"/>
<path fill="#00ff53" stroke="#00ff53" d="M1282.9 1053L1300.5 1068.2 1314 1059 1296.4 1043.9Z"/>
<path fill="#00ff4f" stroke="#00ff4f" d="M1309.8 1035L1327.4 1050 1340.7 1041.2 1323.2 1026.3ZM1453.2 949.2L1470.4 964 1483 957.4 1465.8 942.5Z"/>
<path fill="#00ff4c" stroke="#00ff4c" d="M1349.7 1009.4L1367.2 1024.2 1380.3 1016 1362.9 1001.2ZM1427.7 963.2L1445 977.9 1457.7 970.9 1440.5 956.1Z"/>
<path fill="#00ff50" stroke="#00ff50" d="M1465.8 942.5L1483 957.4 1495.6 950.9 1478.4 936Z"/>
<path fill="#00ff52" stroke="#00ff52" d="M1478.4 936L1495.6 950.9 1508.1 944.6 1490.9 929.7Z"/>
<path fill="#00ff57" stroke="#00ff57" d="M1503.4 923.5L1520.5 938.5 1532.9 932.5 1515.8 917.5Z"/>
<path fill="#00ff5a" stroke="#00ff5a" d="M1515.8 917.5L1532.9 932.5 1545.2 926.8 1528.1 911.7Z"/>
<path fill="#00ff5e" stroke="#00ff5e" d="M1528.1 911.7L1545.2 926.8 1557.4 921.2 1540.4 906ZM1354 1032.6L1371.5 1047.7 1384.6 1039.2 1367.2 1024.2ZM1445 977.9L1462.3 992.9 1475 985.9 1457.7 970.9Z"/>
<path fill="#00fe61" stroke="#00fe61" d="M1540.4 906L1557.4 921.2 1569.6 915.9 1552.6 900.6Z"/>
<path fill="#00fd64" stroke="#00fd64" d="M1552.6 900.6L1569.6 915.9 1581.7 910.7 1564.7 895.3Z"/>
<path fill="#00fb68" stroke="#00fb68" d="M1564.7 895.3L1581.7 910.7 1593.7 905.7 1576.8 890.1Z"/>
<path fill="#00fa6c" stroke="#00fa6c" d="M1576.8 890.1L1593.7 905.7 1605.7 900.8 1588.8 885.2Z"/>
<path fill="#00f970" stroke="#00f970" d="M1588.8 885.2L1605.7 900.8 1617.6 896.2 1600.7 880.4Z"/>
<path fill="#00f774" stroke="#00f774" d="M1600.7 880.4L1617.6 896.2 1629.4 891.7 1612.6 875.8Z"/>
<path fill="#00f578" stroke="#00f578" d="M1612.6 875.8L1629.4 891.7 1641.2 887.4 1624.4 871.4Z"/>
<path fill="#00f47b" stroke="#00f47b" d="M1624.4 871.4L1641.2 887.4 1652.9 883.3 1636.2 867.1Z"/>
<path fill="#00f27f" stroke="#00f27f" d="M1636.2 867.1L1652.9 883.3 1664.6 879.3 1647.9 863Z"/>
<path fill="#00f082" stroke="#00f082" d="M1647.9 863L1664.6 879.3 1676.2 875.6 1659.5 859.1Z"/>
<path fill="#00ee86" stroke="#00ee86" d="M1659.5 859.1L1676.2 875.6 1687.7 872 1671.1 855.3Z"/>
<path fill="#00ec89" stroke="#00ec89" d="M1671.1 855.3L1687.7 872 1699.2 868.6 1682.6 851.7Z"/>
<path fill="#00ea8d" stroke="#00ea8d" d="M1682.6 851.7L1699.2 868.6 1710.6 865.3 1694 848.2Z"/>
<path fill="#00e891" stroke="#00e891" d="M1694 848.2L1710.6 865.3 1721.9 862.2 1705.4 845Z"/>
<path fill="#00e695" stroke="#00e695" d="M1705.4 845L1721.9 862.2 1733.2 859.3 1716.7 841.9Z"/>
<path fill="#00e499" stroke="#00e499" d="M1716.7 841.9L1733.2 859.3 1744.4 856.6 1728 838.9Z"/>
<path fill="#00e29c" stroke="#00e29c" d="M1728 838.9L1744.4 856.6 1755.5 854 1739.1 836.1Z"/>
<path fill="#00e0a0" stroke="#00e0a0" d="M1739.1 836.1L1755.5 854 1766.6 851.6 1750.3 833.5Z"/>
<path fill="#00dda4" stroke="#00dda4" d="M1750.3 833.5L1766.6 851.6 1777.7 849.3 1761.3 831Z"/>
<path fill="#00dba8" stroke="#00dba8" d="M1761.3 831L1777.7 849.3 1788.6 847.3 1772.3 828.7Z"/>
<path fill="#00d9ac" stroke="#00d9ac" d="M1772.3 828.7L1788.6 847.3 1799.5 845.4 1783.3 826.5Z"/>
<path fill="#00d6b0" stroke="#00d6b0" d="M1783.3 826.5L1799.5 845.4 1810.3 843.6 1794.2 824.5Z"/>
<path fill="#00d4b4" stroke="#00d4b4" d="M1794.2 824.5L1810.3 843.6 1821.1 842 1805 822.7Z"/>
<path fill="#00d1b9" stroke="#00d1b9" d="M1805 822.7L1821.1 842 1831.8 840.6 1815.7 821Z"/>
<path fill="#00cfbd" stroke="#00cfbd" d="M1815.7 821L1831.8 840.6 1842.5 839.3 1826.4 819.5Z"/>
<path fill="#00ccc1" stroke="#00ccc1" d="M1826.4 819.5L1842.5 839.3 1853 838.2 1837.1 818.1Z"/>
<path fill="#00c9c5" stroke="#00c9c5" d="M1837.1 818.1L1853 838.2 1863.6 837.3 1847.6 816.9Z"/>
<path fill="#00c5c7" stroke="#00c5c7" d="M1847.6 816.9L1863.6 837.3 1874 836.5 1858.2 815.8Z"/>
<path fill="#00bbc4" stroke="#00bbc4" d="M1858.2 815.8L1874 836.5 1884.4 835.9 1868.6 814.9Z"/>
<path fill="#00b2c1" stroke="#00b2c1" d="M1868.6 814.9L1884.4 835.9 1894.8 835.4 1879 814.1Z"/>
<path fill="#00a8bf" stroke="#00a8bf" d="M1879 814.1L1894.8 835.4 1905 835.1 1889.3 813.5Z"/>
<path fill="#009fbc" stroke="#009fbc" d="M1889.3 813.5L1905 835.1 1915.2 835 1899.6 813Z"/>
<path fill="#0096b9" stroke="#0096b9" d="M1899.6 813L1915.2 835 1925.4 835 1909.8 812.7Z"/>
<path fill="#00ff7d" stroke="#00ff7d" d="M1204.5 1138.1L1222.3 1154.1 1236.2 1143.4 1218.4 1127.5Z"/>
<path fill="#00ff79" stroke="#00ff79" d="M1218.4 1127.5L1236.2 1143.4 1250 1132.9 1232.3 1117.1ZM1304.6 1092.9L1322.3 1108.4 1335.8 1098.9 1318.1 1083.5Z"/>
<path fill="#00ff75" stroke="#00ff75" d="M1232.3 1117.1L1250 1132.9 1263.8 1122.6 1246.1 1106.9ZM1500.3 972.4L1517.6 987.7 1530.1 981.3 1512.8 966Z"/>
<path fill="#00ff71" stroke="#00ff71" d="M1246.1 1106.9L1263.8 1122.6 1277.5 1112.5 1259.8 1096.9ZM1358.2 1056.3L1375.8 1071.6 1389 1062.9 1371.5 1047.7ZM1475 985.9L1492.4 1001.1 1505 994.3 1487.7 979Z"/>
<path fill="#00ff6d" stroke="#00ff6d" d="M1259.8 1096.9L1277.5 1112.5 1291.1 1102.6 1273.4 1087.1ZM1532.9 932.5L1550 947.9 1562.2 942.2 1545.2 926.8Z"/>
<path fill="#00ff6a" stroke="#00ff6a" d="M1273.4 1087.1L1291.1 1102.6 1304.6 1092.9 1287 1077.6ZM1520.5 938.5L1537.7 953.7 1550 947.9 1532.9 932.5Z"/>
<path fill="#00ff65" stroke="#00ff65" d="M1300.5 1068.2L1318.1 1083.5 1331.6 1074.2 1314 1059ZM1495.6 950.9L1512.8 966 1525.3 959.7 1508.1 944.6Z"/>
<path fill="#00ff61" stroke="#00ff61" d="M1327.4 1050L1344.9 1065.2 1358.2 1056.3 1340.7 1041.2ZM1470.4 964L1487.7 979 1500.3 972.4 1483 957.4Z"/>
<path fill="#00ff5d" stroke="#00ff5d" d="M1367.2 1024.2L1384.6 1039.2 1397.8 1031 1380.3 1016ZM1432.2 985.2L1449.5 1000.1 1462.3 992.9 1445 977.9Z"/>
<path fill="#00fe70" stroke="#00fe70" d="M1545.2 926.8L1562.2 942.2 1574.4 936.7 1557.4 921.2Z"/>
<path fill="#00fc74" stroke="#00fc74" d="M1557.4 921.2L1574.4 936.7 1586.6 931.5 1569.6 915.9Z"/>
<path fill="#00fb77" stroke="#00fb77" d="M1569.6 915.9L1586.6 931.5 1598.7 926.4 1581.7 910.7Z"/>
<path fill="#00f97b" stroke="#00f97b" d="M1581.7 910.7L1598.7 926.4 1610.7 921.5 1593.7 905.7Z"/>
<path fill="#00f87d" stroke="#00f87d" d="M1593.7 905.7L1610.7 921.5 1622.6 916.8 1605.7 900.8Z"/>
<path fill="#00f680" stroke="#00f680" d="M1605.7 900.8L1622.6 916.8 1634.5 912.2 1617.6 896.2Z"/>
<path fill="#00f583" stroke="#00f583" d="M1617.6 896.2L1634.5 912.2 1646.3 907.9 1629.4 891.7Z"/>
<path fill="#00f386" stroke="#00f386" d="M1629.4 891.7L1646.3 907.9 1658 903.8 1641.2 887.4Z"/>
<path fill="#00f189" stroke="#00f189" d="M1641.2 887.4L1658 903.8 1669.7 899.8 1652.9 883.3Z"/>
<path fill="#00f08d" stroke="#00f08d" d="M1652.9 883.3L1669.7 899.8 1681.3 896 1664.6 879.3Z"/>
<path fill="#00ee90" stroke="#00ee90" d="M1664.6 879.3L1681.3 896 1692.9 892.4 1676.2 875.6Z"/>
<path fill="#00ec94" stroke="#00ec94" d="M1676.2 875.6L1692.9 892.4 1704.4 889 1687.7 872Z"/>
<path fill="#00ea98" stroke="#00ea98" d="M1687.7 872L1704.4 889 1715.8 885.8 1699.2 868.6Z"/>
<path fill="#00e89b" stroke="#00e89b" d="M1699.2 868.6L1715.8 885.8 1727.2 882.7 1710.6 865.3Z"/>
<path fill="#00e69f" stroke="#00e69f" d="M1710.6 865.3L1727.2 882.7 1738.5 879.8 1721.9 862.2Z"/>
<path fill="#00e3a3" stroke="#00e3a3" d="M1721.9 862.2L1738.5 879.8 1749.7 877.1 1733.2 859.3Z"/>
<path fill="#00e1a7" stroke="#00e1a7" d="M1733.2 859.3L1749.7 877.1 1760.8 874.6 1744.4 856.6Z"/>
<path fill="#00dfab" stroke="#00dfab" d="M1744.4 856.6L1760.8 874.6 1772 872.2 1755.5 854Z"/>
<path fill="#00ddaf" stroke="#00ddaf" d="M1755.5 854L1772 872.2 1783 870.1 1766.6 851.6Z"/>
<path fill="#00dab3" stroke="#00dab3" d="M1766.6 851.6L1783 870.1 1794 868.1 1777.7 849.3Z"/>
<path fill="#00d8b7" stroke="#00d8b7" d="M1777.7 849.3L1794 868.1 1804.9 866.2 1788.6 847.3Z"/>
<path fill="#00d5bb" stroke="#00d5bb" d="M1788.6 847.3L1804.9 866.2 1815.7 864.6 1799.5 845.4Z"/>
<path fill="#00d3bf" stroke="#00d3bf" d="M1799.5 845.4L1815.7 864.6 1826.5 863.1 1810.3 843.6Z"/>
<path fill="#00d0c3" stroke="#00d0c3" d="M1810.3 843.6L1826.5 863.1 1837.2 861.8 1821.1 842Z"/>
<path fill="#00cec7" stroke="#00cec7" d="M1821.1 842L1837.2 861.8 1847.9 860.6 1831.8 840.6Z"/>
<path fill="#00cbcb" stroke="#00cbcb" d="M1831.8 840.6L1847.9 860.6 1858.5 859.6 1842.5 839.3Z"/>
<path fill="#00c2c8" stroke="#00c2c8" d="M1842.5 839.3L1858.5 859.6 1869 858.8 1853 838.2Z"/>
<path fill="#00b8c6" stroke="#00b8c6" d="M1853 838.2L1869 858.8 1879.5 858.2 1863.6 837.3Z"/>
<path fill="#00afc3" stroke="#00afc3" d="M1863.6 837.3L1879.5 858.2 1889.9 857.7 1874 836.5Z"/>
<path fill="#00a5c0" stroke="#00a5c0" d="M1874 836.5L1889.9 857.7 1900.2 857.4 1884.4 835.9Z"/>
<path fill="#009cbe" stroke="#009cbe" d="M1884.4 835.9L1900.2 857.4 1910.5 857.2 1894.8 835.4Z"/>
<path fill="#0092bb" stroke="#0092bb" d="M1894.8 835.4L1910.5 857.2 1920.7 857.2 1905 835.1Z"/>
<path fill="#0089b8" stroke="#0089b8" d="M1905 835.1L1920.7 857.2 1930.9 857.4 1915.2 835Z"/>
<path fill="#007fb5" stroke="#007fb5" d="M1915.2 835L1930.9 857.4 1941 857.7 1925.4 835Z"/>
<path fill="#00ff8b" stroke="#00ff8b" d="M1222.3 1154.1L1240.2 1170.3 1254 1159.4 1236.2 1143.4Z"/>
<path fill="#00ff87" stroke="#00ff87" d="M1236.2 1143.4L1254 1159.4 1267.8 1148.8 1250 1132.9ZM1322.3 1108.4L1340.1 1124.1 1353.5 1114.5 1335.8 1098.9ZM1530.1 981.3L1547.3 996.9 1559.7 990.8 1542.5 975.2Z"/>
<path fill="#00ff84" stroke="#00ff84" d="M1250 1132.9L1267.8 1148.8 1281.5 1138.4 1263.8 1122.6ZM1349.2 1089.6L1366.9 1105.1 1380.2 1095.9 1362.5 1080.5ZM1505 994.3L1522.4 1009.8 1534.9 1003.2 1517.6 987.7Z"/>
<path fill="#00ff81" stroke="#00ff81" d="M1263.8 1122.6L1281.5 1138.4 1295.2 1128.2 1277.5 1112.5ZM1375.8 1071.6L1393.5 1087 1406.6 1078.3 1389 1062.9ZM1479.7 1008.1L1497.1 1023.5 1509.8 1016.5 1492.4 1001.1Z"/>
<path fill="#00ff7f" stroke="#00ff7f" d="M1277.5 1112.5L1295.2 1128.2 1308.8 1118.2 1291.1 1102.6ZM1415.3 1046.2L1432.8 1061.5 1445.8 1053.5 1428.3 1038.1ZM1428.3 1038.1L1445.8 1053.5 1458.7 1045.6 1441.2 1030.3ZM1441.2 1030.3L1458.7 1045.6 1471.6 1038 1454.1 1022.7Z"/>
<path fill="#00ff7c" stroke="#00ff7c" d="M1291.1 1102.6L1308.8 1118.2 1322.3 1108.4 1304.6 1092.9Z"/>
<path fill="#00ff77" stroke="#00ff77" d="M1318.1 1083.5L1335.8 1098.9 1349.2 1089.6 1331.6 1074.2Z"/>
<path fill="#00ff74" stroke="#00ff74" d="M1331.6 1074.2L1349.2 1089.6 1362.5 1080.5 1344.9 1065.2Z"/>
<path fill="#00ff72" stroke="#00ff72" d="M1344.9 1065.2L1362.5 1080.5 1375.8 1071.6 1358.2 1056.3Z"/>
<path fill="#00ff70" stroke="#00ff70" d="M1371.5 1047.7L1389 1062.9 1402.2 1054.4 1384.6 1039.2ZM1462.3 992.9L1479.7 1008.1 1492.4 1001.1 1475 985.9Z"/>
<path fill="#00ff6f" stroke="#00ff6f" d="M1384.6 1039.2L1402.2 1054.4 1415.3 1046.2 1397.8 1031ZM1449.5 1000.1L1466.9 1015.3 1479.7 1008.1 1462.3 992.9Z"/>
<path fill="#00ff6e" stroke="#00ff6e" d="M1397.8 1031L1415.3 1046.2 1428.3 1038.1 1410.8 1023ZM1410.8 1023L1428.3 1038.1 1441.2 1030.3 1423.8 1015.2ZM1423.8 1015.2L1441.2 1030.3 1454.1 1022.7 1436.7 1007.5ZM1436.7 1007.5L1454.1 1022.7 1466.9 1015.3 1449.5 1000.1Z"/>
<path fill="#00ff73" stroke="#00ff73" d="M1487.7 979L1505 994.3 1517.6 987.7 1500.3 972.4Z"/>
<path fill="#00ff78" stroke="#00ff78" d="M1512.8 966L1530.1 981.3 1542.5 975.2 1525.3 959.7Z"/>
<path fill="#00ff7b" stroke="#00ff7b" d="M1525.3 959.7L1542.5 975.2 1554.8 969.2 1537.7 953.7Z"/>
<path fill="#00fe7d" stroke="#00fe7d" d="M1537.7 953.7L1554.8 969.2 1567.1 963.4 1550 947.9Z"/>
<path fill="#00fd7f" stroke="#00fd7f" d="M1550 947.9L1567.1 963.4 1579.4 957.8 1562.2 942.2Z"/>
<path fill="#00fc81" stroke="#00fc81" d="M1562.2 942.2L1579.4 957.8 1591.5 952.5 1574.4 936.7Z"/>
<path fill="#00fa83" stroke="#00fa83" d="M1574.4 936.7L1591.5 952.5 1603.6 947.3 1586.6 931.5Z"/>
<path fill="#00f986" stroke="#00f986" d="M1586.6 931.5L1603.6 947.3 1615.7 942.3 1598.7 926.4Z"/>
<path fill="#00f788" stroke="#00f788" d="M1598.7 926.4L1615.7 942.3 1627.6 937.6 1610.7 921.5Z"/>
<path fill="#00f68b" stroke="#00f68b" d="M1610.7 921.5L1627.6 937.6 1639.6 933 1622.6 916.8Z"/>
<path fill="#00f48e" stroke="#00f48e" d="M1622.6 916.8L1639.6 933 1651.4 928.6 1634.5 912.2Z"/>
<path fill="#00f291" stroke="#00f291" d="M1634.5 912.2L1651.4 928.6 1663.2 924.4 1646.3 907.9Z"/>
<path fill="#00f194" stroke="#00f194" d="M1646.3 907.9L1663.2 924.4 1674.9 920.4 1658 903.8Z"/>
<path fill="#00ef97" stroke="#00ef97" d="M1658 903.8L1674.9 920.4 1686.5 916.6 1669.7 899.8Z"/>
<path fill="#00ed9b" stroke="#00ed9b" d="M1669.7 899.8L1686.5 916.6 1698.1 913 1681.3 896Z"/>
<path fill="#00eb9e" stroke="#00eb9e" d="M1681.3 896L1698.1 913 1709.6 909.6 1692.9 892.4Z"/>
<path fill="#00e9a2" stroke="#00e9a2" d="M1692.9 892.4L1709.6 909.6 1721.1 906.4 1704.4 889Z"/>
<path fill="#00e7a5" stroke="#00e7a5" d="M1704.4 889L1721.1 906.4 1732.4 903.3 1715.8 885.8Z"/>
<path fill="#00e5a9" stroke="#00e5a9" d="M1715.8 885.8L1732.4 903.3 1743.8 900.4 1727.2 882.7Z"/>
<path fill="#00e3ad" stroke="#00e3ad" d="M1727.2 882.7L1743.8 900.4 1755 897.8 1738.5 879.8Z"/>
<path fill="#00e0b1" stroke="#00e0b1" d="M1738.5 879.8L1755 897.8 1766.2 895.3 1749.7 877.1Z"/>
<path fill="#00deb5" stroke="#00deb5" d="M1749.7 877.1L1766.2 895.3 1777.3 893 1760.8 874.6Z"/>
<path fill="#00dcb9" stroke="#00dcb9" d="M1760.8 874.6L1777.3 893 1788.4 890.9 1772 872.2Z"/>
<path fill="#00d9bd" stroke="#00d9bd" d="M1772 872.2L1788.4 890.9 1799.4 888.9 1783 870.1Z"/>
<path fill="#00d7c1" stroke="#00d7c1" d="M1783 870.1L1799.4 888.9 1810.3 887.2 1794 868.1Z"/>
<path fill="#00d4c5" stroke="#00d4c5" d="M1794 868.1L1810.3 887.2 1821.2 885.6 1804.9 866.2Z"/>
<path fill="#00d2c9" stroke="#00d2c9" d="M1804.9 866.2L1821.2 885.6 1832 884.2 1815.7 864.6Z"/>
<path fill="#00cfcd" stroke="#00cfcd" d="M1815.7 864.6L1832 884.2 1842.7 882.9 1826.5 863.1Z"/>
<path fill="#00c8cd" stroke="#00c8cd" d="M1826.5 863.1L1842.7 882.9 1853.4 881.9 1837.2 861.8Z"/>
<path fill="#00bfca" stroke="#00bfca" d="M1837.2 861.8L1853.4 881.9 1864 881 1847.9 860.6Z"/>
<path fill="#00b5c7" stroke="#00b5c7" d="M1847.9 860.6L1864 881 1874.5 880.3 1858.5 859.6Z"/>
<path fill="#00acc5" stroke="#00acc5" d="M1858.5 859.6L1874.5 880.3 1885 879.8 1869 858.8Z"/>
<path fill="#00a2c2" stroke="#00a2c2" d="M1869 858.8L1885 879.8 1895.4 879.4 1879.5 858.2Z"/>
<path fill="#0099bf" stroke="#0099bf" d="M1879.5 858.2L1895.4 879.4 1905.7 879.3 1889.9 857.7Z"/>
<path fill="#008fbd" stroke="#008fbd" d="M1889.9 857.7L1905.7 879.3 1916 879.2 1900.2 857.4Z"/>
<path fill="#0086ba" stroke="#0086ba" d="M1900.2 857.4L1916 879.2 1926.2 879.4 1910.5 857.2Z"/>
<path fill="#007cb7" stroke="#007cb7" d="M1910.5 857.2L1926.2 879.4 1936.4 879.7 1920.7 857.2Z"/>
<path fill="#0073b4" stroke="#0073b4" d="M1920.7 857.2L1936.4 879.7 1946.5 880.2 1930.9 857.4Z"/>
<path fill="#006ab1" stroke="#006ab1" d="M1930.9 857.4L1946.5 880.2 1956.5 880.9 1941 857.7Z"/>
<path fill="#00ff98" stroke="#00ff98" d="M1240.2 1170.3L1258 1186.6 1271.9 1175.6 1254 1159.4Z"/>
<path fill="#00ff95" stroke="#00ff95" d="M1254 1159.4L1271.9 1175.6 1285.6 1164.8 1267.8 1148.8Z"/>
<path fill="#00ff91" stroke="#00ff91" d="M1267.8 1148.8L1285.6 1164.8 1299.3 1154.3 1281.5 1138.4ZM1366.9 1105.1L1384.6 1120.7 1397.9 1111.5 1380.2 1095.9Z"/>
<path fill="#00ff8e" stroke="#00ff8e" d="M1281.5 1138.4L1299.3 1154.3 1313 1144 1295.2 1128.2ZM1393.5 1087L1411.1 1102.5 1424.3 1093.8 1406.6 1078.3ZM1484.4 1030.6L1501.8 1046.2 1514.5 1039.1 1497.1 1023.5Z"/>
<path fill="#00ff8c" stroke="#00ff8c" d="M1295.2 1128.2L1313 1144 1326.5 1133.9 1308.8 1118.2ZM1432.8 1061.5L1450.4 1077 1463.4 1069 1445.8 1053.5ZM1445.8 1053.5L1463.4 1069 1476.3 1061.1 1458.7 1045.6Z"/>
<path fill="#00ff89" stroke="#00ff89" d="M1308.8 1118.2L1326.5 1133.9 1340.1 1124.1 1322.3 1108.4Z"/>
<path fill="#00ff85" stroke="#00ff85" d="M1335.8 1098.9L1353.5 1114.5 1366.9 1105.1 1349.2 1089.6ZM1517.6 987.7L1534.9 1003.2 1547.3 996.9 1530.1 981.3Z"/>
<path fill="#00ff82" stroke="#00ff82" d="M1362.5 1080.5L1380.2 1095.9 1393.5 1087 1375.8 1071.6ZM1492.4 1001.1L1509.8 1016.5 1522.4 1009.8 1505 994.3Z"/>
<path fill="#00ff80" stroke="#00ff80" d="M1389 1062.9L1406.6 1078.3 1419.8 1069.8 1402.2 1054.4ZM1402.2 1054.4L1419.8 1069.8 1432.8 1061.5 1415.3 1046.2ZM1454.1 1022.7L1471.6 1038 1484.4 1030.6 1466.9 1015.3ZM1466.9 1015.3L1484.4 1030.6 1497.1 1023.5 1479.7 1008.1Z"/>
<path fill="#00fe89" stroke="#00fe89" d="M1542.5 975.2L1559.7 990.8 1572.1 984.9 1554.8 969.2Z"/>
<path fill="#00fd8a" stroke="#00fd8a" d="M1554.8 969.2L1572.1 984.9 1584.3 979.2 1567.1 963.4Z"/>
<path fill="#00fb8c" stroke="#00fb8c" d="M1567.1 963.4L1584.3 979.2 1596.5 973.8 1579.4 957.8Z"/>
<path fill="#00fa8f" stroke="#00fa8f" d="M1579.4 957.8L1596.5 973.8 1608.7 968.5 1591.5 952.5Z"/>
<path fill="#00f891" stroke="#00f891" d="M1591.5 952.5L1608.7 968.5 1620.7 963.4 1603.6 947.3Z"/>
<path fill="#00f793" stroke="#00f793" d="M1603.6 947.3L1620.7 963.4 1632.7 958.6 1615.7 942.3Z"/>
<path fill="#00f596" stroke="#00f596" d="M1615.7 942.3L1632.7 958.6 1644.7 954 1627.6 937.6Z"/>
<path fill="#00f499" stroke="#00f499" d="M1627.6 937.6L1644.7 954 1656.5 949.5 1639.6 933Z"/>
<path fill="#00f29c" stroke="#00f29c" d="M1639.6 933L1656.5 949.5 1668.3 945.3 1651.4 928.6Z"/>
<path fill="#00f09f" stroke="#00f09f" d="M1651.4 928.6L1668.3 945.3 1680.1 941.2 1663.2 924.4Z"/>
<path fill="#00eea2" stroke="#00eea2" d="M1663.2 924.4L1680.1 941.2 1691.7 937.4 1674.9 920.4Z"/>
<path fill="#00eca5" stroke="#00eca5" d="M1674.9 920.4L1691.7 937.4 1703.3 933.8 1686.5 916.6Z"/>
<path fill="#00eaa9" stroke="#00eaa9" d="M1686.5 916.6L1703.3 933.8 1714.9 930.3 1698.1 913Z"/>
<path fill="#00e8ac" stroke="#00e8ac" d="M1698.1 913L1714.9 930.3 1726.3 927.1 1709.6 909.6Z"/>
<path fill="#00e6b0" stroke="#00e6b0" d="M1709.6 909.6L1726.3 927.1 1737.8 924 1721.1 906.4Z"/>
<path fill="#00e4b3" stroke="#00e4b3" d="M1721.1 906.4L1737.8 924 1749.1 921.2 1732.4 903.3Z"/>
<path fill="#00e2b7" stroke="#00e2b7" d="M1732.4 903.3L1749.1 921.2 1760.4 918.5 1743.8 900.4Z"/>
<path fill="#00e0bb" stroke="#00e0bb" d="M1743.8 900.4L1760.4 918.5 1771.6 916.1 1755 897.8Z"/>
<path fill="#00ddbf" stroke="#00ddbf" d="M1755 897.8L1771.6 916.1 1782.7 913.8 1766.2 895.3Z"/>
<path fill="#00dbc3" stroke="#00dbc3" d="M1766.2 895.3L1782.7 913.8 1793.8 911.7 1777.3 893Z"/>
<path fill="#00d9c7" stroke="#00d9c7" d="M1777.3 893L1793.8 911.7 1804.8 909.8 1788.4 890.9Z"/>
<path fill="#00d6cb" stroke="#00d6cb" d="M1788.4 890.9L1804.8 909.8 1815.7 908.1 1799.4 888.9Z"/>
<path fill="#00d4cf" stroke="#00d4cf" d="M1799.4 888.9L1815.7 908.1 1826.6 906.6 1810.3 887.2Z"/>
<path fill="#00cfd1" stroke="#00cfd1" d="M1810.3 887.2L1826.6 906.6 1837.4 905.3 1821.2 885.6Z"/>
<path fill="#00c6ce" stroke="#00c6ce" d="M1821.2 885.6L1837.4 905.3 1848.2 904.2 1832 884.2Z"/>
<path fill="#00bccc" stroke="#00bccc" d="M1832 884.2L1848.2 904.2 1858.9 903.2 1842.7 882.9Z"/>
<path fill="#00b3c9" stroke="#00b3c9" d="M1842.7 882.9L1858.9 903.2 1869.5 902.4 1853.4 881.9Z"/>
<path fill="#00aac7" stroke="#00aac7" d="M1853.4 881.9L1869.5 902.4 1880 901.8 1864 881Z"/>
<path fill="#00a0c4" stroke="#00a0c4" d="M1864 881L1880 901.8 1890.5 901.4 1874.5 880.3Z"/>
<path fill="#0096c1" stroke="#0096c1" d="M1874.5 880.3L1890.5 901.4 1900.9 901.2 1885 879.8Z"/>
<path fill="#008dbe" stroke="#008dbe" d="M1885 879.8L1900.9 901.2 1911.3 901.1 1895.4 879.4Z"/>
<path fill="#0083bc" stroke="#0083bc" d="M1895.4 879.4L1911.3 901.1 1921.6 901.3 1905.7 879.3Z"/>
<path fill="#007ab9" stroke="#007ab9" d="M1905.7 879.3L1921.6 901.3 1931.8 901.6 1916 879.2Z"/>
<path fill="#0070b6" stroke="#0070b6" d="M1916 879.2L1931.8 901.6 1942 902 1926.2 879.4Z"/>
<path fill="#0067b3" stroke="#0067b3" d="M1926.2 879.4L1942 902 1952.1 902.7 1936.4 879.7Z"/>
<path fill="#005db0" stroke="#005db0" d="M1936.4 879.7L1952.1 902.7 1962.1 903.5 1946.5 880.2Z"/>
<path fill="#0053ae" stroke="#0053ae" d="M1946.5 880.2L1962.1 903.5 1972.1 904.5 1956.5 880.9Z"/>
<path fill="#00ffa6" stroke="#00ffa6" d="M1258 1186.6L1275.9 1202.9 1289.8 1191.8 1271.9 1175.6ZM1330.8 1159.9L1348.7 1176 1362.2 1165.7 1344.3 1149.8Z"/>
<path fill="#00ffa2" stroke="#00ffa2" d="M1271.9 1175.6L1289.8 1191.8 1303.5 1180.9 1285.6 1164.8ZM1357.8 1139.8L1375.6 1155.7 1389 1146 1371.3 1130.2Z"/>
<path fill="#00ff9f" stroke="#00ff9f" d="M1285.6 1164.8L1303.5 1180.9 1317.2 1170.3 1299.3 1154.3Z"/>
<path fill="#00ff9c" stroke="#00ff9c" d="M1299.3 1154.3L1317.2 1170.3 1330.8 1159.9 1313 1144ZM1411.1 1102.5L1428.8 1118.3 1442 1109.5 1424.3 1093.8ZM1501.8 1046.2L1519.4 1062 1532 1054.9 1514.5 1039.1Z"/>
<path fill="#00ff99" stroke="#00ff99" d="M1313 1144L1330.8 1159.9 1344.3 1149.8 1326.5 1133.9Z"/>
<path fill="#00ff97" stroke="#00ff97" d="M1326.5 1133.9L1344.3 1149.8 1357.8 1139.8 1340.1 1124.1Z"/>
<path fill="#00ff94" stroke="#00ff94" d="M1340.1 1124.1L1357.8 1139.8 1371.3 1130.2 1353.5 1114.5Z"/>
<path fill="#00ff92" stroke="#00ff92" d="M1353.5 1114.5L1371.3 1130.2 1384.6 1120.7 1366.9 1105.1ZM1522.4 1009.8L1539.7 1025.4 1552.2 1019 1534.9 1003.2Z"/>
<path fill="#00ff8f" stroke="#00ff8f" d="M1380.2 1095.9L1397.9 1111.5 1411.1 1102.5 1393.5 1087ZM1497.1 1023.5L1514.5 1039.1 1527.2 1032.1 1509.8 1016.5Z"/>
<path fill="#00ff8d" stroke="#00ff8d" d="M1406.6 1078.3L1424.3 1093.8 1437.4 1085.3 1419.8 1069.8ZM1419.8 1069.8L1437.4 1085.3 1450.4 1077 1432.8 1061.5ZM1458.7 1045.6L1476.3 1061.1 1489.1 1053.6 1471.6 1038ZM1471.6 1038L1489.1 1053.6 1501.8 1046.2 1484.4 1030.6Z"/>
<path fill="#00ff90" stroke="#00ff90" d="M1509.8 1016.5L1527.2 1032.1 1539.7 1025.4 1522.4 1009.8Z"/>
<path fill="#00ff93" stroke="#00ff93" d="M1534.9 1003.2L1552.2 1019 1564.7 1012.7 1547.3 996.9Z"/>
<path fill="#00fd95" stroke="#00fd95" d="M1547.3 996.9L1564.7 1012.7 1577 1006.7 1559.7 990.8Z"/>
<path fill="#00fc96" stroke="#00fc96" d="M1559.7 990.8L1577 1006.7 1589.3 1000.9 1572.1 984.9Z"/>
<path fill="#00fb98" stroke="#00fb98" d="M1572.1 984.9L1589.3 1000.9 1601.6 995.3 1584.3 979.2Z"/>
<path fill="#00f99a" stroke="#00f99a" d="M1584.3 979.2L1601.6 995.3 1613.7 990 1596.5 973.8Z"/>
<path fill="#00f89c" stroke="#00f89c" d="M1596.5 973.8L1613.7 990 1625.8 984.8 1608.7 968.5Z"/>
<path fill="#00f69f" stroke="#00f69f" d="M1608.7 968.5L1625.8 984.8 1637.8 979.9 1620.7 963.4Z"/>
<path fill="#00f5a1" stroke="#00f5a1" d="M1620.7 963.4L1637.8 979.9 1649.8 975.1 1632.7 958.6Z"/>
<path fill="#00f3a4" stroke="#00f3a4" d="M1632.7 958.6L1649.8 975.1 1661.7 970.6 1644.7 954Z"/>
<path fill="#00f1a6" stroke="#00f1a6" d="M1644.7 954L1661.7 970.6 1673.5 966.3 1656.5 949.5Z"/>
<path fill="#00f0a9" stroke="#00f0a9" d="M1656.5 949.5L1673.5 966.3 1685.3 962.2 1668.3 945.3Z"/>
<path fill="#00eeac" stroke="#00eeac" d="M1668.3 945.3L1685.3 962.2 1697 958.4 1680.1 941.2Z"/>
<path fill="#00ecb0" stroke="#00ecb0" d="M1680.1 941.2L1697 958.4 1708.6 954.7 1691.7 937.4Z"/>
<path fill="#00eab3" stroke="#00eab3" d="M1691.7 937.4L1708.6 954.7 1720.2 951.2 1703.3 933.8Z"/>
<path fill="#00e8b6" stroke="#00e8b6" d="M1703.3 933.8L1720.2 951.2 1731.7 948 1714.9 930.3Z"/>
<path fill="#00e6ba" stroke="#00e6ba" d="M1714.9 930.3L1731.7 948 1743.1 944.9 1726.3 927.1Z"/>
<path fill="#00e3bd" stroke="#00e3bd" d="M1726.3 927.1L1743.1 944.9 1754.5 942.1 1737.8 924Z"/>
<path fill="#00e1c1" stroke="#00e1c1" d="M1737.8 924L1754.5 942.1 1765.8 939.4 1749.1 921.2Z"/>
<path fill="#00dfc5" stroke="#00dfc5" d="M1749.1 921.2L1765.8 939.4 1777 937 1760.4 918.5Z"/>
<path fill="#00ddc9" stroke="#00ddc9" d="M1760.4 918.5L1777 937 1788.2 934.7 1771.6 916.1Z"/>
<path fill="#00dacd" stroke="#00dacd" d="M1771.6 916.1L1788.2 934.7 1799.2 932.7 1782.7 913.8Z"/>
<path fill="#00d8d1" stroke="#00d8d1" d="M1782.7 913.8L1799.2 932.7 1810.3 930.9 1793.8 911.7Z"/>
<path fill="#00d5d5" stroke="#00d5d5" d="M1793.8 911.7L1810.3 930.9 1821.2 929.2 1804.8 909.8Z"/>
<path fill="#00cdd3" stroke="#00cdd3" d="M1804.8 909.8L1821.2 929.2 1832.1 927.8 1815.7 908.1Z"/>
<path fill="#00c4d0" stroke="#00c4d0" d="M1815.7 908.1L1832.1 927.8 1843 926.5 1826.6 906.6Z"/>
<path fill="#00bace" stroke="#00bace" d="M1826.6 906.6L1843 926.5 1853.7 925.4 1837.4 905.3Z"/>
<path fill="#00b1cb" stroke="#00b1cb" d="M1837.4 905.3L1853.7 925.4 1864.4 924.6 1848.2 904.2Z"/>
<path fill="#00a7c8" stroke="#00a7c8" d="M1848.2 904.2L1864.4 924.6 1875 923.9 1858.9 903.2Z"/>
<path fill="#009ec6" stroke="#009ec6" d="M1858.9 903.2L1875 923.9 1885.6 923.4 1869.5 902.4Z"/>
<path fill="#0094c3" stroke="#0094c3" d="M1869.5 902.4L1885.6 923.4 1896.1 923.1 1880 901.8Z"/>
<path fill="#008bc0" stroke="#008bc0" d="M1880 901.8L1896.1 923.1 1906.5 922.9 1890.5 901.4Z"/>
<path fill="#0081bd" stroke="#0081bd" d="M1890.5 901.4L1906.5 922.9 1916.9 923 1900.9 901.2Z"/>
<path fill="#0078bb" stroke="#0078bb" d="M1900.9 901.2L1916.9 923 1927.2 923.3 1911.3 901.1Z"/>
<path fill="#006eb8" stroke="#006eb8" d="M1911.3 901.1L1927.2 923.3 1937.4 923.7 1921.6 901.3Z"/>
<path fill="#0064b5" stroke="#0064b5" d="M1921.6 901.3L1937.4 923.7 1947.6 924.3 1931.8 901.6Z"/>
<path fill="#005bb2" stroke="#005bb2" d="M1931.8 901.6L1947.6 924.3 1957.7 925.1 1942 902Z"/>
<path fill="#0051b0" stroke="#0051b0" d="M1942 902L1957.7 925.1 1967.7 926.1 1952.1 902.7Z"/>
<path fill="#0047ad" stroke="#0047ad" d="M1952.1 902.7L1967.7 926.1 1977.7 927.2 1962.1 903.5Z"/>
<path fill="#003daa" stroke="#003daa" d="M1962.1 903.5L1977.7 927.2 1987.6 928.6 1972.1 904.5Z"/>
<path fill="#00ffb3" stroke="#00ffb3" d="M1275.9 1202.9L1293.9 1219.4 1307.7 1208.1 1289.8 1191.8ZM1348.7 1176L1366.6 1192.1 1380.1 1181.8 1362.2 1165.7Z"/>
<path fill="#00ffaf" stroke="#00ffaf" d="M1289.8 1191.8L1307.7 1208.1 1321.4 1197.2 1303.5 1180.9ZM1375.6 1155.7L1393.5 1171.8 1406.9 1162 1389 1146Z"/>
<path fill="#00ffac" stroke="#00ffac" d="M1303.5 1180.9L1321.4 1197.2 1335.1 1186.4 1317.2 1170.3Z"/>
<path fill="#00ffa9" stroke="#00ffa9" d="M1317.2 1170.3L1335.1 1186.4 1348.7 1176 1330.8 1159.9ZM1428.8 1118.3L1446.6 1134.2 1459.7 1125.4 1442 1109.5ZM1506.6 1069.3L1524.2 1085.2 1536.9 1077.9 1519.4 1062Z"/>
<path fill="#00ffa4" stroke="#00ffa4" d="M1344.3 1149.8L1362.2 1165.7 1375.6 1155.7 1357.8 1139.8Z"/>
<path fill="#00ffa0" stroke="#00ffa0" d="M1371.3 1130.2L1389 1146 1402.4 1136.5 1384.6 1120.7Z"/>
<path fill="#00ff9e" stroke="#00ff9e" d="M1384.6 1120.7L1402.4 1136.5 1415.6 1127.3 1397.9 1111.5ZM1527.2 1032.1L1544.6 1048 1557.2 1041.4 1539.7 1025.4Z"/>
<path fill="#00ff9d" stroke="#00ff9d" d="M1397.9 1111.5L1415.6 1127.3 1428.8 1118.3 1411.1 1102.5ZM1514.5 1039.1L1532 1054.9 1544.6 1048 1527.2 1032.1Z"/>
<path fill="#00ff9b" stroke="#00ff9b" d="M1424.3 1093.8L1442 1109.5 1455 1101 1437.4 1085.3ZM1489.1 1053.6L1506.6 1069.3 1519.4 1062 1501.8 1046.2Z"/>
<path fill="#00ff9a" stroke="#00ff9a" d="M1437.4 1085.3L1455 1101 1468 1092.7 1450.4 1077ZM1450.4 1077L1468 1092.7 1481 1084.7 1463.4 1069ZM1463.4 1069L1481 1084.7 1493.8 1076.9 1476.3 1061.1ZM1476.3 1061.1L1493.8 1076.9 1506.6 1069.3 1489.1 1053.6Z"/>
<path fill="#00fe9f" stroke="#00fe9f" d="M1539.7 1025.4L1557.2 1041.4 1569.6 1035 1552.2 1019Z"/>
<path fill="#00fda1" stroke="#00fda1" d="M1552.2 1019L1569.6 1035 1582 1028.8 1564.7 1012.7Z"/>
<path fill="#00fca2" stroke="#00fca2" d="M1564.7 1012.7L1582 1028.8 1594.3 1022.9 1577 1006.7Z"/>
<path fill="#00faa4" stroke="#00faa4" d="M1577 1006.7L1594.3 1022.9 1606.6 1017.1 1589.3 1000.9Z"/>
<path fill="#00f9a6" stroke="#00f9a6" d="M1589.3 1000.9L1606.6 1017.1 1618.8 1011.7 1601.6 995.3Z"/>
<path fill="#00f8a7" stroke="#00f8a7" d="M1601.6 995.3L1618.8 1011.7 1630.9 1006.4 1613.7 990Z"/>
<path fill="#00f6aa" stroke="#00f6aa" d="M1613.7 990L1630.9 1006.4 1643 1001.4 1625.8 984.8Z"/>
<path fill="#00f4ac" stroke="#00f4ac" d="M1625.8 984.8L1643 1001.4 1655 996.6 1637.8 979.9Z"/>
<path fill="#00f3ae" stroke="#00f3ae" d="M1637.8 979.9L1655 996.6 1666.9 992 1649.8 975.1Z"/>
<path fill="#00f1b1" stroke="#00f1b1" d="M1649.8 975.1L1666.9 992 1678.8 987.6 1661.7 970.6Z"/>
<path fill="#00efb4" stroke="#00efb4" d="M1661.7 970.6L1678.8 987.6 1690.6 983.4 1673.5 966.3Z"/>
<path fill="#00edb7" stroke="#00edb7" d="M1673.5 966.3L1690.6 983.4 1702.3 979.5 1685.3 962.2Z"/>
<path fill="#00ebba" stroke="#00ebba" d="M1685.3 962.2L1702.3 979.5 1713.9 975.8 1697 958.4Z"/>
<path fill="#00e9bd" stroke="#00e9bd" d="M1697 958.4L1713.9 975.8 1725.5 972.3 1708.6 954.7Z"/>
<path fill="#00e7c1" stroke="#00e7c1" d="M1708.6 954.7L1725.5 972.3 1737 969 1720.2 951.2Z"/>
<path fill="#00e5c4" stroke="#00e5c4" d="M1720.2 951.2L1737 969 1748.5 966 1731.7 948Z"/>
<path fill="#00e3c8" stroke="#00e3c8" d="M1731.7 948L1748.5 966 1759.9 963.1 1743.1 944.9Z"/>
<path fill="#00e1cb" stroke="#00e1cb" d="M1743.1 944.9L1759.9 963.1 1771.2 960.4 1754.5 942.1Z"/>
<path fill="#00decf" stroke="#00decf" d="M1754.5 942.1L1771.2 960.4 1782.4 958 1765.8 939.4Z"/>
<path fill="#00dcd3" stroke="#00dcd3" d="M1765.8 939.4L1782.4 958 1793.6 955.8 1777 937Z"/>
<path fill="#00dad7" stroke="#00dad7" d="M1777 937L1793.6 955.8 1804.7 953.8 1788.2 934.7Z"/>
<path fill="#00d4d7" stroke="#00d4d7" d="M1788.2 934.7L1804.7 953.8 1815.8 952 1799.2 932.7Z"/>
<path fill="#00cbd5" stroke="#00cbd5" d="M1799.2 932.7L1815.8 952 1826.8 950.3 1810.3 930.9Z"/>
<path fill="#00c2d2" stroke="#00c2d2" d="M1810.3 930.9L1826.8 950.3 1837.7 948.9 1821.2 929.2Z"/>
<path fill="#00b8d0" stroke="#00b8d0" d="M1821.2 929.2L1837.7 948.9 1848.5 947.7 1832.1 927.8Z"/>
<path fill="#00afcd" stroke="#00afcd" d="M1832.1 927.8L1848.5 947.7 1859.3 946.7 1843 926.5Z"/>
<path fill="#00a6ca" stroke="#00a6ca" d="M1843 926.5L1859.3 946.7 1870 945.9 1853.7 925.4Z"/>
<path fill="#009cc8" stroke="#009cc8" d="M1853.7 925.4L1870 945.9 1880.7 945.3 1864.4 924.6Z"/>
<path fill="#0093c5" stroke="#0093c5" d="M1864.4 924.6L1880.7 945.3 1891.2 944.9 1875 923.9Z"/>
<path fill="#0089c2" stroke="#0089c2" d="M1875 923.9L1891.2 944.9 1901.7 944.7 1885.6 923.4Z"/>
<path fill="#0080bf" stroke="#0080bf" d="M1885.6 923.4L1901.7 944.7 1912.2 944.7 1896.1 923.1Z"/>
<path fill="#0076bd" stroke="#0076bd" d="M1896.1 923.1L1912.2 944.7 1922.5 944.9 1906.5 922.9Z"/>
<path fill="#006cba" stroke="#006cba" d="M1906.5 922.9L1922.5 944.9 1932.9 945.2 1916.9 923Z"/>
<path fill="#0062b7" stroke="#0062b7" d="M1916.9 923L1932.9 945.2 1943.1 945.8 1927.2 923.3Z"/>
<path fill="#0058b4" stroke="#0058b4" d="M1927.2 923.3L1943.1 945.8 1953.3 946.6 1937.4 923.7Z"/>
<path fill="#004fb1" stroke="#004fb1" d="M1937.4 923.7L1953.3 946.6 1963.4 947.5 1947.6 924.3Z"/>
<path fill="#0045af" stroke="#0045af" d="M1947.6 924.3L1963.4 947.5 1973.4 948.6 1957.7 925.1Z"/>
<path fill="#003bac" stroke="#003bac" d="M1957.7 925.1L1973.4 948.6 1983.4 949.9 1967.7 926.1Z"/>
<path fill="#0031a9" stroke="#0031a9" d="M1967.7 926.1L1983.4 949.9 1993.3 951.4 1977.7 927.2Z"/>
<path fill="#0027a6" stroke="#0027a6" d="M1977.7 927.2L1993.3 951.4 2003.1 953.1 1987.6 928.6Z"/>
<path fill="#00ffc0" stroke="#00ffc0" d="M1293.9 1219.4L1311.9 1235.9 1325.7 1224.6 1307.7 1208.1Z"/>
<path fill="#00ffbd" stroke="#00ffbd" d="M1307.7 1208.1L1325.7 1224.6 1339.4 1213.5 1321.4 1197.2Z"/>
<path fill="#00ffb9" stroke="#00ffb9" d="M1321.4 1197.2L1339.4 1213.5 1353 1202.7 1335.1 1186.4ZM1420.2 1152.5L1438 1168.5 1451.2 1159.2 1433.4 1143.2Z"/>
<path fill="#00ffb6" stroke="#00ffb6" d="M1335.1 1186.4L1353 1202.7 1366.6 1192.1 1348.7 1176ZM1446.6 1134.2L1464.4 1150.2 1477.4 1141.4 1459.7 1125.4ZM1459.7 1125.4L1477.4 1141.4 1490.5 1132.9 1472.7 1116.9ZM1511.4 1092.8L1529.1 1108.9 1541.8 1101.4 1524.2 1085.2Z"/>
<path fill="#00ffb1" stroke="#00ffb1" d="M1362.2 1165.7L1380.1 1181.8 1393.5 1171.8 1375.6 1155.7Z"/>
<path fill="#00ffad" stroke="#00ffad" d="M1389 1146L1406.9 1162 1420.2 1152.5 1402.4 1136.5Z"/>
<path fill="#00ffab" stroke="#00ffab" d="M1402.4 1136.5L1420.2 1152.5 1433.4 1143.2 1415.6 1127.3ZM1532 1054.9L1549.5 1070.9 1562.1 1064.1 1544.6 1048Z"/>
<path fill="#00ffaa" stroke="#00ffaa" d="M1415.6 1127.3L1433.4 1143.2 1446.6 1134.2 1428.8 1118.3ZM1519.4 1062L1536.9 1077.9 1549.5 1070.9 1532 1054.9Z"/>
<path fill="#00ffa8" stroke="#00ffa8" d="M1442 1109.5L1459.7 1125.4 1472.7 1116.9 1455 1101ZM1455 1101L1472.7 1116.9 1485.7 1108.6 1468 1092.7ZM1468 1092.7L1485.7 1108.6 1498.6 1100.5 1481 1084.7ZM1481 1084.7L1498.6 1100.5 1511.4 1092.8 1493.8 1076.9ZM1493.8 1076.9L1511.4 1092.8 1524.2 1085.2 1506.6 1069.3Z"/>
<path fill="#00feac" stroke="#00feac" d="M1544.6 1048L1562.1 1064.1 1574.6 1057.5 1557.2 1041.4Z"/>
<path fill="#00fdad" stroke="#00fdad" d="M1557.2 1041.4L1574.6 1057.5 1587 1051.2 1569.6 1035Z"/>
<path fill="#00fbae" stroke="#00fbae" d="M1569.6 1035L1587 1051.2 1599.4 1045.1 1582 1028.8Z"/>
<path fill="#00faaf" stroke="#00faaf" d="M1582 1028.8L1599.4 1045.1 1611.7 1039.3 1594.3 1022.9Z"/>
<path fill="#00f9b1" stroke="#00f9b1" d="M1594.3 1022.9L1611.7 1039.3 1623.9 1033.6 1606.6 1017.1Z"/>
<path fill="#00f7b3" stroke="#00f7b3" d="M1606.6 1017.1L1623.9 1033.6 1636.1 1028.3 1618.8 1011.7Z"/>
<path fill="#00f6b5" stroke="#00f6b5" d="M1618.8 1011.7L1636.1 1028.3 1648.2 1023.1 1630.9 1006.4Z"/>
<path fill="#00f4b7" stroke="#00f4b7" d="M1630.9 1006.4L1648.2 1023.1 1660.2 1018.2 1643 1001.4Z"/>
<path fill="#00f2b9" stroke="#00f2b9" d="M1643 1001.4L1660.2 1018.2 1672.2 1013.5 1655 996.6Z"/>
<path fill="#00f1bc" stroke="#00f1bc" d="M1655 996.6L1672.2 1013.5 1684 1009.1 1666.9 992Z"/>
<path fill="#00efbf" stroke="#00efbf" d="M1666.9 992L1684 1009.1 1695.9 1004.8 1678.8 987.6Z"/>
<path fill="#00edc2" stroke="#00edc2" d="M1678.8 987.6L1695.9 1004.8 1707.6 1000.9 1690.6 983.4Z"/>
<path fill="#00ebc4" stroke="#00ebc4" d="M1690.6 983.4L1707.6 1000.9 1719.3 997.1 1702.3 979.5Z"/>
<path fill="#00e9c8" stroke="#00e9c8" d="M1702.3 979.5L1719.3 997.1 1730.9 993.5 1713.9 975.8Z"/>
<path fill="#00e7cb" stroke="#00e7cb" d="M1713.9 975.8L1730.9 993.5 1742.5 990.2 1725.5 972.3Z"/>
<path fill="#00e5ce" stroke="#00e5ce" d="M1725.5 972.3L1742.5 990.2 1753.9 987.1 1737 969Z"/>
<path fill="#00e2d2" stroke="#00e2d2" d="M1737 969L1753.9 987.1 1765.3 984.2 1748.5 966Z"/>
<path fill="#00e0d5" stroke="#00e0d5" d="M1748.5 966L1765.3 984.2 1776.7 981.6 1759.9 963.1Z"/>
<path fill="#00ded9" stroke="#00ded9" d="M1759.9 963.1L1776.7 981.6 1787.9 979.2 1771.2 960.4Z"/>
<path fill="#00dadb" stroke="#00dadb" d="M1771.2 960.4L1787.9 979.2 1799.1 976.9 1782.4 958Z"/>
<path fill="#00d1d9" stroke="#00d1d9" d="M1782.4 958L1799.1 976.9 1810.3 974.9 1793.6 955.8Z"/>
<path fill="#00c9d7" stroke="#00c9d7" d="M1793.6 955.8L1810.3 974.9 1821.3 973.1 1804.7 953.8Z"/>
<path fill="#00c0d4" stroke="#00c0d4" d="M1804.7 953.8L1821.3 973.1 1832.3 971.6 1815.8 952Z"/>
<path fill="#00b7d1" stroke="#00b7d1" d="M1815.8 952L1832.3 971.6 1843.3 970.2 1826.8 950.3Z"/>
<path fill="#00adcf" stroke="#00adcf" d="M1826.8 950.3L1843.3 970.2 1854.1 969 1837.7 948.9Z"/>
<path fill="#00a4cc" stroke="#00a4cc" d="M1837.7 948.9L1854.1 969 1864.9 968.1 1848.5 947.7Z"/>
<path fill="#009bca" stroke="#009bca" d="M1848.5 947.7L1864.9 968.1 1875.6 967.4 1859.3 946.7Z"/>
<path fill="#0091c7" stroke="#0091c7" d="M1859.3 946.7L1875.6 967.4 1886.3 966.8 1870 945.9Z"/>
<path fill="#0088c4" stroke="#0088c4" d="M1870 945.9L1886.3 966.8 1896.9 966.5 1880.7 945.3Z"/>
<path fill="#007ec1" stroke="#007ec1" d="M1880.7 945.3L1896.9 966.5 1907.4 966.4 1891.2 944.9Z"/>
<path fill="#0074bf" stroke="#0074bf" d="M1891.2 944.9L1907.4 966.4 1917.9 966.5 1901.7 944.7Z"/>
<path fill="#006bbc" stroke="#006bbc" d="M1901.7 944.7L1917.9 966.5 1928.2 966.7 1912.2 944.7Z"/>
<path fill="#0061b9" stroke="#0061b9" d="M1912.2 944.7L1928.2 966.7 1938.5 967.2 1922.5 944.9Z"/>
<path fill="#0057b6" stroke="#0057b6" d="M1922.5 944.9L1938.5 967.2 1948.8 967.9 1932.9 945.2Z"/>
<path fill="#004db3" stroke="#004db3" d="M1932.9 945.2L1948.8 967.9 1959 968.8 1943.1 945.8Z"/>
<path fill="#0043b1" stroke="#0043b1" d="M1943.1 945.8L1959 968.8 1969.1 969.8 1953.3 946.6Z"/>
<path fill="#0039ae" stroke="#0039ae" d="M1953.3 946.6L1969.1 969.8 1979.1 971.1 1963.4 947.5Z"/>
<path fill="#002fab" stroke="#002fab" d="M1963.4 947.5L1979.1 971.1 1989.1 972.5 1973.4 948.6Z"/>
<path fill="#0025a8" stroke="#0025a8" d="M1973.4 948.6L1989.1 972.5 1999 974.2 1983.4 949.9Z"/>
<path fill="#001ca5" stroke="#001ca5" d="M1983.4 949.9L1999 974.2 2008.9 976 1993.3 951.4Z"/>
<path fill="#0012a3" stroke="#0012a3" d="M1993.3 951.4L2008.9 976 2018.6 978.1 2003.1 953.1Z"/>
<path fill="#00ffcd" stroke="#00ffcd" d="M1311.9 1235.9L1329.9 1252.5 1343.7 1241.1 1325.7 1224.6Z"/>
<path fill="#00ffca" stroke="#00ffca" d="M1325.7 1224.6L1343.7 1241.1 1357.4 1229.9 1339.4 1213.5Z"/>
<path fill="#00ffc6" stroke="#00ffc6" d="M1339.4 1213.5L1357.4 1229.9 1371 1219 1353 1202.7Z"/>
<path fill="#00ffc3" stroke="#00ffc3" d="M1353 1202.7L1371 1219 1384.5 1208.4 1366.6 1192.1Z"/>
<path fill="#00ffc1" stroke="#00ffc1" d="M1366.6 1192.1L1384.5 1208.4 1398 1198 1380.1 1181.8Z"/>
<path fill="#00ffbe" stroke="#00ffbe" d="M1380.1 1181.8L1398 1198 1411.4 1187.9 1393.5 1171.8Z"/>
<path fill="#00ffbc" stroke="#00ffbc" d="M1393.5 1171.8L1411.4 1187.9 1424.7 1178.1 1406.9 1162Z"/>
<path fill="#00ffba" stroke="#00ffba" d="M1406.9 1162L1424.7 1178.1 1438 1168.5 1420.2 1152.5Z"/>
<path fill="#00ffb7" stroke="#00ffb7" d="M1433.4 1143.2L1451.2 1159.2 1464.4 1150.2 1446.6 1134.2ZM1524.2 1085.2L1541.8 1101.4 1554.5 1094.1 1536.9 1077.9ZM1536.9 1077.9L1554.5 1094.1 1567.1 1087.1 1549.5 1070.9Z"/>
<path fill="#00ffb5" stroke="#00ffb5" d="M1472.7 1116.9L1490.5 1132.9 1503.4 1124.6 1485.7 1108.6ZM1485.7 1108.6L1503.4 1124.6 1516.3 1116.6 1498.6 1100.5ZM1498.6 1100.5L1516.3 1116.6 1529.1 1108.9 1511.4 1092.8Z"/>
<path fill="#00feb8" stroke="#00feb8" d="M1549.5 1070.9L1567.1 1087.1 1579.6 1080.4 1562.1 1064.1Z"/>
<path fill="#00fcb9" stroke="#00fcb9" d="M1562.1 1064.1L1579.6 1080.4 1592.1 1073.9 1574.6 1057.5Z"/>
<path fill="#00fbba" stroke="#00fbba" d="M1574.6 1057.5L1592.1 1073.9 1604.5 1067.6 1587 1051.2Z"/>
<path fill="#00fabb" stroke="#00fabb" d="M1587 1051.2L1604.5 1067.6 1616.8 1061.6 1599.4 1045.1Z"/>
<path fill="#00f9bd" stroke="#00f9bd" d="M1599.4 1045.1L1616.8 1061.6 1629.1 1055.9 1611.7 1039.3Z"/>
<path fill="#00f7be" stroke="#00f7be" d="M1611.7 1039.3L1629.1 1055.9 1641.3 1050.4 1623.9 1033.6Z"/>
<path fill="#00f5c0" stroke="#00f5c0" d="M1623.9 1033.6L1641.3 1050.4 1653.4 1045.1 1636.1 1028.3Z"/>
<path fill="#00f4c2" stroke="#00f4c2" d="M1636.1 1028.3L1653.4 1045.1 1665.4 1040.1 1648.2 1023.1Z"/>
<path fill="#00f2c4" stroke="#00f2c4" d="M1648.2 1023.1L1665.4 1040.1 1677.4 1035.3 1660.2 1018.2Z"/>
<path fill="#00f0c7" stroke="#00f0c7" d="M1660.2 1018.2L1677.4 1035.3 1689.3 1030.8 1672.2 1013.5Z"/>
<path fill="#00efc9" stroke="#00efc9" d="M1672.2 1013.5L1689.3 1030.8 1701.2 1026.5 1684 1009.1Z"/>
<path fill="#00edcc" stroke="#00edcc" d="M1684 1009.1L1701.2 1026.5 1713 1022.4 1695.9 1004.8Z"/>
<path fill="#00ebcf" stroke="#00ebcf" d="M1695.9 1004.8L1713 1022.4 1724.7 1018.6 1707.6 1000.9Z"/>
<path fill="#00e9d2" stroke="#00e9d2" d="M1707.6 1000.9L1724.7 1018.6 1736.3 1015 1719.3 997.1Z"/>
<path fill="#00e6d5" stroke="#00e6d5" d="M1719.3 997.1L1736.3 1015 1747.9 1011.6 1730.9 993.5Z"/>
<path fill="#00e4d9" stroke="#00e4d9" d="M1730.9 993.5L1747.9 1011.6 1759.4 1008.5 1742.5 990.2Z"/>
<path fill="#00e2dc" stroke="#00e2dc" d="M1742.5 990.2L1759.4 1008.5 1770.8 1005.6 1753.9 987.1Z"/>
<path fill="#00e0df" stroke="#00e0df" d="M1753.9 987.1L1770.8 1005.6 1782.2 1002.9 1765.3 984.2Z"/>
<path fill="#00d8dd" stroke="#00d8dd" d="M1765.3 984.2L1782.2 1002.9 1793.5 1000.4 1776.7 981.6Z"/>
<path fill="#00cfdb" stroke="#00cfdb" d="M1776.7 981.6L1793.5 1000.4 1804.7 998.2 1787.9 979.2Z"/>
<path fill="#00c7d9" stroke="#00c7d9" d="M1787.9 979.2L1804.7 998.2 1815.9 996.2 1799.1 976.9Z"/>
<path fill="#00bed6" stroke="#00bed6" d="M1799.1 976.9L1815.9 996.2 1826.9 994.4 1810.3 974.9Z"/>
<path fill="#00b5d4" stroke="#00b5d4" d="M1810.3 974.9L1826.9 994.4 1838 992.9 1821.3 973.1Z"/>
<path fill="#00acd1" stroke="#00acd1" d="M1821.3 973.1L1838 992.9 1848.9 991.5 1832.3 971.6Z"/>
<path fill="#00a2ce" stroke="#00a2ce" d="M1832.3 971.6L1848.9 991.5 1859.8 990.4 1843.3 970.2Z"/>
<path fill="#0099cc" stroke="#0099cc" d="M1843.3 970.2L1859.8 990.4 1870.6 989.5 1854.1 969Z"/>
<path fill="#0090c9" stroke="#0090c9" d="M1854.1 969L1870.6 989.5 1881.3 988.8 1864.9 968.1Z"/>
<path fill="#0086c6" stroke="#0086c6" d="M1864.9 968.1L1881.3 988.8 1892 988.4 1875.6 967.4Z"/>
<path fill="#007dc4" stroke="#007dc4" d="M1875.6 967.4L1892 988.4 1902.6 988.1 1886.3 966.8Z"/>
<path fill="#0073c1" stroke="#0073c1" d="M1886.3 966.8L1902.6 988.1 1913.1 988.1 1896.9 966.5Z"/>
<path fill="#0069be" stroke="#0069be" d="M1896.9 966.5L1913.1 988.1 1923.6 988.2 1907.4 966.4Z"/>
<path fill="#005fbb" stroke="#005fbb" d="M1907.4 966.4L1923.6 988.2 1934 988.6 1917.9 966.5Z"/>
<path fill="#0055b8" stroke="#0055b8" d="M1917.9 966.5L1934 988.6 1944.3 989.2 1928.2 966.7Z"/>
<path fill="#004bb6" stroke="#004bb6" d="M1928.2 966.7L1944.3 989.2 1954.5 990 1938.5 967.2Z"/>
<path fill="#0041b3" stroke="#0041b3" d="M1938.5 967.2L1954.5 990 1964.7 990.9 1948.8 967.9Z"/>
<path fill="#0037b0" stroke="#0037b0" d="M1948.8 967.9L1964.7 990.9 1974.8 992.1 1959 968.8Z"/>
<path fill="#002ead" stroke="#002ead" d="M1959 968.8L1974.8 992.1 1984.9 993.5 1969.1 969.8Z"/>
<path fill="#0024aa" stroke="#0024aa" d="M1969.1 969.8L1984.9 993.5 1994.9 995.1 1979.1 971.1Z"/>
<path fill="#001aa7" stroke="#001aa7" d="M1979.1 971.1L1994.9 995.1 2004.8 996.9 1989.1 972.5Z"/>
<path fill="#0011a5" stroke="#0011a5" d="M1989.1 972.5L2004.8 996.9 2014.6 998.9 1999 974.2Z"/>
<path fill="#0007a2" stroke="#0007a2" d="M1999 974.2L2014.6 998.9 2024.4 1001.1 2008.9 976Z"/>
<path fill="#00009f" stroke="#00009f" d="M2008.9 976L2024.4 1001.1 2034.1 1003.5 2018.6 978.1Z"/>
</g>
<g fill="none" stroke="#000" stroke-width="3.1" stroke-linejoin="round" stroke-linecap="round">
<path d="M323.8 398.7L347.5 408.9 370.9 418.3 394.1 426.9 417 434.7 439.7 441.8 462.1 448.1 484.3 453.7 506.2 458.5 527.9 462.6 549.5 466 570.8 468.7 591.9 470.8 612.8 472.1 633.5 472.8 654 472.8 674.4 472.2 694.5 471 714.5 469.1 734.3 466.5 754 463.4 773.5 459.7 792.8 455.3 812 450.3 831.1 444.8 850 438.7 868.7 431.9 887.3 424.7 905.8 416.8 924.2 408.4 942.5 399.4 960.6 389.9 978.6 379.8 996.5 369.2 1014.3 358 1032 346.3 1067 321.3 1084.4 308 1118.9 279.9M370.4 435.2L393.9 443.2 417.1 450.4 440 457 462.7 462.8 485.1 467.9 507.4 472.4 529.4 476.2 551.2 479.3 572.7 481.8 594.1 483.7 615.3 484.9 636.3 485.5 657 485.5 677.6 484.9 698 483.7 718.3 481.9 738.4 479.5 758.3 476.6 778 473.1 797.6 469 817 464.4 836.3 459.2 855.4 453.5 874.4 447.3 893.3 440.5 912 433.2 930.6 425.4 949 417 967.4 408.2 1003.7 389 1021.7 378.6 1057.3 356.4 1075 344.6 1110 319.5 1127.4 306.2 1161.8 278.3M417.5 472.4L440.7 478.2 463.6 483.3 486.3 487.9 508.8 491.8 531.1 495.1 553.1 497.8 575 499.9 596.6 501.4 618 502.4 639.3 502.7 660.3 502.6 681.1 501.8 701.8 500.5 722.3 498.7 742.6 496.3 762.8 493.5 782.7 490 802.6 486.1 822.2 481.7 841.7 476.8 861.1 471.4 880.3 465.5 918.3 452.2 955.8 437 974.3 428.7 1011.1 410.8 1047.3 391 1065.3 380.5 1100.9 358 1118.5 346.2 1153.5 321.2 1170.8 308 1205.3 280.4M464.9 510L487.8 513.8 510.6 517 533.1 519.6 555.4 521.7 577.5 523.3 599.4 524.3 621 524.8 642.5 524.8 663.8 524.2 684.9 523.2 705.8 521.7 726.5 519.7 767.5 514.2 807.7 506.9 827.6 502.5 867 492.4 905.7 480.6 924.9 474 962.8 459.6 1000.1 443.5 1018.7 434.8 1055.3 416.3 1091.5 396.1 1109.4 385.4 1144.9 362.9 1162.5 351.1 1197.5 326.3 1214.8 313.4 1249.2 286.4M512.6 548.3L557.9 551.4 602.4 552.6 646 551.9 667.6 550.9 710 547.5 751.8 542.3 772.4 539.1 813.2 531.5 853.2 522.2 873.1 517 912.2 505.3 950.8 492.1 969.9 485 1007.7 469.6 1045 452.7 1063.5 443.7 1100 424.7 1136.1 404.3 1154 393.6 1189.5 371.2 1207.1 359.5 1241.9 335.1 1259.2 322.4 1293.5 296.1M560.8 587.2L605.7 586.6 649.8 584.4 693.2 580.6 714.5 578.2 756.8 572.1 798.3 564.5 818.8 560.2 859.3 550.6 899.3 539.5 919 533.5 958 520.4 996.5 506 1015.5 498.4 1053.2 482.1 1090.4 464.6 1108.8 455.4 1145.3 436.1 1181.3 415.7 1199.1 405 1234.5 382.9 1252 371.4 1286.8 347.5 1304 335.2 1338.2 309.8M609.4 626.7L653.9 622.7 697.7 617.2 740.7 610.5 762 606.7 803.9 598.1 845.3 588.3 865.7 583 906 571.4 945.8 558.7 965.4 552 1004.3 537.7 1042.6 522.3 1061.6 514.2 1099.2 497.3 1136.2 479.3 1154.6 470 1190.9 450.6 1226.8 430.2 1244.6 419.7 1279.9 398 1332.1 363.7 1383.4 327.4M658.3 666.9L702.5 659.5 746 651 788.7 641.6 809.9 636.5 851.6 625.6 892.7 613.7 913 607.4 953.2 594.1 992.7 580 1051.1 557.2 1089.3 541 1145.6 515.1 1182.5 496.9 1237.1 468.1 1272.9 448 1325.8 416.6 1377.7 383.5 1428.8 349M707.6 707.7L751.5 697.2 794.7 685.9 837.2 673.8 899.7 654.4 940.6 640.7 1000.8 618.7 1040.2 603.3 1098.3 579 1136.3 562.1 1192.5 535.6 1229.3 517.3 1283.6 488.8 1319.3 469.1 1372 438.7 1423.7 407.2 1474.6 374.7M757.3 749.1L800.9 735.7 843.8 721.7 886.1 707.3 948.3 684.8 989 669.3 1048.9 645.2 1088.1 628.7 1146 603.2 1183.9 585.7 1239.8 558.9 1276.4 540.6 1330.6 512.6 1366.1 493.5 1418.5 464.4 1470 434.7 1520.6 404.4M807.4 791.3L893.4 758.6 935.4 741.9 997.3 716.6 1037.8 699.5 1097.4 673.6 1136.5 656.1 1194.1 629.7 1287.5 585 1377.9 539.6 1465.4 493.7 1516.6 466 1566.9 438.2M857.9 834.1L943.4 796.5 1026.3 759.2 1106.9 722.3 1204.5 676.6 1298.8 631.6 1389.9 587.3 1495.4 535.3 1613.4 476.2M908.8 877.6L1156.5 755.4 1347.5 662.9 1438.1 619.9 1508.5 587.1 1593.8 548 1660 518.3M960.1 921.8L1065.3 864.5 1166.9 810.8 1264.9 760.8 1359.6 714.5 1451 671.7 1539.2 632.5 1624.4 596.8 1657.7 583.4 1706.7 564.5M1011.8 966.8L1054.1 941.4 1116.4 904.9 1157.3 881.6 1217.5 848.3 1256.9 827.2 1315 797 1353.1 777.9 1409.2 750.8 1445.9 733.7 1500 709.5 1535.4 694.4 1587.6 673.2 1621.8 660.1 1672.1 641.7 1705.1 630.4 1753.6 614.9M1063.8 1012.5L1105.9 985.3 1168 946.5 1208.6 922.1 1268.5 887.5 1307.7 865.8 1365.5 835.2 1403.3 816.2 1459.1 789.6 1495.6 773.1 1549.3 750.3 1584.4 736.4 1636.2 717.3 1670.1 705.9 1719.9 690.4 1752.5 681.3 1800.5 669.4M1116.3 1058.9L1158.1 1030.1 1219.9 989.4 1260.3 964 1319.9 928.3 1358.9 906.3 1416.3 875.6 1454 856.8 1509.3 831 1545.5 815.3 1598.9 794.1 1633.7 781.5 1685 764.9 1718.5 755.2 1767.8 742.9 1800 736.1 1815.9 733.2 1847.4 728.1M1169.1 1106.1L1210.8 1075.8 1251.8 1047.2 1292.4 1020.2 1312.4 1007.2 1352 982.6 1391.1 959.6 1410.4 948.6 1448.6 927.9 1486.3 908.8 1504.9 899.7 1541.7 882.8 1577.9 867.4 1595.8 860.2 1631.2 847 1666 835.2 1683.2 829.8 1717.2 820.1 1750.6 811.8 1767.1 808.1 1799.7 801.8 1815.8 799.2 1847.5 794.9 1863.2 793.2 1894.2 790.8M1222.3 1154.1L1263.8 1122.6 1304.6 1092.9 1344.9 1065.2 1364.9 1052 1404.3 1027 1443.1 1003.8 1462.3 992.9 1500.3 972.4 1537.7 953.7 1556.1 945 1592.6 928.9 1628.5 914.5 1646.3 907.9 1681.3 896 1715.8 885.8 1732.8 881.2 1766.4 873.4 1799.4 867.1 1815.7 864.6 1847.9 860.6 1863.8 859.2 1895.1 857.5 1910.5 857.2 1941 857.7M1275.9 1202.9L1317.2 1170.3 1357.8 1139.8 1397.9 1111.5 1417.7 1098.1 1456.9 1073 1495.5 1049.8 1514.5 1039.1 1552.2 1019 1589.3 1000.9 1607.6 992.6 1643.8 977.5 1679.4 964.3 1697 958.4 1731.7 948 1765.8 939.4 1782.6 935.8 1815.8 930 1848.3 925.9 1864.4 924.6 1896.1 923.1 1911.7 923 1942.5 924 1957.7 925.1 1987.6 928.6M1329.9 1252.5L1371 1219 1411.4 1187.9 1451.2 1159.2 1470.9 1145.8 1509.8 1120.6 1548.2 1097.7 1567.1 1087.1 1604.5 1067.6 1641.3 1050.4 1659.4 1042.6 1695.3 1028.6 1730.5 1016.7 1747.9 1011.6 1782.2 1002.9 1815.9 996.2 1832.5 993.6 1865.2 989.9 1897.3 988.2 1913.1 988.1 1944.3 989.2 1959.6 990.4 1989.9 994.3 2004.8 996.9 2034.1 1003.5M323.8 398.7L464.9 510 585 606.9 707.6 707.7 832.6 812.6 960.1 921.8 1090 1035.6 1222.3 1154.1 1329.9 1252.5M370.9 418.3L440.3 466.8 510.6 517 581.8 568.9 629.8 604.5 702.5 659.5 751.5 697.2 825.8 755.2 875.8 795 951.6 856.4 1002.6 898.4 1079.9 963.2 1132 1007.5 1210.8 1075.8 1263.8 1122.6 1371 1219M417 434.7L485.7 477.2 555.4 521.7 626.1 568.4 673.7 600.7 746 651 794.7 685.9 868.6 740 918.3 777.4 993.8 835.5 1044.6 875.6 1121.6 937.9 1173.4 980.7 1251.8 1047.2 1304.6 1092.9 1357.8 1139.8 1411.4 1187.9M462.1 448.1L530.2 485 599.4 524.3 669.5 566.1 716.9 595.4 788.7 641.6 837.2 673.8 910.7 724.5 960.2 759.7 1035.3 815 1085.9 853.4 1162.6 913.5 1214.2 955.2 1292.4 1020.2 1344.9 1065.2 1397.9 1111.5 1451.2 1159.2M506.2 458.5L573.8 490.2 642.5 524.8 712.3 562.2 759.3 588.8 830.8 631.1 879 661.1 952.2 708.6 1001.5 742 1076.3 794.8 1126.7 831.8 1203.1 890.1 1254.5 930.8 1332.3 994.7 1384.6 1039.2 1437.4 1085.3 1490.5 1132.9M549.5 466L594.1 483.7 616.6 493 662 512.8 684.9 523.2 731 545.1 754.2 556.6 801.1 580.7 848.4 606.4 872.2 619.7 920.2 647.6 968.7 677.1 993.1 692.4 1042.2 724.2 1091.8 757.6 1116.7 775 1166.9 810.8 1217.5 848.3 1242.9 867.7 1294.1 907.7 1345.7 949.4 1371.6 970.9 1423.8 1015.2 1476.3 1061.1 1529.1 1108.9M591.9 470.8L636.3 485.5 658.6 493.5 703.8 510.5 726.5 519.7 772.4 539.1 795.5 549.5 842.2 571.4 889.3 595 913 607.4 960.8 633.5 1009.1 661.4 1033.4 675.9 1082.3 706.4 1131.7 738.6 1156.5 755.4 1206.5 790.4 1256.9 827.2 1282.3 846.2 1333.3 885.8 1384.6 927.2 1410.4 948.6 1462.3 992.9 1514.5 1039.1 1567.1 1087.1M633.5 472.8L677.6 484.9 699.9 491.6 744.8 506.2 767.5 514.2 813.2 531.5 836.2 540.8 882.6 560.8 929.5 582.6 953.2 594.1 1000.8 618.7 1048.9 645.2 1073.1 659.2 1121.8 688.5 1171 719.9 1195.8 736.3 1245.6 770.5 1295.8 806.8 1321 825.7 1371.8 865.1 1422.9 906.5 1448.6 927.9 1500.3 972.4 1552.2 1019 1604.5 1067.6M674.4 472.2L718.3 481.9 740.5 487.5 785.2 499.9 807.7 506.9 853.2 522.2 876.2 530.6 922.4 548.9 969.2 569.1 992.7 580 1040.2 603.3 1088.1 628.7 1112.3 642.1 1160.8 670.7 1209.8 701.3 1234.5 717.4 1284.1 751.3 1334.1 787.3 1359.3 806.2 1409.8 845.5 1460.7 887.1 1486.3 908.8 1537.7 953.7 1589.3 1000.9 1641.3 1050.4M714.5 469.1L758.3 476.6 780.3 481.1 824.9 491.7 847.4 497.7 892.7 511.3 915.6 518.9 961.7 535.8 1008.3 554.7 1031.8 565 1079.1 587.3 1126.8 611.8 1150.9 624.9 1199.3 652.8 1248.1 682.9 1272.7 698.9 1322.1 732.6 1371.9 768.6 1396.9 787.6 1447.3 827.2 1497.9 869.2 1523.4 891.1 1574.4 936.7 1625.8 984.8 1677.4 1035.3M754 463.4L775.7 465.9 797.6 469 819.6 472.6 841.7 476.8 864 481.5 886.4 486.7 908.9 492.5 931.6 498.9 954.4 505.9 977.3 513.4 1000.4 521.4 1023.5 530.1 1046.8 539.4 1070.2 549.2 1117.4 570.6 1165 594.5 1189 607.3 1237.2 634.8 1285.9 664.8 1310.3 680.8 1359.6 714.5 1409.2 750.8 1434.1 769.8 1484.2 809.9 1534.6 852.6 1559.9 874.9 1610.7 921.5 1661.7 970.6 1713 1022.4M792.8 455.3L814.5 457 836.3 459.2 858.2 462 880.3 465.5 902.5 469.4 924.9 474 947.3 479.2 969.9 485 992.7 491.4 1015.5 498.4 1038.5 506 1061.6 514.2 1084.8 523.1 1108.2 532.5 1131.6 542.7 1155.2 553.4 1178.9 564.8 1202.6 576.9 1226.5 589.6 1250.5 602.9 1274.6 616.9 1298.8 631.6 1323.1 646.9 1347.5 662.9 1371.9 679.6 1396.5 697 1445.9 733.7 1470.7 753.1 1520.5 793.9 1570.6 837.4 1595.8 860.2 1646.3 907.9 1697 958.4 1747.9 1011.6M831.1 444.8L852.7 445.7 874.4 447.3 896.3 449.4 918.3 452.2 940.5 455.6 962.8 459.6 985.2 464.3 1007.7 469.6 1030.4 475.5 1053.2 482.1 1076.1 489.4 1099.2 497.3 1122.3 505.8 1145.6 515.1 1169 525 1192.5 535.6 1216.1 546.9 1239.8 558.9 1263.6 571.6 1287.5 585 1311.5 599 1335.6 613.8 1359.8 629.3 1384.1 645.5 1408.5 662.4 1432.9 680 1457.5 698.3 1482.1 717.4 1506.8 737.2 1531.5 757.7 1556.3 778.9 1581.2 800.9 1606.2 823.6 1631.2 847 1681.3 896 1731.7 948 1782.2 1002.9M868.7 431.9L890.3 432.2 912 433.2 933.8 434.8 955.8 437 977.9 439.9 1000.1 443.5 1022.5 447.7 1045 452.7 1067.6 458.3 1090.4 464.6 1113.2 471.6 1136.2 479.3 1159.3 487.7 1182.5 496.9 1205.9 506.7 1229.3 517.3 1252.8 528.6 1276.4 540.6 1300.2 553.4 1324 566.9 1347.9 581.1 1372 596.1 1396.1 611.9 1420.2 628.3 1444.5 645.6 1468.8 663.6 1493.3 682.4 1517.8 701.9 1542.3 722.2 1566.9 743.2 1591.6 765.1 1616.3 787.7 1641.1 811 1666 835.2 1690.9 860.1 1715.8 885.8 1740.8 912.2 1765.8 939.4 1815.9 996.2M905.8 416.8L927.4 416.6 949 417 970.8 418.1 992.8 420 1014.8 422.5 1037 425.7 1059.4 429.7 1081.8 434.4 1104.4 439.8 1127.1 445.9 1149.9 452.8 1172.8 460.4 1195.9 468.8 1219 477.9 1242.3 487.8 1265.6 498.4 1289.1 509.8 1312.6 522 1336.3 535 1360 548.7 1383.9 563.2 1407.8 578.6 1431.8 594.7 1455.9 611.6 1480 629.3 1504.3 647.8 1528.6 667.1 1552.9 687.2 1577.3 708.1 1601.8 729.8 1626.4 752.3 1650.9 775.7 1675.6 799.8 1700.2 824.8 1724.9 850.5 1749.7 877.1 1774.5 904.5 1799.2 932.7 1824.1 961.7 1848.9 991.5M942.5 399.4L964 398.8 985.6 398.8 1007.4 399.6 1029.3 401.1 1051.3 403.4 1073.4 406.4 1095.7 410.2 1118.1 414.7 1140.7 420 1163.3 426 1186.1 432.9 1208.9 440.5 1231.9 449 1255 458.2 1278.2 468.2 1301.5 479 1324.9 490.7 1348.4 503.1 1372 516.4 1395.6 530.5 1419.4 545.4 1443.2 561.1 1467.1 577.7 1491.1 595.1 1515.1 613.4 1539.2 632.5 1563.4 652.4 1587.6 673.2 1611.9 694.9 1636.2 717.3 1660.6 740.7 1685 764.9 1709.4 789.9 1733.9 815.8 1758.5 842.5 1783 870.1 1807.6 898.5 1832.1 927.8 1856.7 957.9 1881.3 988.8M978.6 379.8L1000.1 378.8 1021.7 378.6 1043.4 379.1 1065.3 380.5 1087.3 382.6 1109.4 385.4 1131.7 389.1 1154 393.6 1176.5 398.9 1199.1 405 1221.8 411.9 1244.6 419.7 1267.6 428.3 1290.6 437.7 1313.7 448 1336.9 459.1 1360.3 471.1 1383.7 483.9 1407.2 497.6 1430.7 512.1 1454.4 527.6 1478.1 543.9 1501.9 561 1525.7 579.1 1549.7 598 1573.6 617.8 1597.7 638.5 1621.8 660.1 1645.9 682.5 1670.1 705.9 1694.3 730.1 1718.5 755.2 1742.8 781.2 1767.1 808.1 1791.4 835.9 1815.7 864.6 1840.1 894.1 1864.4 924.6 1888.8 955.9 1913.1 988.1M1014.3 358L1035.7 356.8 1057.3 356.4 1079 356.8 1100.9 358 1122.8 360.1 1144.9 362.9 1167.1 366.7 1189.5 371.2 1211.9 376.6 1234.5 382.9 1257.1 390 1279.9 398 1302.8 406.8 1325.8 416.6 1348.8 427.2 1372 438.7 1395.2 451.1 1418.5 464.4 1441.9 478.6 1465.4 493.7 1489 509.8 1512.6 526.7 1536.2 544.6 1560 563.3 1583.8 583 1607.6 603.6 1631.5 625.2 1655.4 647.6 1679.4 671 1703.4 695.3 1727.5 720.6 1751.5 746.7 1775.6 773.8 1799.7 801.8 1823.8 830.8 1847.9 860.6 1872 891.4 1896.1 923.1 1920.2 955.7 1944.3 989.2M1049.5 334.1L1071 332.8 1092.5 332.3 1114.2 332.7 1136 333.9 1158 336 1180.1 338.9 1202.2 342.8 1224.5 347.5 1246.9 353.1 1269.4 359.6 1292.1 367 1314.8 375.3 1337.6 384.6 1360.5 394.7 1383.5 405.8 1406.6 417.8 1429.7 430.8 1453 444.7 1476.3 459.5 1499.6 475.3 1523.1 492 1546.6 509.7 1570.2 528.4 1593.8 548 1617.4 568.5 1641.1 590 1664.9 612.5 1688.6 636 1712.4 660.4 1736.3 685.8 1760.1 712.1 1784 739.4 1807.8 767.7 1831.7 796.9 1855.6 827 1879.5 858.2 1903.3 890.2 1927.2 923.3 1951 957.2 1974.8 992.1M1084.4 308L1105.8 306.7 1127.4 306.2 1149 306.7 1170.8 308 1192.8 310.2 1214.8 313.4 1236.9 317.4 1259.2 322.4 1281.6 328.4 1304 335.2 1326.6 343 1349.3 351.8 1372 361.5 1394.8 372.2 1417.8 383.8 1440.8 396.5 1463.8 410.1 1487 424.6 1510.2 440.2 1533.5 456.8 1556.8 474.3 1580.2 492.9 1603.6 512.4 1627.1 532.9 1650.6 554.5 1674.2 577 1697.7 600.5 1721.3 625.1 1745 650.6 1768.6 677.1 1792.3 704.7 1815.9 733.2 1839.6 762.7 1863.2 793.2 1886.9 824.7 1910.5 857.2 1934.1 890.7 1957.7 925.1 1981.3 960.5 2004.8 996.9M1118.9 279.9L1140.3 278.6 1161.8 278.3 1183.5 278.9 1205.3 280.4 1227.1 282.9 1249.2 286.4 1271.3 290.8 1293.5 296.1 1315.8 302.5 1338.2 309.8 1360.8 318.1 1383.4 327.4 1406 337.7 1428.8 349 1451.7 361.3 1474.6 374.7 1497.6 389 1520.6 404.4 1543.7 420.8 1566.9 438.2 1590.1 456.7 1613.4 476.2 1636.7 496.7 1660 518.3 1683.4 540.9 1706.7 564.5 1730.2 589.2 1753.6 614.9 1777 641.6 1800.5 669.4 1823.9 698.2 1847.4 728.1 1870.8 758.9 1894.2 790.8 1917.6 823.8 1941 857.7 1964.3 892.6 1987.6 928.6 2010.9 965.5 2034.1 1003.5"/>
</g>
<line x1="321.5" y1="361.9" x2="389.9" y2="1458" stroke="#000" stroke-width="3.1"/>
<line x1="2079.8" y1="285.7" x2="2011.5" y2="1358.4" stroke="#000" stroke-width="3.1"/>
<circle cx="329.7" cy="499.8" r="7.6"/>
<circle cx="338.8" cy="640.1" r="7.6"/>
<circle cx="347.4" cy="779.4" r="7.6"/>
<circle cx="356.2" cy="919.3" r="7.6"/>
<circle cx="365.2" cy="1059.5" r="7.6"/>
<circle cx="374.2" cy="1199.4" r="7.6"/>
<g font-family="Liberation Serif, serif" font-size="62" text-anchor="end" letter-spacing="1.5">
<text x="287.8" y="343.4">112</text>
<text x="296.4" y="483.7">110</text>
<text x="305.8" y="624.4">108</text>
<text x="314.8" y="764.2">106</text>
<text x="324.9" y="903">104</text>
<text x="332.8" y="1042.5">102</text>
<text x="341.9" y="1183.1">100</text>
</g>
<g font-family="Liberation Serif, serif" font-size="62" text-anchor="end" letter-spacing="1.5">
<circle cx="390.2" cy="1457.3" r="7.6"/>
<text x="357.2" y="1523.3">4</text>
<circle cx="576.8" cy="1539.6" r="7.6"/>
<text x="543.8" y="1605.6">6.2</text>
<circle cx="763.4" cy="1621.9" r="7.6"/>
<text x="730.4" y="1687.9">8.4</text>
<circle cx="949.9" cy="1704.2" r="7.6"/>
<text x="916.9" y="1770.2">10.6</text>
<circle cx="1136.5" cy="1786.5" r="7.6"/>
<text x="1103.5" y="1852.5">12.8</text>
<circle cx="1323.1" cy="1868.8" r="7.6"/>
<text x="1290.1" y="1934.8">15</text>
</g>
<g font-family="Liberation Serif, serif" font-size="62" text-anchor="start" letter-spacing="1.5">
<circle cx="1323.1" cy="1868.8" r="7.6"/>
<text x="1358.1" y="1934.8">5</text>
<circle cx="1460.9" cy="1766.6" r="7.6"/>
<text x="1495.9" y="1832.6">7</text>
<circle cx="1598.7" cy="1664.3" r="7.6"/>
<text x="1633.7" y="1730.3">9</text>
<circle cx="1736.5" cy="1562.1" r="7.6"/>
<text x="1771.5" y="1628.1">11</text>
<circle cx="1874.3" cy="1459.8" r="7.6"/>
<text x="1909.3" y="1525.8">13</text>
<circle cx="2012.1" cy="1357.6" r="7.6"/>
<text x="2047.1" y="1423.6">15</text>
</g>
<line x1="1329.6" y1="1219.3" x2="1330" y2="1253.2" stroke="#000" stroke-width="2.6"/>
<line x1="1118.8" y1="250.5" x2="1119.5" y2="278.7" stroke="#000" stroke-width="2.6"/>
<line x1="2035.9" y1="975.1" x2="2034.1" y2="1003.2" stroke="#000" stroke-width="2.6"/>
<circle cx="320.1" cy="366.6" r="17" fill="#cc0000" stroke="#000" stroke-width="2.6"/>
<circle cx="1118.8" cy="250.5" r="17" fill="#cc0000" stroke="#000" stroke-width="2.6"/>
<circle cx="2035.9" cy="975.1" r="17" fill="#cc0000" stroke="#000" stroke-width="2.6"/>
<circle cx="1329.6" cy="1219.3" r="17" fill="#cc0000" stroke="#000" stroke-width="2.6"/>
<clipPath id="cpc"><polygon points="1213,620.8 1406.8,735.8 1406.8,420.8 1061,420.8 1061,691.7"/></clipPath>
<g clip-path="url(#cpc)">
<circle cx="1212.8" cy="607.7" r="17" fill="#cc0000" stroke="#000" stroke-width="2.6"/>
</g>
<circle cx="1212.8" cy="570.6" r="17" fill="#cc0000" stroke="#000" stroke-width="2.6"/>
<text font-family="Liberation Serif, serif" font-size="75.5" x="234.6" y="1895.3" textLength="691" lengthAdjust="spacingAndGlyphs">A: PTFE Content (%)</text>
<text font-family="Liberation Serif, serif" font-size="75.5" x="1595.7" y="1798.3" textLength="815.6" lengthAdjust="spacingAndGlyphs">B: PTFE Etch Time (min)</text>
<text font-family="Liberation Serif, serif" font-size="75.5" transform="translate(102 1309) rotate(-90)" textLength="757" lengthAdjust="spacingAndGlyphs">Tensile Strength (MPa)</text>
<text font-family="Liberation Serif, serif" font-size="80" x="1172" y="2052" textLength="88.4" lengthAdjust="spacingAndGlyphs">(<tspan font-weight="bold">a</tspan>)</text>
</g>
<g id="partB">
<defs><clipPath id="cpb"><rect x="520" y="2308.4" width="1689.2" height="1689.8"/></clipPath>
<linearGradient id="g0" gradientUnits="userSpaceOnUse" x1="520" x2="2209.2" y1="0" y2="0"><stop offset="0" stop-color="#56ff00"/><stop offset="0.009" stop-color="#64ff00"/><stop offset="0.046" stop-color="#7fff00"/><stop offset="0.083" stop-color="#96ff00"/><stop offset="0.167" stop-color="#b3ff00"/><stop offset="0.25" stop-color="#b3ff00"/><stop offset="0.333" stop-color="#94ff00"/><stop offset="0.368" stop-color="#7fff00"/><stop offset="0.404" stop-color="#64ff00"/><stop offset="0.417" stop-color="#4fff00"/><stop offset="0.439" stop-color="#28ff00"/><stop offset="0.464" stop-color="#00ff00"/><stop offset="0.5" stop-color="#00ff00"/><stop offset="0.583" stop-color="#00ff00"/><stop offset="0.667" stop-color="#00ff00"/><stop offset="0.674" stop-color="#00ff00"/><stop offset="0.692" stop-color="#00ff19"/><stop offset="0.75" stop-color="#00ff7d"/><stop offset="0.75" stop-color="#00ff7d"/><stop offset="0.78" stop-color="#00ffa5"/><stop offset="0.833" stop-color="#00fff1"/><stop offset="0.843" stop-color="#00ffff"/><stop offset="0.91" stop-color="#0094ff"/><stop offset="0.917" stop-color="#0088ff"/><stop offset="0.95" stop-color="#004bff"/><stop offset="0.989" stop-color="#0000ff"/><stop offset="1" stop-color="#0000ff"/></linearGradient>
<linearGradient id="g1" gradientUnits="userSpaceOnUse" x1="520" x2="2209.2" y1="0" y2="0"><stop offset="0" stop-color="#56ff00"/><stop offset="0.009" stop-color="#64ff00"/><stop offset="0.046" stop-color="#7fff00"/><stop offset="0.083" stop-color="#96ff00"/><stop offset="0.167" stop-color="#b3ff00"/><stop offset="0.25" stop-color="#b3ff00"/><stop offset="0.333" stop-color="#94ff00"/><stop offset="0.368" stop-color="#7fff00"/><stop offset="0.404" stop-color="#64ff00"/><stop offset="0.417" stop-color="#4fff00"/><stop offset="0.439" stop-color="#28ff00"/><stop offset="0.464" stop-color="#00ff00"/><stop offset="0.5" stop-color="#00ff00"/><stop offset="0.583" stop-color="#00ff00"/><stop offset="0.667" stop-color="#00ff00"/><stop offset="0.674" stop-color="#00ff00"/><stop offset="0.692" stop-color="#00ff19"/><stop offset="0.75" stop-color="#00ff7d"/><stop offset="0.75" stop-color="#00ff7d"/><stop offset="0.78" stop-color="#00ffa5"/><stop offset="0.833" stop-color="#00fff1"/><stop offset="0.843" stop-color="#00ffff"/><stop offset="0.91" stop-color="#0094ff"/><stop offset="0.917" stop-color="#0088ff"/><stop offset="0.95" stop-color="#004bff"/><stop offset="0.989" stop-color="#0000ff"/><stop offset="1" stop-color="#0000ff"/></linearGradient>
<linearGradient id="g2" gradientUnits="userSpaceOnUse" x1="520" x2="2209.2" y1="0" y2="0"><stop offset="0" stop-color="#56ff00"/><stop offset="0.009" stop-color="#64ff00"/><stop offset="0.046" stop-color="#7fff00"/><stop offset="0.083" stop-color="#96ff00"/><stop offset="0.167" stop-color="#b3ff00"/><stop offset="0.25" stop-color="#b3ff00"/><stop offset="0.333" stop-color="#94ff00"/><stop offset="0.368" stop-color="#7fff00"/><stop offset="0.404" stop-color="#64ff00"/><stop offset="0.417" stop-color="#4fff00"/><stop offset="0.439" stop-color="#28ff00"/><stop offset="0.464" stop-color="#00ff00"/><stop offset="0.5" stop-color="#00ff00"/><stop offset="0.583" stop-color="#00ff00"/><stop offset="0.667" stop-color="#00ff00"/><stop offset="0.674" stop-color="#00ff00"/><stop offset="0.692" stop-color="#00ff19"/><stop offset="0.75" stop-color="#00ff7d"/><stop offset="0.75" stop-color="#00ff7d"/><stop offset="0.78" stop-color="#00ffa5"/><stop offset="0.833" stop-color="#00fff1"/><stop offset="0.843" stop-color="#00ffff"/><stop offset="0.91" stop-color="#0094ff"/><stop offset="0.917" stop-color="#0088ff"/><stop offset="0.95" stop-color="#004bff"/><stop offset="0.989" stop-color="#0000ff"/><stop offset="1" stop-color="#0000ff"/></linearGradient>
<linearGradient id="g3" gradientUnits="userSpaceOnUse" x1="520" x2="2209.2" y1="0" y2="0"><stop offset="0" stop-color="#43ff00"/><stop offset="0.021" stop-color="#64ff00"/><stop offset="0.06" stop-color="#7fff00"/><stop offset="0.083" stop-color="#8dff00"/><stop offset="0.167" stop-color="#abff00"/><stop offset="0.25" stop-color="#acff00"/><stop offset="0.333" stop-color="#8fff00"/><stop offset="0.36" stop-color="#7fff00"/><stop offset="0.399" stop-color="#64ff00"/><stop offset="0.417" stop-color="#49ff00"/><stop offset="0.436" stop-color="#28ff00"/><stop offset="0.462" stop-color="#00ff00"/><stop offset="0.5" stop-color="#00ff00"/><stop offset="0.583" stop-color="#00ff00"/><stop offset="0.667" stop-color="#00ff00"/><stop offset="0.676" stop-color="#00ff00"/><stop offset="0.695" stop-color="#00ff19"/><stop offset="0.75" stop-color="#00ff77"/><stop offset="0.754" stop-color="#00ff7d"/><stop offset="0.783" stop-color="#00ffa5"/><stop offset="0.833" stop-color="#00ffeb"/><stop offset="0.847" stop-color="#00ffff"/><stop offset="0.915" stop-color="#0094ff"/><stop offset="0.917" stop-color="#0091ff"/><stop offset="0.955" stop-color="#004bff"/><stop offset="0.994" stop-color="#0000ff"/><stop offset="1" stop-color="#0000ff"/></linearGradient>
<linearGradient id="g4" gradientUnits="userSpaceOnUse" x1="520" x2="2209.2" y1="0" y2="0"><stop offset="0" stop-color="#31ff00"/><stop offset="0.033" stop-color="#64ff00"/><stop offset="0.075" stop-color="#7fff00"/><stop offset="0.083" stop-color="#84ff00"/><stop offset="0.167" stop-color="#a3ff00"/><stop offset="0.25" stop-color="#a5ff00"/><stop offset="0.333" stop-color="#89ff00"/><stop offset="0.352" stop-color="#7fff00"/><stop offset="0.394" stop-color="#64ff00"/><stop offset="0.417" stop-color="#42ff00"/><stop offset="0.432" stop-color="#28ff00"/><stop offset="0.459" stop-color="#00ff00"/><stop offset="0.5" stop-color="#00ff00"/><stop offset="0.583" stop-color="#00ff00"/><stop offset="0.667" stop-color="#00ff00"/><stop offset="0.679" stop-color="#00ff00"/><stop offset="0.697" stop-color="#00ff19"/><stop offset="0.75" stop-color="#00ff71"/><stop offset="0.757" stop-color="#00ff7d"/><stop offset="0.787" stop-color="#00ffa5"/><stop offset="0.833" stop-color="#00ffe5"/><stop offset="0.851" stop-color="#00ffff"/><stop offset="0.917" stop-color="#0099ff"/><stop offset="0.92" stop-color="#0094ff"/><stop offset="0.961" stop-color="#004bff"/><stop offset="1" stop-color="#0000ff"/></linearGradient>
<linearGradient id="g5" gradientUnits="userSpaceOnUse" x1="520" x2="2209.2" y1="0" y2="0"><stop offset="0" stop-color="#22ff00"/><stop offset="0.005" stop-color="#28ff00"/><stop offset="0.045" stop-color="#64ff00"/><stop offset="0.083" stop-color="#7bff00"/><stop offset="0.09" stop-color="#7fff00"/><stop offset="0.167" stop-color="#9bff00"/><stop offset="0.25" stop-color="#9eff00"/><stop offset="0.333" stop-color="#84ff00"/><stop offset="0.344" stop-color="#7fff00"/><stop offset="0.389" stop-color="#64ff00"/><stop offset="0.417" stop-color="#3cff00"/><stop offset="0.429" stop-color="#28ff00"/><stop offset="0.457" stop-color="#00ff00"/><stop offset="0.5" stop-color="#00ff00"/><stop offset="0.583" stop-color="#00ff00"/><stop offset="0.667" stop-color="#00ff00"/><stop offset="0.681" stop-color="#00ff00"/><stop offset="0.7" stop-color="#00ff19"/><stop offset="0.75" stop-color="#00ff6b"/><stop offset="0.76" stop-color="#00ff7d"/><stop offset="0.791" stop-color="#00ffa5"/><stop offset="0.833" stop-color="#00ffdf"/><stop offset="0.856" stop-color="#00ffff"/><stop offset="0.917" stop-color="#00a1ff"/><stop offset="0.925" stop-color="#0094ff"/><stop offset="0.966" stop-color="#004bff"/><stop offset="1" stop-color="#000cff"/></linearGradient>
<linearGradient id="g6" gradientUnits="userSpaceOnUse" x1="520" x2="2209.2" y1="0" y2="0"><stop offset="0" stop-color="#15ff00"/><stop offset="0.014" stop-color="#28ff00"/><stop offset="0.057" stop-color="#64ff00"/><stop offset="0.083" stop-color="#74ff00"/><stop offset="0.107" stop-color="#7fff00"/><stop offset="0.167" stop-color="#94ff00"/><stop offset="0.25" stop-color="#98ff00"/><stop offset="0.333" stop-color="#7fff00"/><stop offset="0.334" stop-color="#7fff00"/><stop offset="0.383" stop-color="#64ff00"/><stop offset="0.417" stop-color="#36ff00"/><stop offset="0.426" stop-color="#28ff00"/><stop offset="0.455" stop-color="#00ff00"/><stop offset="0.5" stop-color="#00ff00"/><stop offset="0.583" stop-color="#00ff00"/><stop offset="0.667" stop-color="#00ff00"/><stop offset="0.683" stop-color="#00ff00"/><stop offset="0.703" stop-color="#00ff19"/><stop offset="0.75" stop-color="#00ff65"/><stop offset="0.764" stop-color="#00ff7d"/><stop offset="0.795" stop-color="#00ffa5"/><stop offset="0.833" stop-color="#00ffd9"/><stop offset="0.86" stop-color="#00ffff"/><stop offset="0.917" stop-color="#00a9ff"/><stop offset="0.93" stop-color="#0094ff"/><stop offset="0.971" stop-color="#004bff"/><stop offset="1" stop-color="#0016ff"/></linearGradient>
<linearGradient id="g7" gradientUnits="userSpaceOnUse" x1="520" x2="2209.2" y1="0" y2="0"><stop offset="0" stop-color="#08ff00"/><stop offset="0.024" stop-color="#28ff00"/><stop offset="0.069" stop-color="#64ff00"/><stop offset="0.083" stop-color="#6cff00"/><stop offset="0.124" stop-color="#7fff00"/><stop offset="0.167" stop-color="#8cff00"/><stop offset="0.25" stop-color="#92ff00"/><stop offset="0.323" stop-color="#7fff00"/><stop offset="0.333" stop-color="#7bff00"/><stop offset="0.377" stop-color="#64ff00"/><stop offset="0.417" stop-color="#30ff00"/><stop offset="0.422" stop-color="#28ff00"/><stop offset="0.452" stop-color="#00ff00"/><stop offset="0.5" stop-color="#00ff00"/><stop offset="0.583" stop-color="#00ff00"/><stop offset="0.667" stop-color="#00ff00"/><stop offset="0.686" stop-color="#00ff00"/><stop offset="0.705" stop-color="#00ff19"/><stop offset="0.75" stop-color="#00ff60"/><stop offset="0.767" stop-color="#00ff7d"/><stop offset="0.798" stop-color="#00ffa5"/><stop offset="0.833" stop-color="#00ffd3"/><stop offset="0.865" stop-color="#00ffff"/><stop offset="0.917" stop-color="#00b1ff"/><stop offset="0.935" stop-color="#0094ff"/><stop offset="0.977" stop-color="#004bff"/><stop offset="1" stop-color="#0021ff"/></linearGradient>
<linearGradient id="g8" gradientUnits="userSpaceOnUse" x1="520" x2="2209.2" y1="0" y2="0"><stop offset="0" stop-color="#00ff00"/><stop offset="0.002" stop-color="#00ff00"/><stop offset="0.034" stop-color="#28ff00"/><stop offset="0.082" stop-color="#64ff00"/><stop offset="0.083" stop-color="#65ff00"/><stop offset="0.144" stop-color="#7fff00"/><stop offset="0.167" stop-color="#85ff00"/><stop offset="0.25" stop-color="#8cff00"/><stop offset="0.309" stop-color="#7fff00"/><stop offset="0.333" stop-color="#76ff00"/><stop offset="0.371" stop-color="#64ff00"/><stop offset="0.417" stop-color="#2bff00"/><stop offset="0.418" stop-color="#28ff00"/><stop offset="0.45" stop-color="#00ff00"/><stop offset="0.5" stop-color="#00ff00"/><stop offset="0.583" stop-color="#00ff00"/><stop offset="0.667" stop-color="#00ff00"/><stop offset="0.688" stop-color="#00ff00"/><stop offset="0.708" stop-color="#00ff19"/><stop offset="0.75" stop-color="#00ff5b"/><stop offset="0.771" stop-color="#00ff7d"/><stop offset="0.802" stop-color="#00ffa5"/><stop offset="0.833" stop-color="#00ffcd"/><stop offset="0.869" stop-color="#00ffff"/><stop offset="0.917" stop-color="#00b9ff"/><stop offset="0.94" stop-color="#0094ff"/><stop offset="0.983" stop-color="#004bff"/><stop offset="1" stop-color="#002cff"/></linearGradient>
<linearGradient id="g9" gradientUnits="userSpaceOnUse" x1="520" x2="2209.2" y1="0" y2="0"><stop offset="0" stop-color="#00ff00"/><stop offset="0.011" stop-color="#00ff00"/><stop offset="0.044" stop-color="#28ff00"/><stop offset="0.083" stop-color="#58ff00"/><stop offset="0.095" stop-color="#64ff00"/><stop offset="0.167" stop-color="#7fff00"/><stop offset="0.167" stop-color="#7fff00"/><stop offset="0.25" stop-color="#86ff00"/><stop offset="0.292" stop-color="#7fff00"/><stop offset="0.333" stop-color="#72ff00"/><stop offset="0.364" stop-color="#64ff00"/><stop offset="0.415" stop-color="#28ff00"/><stop offset="0.417" stop-color="#26ff00"/><stop offset="0.448" stop-color="#00ff00"/><stop offset="0.5" stop-color="#00ff00"/><stop offset="0.583" stop-color="#00ff00"/><stop offset="0.667" stop-color="#00ff00"/><stop offset="0.691" stop-color="#00ff00"/><stop offset="0.711" stop-color="#00ff19"/><stop offset="0.75" stop-color="#00ff55"/><stop offset="0.774" stop-color="#00ff7d"/><stop offset="0.806" stop-color="#00ffa5"/><stop offset="0.833" stop-color="#00ffc8"/><stop offset="0.874" stop-color="#00ffff"/><stop offset="0.917" stop-color="#00c1ff"/><stop offset="0.946" stop-color="#0094ff"/><stop offset="0.988" stop-color="#004bff"/><stop offset="1" stop-color="#0036ff"/></linearGradient>
<linearGradient id="g10" gradientUnits="userSpaceOnUse" x1="520" x2="2209.2" y1="0" y2="0"><stop offset="0" stop-color="#00ff00"/><stop offset="0.019" stop-color="#00ff00"/><stop offset="0.053" stop-color="#28ff00"/><stop offset="0.083" stop-color="#4cff00"/><stop offset="0.108" stop-color="#64ff00"/><stop offset="0.167" stop-color="#79ff00"/><stop offset="0.2" stop-color="#7fff00"/><stop offset="0.25" stop-color="#80ff00"/><stop offset="0.264" stop-color="#7fff00"/><stop offset="0.333" stop-color="#6eff00"/><stop offset="0.357" stop-color="#64ff00"/><stop offset="0.411" stop-color="#28ff00"/><stop offset="0.417" stop-color="#21ff00"/><stop offset="0.445" stop-color="#00ff00"/><stop offset="0.5" stop-color="#00ff00"/><stop offset="0.583" stop-color="#00ff00"/><stop offset="0.667" stop-color="#00ff00"/><stop offset="0.693" stop-color="#00ff00"/><stop offset="0.714" stop-color="#00ff19"/><stop offset="0.75" stop-color="#00ff50"/><stop offset="0.778" stop-color="#00ff7d"/><stop offset="0.81" stop-color="#00ffa5"/><stop offset="0.833" stop-color="#00ffc2"/><stop offset="0.878" stop-color="#00ffff"/><stop offset="0.917" stop-color="#00c8ff"/><stop offset="0.951" stop-color="#0094ff"/><stop offset="0.994" stop-color="#004bff"/><stop offset="1" stop-color="#0040ff"/></linearGradient>
<linearGradient id="g11" gradientUnits="userSpaceOnUse" x1="520" x2="2209.2" y1="0" y2="0"><stop offset="0" stop-color="#00ff00"/><stop offset="0.027" stop-color="#00ff00"/><stop offset="0.063" stop-color="#28ff00"/><stop offset="0.083" stop-color="#40ff00"/><stop offset="0.121" stop-color="#64ff00"/><stop offset="0.167" stop-color="#73ff00"/><stop offset="0.25" stop-color="#7bff00"/><stop offset="0.333" stop-color="#6aff00"/><stop offset="0.348" stop-color="#64ff00"/><stop offset="0.406" stop-color="#28ff00"/><stop offset="0.417" stop-color="#1dff00"/><stop offset="0.442" stop-color="#00ff00"/><stop offset="0.5" stop-color="#00ff00"/><stop offset="0.583" stop-color="#00ff00"/><stop offset="0.667" stop-color="#00ff00"/><stop offset="0.696" stop-color="#00ff00"/><stop offset="0.717" stop-color="#00ff19"/><stop offset="0.75" stop-color="#00ff4b"/><stop offset="0.781" stop-color="#00ff7d"/><stop offset="0.814" stop-color="#00ffa5"/><stop offset="0.833" stop-color="#00ffbd"/><stop offset="0.883" stop-color="#00ffff"/><stop offset="0.917" stop-color="#00cfff"/><stop offset="0.956" stop-color="#0094ff"/><stop offset="0.999" stop-color="#004bff"/><stop offset="1" stop-color="#004aff"/></linearGradient>
<linearGradient id="g12" gradientUnits="userSpaceOnUse" x1="520" x2="2209.2" y1="0" y2="0"><stop offset="0" stop-color="#00ff00"/><stop offset="0.034" stop-color="#00ff00"/><stop offset="0.072" stop-color="#28ff00"/><stop offset="0.083" stop-color="#35ff00"/><stop offset="0.135" stop-color="#64ff00"/><stop offset="0.167" stop-color="#6eff00"/><stop offset="0.25" stop-color="#77ff00"/><stop offset="0.333" stop-color="#66ff00"/><stop offset="0.339" stop-color="#64ff00"/><stop offset="0.402" stop-color="#28ff00"/><stop offset="0.417" stop-color="#1aff00"/><stop offset="0.44" stop-color="#00ff00"/><stop offset="0.5" stop-color="#00ff00"/><stop offset="0.583" stop-color="#00ff00"/><stop offset="0.667" stop-color="#00ff00"/><stop offset="0.699" stop-color="#00ff00"/><stop offset="0.719" stop-color="#00ff19"/><stop offset="0.75" stop-color="#00ff46"/><stop offset="0.785" stop-color="#00ff7d"/><stop offset="0.818" stop-color="#00ffa5"/><stop offset="0.833" stop-color="#00ffb8"/><stop offset="0.888" stop-color="#00ffff"/><stop offset="0.917" stop-color="#00d6ff"/><stop offset="0.961" stop-color="#0094ff"/><stop offset="1" stop-color="#0054ff"/></linearGradient>
<linearGradient id="g13" gradientUnits="userSpaceOnUse" x1="520" x2="2209.2" y1="0" y2="0"><stop offset="0" stop-color="#00ff00"/><stop offset="0.042" stop-color="#00ff00"/><stop offset="0.082" stop-color="#28ff00"/><stop offset="0.083" stop-color="#2aff00"/><stop offset="0.151" stop-color="#64ff00"/><stop offset="0.167" stop-color="#69ff00"/><stop offset="0.25" stop-color="#72ff00"/><stop offset="0.329" stop-color="#64ff00"/><stop offset="0.333" stop-color="#61ff00"/><stop offset="0.398" stop-color="#28ff00"/><stop offset="0.417" stop-color="#16ff00"/><stop offset="0.437" stop-color="#00ff00"/><stop offset="0.5" stop-color="#00ff00"/><stop offset="0.583" stop-color="#00ff00"/><stop offset="0.667" stop-color="#00ff00"/><stop offset="0.701" stop-color="#00ff00"/><stop offset="0.722" stop-color="#00ff19"/><stop offset="0.75" stop-color="#00ff41"/><stop offset="0.789" stop-color="#00ff7d"/><stop offset="0.822" stop-color="#00ffa5"/><stop offset="0.833" stop-color="#00ffb3"/><stop offset="0.892" stop-color="#00ffff"/><stop offset="0.917" stop-color="#00ddff"/><stop offset="0.967" stop-color="#0094ff"/><stop offset="1" stop-color="#005dff"/></linearGradient>
<linearGradient id="g14" gradientUnits="userSpaceOnUse" x1="520" x2="2209.2" y1="0" y2="0"><stop offset="0" stop-color="#00ff00"/><stop offset="0.049" stop-color="#00ff00"/><stop offset="0.083" stop-color="#22ff00"/><stop offset="0.091" stop-color="#28ff00"/><stop offset="0.167" stop-color="#64ff00"/><stop offset="0.167" stop-color="#64ff00"/><stop offset="0.25" stop-color="#6eff00"/><stop offset="0.317" stop-color="#64ff00"/><stop offset="0.333" stop-color="#5aff00"/><stop offset="0.393" stop-color="#28ff00"/><stop offset="0.417" stop-color="#12ff00"/><stop offset="0.434" stop-color="#00ff00"/><stop offset="0.5" stop-color="#00ff00"/><stop offset="0.583" stop-color="#00ff00"/><stop offset="0.667" stop-color="#00ff00"/><stop offset="0.704" stop-color="#00ff00"/><stop offset="0.725" stop-color="#00ff19"/><stop offset="0.75" stop-color="#00ff3c"/><stop offset="0.792" stop-color="#00ff7d"/><stop offset="0.826" stop-color="#00ffa5"/><stop offset="0.833" stop-color="#00ffae"/><stop offset="0.897" stop-color="#00ffff"/><stop offset="0.917" stop-color="#00e4ff"/><stop offset="0.972" stop-color="#0094ff"/><stop offset="1" stop-color="#0067ff"/></linearGradient>
<linearGradient id="g15" gradientUnits="userSpaceOnUse" x1="520" x2="2209.2" y1="0" y2="0"><stop offset="0" stop-color="#00ff00"/><stop offset="0.056" stop-color="#00ff00"/><stop offset="0.083" stop-color="#1aff00"/><stop offset="0.1" stop-color="#28ff00"/><stop offset="0.167" stop-color="#5bff00"/><stop offset="0.187" stop-color="#64ff00"/><stop offset="0.25" stop-color="#6aff00"/><stop offset="0.302" stop-color="#64ff00"/><stop offset="0.333" stop-color="#54ff00"/><stop offset="0.388" stop-color="#28ff00"/><stop offset="0.417" stop-color="#0fff00"/><stop offset="0.432" stop-color="#00ff00"/><stop offset="0.5" stop-color="#00ff00"/><stop offset="0.583" stop-color="#00ff00"/><stop offset="0.667" stop-color="#00ff00"/><stop offset="0.707" stop-color="#00ff00"/><stop offset="0.728" stop-color="#00ff19"/><stop offset="0.75" stop-color="#00ff38"/><stop offset="0.796" stop-color="#00ff7d"/><stop offset="0.83" stop-color="#00ffa5"/><stop offset="0.833" stop-color="#00ffa9"/><stop offset="0.902" stop-color="#00ffff"/><stop offset="0.917" stop-color="#00ebff"/><stop offset="0.978" stop-color="#0094ff"/><stop offset="1" stop-color="#0070ff"/></linearGradient>
<linearGradient id="g16" gradientUnits="userSpaceOnUse" x1="520" x2="2209.2" y1="0" y2="0"><stop offset="0" stop-color="#00ff00"/><stop offset="0.063" stop-color="#00ff00"/><stop offset="0.083" stop-color="#13ff00"/><stop offset="0.109" stop-color="#28ff00"/><stop offset="0.167" stop-color="#52ff00"/><stop offset="0.213" stop-color="#64ff00"/><stop offset="0.25" stop-color="#66ff00"/><stop offset="0.28" stop-color="#64ff00"/><stop offset="0.333" stop-color="#4eff00"/><stop offset="0.383" stop-color="#28ff00"/><stop offset="0.417" stop-color="#0cff00"/><stop offset="0.429" stop-color="#00ff00"/><stop offset="0.5" stop-color="#00ff00"/><stop offset="0.583" stop-color="#00ff00"/><stop offset="0.667" stop-color="#00ff00"/><stop offset="0.709" stop-color="#00ff00"/><stop offset="0.731" stop-color="#00ff19"/><stop offset="0.75" stop-color="#00ff33"/><stop offset="0.8" stop-color="#00ff7d"/><stop offset="0.833" stop-color="#00ffa4"/><stop offset="0.834" stop-color="#00ffa5"/><stop offset="0.907" stop-color="#00ffff"/><stop offset="0.917" stop-color="#00f1ff"/><stop offset="0.983" stop-color="#0094ff"/><stop offset="1" stop-color="#0079ff"/></linearGradient>
<linearGradient id="g17" gradientUnits="userSpaceOnUse" x1="520" x2="2209.2" y1="0" y2="0"><stop offset="0" stop-color="#00ff00"/><stop offset="0.069" stop-color="#00ff00"/><stop offset="0.083" stop-color="#0dff00"/><stop offset="0.117" stop-color="#28ff00"/><stop offset="0.167" stop-color="#4bff00"/><stop offset="0.25" stop-color="#61ff00"/><stop offset="0.333" stop-color="#48ff00"/><stop offset="0.378" stop-color="#28ff00"/><stop offset="0.417" stop-color="#09ff00"/><stop offset="0.426" stop-color="#00ff00"/><stop offset="0.5" stop-color="#00ff00"/><stop offset="0.583" stop-color="#00ff00"/><stop offset="0.667" stop-color="#00ff00"/><stop offset="0.712" stop-color="#00ff00"/><stop offset="0.734" stop-color="#00ff19"/><stop offset="0.75" stop-color="#00ff2f"/><stop offset="0.803" stop-color="#00ff7d"/><stop offset="0.833" stop-color="#00ff9f"/><stop offset="0.838" stop-color="#00ffa5"/><stop offset="0.911" stop-color="#00ffff"/><stop offset="0.917" stop-color="#00f8ff"/><stop offset="0.988" stop-color="#0094ff"/><stop offset="1" stop-color="#0082ff"/></linearGradient>
<linearGradient id="g18" gradientUnits="userSpaceOnUse" x1="520" x2="2209.2" y1="0" y2="0"><stop offset="0" stop-color="#00ff00"/><stop offset="0.075" stop-color="#00ff00"/><stop offset="0.083" stop-color="#07ff00"/><stop offset="0.126" stop-color="#28ff00"/><stop offset="0.167" stop-color="#44ff00"/><stop offset="0.25" stop-color="#5aff00"/><stop offset="0.333" stop-color="#43ff00"/><stop offset="0.373" stop-color="#28ff00"/><stop offset="0.417" stop-color="#06ff00"/><stop offset="0.423" stop-color="#00ff00"/><stop offset="0.5" stop-color="#00ff00"/><stop offset="0.583" stop-color="#00ff00"/><stop offset="0.667" stop-color="#00ff00"/><stop offset="0.715" stop-color="#00ff00"/><stop offset="0.737" stop-color="#00ff19"/><stop offset="0.75" stop-color="#00ff2a"/><stop offset="0.807" stop-color="#00ff7d"/><stop offset="0.833" stop-color="#00ff9b"/><stop offset="0.842" stop-color="#00ffa5"/><stop offset="0.916" stop-color="#00ffff"/><stop offset="0.917" stop-color="#00feff"/><stop offset="0.994" stop-color="#0094ff"/><stop offset="1" stop-color="#008aff"/></linearGradient>
<linearGradient id="g19" gradientUnits="userSpaceOnUse" x1="520" x2="2209.2" y1="0" y2="0"><stop offset="0" stop-color="#00ff00"/><stop offset="0.081" stop-color="#00ff00"/><stop offset="0.083" stop-color="#02ff00"/><stop offset="0.134" stop-color="#28ff00"/><stop offset="0.167" stop-color="#3dff00"/><stop offset="0.25" stop-color="#54ff00"/><stop offset="0.333" stop-color="#3eff00"/><stop offset="0.367" stop-color="#28ff00"/><stop offset="0.417" stop-color="#03ff00"/><stop offset="0.42" stop-color="#00ff00"/><stop offset="0.5" stop-color="#00ff00"/><stop offset="0.583" stop-color="#00ff00"/><stop offset="0.667" stop-color="#00ff00"/><stop offset="0.718" stop-color="#00ff00"/><stop offset="0.74" stop-color="#00ff19"/><stop offset="0.75" stop-color="#00ff26"/><stop offset="0.811" stop-color="#00ff7d"/><stop offset="0.833" stop-color="#00ff96"/><stop offset="0.846" stop-color="#00ffa5"/><stop offset="0.917" stop-color="#00fffa"/><stop offset="0.921" stop-color="#00ffff"/><stop offset="0.999" stop-color="#0094ff"/><stop offset="1" stop-color="#0093ff"/></linearGradient>
<linearGradient id="g20" gradientUnits="userSpaceOnUse" x1="520" x2="2209.2" y1="0" y2="0"><stop offset="0" stop-color="#00ff00"/><stop offset="0.083" stop-color="#00ff00"/><stop offset="0.086" stop-color="#00ff00"/><stop offset="0.143" stop-color="#28ff00"/><stop offset="0.167" stop-color="#37ff00"/><stop offset="0.25" stop-color="#4eff00"/><stop offset="0.333" stop-color="#39ff00"/><stop offset="0.362" stop-color="#28ff00"/><stop offset="0.417" stop-color="#01ff00"/><stop offset="0.418" stop-color="#00ff00"/><stop offset="0.5" stop-color="#00ff00"/><stop offset="0.583" stop-color="#00ff00"/><stop offset="0.667" stop-color="#00ff00"/><stop offset="0.72" stop-color="#00ff00"/><stop offset="0.743" stop-color="#00ff19"/><stop offset="0.75" stop-color="#00ff22"/><stop offset="0.815" stop-color="#00ff7d"/><stop offset="0.833" stop-color="#00ff92"/><stop offset="0.85" stop-color="#00ffa5"/><stop offset="0.917" stop-color="#00fff4"/><stop offset="0.926" stop-color="#00ffff"/><stop offset="1" stop-color="#009bff"/></linearGradient>
<linearGradient id="g21" gradientUnits="userSpaceOnUse" x1="520" x2="2209.2" y1="0" y2="0"><stop offset="0" stop-color="#00ff00"/><stop offset="0.083" stop-color="#00ff00"/><stop offset="0.091" stop-color="#00ff00"/><stop offset="0.151" stop-color="#28ff00"/><stop offset="0.167" stop-color="#32ff00"/><stop offset="0.25" stop-color="#49ff00"/><stop offset="0.333" stop-color="#35ff00"/><stop offset="0.356" stop-color="#28ff00"/><stop offset="0.415" stop-color="#00ff00"/><stop offset="0.417" stop-color="#00ff00"/><stop offset="0.5" stop-color="#00ff00"/><stop offset="0.583" stop-color="#00ff00"/><stop offset="0.667" stop-color="#00ff00"/><stop offset="0.723" stop-color="#00ff00"/><stop offset="0.746" stop-color="#00ff19"/><stop offset="0.75" stop-color="#00ff1e"/><stop offset="0.818" stop-color="#00ff7d"/><stop offset="0.833" stop-color="#00ff8d"/><stop offset="0.854" stop-color="#00ffa5"/><stop offset="0.917" stop-color="#00ffee"/><stop offset="0.93" stop-color="#00ffff"/><stop offset="1" stop-color="#00a2ff"/></linearGradient>
<linearGradient id="g22" gradientUnits="userSpaceOnUse" x1="520" x2="2209.2" y1="0" y2="0"><stop offset="0" stop-color="#00ff00"/><stop offset="0.083" stop-color="#00ff00"/><stop offset="0.096" stop-color="#00ff00"/><stop offset="0.158" stop-color="#28ff00"/><stop offset="0.167" stop-color="#2dff00"/><stop offset="0.25" stop-color="#44ff00"/><stop offset="0.333" stop-color="#31ff00"/><stop offset="0.35" stop-color="#28ff00"/><stop offset="0.412" stop-color="#00ff00"/><stop offset="0.417" stop-color="#00ff00"/><stop offset="0.5" stop-color="#00ff00"/><stop offset="0.583" stop-color="#00ff00"/><stop offset="0.667" stop-color="#00ff00"/><stop offset="0.726" stop-color="#00ff00"/><stop offset="0.749" stop-color="#00ff19"/><stop offset="0.75" stop-color="#00ff1a"/><stop offset="0.822" stop-color="#00ff7d"/><stop offset="0.833" stop-color="#00ff89"/><stop offset="0.858" stop-color="#00ffa5"/><stop offset="0.917" stop-color="#00ffe8"/><stop offset="0.935" stop-color="#00ffff"/><stop offset="1" stop-color="#00aaff"/></linearGradient>
<linearGradient id="g23" gradientUnits="userSpaceOnUse" x1="520" x2="2209.2" y1="0" y2="0"><stop offset="0" stop-color="#00ff00"/><stop offset="0.083" stop-color="#00ff00"/><stop offset="0.099" stop-color="#00ff00"/><stop offset="0.166" stop-color="#28ff00"/><stop offset="0.167" stop-color="#28ff00"/><stop offset="0.25" stop-color="#40ff00"/><stop offset="0.333" stop-color="#2dff00"/><stop offset="0.344" stop-color="#28ff00"/><stop offset="0.41" stop-color="#00ff00"/><stop offset="0.417" stop-color="#00ff00"/><stop offset="0.5" stop-color="#00ff00"/><stop offset="0.583" stop-color="#00ff00"/><stop offset="0.667" stop-color="#00ff00"/><stop offset="0.729" stop-color="#00ff00"/><stop offset="0.75" stop-color="#00ff17"/><stop offset="0.752" stop-color="#00ff19"/><stop offset="0.826" stop-color="#00ff7d"/><stop offset="0.833" stop-color="#00ff85"/><stop offset="0.863" stop-color="#00ffa5"/><stop offset="0.917" stop-color="#00ffe3"/><stop offset="0.94" stop-color="#00ffff"/><stop offset="1" stop-color="#00b1ff"/></linearGradient>
<linearGradient id="g24" gradientUnits="userSpaceOnUse" x1="520" x2="2209.2" y1="0" y2="0"><stop offset="0" stop-color="#00ff00"/><stop offset="0.083" stop-color="#00ff00"/><stop offset="0.103" stop-color="#00ff00"/><stop offset="0.167" stop-color="#25ff00"/><stop offset="0.173" stop-color="#28ff00"/><stop offset="0.25" stop-color="#3cff00"/><stop offset="0.333" stop-color="#2aff00"/><stop offset="0.337" stop-color="#28ff00"/><stop offset="0.407" stop-color="#00ff00"/><stop offset="0.417" stop-color="#00ff00"/><stop offset="0.5" stop-color="#00ff00"/><stop offset="0.583" stop-color="#00ff00"/><stop offset="0.667" stop-color="#00ff00"/><stop offset="0.731" stop-color="#00ff00"/><stop offset="0.75" stop-color="#00ff13"/><stop offset="0.755" stop-color="#00ff19"/><stop offset="0.83" stop-color="#00ff7d"/><stop offset="0.833" stop-color="#00ff81"/><stop offset="0.867" stop-color="#00ffa5"/><stop offset="0.917" stop-color="#00ffdd"/><stop offset="0.945" stop-color="#00ffff"/><stop offset="1" stop-color="#00b8ff"/></linearGradient>
<linearGradient id="g25" gradientUnits="userSpaceOnUse" x1="520" x2="2209.2" y1="0" y2="0"><stop offset="0" stop-color="#00ff00"/><stop offset="0.083" stop-color="#00ff00"/><stop offset="0.106" stop-color="#00ff00"/><stop offset="0.167" stop-color="#23ff00"/><stop offset="0.18" stop-color="#28ff00"/><stop offset="0.25" stop-color="#39ff00"/><stop offset="0.331" stop-color="#28ff00"/><stop offset="0.333" stop-color="#27ff00"/><stop offset="0.405" stop-color="#00ff00"/><stop offset="0.417" stop-color="#00ff00"/><stop offset="0.5" stop-color="#00ff00"/><stop offset="0.583" stop-color="#00ff00"/><stop offset="0.667" stop-color="#00ff00"/><stop offset="0.734" stop-color="#00ff00"/><stop offset="0.75" stop-color="#00ff10"/><stop offset="0.758" stop-color="#00ff19"/><stop offset="0.833" stop-color="#00ff7d"/><stop offset="0.833" stop-color="#00ff7d"/><stop offset="0.871" stop-color="#00ffa5"/><stop offset="0.917" stop-color="#00ffd8"/><stop offset="0.949" stop-color="#00ffff"/><stop offset="1" stop-color="#00bfff"/></linearGradient>
<linearGradient id="g26" gradientUnits="userSpaceOnUse" x1="520" x2="2209.2" y1="0" y2="0"><stop offset="0" stop-color="#00ff00"/><stop offset="0.083" stop-color="#00ff00"/><stop offset="0.108" stop-color="#00ff00"/><stop offset="0.167" stop-color="#21ff00"/><stop offset="0.186" stop-color="#28ff00"/><stop offset="0.25" stop-color="#36ff00"/><stop offset="0.325" stop-color="#28ff00"/><stop offset="0.333" stop-color="#25ff00"/><stop offset="0.403" stop-color="#00ff00"/><stop offset="0.417" stop-color="#00ff00"/><stop offset="0.5" stop-color="#00ff00"/><stop offset="0.583" stop-color="#00ff00"/><stop offset="0.667" stop-color="#00ff00"/><stop offset="0.737" stop-color="#00ff00"/><stop offset="0.75" stop-color="#00ff0d"/><stop offset="0.761" stop-color="#00ff19"/><stop offset="0.833" stop-color="#00ff78"/><stop offset="0.837" stop-color="#00ff7d"/><stop offset="0.875" stop-color="#00ffa5"/><stop offset="0.917" stop-color="#00ffd3"/><stop offset="0.954" stop-color="#00ffff"/><stop offset="1" stop-color="#00c6ff"/></linearGradient>
<linearGradient id="g27" gradientUnits="userSpaceOnUse" x1="520" x2="2209.2" y1="0" y2="0"><stop offset="0" stop-color="#00ff00"/><stop offset="0.083" stop-color="#00ff00"/><stop offset="0.109" stop-color="#00ff00"/><stop offset="0.167" stop-color="#1fff00"/><stop offset="0.192" stop-color="#28ff00"/><stop offset="0.25" stop-color="#33ff00"/><stop offset="0.318" stop-color="#28ff00"/><stop offset="0.333" stop-color="#23ff00"/><stop offset="0.401" stop-color="#00ff00"/><stop offset="0.417" stop-color="#00ff00"/><stop offset="0.5" stop-color="#00ff00"/><stop offset="0.583" stop-color="#00ff00"/><stop offset="0.667" stop-color="#00ff00"/><stop offset="0.74" stop-color="#00ff00"/><stop offset="0.75" stop-color="#00ff0a"/><stop offset="0.764" stop-color="#00ff19"/><stop offset="0.833" stop-color="#00ff73"/><stop offset="0.841" stop-color="#00ff7d"/><stop offset="0.879" stop-color="#00ffa5"/><stop offset="0.917" stop-color="#00ffce"/><stop offset="0.959" stop-color="#00ffff"/><stop offset="1" stop-color="#00ccff"/></linearGradient>
<linearGradient id="g28" gradientUnits="userSpaceOnUse" x1="520" x2="2209.2" y1="0" y2="0"><stop offset="0" stop-color="#00ff00"/><stop offset="0.083" stop-color="#00ff00"/><stop offset="0.11" stop-color="#00ff00"/><stop offset="0.167" stop-color="#1eff00"/><stop offset="0.197" stop-color="#28ff00"/><stop offset="0.25" stop-color="#31ff00"/><stop offset="0.313" stop-color="#28ff00"/><stop offset="0.333" stop-color="#22ff00"/><stop offset="0.399" stop-color="#00ff00"/><stop offset="0.417" stop-color="#00ff00"/><stop offset="0.5" stop-color="#00ff00"/><stop offset="0.583" stop-color="#00ff00"/><stop offset="0.667" stop-color="#00ff00"/><stop offset="0.742" stop-color="#00ff00"/><stop offset="0.75" stop-color="#00ff08"/><stop offset="0.767" stop-color="#00ff19"/><stop offset="0.833" stop-color="#00ff6e"/><stop offset="0.844" stop-color="#00ff7d"/><stop offset="0.883" stop-color="#00ffa5"/><stop offset="0.917" stop-color="#00ffc9"/><stop offset="0.964" stop-color="#00ffff"/><stop offset="1" stop-color="#00d3ff"/></linearGradient>
<linearGradient id="g29" gradientUnits="userSpaceOnUse" x1="520" x2="2209.2" y1="0" y2="0"><stop offset="0" stop-color="#00ff00"/><stop offset="0.083" stop-color="#00ff00"/><stop offset="0.11" stop-color="#00ff00"/><stop offset="0.167" stop-color="#1dff00"/><stop offset="0.201" stop-color="#28ff00"/><stop offset="0.25" stop-color="#30ff00"/><stop offset="0.307" stop-color="#28ff00"/><stop offset="0.333" stop-color="#20ff00"/><stop offset="0.397" stop-color="#00ff00"/><stop offset="0.417" stop-color="#00ff00"/><stop offset="0.5" stop-color="#00ff00"/><stop offset="0.583" stop-color="#00ff00"/><stop offset="0.667" stop-color="#00ff00"/><stop offset="0.745" stop-color="#00ff00"/><stop offset="0.75" stop-color="#00ff05"/><stop offset="0.77" stop-color="#00ff19"/><stop offset="0.833" stop-color="#00ff69"/><stop offset="0.848" stop-color="#00ff7d"/><stop offset="0.887" stop-color="#00ffa5"/><stop offset="0.917" stop-color="#00ffc5"/><stop offset="0.968" stop-color="#00ffff"/><stop offset="1" stop-color="#00d9ff"/></linearGradient>
<linearGradient id="g30" gradientUnits="userSpaceOnUse" x1="520" x2="2209.2" y1="0" y2="0"><stop offset="0" stop-color="#00ff00"/><stop offset="0.083" stop-color="#00ff00"/><stop offset="0.109" stop-color="#00ff00"/><stop offset="0.167" stop-color="#1dff00"/><stop offset="0.203" stop-color="#28ff00"/><stop offset="0.25" stop-color="#2fff00"/><stop offset="0.303" stop-color="#28ff00"/><stop offset="0.333" stop-color="#1fff00"/><stop offset="0.396" stop-color="#00ff00"/><stop offset="0.417" stop-color="#00ff00"/><stop offset="0.5" stop-color="#00ff00"/><stop offset="0.583" stop-color="#00ff00"/><stop offset="0.667" stop-color="#00ff00"/><stop offset="0.748" stop-color="#00ff00"/><stop offset="0.75" stop-color="#00ff02"/><stop offset="0.773" stop-color="#00ff19"/><stop offset="0.833" stop-color="#00ff65"/><stop offset="0.852" stop-color="#00ff7d"/><stop offset="0.891" stop-color="#00ffa5"/><stop offset="0.917" stop-color="#00ffc0"/><stop offset="0.973" stop-color="#00ffff"/><stop offset="1" stop-color="#00dfff"/></linearGradient>
<linearGradient id="g31" gradientUnits="userSpaceOnUse" x1="520" x2="2209.2" y1="0" y2="0"><stop offset="0" stop-color="#00ff00"/><stop offset="0.083" stop-color="#00ff00"/><stop offset="0.107" stop-color="#00ff00"/><stop offset="0.167" stop-color="#1dff00"/><stop offset="0.204" stop-color="#28ff00"/><stop offset="0.25" stop-color="#2eff00"/><stop offset="0.299" stop-color="#28ff00"/><stop offset="0.333" stop-color="#1eff00"/><stop offset="0.395" stop-color="#00ff00"/><stop offset="0.417" stop-color="#00ff00"/><stop offset="0.5" stop-color="#00ff00"/><stop offset="0.583" stop-color="#00ff00"/><stop offset="0.667" stop-color="#00ff00"/><stop offset="0.75" stop-color="#00ff00"/><stop offset="0.75" stop-color="#00ff00"/><stop offset="0.776" stop-color="#00ff19"/><stop offset="0.833" stop-color="#00ff60"/><stop offset="0.855" stop-color="#00ff7d"/><stop offset="0.895" stop-color="#00ffa5"/><stop offset="0.917" stop-color="#00ffbc"/><stop offset="0.978" stop-color="#00ffff"/><stop offset="1" stop-color="#00e5ff"/></linearGradient>
<linearGradient id="g32" gradientUnits="userSpaceOnUse" x1="520" x2="2209.2" y1="0" y2="0"><stop offset="0" stop-color="#00ff00"/><stop offset="0.083" stop-color="#00ff00"/><stop offset="0.104" stop-color="#00ff00"/><stop offset="0.167" stop-color="#1eff00"/><stop offset="0.202" stop-color="#28ff00"/><stop offset="0.25" stop-color="#2eff00"/><stop offset="0.297" stop-color="#28ff00"/><stop offset="0.333" stop-color="#1eff00"/><stop offset="0.395" stop-color="#00ff00"/><stop offset="0.417" stop-color="#00ff00"/><stop offset="0.5" stop-color="#00ff00"/><stop offset="0.583" stop-color="#00ff00"/><stop offset="0.667" stop-color="#00ff00"/><stop offset="0.75" stop-color="#00ff00"/><stop offset="0.753" stop-color="#00ff00"/><stop offset="0.779" stop-color="#00ff19"/><stop offset="0.833" stop-color="#00ff5c"/><stop offset="0.859" stop-color="#00ff7d"/><stop offset="0.898" stop-color="#00ffa5"/><stop offset="0.917" stop-color="#00ffb8"/><stop offset="0.982" stop-color="#00ffff"/><stop offset="1" stop-color="#00eaff"/></linearGradient>
<linearGradient id="g33" gradientUnits="userSpaceOnUse" x1="520" x2="2209.2" y1="0" y2="0"><stop offset="0" stop-color="#00ff00"/><stop offset="0.083" stop-color="#00ff00"/><stop offset="0.1" stop-color="#00ff00"/><stop offset="0.167" stop-color="#1fff00"/><stop offset="0.198" stop-color="#28ff00"/><stop offset="0.25" stop-color="#2eff00"/><stop offset="0.297" stop-color="#28ff00"/><stop offset="0.333" stop-color="#1eff00"/><stop offset="0.394" stop-color="#00ff00"/><stop offset="0.417" stop-color="#00ff00"/><stop offset="0.5" stop-color="#00ff00"/><stop offset="0.583" stop-color="#00ff00"/><stop offset="0.667" stop-color="#00ff00"/><stop offset="0.75" stop-color="#00ff00"/><stop offset="0.756" stop-color="#00ff00"/><stop offset="0.781" stop-color="#00ff19"/><stop offset="0.833" stop-color="#00ff58"/><stop offset="0.862" stop-color="#00ff7d"/><stop offset="0.902" stop-color="#00ffa5"/><stop offset="0.917" stop-color="#00ffb4"/><stop offset="0.987" stop-color="#00ffff"/><stop offset="1" stop-color="#00f0ff"/></linearGradient>
<linearGradient id="g34" gradientUnits="userSpaceOnUse" x1="520" x2="2209.2" y1="0" y2="0"><stop offset="0" stop-color="#00ff00"/><stop offset="0.083" stop-color="#00ff00"/><stop offset="0.096" stop-color="#00ff00"/><stop offset="0.167" stop-color="#21ff00"/><stop offset="0.192" stop-color="#28ff00"/><stop offset="0.25" stop-color="#2fff00"/><stop offset="0.298" stop-color="#28ff00"/><stop offset="0.333" stop-color="#1eff00"/><stop offset="0.394" stop-color="#00ff00"/><stop offset="0.417" stop-color="#00ff00"/><stop offset="0.5" stop-color="#00ff00"/><stop offset="0.583" stop-color="#00ff00"/><stop offset="0.667" stop-color="#00ff00"/><stop offset="0.75" stop-color="#00ff00"/><stop offset="0.758" stop-color="#00ff00"/><stop offset="0.784" stop-color="#00ff19"/><stop offset="0.833" stop-color="#00ff54"/><stop offset="0.866" stop-color="#00ff7d"/><stop offset="0.906" stop-color="#00ffa5"/><stop offset="0.917" stop-color="#00ffb0"/><stop offset="0.991" stop-color="#00ffff"/><stop offset="1" stop-color="#00f5ff"/></linearGradient>
<linearGradient id="g35" gradientUnits="userSpaceOnUse" x1="520" x2="2209.2" y1="0" y2="0"><stop offset="0" stop-color="#00ff00"/><stop offset="0.083" stop-color="#00ff00"/><stop offset="0.09" stop-color="#00ff00"/><stop offset="0.167" stop-color="#23ff00"/><stop offset="0.184" stop-color="#28ff00"/><stop offset="0.25" stop-color="#30ff00"/><stop offset="0.301" stop-color="#28ff00"/><stop offset="0.333" stop-color="#1eff00"/><stop offset="0.395" stop-color="#00ff00"/><stop offset="0.417" stop-color="#00ff00"/><stop offset="0.5" stop-color="#00ff00"/><stop offset="0.583" stop-color="#00ff00"/><stop offset="0.667" stop-color="#00ff00"/><stop offset="0.75" stop-color="#00ff00"/><stop offset="0.761" stop-color="#00ff00"/><stop offset="0.787" stop-color="#00ff19"/><stop offset="0.833" stop-color="#00ff50"/><stop offset="0.869" stop-color="#00ff7d"/><stop offset="0.91" stop-color="#00ffa5"/><stop offset="0.917" stop-color="#00ffac"/><stop offset="0.996" stop-color="#00ffff"/><stop offset="1" stop-color="#00faff"/></linearGradient>
<linearGradient id="g36" gradientUnits="userSpaceOnUse" x1="520" x2="2209.2" y1="0" y2="0"><stop offset="0" stop-color="#00ff00"/><stop offset="0.082" stop-color="#00ff00"/><stop offset="0.083" stop-color="#01ff00"/><stop offset="0.167" stop-color="#26ff00"/><stop offset="0.174" stop-color="#28ff00"/><stop offset="0.25" stop-color="#32ff00"/><stop offset="0.304" stop-color="#28ff00"/><stop offset="0.333" stop-color="#1fff00"/><stop offset="0.395" stop-color="#00ff00"/><stop offset="0.417" stop-color="#00ff00"/><stop offset="0.5" stop-color="#00ff00"/><stop offset="0.583" stop-color="#00ff00"/><stop offset="0.667" stop-color="#00ff00"/><stop offset="0.75" stop-color="#00ff00"/><stop offset="0.763" stop-color="#00ff00"/><stop offset="0.79" stop-color="#00ff19"/><stop offset="0.833" stop-color="#00ff4c"/><stop offset="0.872" stop-color="#00ff7d"/><stop offset="0.913" stop-color="#00ffa5"/><stop offset="0.917" stop-color="#00ffa8"/><stop offset="1" stop-color="#00ffff"/></linearGradient>
<linearGradient id="g37" gradientUnits="userSpaceOnUse" x1="520" x2="2209.2" y1="0" y2="0"><stop offset="0" stop-color="#00ff00"/><stop offset="0.074" stop-color="#00ff00"/><stop offset="0.083" stop-color="#06ff00"/><stop offset="0.163" stop-color="#28ff00"/><stop offset="0.167" stop-color="#29ff00"/><stop offset="0.25" stop-color="#34ff00"/><stop offset="0.308" stop-color="#28ff00"/><stop offset="0.333" stop-color="#20ff00"/><stop offset="0.396" stop-color="#00ff00"/><stop offset="0.417" stop-color="#00ff00"/><stop offset="0.5" stop-color="#00ff00"/><stop offset="0.583" stop-color="#00ff00"/><stop offset="0.667" stop-color="#00ff00"/><stop offset="0.75" stop-color="#00ff00"/><stop offset="0.766" stop-color="#00ff00"/><stop offset="0.792" stop-color="#00ff19"/><stop offset="0.833" stop-color="#00ff49"/><stop offset="0.876" stop-color="#00ff7d"/><stop offset="0.917" stop-color="#00ffa5"/><stop offset="0.917" stop-color="#00ffa5"/><stop offset="1" stop-color="#00fffa"/></linearGradient>
<linearGradient id="g38" gradientUnits="userSpaceOnUse" x1="520" x2="2209.2" y1="0" y2="0"><stop offset="0" stop-color="#00ff00"/><stop offset="0.065" stop-color="#00ff00"/><stop offset="0.083" stop-color="#0bff00"/><stop offset="0.15" stop-color="#28ff00"/><stop offset="0.167" stop-color="#2eff00"/><stop offset="0.25" stop-color="#37ff00"/><stop offset="0.313" stop-color="#28ff00"/><stop offset="0.333" stop-color="#21ff00"/><stop offset="0.398" stop-color="#00ff00"/><stop offset="0.417" stop-color="#00ff00"/><stop offset="0.5" stop-color="#00ff00"/><stop offset="0.583" stop-color="#00ff00"/><stop offset="0.667" stop-color="#00ff00"/><stop offset="0.75" stop-color="#00ff00"/><stop offset="0.768" stop-color="#00ff00"/><stop offset="0.795" stop-color="#00ff19"/><stop offset="0.833" stop-color="#00ff45"/><stop offset="0.879" stop-color="#00ff7d"/><stop offset="0.917" stop-color="#00ffa1"/><stop offset="0.921" stop-color="#00ffa5"/><stop offset="1" stop-color="#00fff6"/></linearGradient>
<linearGradient id="g39" gradientUnits="userSpaceOnUse" x1="520" x2="2209.2" y1="0" y2="0"><stop offset="0" stop-color="#00ff00"/><stop offset="0.054" stop-color="#00ff00"/><stop offset="0.083" stop-color="#11ff00"/><stop offset="0.135" stop-color="#28ff00"/><stop offset="0.167" stop-color="#33ff00"/><stop offset="0.25" stop-color="#3aff00"/><stop offset="0.318" stop-color="#28ff00"/><stop offset="0.333" stop-color="#22ff00"/><stop offset="0.399" stop-color="#00ff00"/><stop offset="0.417" stop-color="#00ff00"/><stop offset="0.5" stop-color="#00ff00"/><stop offset="0.583" stop-color="#00ff00"/><stop offset="0.667" stop-color="#00ff00"/><stop offset="0.75" stop-color="#00ff00"/><stop offset="0.77" stop-color="#00ff00"/><stop offset="0.797" stop-color="#00ff19"/><stop offset="0.833" stop-color="#00ff42"/><stop offset="0.882" stop-color="#00ff7d"/><stop offset="0.917" stop-color="#00ff9e"/><stop offset="0.924" stop-color="#00ffa5"/><stop offset="1" stop-color="#00fff1"/></linearGradient>
<linearGradient id="g40" gradientUnits="userSpaceOnUse" x1="520" x2="2209.2" y1="0" y2="0"><stop offset="0" stop-color="#00ff00"/><stop offset="0.042" stop-color="#00ff00"/><stop offset="0.083" stop-color="#18ff00"/><stop offset="0.12" stop-color="#28ff00"/><stop offset="0.167" stop-color="#38ff00"/><stop offset="0.25" stop-color="#3eff00"/><stop offset="0.324" stop-color="#28ff00"/><stop offset="0.333" stop-color="#24ff00"/><stop offset="0.401" stop-color="#00ff00"/><stop offset="0.417" stop-color="#00ff00"/><stop offset="0.5" stop-color="#00ff00"/><stop offset="0.583" stop-color="#00ff00"/><stop offset="0.667" stop-color="#00ff00"/><stop offset="0.75" stop-color="#00ff00"/><stop offset="0.772" stop-color="#00ff00"/><stop offset="0.8" stop-color="#00ff19"/><stop offset="0.833" stop-color="#00ff3f"/><stop offset="0.885" stop-color="#00ff7d"/><stop offset="0.917" stop-color="#00ff9b"/><stop offset="0.927" stop-color="#00ffa5"/><stop offset="1" stop-color="#00ffed"/></linearGradient>
<linearGradient id="g41" gradientUnits="userSpaceOnUse" x1="520" x2="2209.2" y1="0" y2="0"><stop offset="0" stop-color="#00ff00"/><stop offset="0.028" stop-color="#00ff00"/><stop offset="0.083" stop-color="#1fff00"/><stop offset="0.103" stop-color="#28ff00"/><stop offset="0.167" stop-color="#3fff00"/><stop offset="0.25" stop-color="#42ff00"/><stop offset="0.329" stop-color="#28ff00"/><stop offset="0.333" stop-color="#26ff00"/><stop offset="0.404" stop-color="#00ff00"/><stop offset="0.417" stop-color="#00ff00"/><stop offset="0.5" stop-color="#00ff00"/><stop offset="0.583" stop-color="#00ff00"/><stop offset="0.667" stop-color="#00ff00"/><stop offset="0.75" stop-color="#00ff00"/><stop offset="0.774" stop-color="#00ff00"/><stop offset="0.802" stop-color="#00ff19"/><stop offset="0.833" stop-color="#00ff3c"/><stop offset="0.888" stop-color="#00ff7d"/><stop offset="0.917" stop-color="#00ff98"/><stop offset="0.931" stop-color="#00ffa5"/><stop offset="1" stop-color="#00ffe9"/></linearGradient>
<linearGradient id="g42" gradientUnits="userSpaceOnUse" x1="520" x2="2209.2" y1="0" y2="0"><stop offset="0" stop-color="#00ff00"/><stop offset="0.013" stop-color="#00ff00"/><stop offset="0.083" stop-color="#27ff00"/><stop offset="0.085" stop-color="#28ff00"/><stop offset="0.167" stop-color="#46ff00"/><stop offset="0.25" stop-color="#46ff00"/><stop offset="0.333" stop-color="#29ff00"/><stop offset="0.335" stop-color="#28ff00"/><stop offset="0.406" stop-color="#00ff00"/><stop offset="0.417" stop-color="#00ff00"/><stop offset="0.5" stop-color="#00ff00"/><stop offset="0.583" stop-color="#00ff00"/><stop offset="0.667" stop-color="#00ff00"/><stop offset="0.75" stop-color="#00ff00"/><stop offset="0.777" stop-color="#00ff00"/><stop offset="0.804" stop-color="#00ff19"/><stop offset="0.833" stop-color="#00ff39"/><stop offset="0.891" stop-color="#00ff7d"/><stop offset="0.917" stop-color="#00ff95"/><stop offset="0.934" stop-color="#00ffa5"/><stop offset="1" stop-color="#00ffe5"/></linearGradient>
<linearGradient id="g43" gradientUnits="userSpaceOnUse" x1="520" x2="2209.2" y1="0" y2="0"><stop offset="0" stop-color="#02ff00"/><stop offset="0.066" stop-color="#28ff00"/><stop offset="0.083" stop-color="#32ff00"/><stop offset="0.167" stop-color="#4dff00"/><stop offset="0.25" stop-color="#4bff00"/><stop offset="0.333" stop-color="#2cff00"/><stop offset="0.34" stop-color="#28ff00"/><stop offset="0.409" stop-color="#00ff00"/><stop offset="0.417" stop-color="#00ff00"/><stop offset="0.5" stop-color="#00ff00"/><stop offset="0.583" stop-color="#00ff00"/><stop offset="0.667" stop-color="#00ff00"/><stop offset="0.75" stop-color="#00ff00"/><stop offset="0.779" stop-color="#00ff00"/><stop offset="0.806" stop-color="#00ff19"/><stop offset="0.833" stop-color="#00ff36"/><stop offset="0.894" stop-color="#00ff7d"/><stop offset="0.917" stop-color="#00ff92"/><stop offset="0.937" stop-color="#00ffa5"/><stop offset="1" stop-color="#00ffe1"/></linearGradient>
<linearGradient id="g44" gradientUnits="userSpaceOnUse" x1="520" x2="2209.2" y1="0" y2="0"><stop offset="0" stop-color="#0eff00"/><stop offset="0.045" stop-color="#28ff00"/><stop offset="0.083" stop-color="#3dff00"/><stop offset="0.167" stop-color="#55ff00"/><stop offset="0.25" stop-color="#51ff00"/><stop offset="0.333" stop-color="#30ff00"/><stop offset="0.346" stop-color="#28ff00"/><stop offset="0.411" stop-color="#00ff00"/><stop offset="0.417" stop-color="#00ff00"/><stop offset="0.5" stop-color="#00ff00"/><stop offset="0.583" stop-color="#00ff00"/><stop offset="0.667" stop-color="#00ff00"/><stop offset="0.75" stop-color="#00ff00"/><stop offset="0.78" stop-color="#00ff00"/><stop offset="0.808" stop-color="#00ff19"/><stop offset="0.833" stop-color="#00ff34"/><stop offset="0.896" stop-color="#00ff7d"/><stop offset="0.917" stop-color="#00ff8f"/><stop offset="0.94" stop-color="#00ffa5"/><stop offset="1" stop-color="#00ffde"/></linearGradient>
<linearGradient id="g45" gradientUnits="userSpaceOnUse" x1="520" x2="2209.2" y1="0" y2="0"><stop offset="0" stop-color="#1bff00"/><stop offset="0.023" stop-color="#28ff00"/><stop offset="0.083" stop-color="#49ff00"/><stop offset="0.167" stop-color="#5dff00"/><stop offset="0.25" stop-color="#57ff00"/><stop offset="0.333" stop-color="#34ff00"/><stop offset="0.352" stop-color="#28ff00"/><stop offset="0.414" stop-color="#00ff00"/><stop offset="0.417" stop-color="#00ff00"/><stop offset="0.5" stop-color="#00ff00"/><stop offset="0.583" stop-color="#00ff00"/><stop offset="0.667" stop-color="#00ff00"/><stop offset="0.75" stop-color="#00ff00"/><stop offset="0.782" stop-color="#00ff00"/><stop offset="0.81" stop-color="#00ff19"/><stop offset="0.833" stop-color="#00ff32"/><stop offset="0.899" stop-color="#00ff7d"/><stop offset="0.917" stop-color="#00ff8d"/><stop offset="0.943" stop-color="#00ffa5"/><stop offset="1" stop-color="#00ffdb"/></linearGradient>
<linearGradient id="g46" gradientUnits="userSpaceOnUse" x1="520" x2="2209.2" y1="0" y2="0"><stop offset="0" stop-color="#29ff00"/><stop offset="0.083" stop-color="#55ff00"/><stop offset="0.14" stop-color="#64ff00"/><stop offset="0.167" stop-color="#65ff00"/><stop offset="0.217" stop-color="#64ff00"/><stop offset="0.25" stop-color="#5dff00"/><stop offset="0.333" stop-color="#38ff00"/><stop offset="0.357" stop-color="#28ff00"/><stop offset="0.417" stop-color="#01ff00"/><stop offset="0.417" stop-color="#00ff00"/><stop offset="0.5" stop-color="#00ff00"/><stop offset="0.583" stop-color="#00ff00"/><stop offset="0.667" stop-color="#00ff00"/><stop offset="0.75" stop-color="#00ff00"/><stop offset="0.784" stop-color="#00ff00"/><stop offset="0.812" stop-color="#00ff19"/><stop offset="0.833" stop-color="#00ff2f"/><stop offset="0.901" stop-color="#00ff7d"/><stop offset="0.917" stop-color="#00ff8a"/><stop offset="0.946" stop-color="#00ffa5"/><stop offset="1" stop-color="#00ffd7"/></linearGradient>
<linearGradient id="g47" gradientUnits="userSpaceOnUse" x1="520" x2="2209.2" y1="0" y2="0"><stop offset="0" stop-color="#3aff00"/><stop offset="0.083" stop-color="#62ff00"/><stop offset="0.088" stop-color="#64ff00"/><stop offset="0.167" stop-color="#6aff00"/><stop offset="0.25" stop-color="#64ff00"/><stop offset="0.25" stop-color="#64ff00"/><stop offset="0.333" stop-color="#3dff00"/><stop offset="0.363" stop-color="#28ff00"/><stop offset="0.417" stop-color="#03ff00"/><stop offset="0.421" stop-color="#00ff00"/><stop offset="0.5" stop-color="#00ff00"/><stop offset="0.583" stop-color="#00ff00"/><stop offset="0.667" stop-color="#00ff00"/><stop offset="0.75" stop-color="#00ff00"/><stop offset="0.786" stop-color="#00ff00"/><stop offset="0.814" stop-color="#00ff19"/><stop offset="0.833" stop-color="#00ff2d"/><stop offset="0.904" stop-color="#00ff7d"/><stop offset="0.917" stop-color="#00ff88"/><stop offset="0.949" stop-color="#00ffa5"/><stop offset="1" stop-color="#00ffd4"/></linearGradient>
<linearGradient id="g48" gradientUnits="userSpaceOnUse" x1="520" x2="2209.2" y1="0" y2="0"><stop offset="0" stop-color="#4cff00"/><stop offset="0.047" stop-color="#64ff00"/><stop offset="0.083" stop-color="#6aff00"/><stop offset="0.167" stop-color="#70ff00"/><stop offset="0.25" stop-color="#68ff00"/><stop offset="0.269" stop-color="#64ff00"/><stop offset="0.333" stop-color="#42ff00"/><stop offset="0.369" stop-color="#28ff00"/><stop offset="0.417" stop-color="#06ff00"/><stop offset="0.424" stop-color="#00ff00"/><stop offset="0.5" stop-color="#00ff00"/><stop offset="0.583" stop-color="#00ff00"/><stop offset="0.667" stop-color="#00ff00"/><stop offset="0.75" stop-color="#00ff00"/><stop offset="0.787" stop-color="#00ff00"/><stop offset="0.816" stop-color="#00ff19"/><stop offset="0.833" stop-color="#00ff2b"/><stop offset="0.906" stop-color="#00ff7d"/><stop offset="0.917" stop-color="#00ff86"/><stop offset="0.951" stop-color="#00ffa5"/><stop offset="1" stop-color="#00ffd2"/></linearGradient>
<linearGradient id="g49" gradientUnits="userSpaceOnUse" x1="520" x2="2209.2" y1="0" y2="0"><stop offset="0" stop-color="#60ff00"/><stop offset="0.009" stop-color="#64ff00"/><stop offset="0.083" stop-color="#72ff00"/><stop offset="0.167" stop-color="#75ff00"/><stop offset="0.25" stop-color="#6cff00"/><stop offset="0.284" stop-color="#64ff00"/><stop offset="0.333" stop-color="#47ff00"/><stop offset="0.374" stop-color="#28ff00"/><stop offset="0.417" stop-color="#09ff00"/><stop offset="0.427" stop-color="#00ff00"/><stop offset="0.5" stop-color="#00ff00"/><stop offset="0.583" stop-color="#00ff00"/><stop offset="0.667" stop-color="#00ff00"/><stop offset="0.75" stop-color="#00ff00"/><stop offset="0.789" stop-color="#00ff00"/><stop offset="0.817" stop-color="#00ff19"/><stop offset="0.833" stop-color="#00ff2a"/><stop offset="0.908" stop-color="#00ff7d"/><stop offset="0.917" stop-color="#00ff84"/><stop offset="0.954" stop-color="#00ffa5"/><stop offset="1" stop-color="#00ffcf"/></linearGradient>
<linearGradient id="g50" gradientUnits="userSpaceOnUse" x1="520" x2="2209.2" y1="0" y2="0"><stop offset="0" stop-color="#6cff00"/><stop offset="0.083" stop-color="#7aff00"/><stop offset="0.167" stop-color="#7bff00"/><stop offset="0.25" stop-color="#70ff00"/><stop offset="0.297" stop-color="#64ff00"/><stop offset="0.333" stop-color="#4dff00"/><stop offset="0.38" stop-color="#28ff00"/><stop offset="0.417" stop-color="#0cff00"/><stop offset="0.431" stop-color="#00ff00"/><stop offset="0.5" stop-color="#00ff00"/><stop offset="0.583" stop-color="#00ff00"/><stop offset="0.667" stop-color="#00ff00"/><stop offset="0.75" stop-color="#00ff00"/><stop offset="0.79" stop-color="#00ff00"/><stop offset="0.819" stop-color="#00ff19"/><stop offset="0.833" stop-color="#00ff28"/><stop offset="0.91" stop-color="#00ff7d"/><stop offset="0.917" stop-color="#00ff83"/><stop offset="0.956" stop-color="#00ffa5"/><stop offset="1" stop-color="#00ffcc"/></linearGradient>
<linearGradient id="g51" gradientUnits="userSpaceOnUse" x1="520" x2="2209.2" y1="0" y2="0"><stop offset="0" stop-color="#77ff00"/><stop offset="0.051" stop-color="#7fff00"/><stop offset="0.083" stop-color="#82ff00"/><stop offset="0.167" stop-color="#81ff00"/><stop offset="0.189" stop-color="#7fff00"/><stop offset="0.25" stop-color="#74ff00"/><stop offset="0.308" stop-color="#64ff00"/><stop offset="0.333" stop-color="#53ff00"/><stop offset="0.385" stop-color="#28ff00"/><stop offset="0.417" stop-color="#0fff00"/><stop offset="0.434" stop-color="#00ff00"/><stop offset="0.5" stop-color="#00ff00"/><stop offset="0.583" stop-color="#00ff00"/><stop offset="0.667" stop-color="#00ff00"/><stop offset="0.75" stop-color="#00ff00"/><stop offset="0.791" stop-color="#00ff00"/><stop offset="0.82" stop-color="#00ff19"/><stop offset="0.833" stop-color="#00ff27"/><stop offset="0.912" stop-color="#00ff7d"/><stop offset="0.917" stop-color="#00ff81"/><stop offset="0.958" stop-color="#00ffa5"/><stop offset="1" stop-color="#00ffca"/></linearGradient>
<linearGradient id="g52" gradientUnits="userSpaceOnUse" x1="520" x2="2209.2" y1="0" y2="0"><stop offset="0" stop-color="#82ff00"/><stop offset="0.083" stop-color="#8bff00"/><stop offset="0.167" stop-color="#88ff00"/><stop offset="0.224" stop-color="#7fff00"/><stop offset="0.25" stop-color="#79ff00"/><stop offset="0.319" stop-color="#64ff00"/><stop offset="0.333" stop-color="#59ff00"/><stop offset="0.39" stop-color="#28ff00"/><stop offset="0.417" stop-color="#12ff00"/><stop offset="0.438" stop-color="#00ff00"/><stop offset="0.5" stop-color="#00ff00"/><stop offset="0.583" stop-color="#00ff00"/><stop offset="0.667" stop-color="#00ff00"/><stop offset="0.75" stop-color="#00ff00"/><stop offset="0.792" stop-color="#00ff00"/><stop offset="0.821" stop-color="#00ff19"/><stop offset="0.833" stop-color="#00ff25"/><stop offset="0.914" stop-color="#00ff7d"/><stop offset="0.917" stop-color="#00ff7f"/><stop offset="0.96" stop-color="#00ffa5"/><stop offset="1" stop-color="#00ffc8"/></linearGradient>
<linearGradient id="g53" gradientUnits="userSpaceOnUse" x1="520" x2="2209.2" y1="0" y2="0"><stop offset="0" stop-color="#8eff00"/><stop offset="0.083" stop-color="#95ff00"/><stop offset="0.167" stop-color="#8fff00"/><stop offset="0.247" stop-color="#7fff00"/><stop offset="0.25" stop-color="#7eff00"/><stop offset="0.328" stop-color="#64ff00"/><stop offset="0.333" stop-color="#60ff00"/><stop offset="0.395" stop-color="#28ff00"/><stop offset="0.417" stop-color="#16ff00"/><stop offset="0.441" stop-color="#00ff00"/><stop offset="0.5" stop-color="#00ff00"/><stop offset="0.583" stop-color="#00ff00"/><stop offset="0.667" stop-color="#00ff00"/><stop offset="0.75" stop-color="#00ff00"/><stop offset="0.793" stop-color="#00ff00"/><stop offset="0.822" stop-color="#00ff19"/><stop offset="0.833" stop-color="#00ff24"/><stop offset="0.915" stop-color="#00ff7d"/><stop offset="0.917" stop-color="#00ff7e"/><stop offset="0.962" stop-color="#00ffa5"/><stop offset="1" stop-color="#00ffc6"/></linearGradient>
<linearGradient id="g54" gradientUnits="userSpaceOnUse" x1="520" x2="2209.2" y1="0" y2="0"><stop offset="0" stop-color="#9aff00"/><stop offset="0.083" stop-color="#9eff00"/><stop offset="0.167" stop-color="#97ff00"/><stop offset="0.25" stop-color="#83ff00"/><stop offset="0.264" stop-color="#7fff00"/><stop offset="0.333" stop-color="#66ff00"/><stop offset="0.337" stop-color="#64ff00"/><stop offset="0.4" stop-color="#28ff00"/><stop offset="0.417" stop-color="#1aff00"/><stop offset="0.445" stop-color="#00ff00"/><stop offset="0.5" stop-color="#00ff00"/><stop offset="0.583" stop-color="#00ff00"/><stop offset="0.667" stop-color="#00ff00"/><stop offset="0.75" stop-color="#00ff00"/><stop offset="0.794" stop-color="#00ff00"/><stop offset="0.823" stop-color="#00ff19"/><stop offset="0.833" stop-color="#00ff23"/><stop offset="0.917" stop-color="#00ff7d"/><stop offset="0.917" stop-color="#00ff7d"/><stop offset="0.964" stop-color="#00ffa5"/><stop offset="1" stop-color="#00ffc4"/></linearGradient>
<linearGradient id="g55" gradientUnits="userSpaceOnUse" x1="520" x2="2209.2" y1="0" y2="0"><stop offset="0" stop-color="#a7ff00"/><stop offset="0.083" stop-color="#a8ff00"/><stop offset="0.167" stop-color="#9fff00"/><stop offset="0.25" stop-color="#89ff00"/><stop offset="0.279" stop-color="#7fff00"/><stop offset="0.333" stop-color="#69ff00"/><stop offset="0.345" stop-color="#64ff00"/><stop offset="0.405" stop-color="#28ff00"/><stop offset="0.417" stop-color="#1eff00"/><stop offset="0.448" stop-color="#00ff00"/><stop offset="0.5" stop-color="#00ff00"/><stop offset="0.583" stop-color="#00ff00"/><stop offset="0.667" stop-color="#00ff00"/><stop offset="0.75" stop-color="#00ff00"/><stop offset="0.795" stop-color="#00ff00"/><stop offset="0.824" stop-color="#00ff19"/><stop offset="0.833" stop-color="#00ff22"/><stop offset="0.917" stop-color="#00ff7b"/><stop offset="0.918" stop-color="#00ff7d"/><stop offset="0.965" stop-color="#00ffa5"/><stop offset="1" stop-color="#00ffc3"/></linearGradient>
<linearGradient id="g56" gradientUnits="userSpaceOnUse" x1="520" x2="2209.2" y1="0" y2="0"><stop offset="0" stop-color="#b4ff00"/><stop offset="0.083" stop-color="#b3ff00"/><stop offset="0.167" stop-color="#a7ff00"/><stop offset="0.25" stop-color="#8fff00"/><stop offset="0.292" stop-color="#7fff00"/><stop offset="0.333" stop-color="#6dff00"/><stop offset="0.353" stop-color="#64ff00"/><stop offset="0.41" stop-color="#28ff00"/><stop offset="0.417" stop-color="#22ff00"/><stop offset="0.452" stop-color="#00ff00"/><stop offset="0.5" stop-color="#00ff00"/><stop offset="0.583" stop-color="#00ff00"/><stop offset="0.667" stop-color="#00ff00"/><stop offset="0.75" stop-color="#00ff00"/><stop offset="0.795" stop-color="#00ff00"/><stop offset="0.825" stop-color="#00ff19"/><stop offset="0.833" stop-color="#00ff21"/><stop offset="0.917" stop-color="#00ff7a"/><stop offset="0.919" stop-color="#00ff7d"/><stop offset="0.967" stop-color="#00ffa5"/><stop offset="1" stop-color="#00ffc1"/></linearGradient>
<linearGradient id="g57" gradientUnits="userSpaceOnUse" x1="520" x2="2209.2" y1="0" y2="0"><stop offset="0" stop-color="#c2ff00"/><stop offset="0.083" stop-color="#beff00"/><stop offset="0.167" stop-color="#afff00"/><stop offset="0.25" stop-color="#95ff00"/><stop offset="0.304" stop-color="#7fff00"/><stop offset="0.333" stop-color="#72ff00"/><stop offset="0.361" stop-color="#64ff00"/><stop offset="0.415" stop-color="#28ff00"/><stop offset="0.417" stop-color="#27ff00"/><stop offset="0.455" stop-color="#00ff00"/><stop offset="0.5" stop-color="#00ff00"/><stop offset="0.583" stop-color="#00ff00"/><stop offset="0.667" stop-color="#00ff00"/><stop offset="0.75" stop-color="#00ff00"/><stop offset="0.796" stop-color="#00ff00"/><stop offset="0.825" stop-color="#00ff19"/><stop offset="0.833" stop-color="#00ff21"/><stop offset="0.917" stop-color="#00ff79"/><stop offset="0.92" stop-color="#00ff7d"/><stop offset="0.968" stop-color="#00ffa5"/><stop offset="1" stop-color="#00ffc0"/></linearGradient>
<linearGradient id="g58" gradientUnits="userSpaceOnUse" x1="520" x2="2209.2" y1="0" y2="0"><stop offset="0" stop-color="#d0ff00"/><stop offset="0.083" stop-color="#c9ff00"/><stop offset="0.167" stop-color="#b8ff00"/><stop offset="0.25" stop-color="#9cff00"/><stop offset="0.315" stop-color="#7fff00"/><stop offset="0.333" stop-color="#76ff00"/><stop offset="0.368" stop-color="#64ff00"/><stop offset="0.417" stop-color="#2cff00"/><stop offset="0.42" stop-color="#28ff00"/><stop offset="0.459" stop-color="#00ff00"/><stop offset="0.5" stop-color="#00ff00"/><stop offset="0.583" stop-color="#00ff00"/><stop offset="0.667" stop-color="#00ff00"/><stop offset="0.75" stop-color="#00ff00"/><stop offset="0.796" stop-color="#00ff00"/><stop offset="0.826" stop-color="#00ff19"/><stop offset="0.833" stop-color="#00ff20"/><stop offset="0.917" stop-color="#00ff78"/><stop offset="0.921" stop-color="#00ff7d"/><stop offset="0.969" stop-color="#00ffa5"/><stop offset="1" stop-color="#00ffbf"/></linearGradient>
<linearGradient id="g59" gradientUnits="userSpaceOnUse" x1="520" x2="2209.2" y1="0" y2="0"><stop offset="0" stop-color="#d9ff00"/><stop offset="0.083" stop-color="#d4ff00"/><stop offset="0.098" stop-color="#d2ff00"/><stop offset="0.167" stop-color="#c1ff00"/><stop offset="0.25" stop-color="#a3ff00"/><stop offset="0.325" stop-color="#7fff00"/><stop offset="0.333" stop-color="#7bff00"/><stop offset="0.375" stop-color="#64ff00"/><stop offset="0.417" stop-color="#32ff00"/><stop offset="0.425" stop-color="#28ff00"/><stop offset="0.462" stop-color="#00ff00"/><stop offset="0.5" stop-color="#00ff00"/><stop offset="0.583" stop-color="#00ff00"/><stop offset="0.667" stop-color="#00ff00"/><stop offset="0.75" stop-color="#00ff00"/><stop offset="0.796" stop-color="#00ff00"/><stop offset="0.826" stop-color="#00ff19"/><stop offset="0.833" stop-color="#00ff20"/><stop offset="0.917" stop-color="#00ff78"/><stop offset="0.922" stop-color="#00ff7d"/><stop offset="0.97" stop-color="#00ffa5"/><stop offset="1" stop-color="#00ffbe"/></linearGradient>
<linearGradient id="g60" gradientUnits="userSpaceOnUse" x1="520" x2="2209.2" y1="0" y2="0"><stop offset="0" stop-color="#e2ff00"/><stop offset="0.083" stop-color="#dbff00"/><stop offset="0.142" stop-color="#d2ff00"/><stop offset="0.167" stop-color="#caff00"/><stop offset="0.25" stop-color="#aaff00"/><stop offset="0.333" stop-color="#7fff00"/><stop offset="0.334" stop-color="#7fff00"/><stop offset="0.381" stop-color="#64ff00"/><stop offset="0.417" stop-color="#38ff00"/><stop offset="0.429" stop-color="#28ff00"/><stop offset="0.465" stop-color="#00ff00"/><stop offset="0.5" stop-color="#00ff00"/><stop offset="0.583" stop-color="#00ff00"/><stop offset="0.667" stop-color="#00ff00"/><stop offset="0.75" stop-color="#00ff00"/><stop offset="0.796" stop-color="#00ff00"/><stop offset="0.826" stop-color="#00ff19"/><stop offset="0.833" stop-color="#00ff20"/><stop offset="0.917" stop-color="#00ff77"/><stop offset="0.922" stop-color="#00ff7d"/><stop offset="0.971" stop-color="#00ffa5"/><stop offset="1" stop-color="#00ffbd"/></linearGradient>
<linearGradient id="g61" gradientUnits="userSpaceOnUse" x1="520" x2="2209.2" y1="0" y2="0"><stop offset="0" stop-color="#ebff00"/><stop offset="0.083" stop-color="#e2ff00"/><stop offset="0.167" stop-color="#d3ff00"/><stop offset="0.172" stop-color="#d2ff00"/><stop offset="0.25" stop-color="#b1ff00"/><stop offset="0.333" stop-color="#85ff00"/><stop offset="0.343" stop-color="#7fff00"/><stop offset="0.387" stop-color="#64ff00"/><stop offset="0.417" stop-color="#3fff00"/><stop offset="0.434" stop-color="#28ff00"/><stop offset="0.469" stop-color="#00ff00"/><stop offset="0.5" stop-color="#00ff00"/><stop offset="0.583" stop-color="#00ff00"/><stop offset="0.667" stop-color="#00ff00"/><stop offset="0.75" stop-color="#00ff00"/><stop offset="0.796" stop-color="#00ff00"/><stop offset="0.826" stop-color="#00ff19"/><stop offset="0.833" stop-color="#00ff20"/><stop offset="0.917" stop-color="#00ff77"/><stop offset="0.922" stop-color="#00ff7d"/><stop offset="0.971" stop-color="#00ffa5"/><stop offset="1" stop-color="#00ffbd"/></linearGradient>
<linearGradient id="g62" gradientUnits="userSpaceOnUse" x1="520" x2="2209.2" y1="0" y2="0"><stop offset="0" stop-color="#f4ff00"/><stop offset="0.083" stop-color="#e9ff00"/><stop offset="0.167" stop-color="#d9ff00"/><stop offset="0.195" stop-color="#d2ff00"/><stop offset="0.25" stop-color="#b8ff00"/><stop offset="0.333" stop-color="#8aff00"/><stop offset="0.351" stop-color="#7fff00"/><stop offset="0.393" stop-color="#64ff00"/><stop offset="0.417" stop-color="#45ff00"/><stop offset="0.438" stop-color="#28ff00"/><stop offset="0.472" stop-color="#00ff00"/><stop offset="0.5" stop-color="#00ff00"/><stop offset="0.583" stop-color="#00ff00"/><stop offset="0.667" stop-color="#00ff00"/><stop offset="0.75" stop-color="#00ff00"/><stop offset="0.796" stop-color="#00ff00"/><stop offset="0.826" stop-color="#00ff19"/><stop offset="0.833" stop-color="#00ff20"/><stop offset="0.917" stop-color="#00ff77"/><stop offset="0.922" stop-color="#00ff7d"/><stop offset="0.972" stop-color="#00ffa5"/><stop offset="1" stop-color="#00ffbc"/></linearGradient>
<linearGradient id="g63" gradientUnits="userSpaceOnUse" x1="520" x2="2209.2" y1="0" y2="0"><stop offset="0" stop-color="#fdff00"/><stop offset="0.083" stop-color="#f0ff00"/><stop offset="0.167" stop-color="#dfff00"/><stop offset="0.215" stop-color="#d2ff00"/><stop offset="0.25" stop-color="#c0ff00"/><stop offset="0.333" stop-color="#8fff00"/><stop offset="0.359" stop-color="#7fff00"/><stop offset="0.399" stop-color="#64ff00"/><stop offset="0.417" stop-color="#4cff00"/><stop offset="0.442" stop-color="#28ff00"/><stop offset="0.475" stop-color="#00ff00"/><stop offset="0.5" stop-color="#00ff00"/><stop offset="0.583" stop-color="#00ff00"/><stop offset="0.667" stop-color="#00ff00"/><stop offset="0.75" stop-color="#00ff00"/><stop offset="0.796" stop-color="#00ff00"/><stop offset="0.826" stop-color="#00ff19"/><stop offset="0.833" stop-color="#00ff20"/><stop offset="0.917" stop-color="#00ff77"/><stop offset="0.922" stop-color="#00ff7d"/><stop offset="0.972" stop-color="#00ffa5"/><stop offset="1" stop-color="#00ffbc"/></linearGradient>
<linearGradient id="g64" gradientUnits="userSpaceOnUse" x1="520" x2="2209.2" y1="0" y2="0"><stop offset="0" stop-color="#fff700"/><stop offset="0.048" stop-color="#ffff00"/><stop offset="0.083" stop-color="#f8ff00"/><stop offset="0.167" stop-color="#e5ff00"/><stop offset="0.232" stop-color="#d2ff00"/><stop offset="0.25" stop-color="#c8ff00"/><stop offset="0.333" stop-color="#95ff00"/><stop offset="0.366" stop-color="#7fff00"/><stop offset="0.405" stop-color="#64ff00"/><stop offset="0.417" stop-color="#53ff00"/><stop offset="0.446" stop-color="#28ff00"/><stop offset="0.478" stop-color="#00ff00"/><stop offset="0.5" stop-color="#00ff00"/><stop offset="0.583" stop-color="#00ff00"/><stop offset="0.667" stop-color="#00ff00"/><stop offset="0.75" stop-color="#00ff00"/><stop offset="0.796" stop-color="#00ff00"/><stop offset="0.825" stop-color="#00ff19"/><stop offset="0.833" stop-color="#00ff21"/><stop offset="0.917" stop-color="#00ff77"/><stop offset="0.922" stop-color="#00ff7d"/><stop offset="0.972" stop-color="#00ffa5"/><stop offset="1" stop-color="#00ffbc"/></linearGradient>
<linearGradient id="g65" gradientUnits="userSpaceOnUse" x1="520" x2="2209.2" y1="0" y2="0"><stop offset="0" stop-color="#ffed00"/><stop offset="0.083" stop-color="#fffe00"/><stop offset="0.088" stop-color="#ffff00"/><stop offset="0.167" stop-color="#ebff00"/><stop offset="0.247" stop-color="#d2ff00"/><stop offset="0.25" stop-color="#d0ff00"/><stop offset="0.333" stop-color="#9bff00"/><stop offset="0.373" stop-color="#7fff00"/><stop offset="0.41" stop-color="#64ff00"/><stop offset="0.417" stop-color="#5bff00"/><stop offset="0.45" stop-color="#28ff00"/><stop offset="0.482" stop-color="#00ff00"/><stop offset="0.5" stop-color="#00ff00"/><stop offset="0.583" stop-color="#00ff00"/><stop offset="0.667" stop-color="#00ff00"/><stop offset="0.75" stop-color="#00ff00"/><stop offset="0.795" stop-color="#00ff00"/><stop offset="0.825" stop-color="#00ff19"/><stop offset="0.833" stop-color="#00ff21"/><stop offset="0.917" stop-color="#00ff78"/><stop offset="0.922" stop-color="#00ff7d"/><stop offset="0.971" stop-color="#00ffa5"/><stop offset="1" stop-color="#00ffbc"/></linearGradient>
<linearGradient id="g66" gradientUnits="userSpaceOnUse" x1="520" x2="2209.2" y1="0" y2="0"><stop offset="0" stop-color="#ffe300"/><stop offset="0.083" stop-color="#fff600"/><stop offset="0.119" stop-color="#ffff00"/><stop offset="0.167" stop-color="#f1ff00"/><stop offset="0.25" stop-color="#d6ff00"/><stop offset="0.261" stop-color="#d2ff00"/><stop offset="0.333" stop-color="#a1ff00"/><stop offset="0.38" stop-color="#7fff00"/><stop offset="0.416" stop-color="#64ff00"/><stop offset="0.417" stop-color="#62ff00"/><stop offset="0.454" stop-color="#28ff00"/><stop offset="0.485" stop-color="#00ff00"/><stop offset="0.5" stop-color="#00ff00"/><stop offset="0.583" stop-color="#00ff00"/><stop offset="0.667" stop-color="#00ff00"/><stop offset="0.75" stop-color="#00ff00"/><stop offset="0.794" stop-color="#00ff00"/><stop offset="0.824" stop-color="#00ff19"/><stop offset="0.833" stop-color="#00ff22"/><stop offset="0.917" stop-color="#00ff78"/><stop offset="0.921" stop-color="#00ff7d"/><stop offset="0.971" stop-color="#00ffa5"/><stop offset="1" stop-color="#00ffbc"/></linearGradient>
<linearGradient id="g67" gradientUnits="userSpaceOnUse" x1="520" x2="2209.2" y1="0" y2="0"><stop offset="0" stop-color="#ffd900"/><stop offset="0.083" stop-color="#ffee00"/><stop offset="0.144" stop-color="#ffff00"/><stop offset="0.167" stop-color="#f8ff00"/><stop offset="0.25" stop-color="#dbff00"/><stop offset="0.274" stop-color="#d2ff00"/><stop offset="0.333" stop-color="#a8ff00"/><stop offset="0.386" stop-color="#7fff00"/><stop offset="0.417" stop-color="#67ff00"/><stop offset="0.421" stop-color="#64ff00"/><stop offset="0.458" stop-color="#28ff00"/><stop offset="0.488" stop-color="#00ff00"/><stop offset="0.5" stop-color="#00ff00"/><stop offset="0.583" stop-color="#00ff00"/><stop offset="0.667" stop-color="#00ff00"/><stop offset="0.75" stop-color="#00ff00"/><stop offset="0.794" stop-color="#00ff00"/><stop offset="0.823" stop-color="#00ff19"/><stop offset="0.833" stop-color="#00ff23"/><stop offset="0.917" stop-color="#00ff79"/><stop offset="0.92" stop-color="#00ff7d"/><stop offset="0.97" stop-color="#00ffa5"/><stop offset="1" stop-color="#00ffbd"/></linearGradient>
<linearGradient id="g68" gradientUnits="userSpaceOnUse" x1="520" x2="2209.2" y1="0" y2="0"><stop offset="0" stop-color="#ffce00"/><stop offset="0.083" stop-color="#ffe500"/><stop offset="0.166" stop-color="#ffff00"/><stop offset="0.167" stop-color="#ffff00"/><stop offset="0.25" stop-color="#e0ff00"/><stop offset="0.285" stop-color="#d2ff00"/><stop offset="0.333" stop-color="#aeff00"/><stop offset="0.392" stop-color="#7fff00"/><stop offset="0.417" stop-color="#6bff00"/><stop offset="0.426" stop-color="#64ff00"/><stop offset="0.462" stop-color="#28ff00"/><stop offset="0.491" stop-color="#00ff00"/><stop offset="0.5" stop-color="#00ff00"/><stop offset="0.583" stop-color="#00ff00"/><stop offset="0.667" stop-color="#00ff00"/><stop offset="0.75" stop-color="#00ff00"/><stop offset="0.793" stop-color="#00ff00"/><stop offset="0.822" stop-color="#00ff19"/><stop offset="0.833" stop-color="#00ff24"/><stop offset="0.917" stop-color="#00ff7a"/><stop offset="0.919" stop-color="#00ff7d"/><stop offset="0.969" stop-color="#00ffa5"/><stop offset="1" stop-color="#00ffbd"/></linearGradient>
<linearGradient id="g69" gradientUnits="userSpaceOnUse" x1="520" x2="2209.2" y1="0" y2="0"><stop offset="0" stop-color="#ffc400"/><stop offset="0.083" stop-color="#ffdc00"/><stop offset="0.167" stop-color="#fff800"/><stop offset="0.185" stop-color="#ffff00"/><stop offset="0.25" stop-color="#e5ff00"/><stop offset="0.296" stop-color="#d2ff00"/><stop offset="0.333" stop-color="#b5ff00"/><stop offset="0.398" stop-color="#7fff00"/><stop offset="0.417" stop-color="#70ff00"/><stop offset="0.43" stop-color="#64ff00"/><stop offset="0.466" stop-color="#28ff00"/><stop offset="0.494" stop-color="#00ff00"/><stop offset="0.5" stop-color="#00ff00"/><stop offset="0.583" stop-color="#00ff00"/><stop offset="0.667" stop-color="#00ff00"/><stop offset="0.75" stop-color="#00ff00"/><stop offset="0.792" stop-color="#00ff00"/><stop offset="0.821" stop-color="#00ff19"/><stop offset="0.833" stop-color="#00ff25"/><stop offset="0.917" stop-color="#00ff7c"/><stop offset="0.918" stop-color="#00ff7d"/><stop offset="0.968" stop-color="#00ffa5"/><stop offset="1" stop-color="#00ffbe"/></linearGradient>
<linearGradient id="g70" gradientUnits="userSpaceOnUse" x1="520" x2="2209.2" y1="0" y2="0"><stop offset="0" stop-color="#ffb900"/><stop offset="0.083" stop-color="#ffd300"/><stop offset="0.167" stop-color="#fff100"/><stop offset="0.202" stop-color="#ffff00"/><stop offset="0.25" stop-color="#ebff00"/><stop offset="0.306" stop-color="#d2ff00"/><stop offset="0.333" stop-color="#bcff00"/><stop offset="0.404" stop-color="#7fff00"/><stop offset="0.417" stop-color="#74ff00"/><stop offset="0.435" stop-color="#64ff00"/><stop offset="0.469" stop-color="#28ff00"/><stop offset="0.497" stop-color="#00ff00"/><stop offset="0.5" stop-color="#00ff00"/><stop offset="0.583" stop-color="#00ff00"/><stop offset="0.667" stop-color="#00ff00"/><stop offset="0.75" stop-color="#00ff00"/><stop offset="0.79" stop-color="#00ff00"/><stop offset="0.82" stop-color="#00ff19"/><stop offset="0.833" stop-color="#00ff26"/><stop offset="0.917" stop-color="#00ff7d"/><stop offset="0.917" stop-color="#00ff7d"/><stop offset="0.967" stop-color="#00ffa5"/><stop offset="1" stop-color="#00ffbf"/></linearGradient>
<linearGradient id="g71" gradientUnits="userSpaceOnUse" x1="520" x2="2209.2" y1="0" y2="0"><stop offset="0" stop-color="#ffad00"/><stop offset="0.083" stop-color="#ffca00"/><stop offset="0.167" stop-color="#ffea00"/><stop offset="0.217" stop-color="#ffff00"/><stop offset="0.25" stop-color="#f0ff00"/><stop offset="0.316" stop-color="#d2ff00"/><stop offset="0.333" stop-color="#c3ff00"/><stop offset="0.41" stop-color="#7fff00"/><stop offset="0.417" stop-color="#79ff00"/><stop offset="0.44" stop-color="#64ff00"/><stop offset="0.473" stop-color="#28ff00"/><stop offset="0.499" stop-color="#00ff00"/><stop offset="0.5" stop-color="#00ff00"/><stop offset="0.583" stop-color="#00ff00"/><stop offset="0.667" stop-color="#00ff00"/><stop offset="0.75" stop-color="#00ff00"/><stop offset="0.789" stop-color="#00ff00"/><stop offset="0.819" stop-color="#00ff19"/><stop offset="0.833" stop-color="#00ff28"/><stop offset="0.915" stop-color="#00ff7d"/><stop offset="0.917" stop-color="#00ff7e"/><stop offset="0.966" stop-color="#00ffa5"/><stop offset="1" stop-color="#00ffc0"/></linearGradient>
<linearGradient id="g72" gradientUnits="userSpaceOnUse" x1="520" x2="2209.2" y1="0" y2="0"><stop offset="0" stop-color="#ffa200"/><stop offset="0.083" stop-color="#ffc100"/><stop offset="0.167" stop-color="#ffe300"/><stop offset="0.231" stop-color="#ffff00"/><stop offset="0.25" stop-color="#f6ff00"/><stop offset="0.325" stop-color="#d2ff00"/><stop offset="0.333" stop-color="#caff00"/><stop offset="0.415" stop-color="#7fff00"/><stop offset="0.417" stop-color="#7dff00"/><stop offset="0.444" stop-color="#64ff00"/><stop offset="0.476" stop-color="#28ff00"/><stop offset="0.5" stop-color="#03ff00"/><stop offset="0.502" stop-color="#00ff00"/><stop offset="0.583" stop-color="#00ff00"/><stop offset="0.667" stop-color="#00ff00"/><stop offset="0.75" stop-color="#00ff00"/><stop offset="0.788" stop-color="#00ff00"/><stop offset="0.817" stop-color="#00ff19"/><stop offset="0.833" stop-color="#00ff29"/><stop offset="0.913" stop-color="#00ff7d"/><stop offset="0.917" stop-color="#00ff80"/><stop offset="0.964" stop-color="#00ffa5"/><stop offset="1" stop-color="#00ffc1"/></linearGradient>
<linearGradient id="g73" gradientUnits="userSpaceOnUse" x1="520" x2="2209.2" y1="0" y2="0"><stop offset="0" stop-color="#ff9600"/><stop offset="0.083" stop-color="#ffb700"/><stop offset="0.167" stop-color="#ffdb00"/><stop offset="0.244" stop-color="#ffff00"/><stop offset="0.25" stop-color="#fcff00"/><stop offset="0.333" stop-color="#d2ff00"/><stop offset="0.333" stop-color="#d2ff00"/><stop offset="0.417" stop-color="#82ff00"/><stop offset="0.42" stop-color="#7fff00"/><stop offset="0.448" stop-color="#64ff00"/><stop offset="0.48" stop-color="#28ff00"/><stop offset="0.5" stop-color="#08ff00"/><stop offset="0.505" stop-color="#00ff00"/><stop offset="0.583" stop-color="#00ff00"/><stop offset="0.667" stop-color="#00ff00"/><stop offset="0.75" stop-color="#00ff00"/><stop offset="0.786" stop-color="#00ff00"/><stop offset="0.815" stop-color="#00ff19"/><stop offset="0.833" stop-color="#00ff2b"/><stop offset="0.912" stop-color="#00ff7d"/><stop offset="0.917" stop-color="#00ff81"/><stop offset="0.962" stop-color="#00ffa5"/><stop offset="1" stop-color="#00ffc3"/></linearGradient>
<linearGradient id="g74" gradientUnits="userSpaceOnUse" x1="520" x2="2209.2" y1="0" y2="0"><stop offset="0" stop-color="#ff8a00"/><stop offset="0.024" stop-color="#ff9400"/><stop offset="0.083" stop-color="#ffad00"/><stop offset="0.167" stop-color="#ffd300"/><stop offset="0.25" stop-color="#fffc00"/><stop offset="0.256" stop-color="#ffff00"/><stop offset="0.333" stop-color="#d6ff00"/><stop offset="0.341" stop-color="#d2ff00"/><stop offset="0.417" stop-color="#87ff00"/><stop offset="0.425" stop-color="#7fff00"/><stop offset="0.452" stop-color="#64ff00"/><stop offset="0.483" stop-color="#28ff00"/><stop offset="0.5" stop-color="#0cff00"/><stop offset="0.507" stop-color="#00ff00"/><stop offset="0.583" stop-color="#00ff00"/><stop offset="0.667" stop-color="#00ff00"/><stop offset="0.75" stop-color="#00ff00"/><stop offset="0.785" stop-color="#00ff00"/><stop offset="0.814" stop-color="#00ff19"/><stop offset="0.833" stop-color="#00ff2d"/><stop offset="0.91" stop-color="#00ff7d"/><stop offset="0.917" stop-color="#00ff83"/><stop offset="0.96" stop-color="#00ffa5"/><stop offset="1" stop-color="#00ffc5"/></linearGradient>
<linearGradient id="g75" gradientUnits="userSpaceOnUse" x1="520" x2="2209.2" y1="0" y2="0"><stop offset="0" stop-color="#ff7e00"/><stop offset="0.05" stop-color="#ff9400"/><stop offset="0.083" stop-color="#ffa300"/><stop offset="0.167" stop-color="#ffcb00"/><stop offset="0.25" stop-color="#fff600"/><stop offset="0.268" stop-color="#ffff00"/><stop offset="0.333" stop-color="#dbff00"/><stop offset="0.349" stop-color="#d2ff00"/><stop offset="0.417" stop-color="#8dff00"/><stop offset="0.43" stop-color="#7fff00"/><stop offset="0.456" stop-color="#64ff00"/><stop offset="0.486" stop-color="#28ff00"/><stop offset="0.5" stop-color="#11ff00"/><stop offset="0.51" stop-color="#00ff00"/><stop offset="0.583" stop-color="#00ff00"/><stop offset="0.667" stop-color="#00ff00"/><stop offset="0.75" stop-color="#00ff00"/><stop offset="0.783" stop-color="#00ff00"/><stop offset="0.812" stop-color="#00ff19"/><stop offset="0.833" stop-color="#00ff2f"/><stop offset="0.907" stop-color="#00ff7d"/><stop offset="0.917" stop-color="#00ff84"/><stop offset="0.958" stop-color="#00ffa5"/><stop offset="1" stop-color="#00ffc6"/></linearGradient>
<linearGradient id="g76" gradientUnits="userSpaceOnUse" x1="520" x2="2209.2" y1="0" y2="0"><stop offset="0" stop-color="#ff7100"/><stop offset="0.073" stop-color="#ff9400"/><stop offset="0.083" stop-color="#ff9900"/><stop offset="0.167" stop-color="#ffc300"/><stop offset="0.25" stop-color="#ffef00"/><stop offset="0.278" stop-color="#ffff00"/><stop offset="0.333" stop-color="#dfff00"/><stop offset="0.356" stop-color="#d2ff00"/><stop offset="0.417" stop-color="#92ff00"/><stop offset="0.434" stop-color="#7fff00"/><stop offset="0.46" stop-color="#64ff00"/><stop offset="0.489" stop-color="#28ff00"/><stop offset="0.5" stop-color="#15ff00"/><stop offset="0.512" stop-color="#00ff00"/><stop offset="0.583" stop-color="#00ff00"/><stop offset="0.667" stop-color="#00ff00"/><stop offset="0.75" stop-color="#00ff00"/><stop offset="0.782" stop-color="#00ff00"/><stop offset="0.81" stop-color="#00ff19"/><stop offset="0.833" stop-color="#00ff31"/><stop offset="0.905" stop-color="#00ff7d"/><stop offset="0.917" stop-color="#00ff86"/><stop offset="0.955" stop-color="#00ffa5"/><stop offset="1" stop-color="#00ffc8"/></linearGradient>
<linearGradient id="g77" gradientUnits="userSpaceOnUse" x1="520" x2="2209.2" y1="0" y2="0"><stop offset="0" stop-color="#ff6400"/><stop offset="0.083" stop-color="#ff8e00"/><stop offset="0.094" stop-color="#ff9400"/><stop offset="0.167" stop-color="#ffbb00"/><stop offset="0.25" stop-color="#ffe900"/><stop offset="0.288" stop-color="#ffff00"/><stop offset="0.333" stop-color="#e4ff00"/><stop offset="0.363" stop-color="#d2ff00"/><stop offset="0.417" stop-color="#98ff00"/><stop offset="0.439" stop-color="#7fff00"/><stop offset="0.464" stop-color="#64ff00"/><stop offset="0.492" stop-color="#28ff00"/><stop offset="0.5" stop-color="#1aff00"/><stop offset="0.515" stop-color="#00ff00"/><stop offset="0.583" stop-color="#00ff00"/><stop offset="0.667" stop-color="#00ff00"/><stop offset="0.75" stop-color="#00ff00"/><stop offset="0.78" stop-color="#00ff00"/><stop offset="0.808" stop-color="#00ff19"/><stop offset="0.833" stop-color="#00ff33"/><stop offset="0.902" stop-color="#00ff7d"/><stop offset="0.917" stop-color="#00ff88"/><stop offset="0.953" stop-color="#00ffa5"/><stop offset="1" stop-color="#00ffca"/></linearGradient>
<linearGradient id="g78" gradientUnits="userSpaceOnUse" x1="520" x2="2209.2" y1="0" y2="0"><stop offset="0" stop-color="#ff5700"/><stop offset="0.083" stop-color="#ff8400"/><stop offset="0.113" stop-color="#ff9400"/><stop offset="0.167" stop-color="#ffb200"/><stop offset="0.25" stop-color="#ffe300"/><stop offset="0.298" stop-color="#ffff00"/><stop offset="0.333" stop-color="#e9ff00"/><stop offset="0.37" stop-color="#d2ff00"/><stop offset="0.417" stop-color="#9dff00"/><stop offset="0.443" stop-color="#7fff00"/><stop offset="0.468" stop-color="#64ff00"/><stop offset="0.495" stop-color="#28ff00"/><stop offset="0.5" stop-color="#1fff00"/><stop offset="0.517" stop-color="#00ff00"/><stop offset="0.583" stop-color="#00ff00"/><stop offset="0.667" stop-color="#00ff00"/><stop offset="0.75" stop-color="#00ff00"/><stop offset="0.778" stop-color="#00ff00"/><stop offset="0.806" stop-color="#00ff19"/><stop offset="0.833" stop-color="#00ff36"/><stop offset="0.9" stop-color="#00ff7d"/><stop offset="0.917" stop-color="#00ff8a"/><stop offset="0.95" stop-color="#00ffa5"/><stop offset="1" stop-color="#00ffcd"/></linearGradient>
<linearGradient id="g79" gradientUnits="userSpaceOnUse" x1="520" x2="2209.2" y1="0" y2="0"><stop offset="0" stop-color="#ff4900"/><stop offset="0.083" stop-color="#ff7900"/><stop offset="0.13" stop-color="#ff9400"/><stop offset="0.167" stop-color="#ffaa00"/><stop offset="0.25" stop-color="#ffdc00"/><stop offset="0.307" stop-color="#ffff00"/><stop offset="0.333" stop-color="#eeff00"/><stop offset="0.376" stop-color="#d2ff00"/><stop offset="0.417" stop-color="#a3ff00"/><stop offset="0.447" stop-color="#7fff00"/><stop offset="0.471" stop-color="#64ff00"/><stop offset="0.498" stop-color="#28ff00"/><stop offset="0.5" stop-color="#24ff00"/><stop offset="0.52" stop-color="#00ff00"/><stop offset="0.583" stop-color="#00ff00"/><stop offset="0.667" stop-color="#00ff00"/><stop offset="0.75" stop-color="#00ff00"/><stop offset="0.776" stop-color="#00ff00"/><stop offset="0.804" stop-color="#00ff19"/><stop offset="0.833" stop-color="#00ff38"/><stop offset="0.897" stop-color="#00ff7d"/><stop offset="0.917" stop-color="#00ff8d"/><stop offset="0.947" stop-color="#00ffa5"/><stop offset="1" stop-color="#00ffcf"/></linearGradient>
<linearGradient id="g80" gradientUnits="userSpaceOnUse" x1="520" x2="2209.2" y1="0" y2="0"><stop offset="0" stop-color="#ff3c00"/><stop offset="0.083" stop-color="#ff6d00"/><stop offset="0.146" stop-color="#ff9400"/><stop offset="0.167" stop-color="#ffa100"/><stop offset="0.25" stop-color="#ffd500"/><stop offset="0.315" stop-color="#ffff00"/><stop offset="0.333" stop-color="#f3ff00"/><stop offset="0.383" stop-color="#d2ff00"/><stop offset="0.417" stop-color="#a9ff00"/><stop offset="0.452" stop-color="#7fff00"/><stop offset="0.475" stop-color="#64ff00"/><stop offset="0.5" stop-color="#29ff00"/><stop offset="0.501" stop-color="#28ff00"/><stop offset="0.522" stop-color="#00ff00"/><stop offset="0.583" stop-color="#00ff00"/><stop offset="0.667" stop-color="#00ff00"/><stop offset="0.75" stop-color="#00ff00"/><stop offset="0.774" stop-color="#00ff00"/><stop offset="0.801" stop-color="#00ff19"/><stop offset="0.833" stop-color="#00ff3b"/><stop offset="0.894" stop-color="#00ff7d"/><stop offset="0.917" stop-color="#00ff8f"/><stop offset="0.944" stop-color="#00ffa5"/><stop offset="1" stop-color="#00ffd2"/></linearGradient>
<linearGradient id="g81" gradientUnits="userSpaceOnUse" x1="520" x2="2209.2" y1="0" y2="0"><stop offset="0" stop-color="#ff2e00"/><stop offset="0.015" stop-color="#ff3700"/><stop offset="0.083" stop-color="#ff6200"/><stop offset="0.161" stop-color="#ff9400"/><stop offset="0.167" stop-color="#ff9800"/><stop offset="0.25" stop-color="#ffce00"/><stop offset="0.323" stop-color="#ffff00"/><stop offset="0.333" stop-color="#f8ff00"/><stop offset="0.389" stop-color="#d2ff00"/><stop offset="0.417" stop-color="#afff00"/><stop offset="0.456" stop-color="#7fff00"/><stop offset="0.478" stop-color="#64ff00"/><stop offset="0.5" stop-color="#30ff00"/><stop offset="0.503" stop-color="#28ff00"/><stop offset="0.524" stop-color="#00ff00"/><stop offset="0.583" stop-color="#00ff00"/><stop offset="0.667" stop-color="#00ff00"/><stop offset="0.75" stop-color="#00ff00"/><stop offset="0.772" stop-color="#00ff00"/><stop offset="0.799" stop-color="#00ff19"/><stop offset="0.833" stop-color="#00ff3e"/><stop offset="0.891" stop-color="#00ff7d"/><stop offset="0.917" stop-color="#00ff92"/><stop offset="0.94" stop-color="#00ffa5"/><stop offset="1" stop-color="#00ffd5"/></linearGradient>
<linearGradient id="g82" gradientUnits="userSpaceOnUse" x1="520" x2="2209.2" y1="0" y2="0"><stop offset="0" stop-color="#ff2e00"/><stop offset="0.015" stop-color="#ff3700"/><stop offset="0.083" stop-color="#ff6200"/><stop offset="0.161" stop-color="#ff9400"/><stop offset="0.167" stop-color="#ff9800"/><stop offset="0.25" stop-color="#ffce00"/><stop offset="0.323" stop-color="#ffff00"/><stop offset="0.333" stop-color="#f8ff00"/><stop offset="0.389" stop-color="#d2ff00"/><stop offset="0.417" stop-color="#afff00"/><stop offset="0.456" stop-color="#7fff00"/><stop offset="0.478" stop-color="#64ff00"/><stop offset="0.5" stop-color="#30ff00"/><stop offset="0.503" stop-color="#28ff00"/><stop offset="0.524" stop-color="#00ff00"/><stop offset="0.583" stop-color="#00ff00"/><stop offset="0.667" stop-color="#00ff00"/><stop offset="0.75" stop-color="#00ff00"/><stop offset="0.772" stop-color="#00ff00"/><stop offset="0.799" stop-color="#00ff19"/><stop offset="0.833" stop-color="#00ff3e"/><stop offset="0.891" stop-color="#00ff7d"/><stop offset="0.917" stop-color="#00ff92"/><stop offset="0.94" stop-color="#00ffa5"/><stop offset="1" stop-color="#00ffd5"/></linearGradient>
<linearGradient id="g83" gradientUnits="userSpaceOnUse" x1="520" x2="2209.2" y1="0" y2="0"><stop offset="0" stop-color="#ff2e00"/><stop offset="0.015" stop-color="#ff3700"/><stop offset="0.083" stop-color="#ff6200"/><stop offset="0.161" stop-color="#ff9400"/><stop offset="0.167" stop-color="#ff9800"/><stop offset="0.25" stop-color="#ffce00"/><stop offset="0.323" stop-color="#ffff00"/><stop offset="0.333" stop-color="#f8ff00"/><stop offset="0.389" stop-color="#d2ff00"/><stop offset="0.417" stop-color="#afff00"/><stop offset="0.456" stop-color="#7fff00"/><stop offset="0.478" stop-color="#64ff00"/><stop offset="0.5" stop-color="#30ff00"/><stop offset="0.503" stop-color="#28ff00"/><stop offset="0.524" stop-color="#00ff00"/><stop offset="0.583" stop-color="#00ff00"/><stop offset="0.667" stop-color="#00ff00"/><stop offset="0.75" stop-color="#00ff00"/><stop offset="0.772" stop-color="#00ff00"/><stop offset="0.799" stop-color="#00ff19"/><stop offset="0.833" stop-color="#00ff3e"/><stop offset="0.891" stop-color="#00ff7d"/><stop offset="0.917" stop-color="#00ff92"/><stop offset="0.94" stop-color="#00ffa5"/><stop offset="1" stop-color="#00ffd5"/></linearGradient>
<filter id="vb" filterUnits="userSpaceOnUse" x="515" y="2248.4" width="1699.2" height="1809.8"><feGaussianBlur stdDeviation="0 9"/></filter>
</defs>
<g clip-path="url(#cpb)"><g filter="url(#vb)"><rect x="520" y="2265.9" width="1689.2" height="21.7" fill="url(#g0)"/><rect x="520" y="2287" width="1689.2" height="21.7" fill="url(#g1)"/><rect x="520" y="2308.1" width="1689.2" height="21.7" fill="url(#g2)"/><rect x="520" y="2329.2" width="1689.2" height="21.7" fill="url(#g3)"/><rect x="520" y="2350.3" width="1689.2" height="21.7" fill="url(#g4)"/><rect x="520" y="2371.5" width="1689.2" height="21.7" fill="url(#g5)"/><rect x="520" y="2392.6" width="1689.2" height="21.7" fill="url(#g6)"/><rect x="520" y="2413.7" width="1689.2" height="21.7" fill="url(#g7)"/><rect x="520" y="2434.8" width="1689.2" height="21.7" fill="url(#g8)"/><rect x="520" y="2456" width="1689.2" height="21.7" fill="url(#g9)"/><rect x="520" y="2477.1" width="1689.2" height="21.7" fill="url(#g10)"/><rect x="520" y="2498.2" width="1689.2" height="21.7" fill="url(#g11)"/><rect x="520" y="2519.3" width="1689.2" height="21.7" fill="url(#g12)"/><rect x="520" y="2540.4" width="1689.2" height="21.7" fill="url(#g13)"/><rect x="520" y="2561.6" width="1689.2" height="21.7" fill="url(#g14)"/><rect x="520" y="2582.7" width="1689.2" height="21.7" fill="url(#g15)"/><rect x="520" y="2603.8" width="1689.2" height="21.7" fill="url(#g16)"/><rect x="520" y="2624.9" width="1689.2" height="21.7" fill="url(#g17)"/><rect x="520" y="2646.1" width="1689.2" height="21.7" fill="url(#g18)"/><rect x="520" y="2667.2" width="1689.2" height="21.7" fill="url(#g19)"/><rect x="520" y="2688.3" width="1689.2" height="21.7" fill="url(#g20)"/><rect x="520" y="2709.4" width="1689.2" height="21.7" fill="url(#g21)"/><rect x="520" y="2730.5" width="1689.2" height="21.7" fill="url(#g22)"/><rect x="520" y="2751.7" width="1689.2" height="21.7" fill="url(#g23)"/><rect x="520" y="2772.8" width="1689.2" height="21.7" fill="url(#g24)"/><rect x="520" y="2793.9" width="1689.2" height="21.7" fill="url(#g25)"/><rect x="520" y="2815" width="1689.2" height="21.7" fill="url(#g26)"/><rect x="520" y="2836.2" width="1689.2" height="21.7" fill="url(#g27)"/><rect x="520" y="2857.3" width="1689.2" height="21.7" fill="url(#g28)"/><rect x="520" y="2878.4" width="1689.2" height="21.7" fill="url(#g29)"/><rect x="520" y="2899.5" width="1689.2" height="21.7" fill="url(#g30)"/><rect x="520" y="2920.7" width="1689.2" height="21.7" fill="url(#g31)"/><rect x="520" y="2941.8" width="1689.2" height="21.7" fill="url(#g32)"/><rect x="520" y="2962.9" width="1689.2" height="21.7" fill="url(#g33)"/><rect x="520" y="2984" width="1689.2" height="21.7" fill="url(#g34)"/><rect x="520" y="3005.1" width="1689.2" height="21.7" fill="url(#g35)"/><rect x="520" y="3026.3" width="1689.2" height="21.7" fill="url(#g36)"/><rect x="520" y="3047.4" width="1689.2" height="21.7" fill="url(#g37)"/><rect x="520" y="3068.5" width="1689.2" height="21.7" fill="url(#g38)"/><rect x="520" y="3089.6" width="1689.2" height="21.7" fill="url(#g39)"/><rect x="520" y="3110.8" width="1689.2" height="21.7" fill="url(#g40)"/><rect x="520" y="3131.9" width="1689.2" height="21.7" fill="url(#g41)"/><rect x="520" y="3153" width="1689.2" height="21.7" fill="url(#g42)"/><rect x="520" y="3174.1" width="1689.2" height="21.7" fill="url(#g43)"/><rect x="520" y="3195.2" width="1689.2" height="21.7" fill="url(#g44)"/><rect x="520" y="3216.4" width="1689.2" height="21.7" fill="url(#g45)"/><rect x="520" y="3237.5" width="1689.2" height="21.7" fill="url(#g46)"/><rect x="520" y="3258.6" width="1689.2" height="21.7" fill="url(#g47)"/><rect x="520" y="3279.7" width="1689.2" height="21.7" fill="url(#g48)"/><rect x="520" y="3300.9" width="1689.2" height="21.7" fill="url(#g49)"/><rect x="520" y="3322" width="1689.2" height="21.7" fill="url(#g50)"/><rect x="520" y="3343.1" width="1689.2" height="21.7" fill="url(#g51)"/><rect x="520" y="3364.2" width="1689.2" height="21.7" fill="url(#g52)"/><rect x="520" y="3385.3" width="1689.2" height="21.7" fill="url(#g53)"/><rect x="520" y="3406.5" width="1689.2" height="21.7" fill="url(#g54)"/><rect x="520" y="3427.6" width="1689.2" height="21.7" fill="url(#g55)"/><rect x="520" y="3448.7" width="1689.2" height="21.7" fill="url(#g56)"/><rect x="520" y="3469.8" width="1689.2" height="21.7" fill="url(#g57)"/><rect x="520" y="3491" width="1689.2" height="21.7" fill="url(#g58)"/><rect x="520" y="3512.1" width="1689.2" height="21.7" fill="url(#g59)"/><rect x="520" y="3533.2" width="1689.2" height="21.7" fill="url(#g60)"/><rect x="520" y="3554.3" width="1689.2" height="21.7" fill="url(#g61)"/><rect x="520" y="3575.4" width="1689.2" height="21.7" fill="url(#g62)"/><rect x="520" y="3596.6" width="1689.2" height="21.7" fill="url(#g63)"/><rect x="520" y="3617.7" width="1689.2" height="21.7" fill="url(#g64)"/><rect x="520" y="3638.8" width="1689.2" height="21.7" fill="url(#g65)"/><rect x="520" y="3659.9" width="1689.2" height="21.7" fill="url(#g66)"/><rect x="520" y="3681.1" width="1689.2" height="21.7" fill="url(#g67)"/><rect x="520" y="3702.2" width="1689.2" height="21.7" fill="url(#g68)"/><rect x="520" y="3723.3" width="1689.2" height="21.7" fill="url(#g69)"/><rect x="520" y="3744.4" width="1689.2" height="21.7" fill="url(#g70)"/><rect x="520" y="3765.6" width="1689.2" height="21.7" fill="url(#g71)"/><rect x="520" y="3786.7" width="1689.2" height="21.7" fill="url(#g72)"/><rect x="520" y="3807.8" width="1689.2" height="21.7" fill="url(#g73)"/><rect x="520" y="3828.9" width="1689.2" height="21.7" fill="url(#g74)"/><rect x="520" y="3850" width="1689.2" height="21.7" fill="url(#g75)"/><rect x="520" y="3871.2" width="1689.2" height="21.7" fill="url(#g76)"/><rect x="520" y="3892.3" width="1689.2" height="21.7" fill="url(#g77)"/><rect x="520" y="3913.4" width="1689.2" height="21.7" fill="url(#g78)"/><rect x="520" y="3934.5" width="1689.2" height="21.7" fill="url(#g79)"/><rect x="520" y="3955.7" width="1689.2" height="21.7" fill="url(#g80)"/><rect x="520" y="3976.8" width="1689.2" height="21.7" fill="url(#g81)"/><rect x="520" y="3997.9" width="1689.2" height="21.7" fill="url(#g82)"/><rect x="520" y="4019" width="1689.2" height="21.7" fill="url(#g83)"/></g></g>
<g fill="none" stroke="#000" stroke-width="3.2" clip-path="url(#cpb)">
<path d="M2209.2 2624.4L2135 2454.3 2105.7 2385.2 2074.1 2308.4M2209.2 2933.9L2045.2 2515.8 2004.4 2408.3 1967.9 2308.4M2133.9 3998.2L2146.2 3952.1 2155.5 3913.7 2163.7 3875.3 2170.8 3837 2176.8 3798.5 2181.7 3760.1 2185.3 3721.7 2187.4 3691 2188.9 3652.6 2189.3 3614.2 2188.6 3575.8 2186.8 3537.3 2183.9 3498.9 2180 3460.5 2175.1 3422.1 2168.1 3376 2161.3 3337.6 2153.7 3299.2 2136.5 3222.4 2114.8 3137.9 2088.4 3045.8 2064.9 2969 2040.3 2892.1 1943.1 2600.3 1905.3 2485.1 1876.1 2392.9 1850.3 2308.4M1913.1 3998.2L1931.3 3906 1939.3 3859.9 1945.2 3821.5 1951.3 3775.5 1955.6 3737 1959 3698.6 1961.7 3660.2 1963.5 3621.8 1964.4 3583.4 1964.4 3545 1963.7 3506.6 1962 3468.2 1959.6 3429.8 1955.8 3386.2 1951.4 3345.3 1942.2 3276.2 1929.6 3199.4 1914.9 3122.6 1894.9 3030.4 1878.6 2961.3 1857.8 2876.8 1790.6 2615.6 1761.5 2500.4 1737.4 2400.6 1716.3 2308.4M1683.3 3998.2L1690.7 3898.3 1696.3 3806.2 1700 3721.7 1701.9 3644.9 1702.2 3568.1 1700.7 3491.3 1697.9 3422.1 1693 3345.3 1687.9 3283.9 1681.8 3222.4 1674.8 3161 1666 3091.9 1648.7 2968.5 1608.2 2700.1 1590.4 2577.2 1572.9 2446.7 1556.4 2308.4M1443.8 3998.2L1433.7 3925.1 1423.9 3859.9 1412.8 3790.8 1400.9 3721.7 1378 3598.8 1329.3 3353 1319.3 3299.2 1310.1 3245.5 1301.8 3191.7 1294.9 3137.9 1290.2 3091.9 1286.8 3045.8 1284.5 2992 1284.1 2930.6 1286 2869.1 1290.4 2800 1295.9 2738.5 1302.4 2677.1 1333.9 2411.8 1345.4 2308.4M520 2528.6L540.3 2569.6 560.9 2615.6 578.7 2661.7 591.1 2700.1 601.1 2738.5 608.5 2776.9 610.6 2792.3 612.7 2815.3 613.8 2846.1 613.1 2869.1 611.8 2884.5 607.3 2915.2 600.1 2945.9 595.4 2961.3 589.9 2976.6 583.6 2992 576.4 3007.4 568.4 3022.7 559.6 3038.1 549.8 3053.4 539 3068.8 520 3093M1194 3998.2L1180.3 3967.8 1165 3935.7 1149.6 3905.4 1133.4 3875.3 1118.9 3849.8 1101.8 3821.5 1082 3790.8 1065.2 3766.5 1049.1 3744.7 1026.8 3716.4 1004.8 3691 988.4 3673.2 967.7 3652.6 950 3636.2 933.2 3621.8 911.6 3604.8 892.6 3591.1 873.2 3578.3 850.2 3564.6 827.1 3552.4 804.1 3541.7 781.1 3532.2 758 3524 735 3516.9 712 3510.8 688.9 3505.7 665.9 3501.4 635.2 3497 612.1 3494.5 581.4 3492.1 550.7 3490.7 520 3490.2M933.4 3998.2L911.6 3973.8 888.6 3949.7 865.5 3927.2 842.5 3906.3 819.4 3886.7 795.3 3867.6 765.7 3846.1 742.7 3830.6 715.7 3813.9 688.9 3798.6 665.9 3786.5 635.2 3771.7 608.7 3760.1 581.4 3749.2 550.7 3738 520 3728.1"/>
</g>
<rect x="520" y="2308.4" width="1689.2" height="1689.8" fill="none" stroke="#000" stroke-width="3.4"/>
<g stroke="#000" stroke-width="2.8">
<line x1="520" y1="3998.2" x2="520" y2="4046.7"/>
<line x1="471" y1="3998.2" x2="520" y2="3998.2"/>
<line x1="857.8" y1="3998.2" x2="857.8" y2="4046.7"/>
<line x1="471" y1="3660.2" x2="520" y2="3660.2"/>
<line x1="1195.7" y1="3998.2" x2="1195.7" y2="4046.7"/>
<line x1="471" y1="3322.3" x2="520" y2="3322.3"/>
<line x1="1533.5" y1="3998.2" x2="1533.5" y2="4046.7"/>
<line x1="471" y1="2984.3" x2="520" y2="2984.3"/>
<line x1="1871.4" y1="3998.2" x2="1871.4" y2="4046.7"/>
<line x1="471" y1="2646.4" x2="520" y2="2646.4"/>
<line x1="2209.2" y1="3998.2" x2="2209.2" y2="4046.7"/>
<line x1="471" y1="2308.4" x2="520" y2="2308.4"/>
</g>
<g font-family="Liberation Serif, serif" font-size="67" text-anchor="middle">
<text x="520" y="4136.5">4</text>
<text x="857.8" y="4136.5">6.2</text>
<text x="1195.7" y="4136.5">8.4</text>
<text x="1533.5" y="4136.5">10.6</text>
<text x="1871.4" y="4136.5">12.8</text>
<text x="2209.2" y="4136.5">15</text>
</g>
<g font-family="Liberation Serif, serif" font-size="67" text-anchor="end">
<text x="453" y="4012.7">5</text>
<text x="453" y="3674.7">7</text>
<text x="453" y="3336.8">9</text>
<text x="453" y="2998.8">11</text>
<text x="453" y="2660.9">13</text>
<text x="453" y="2322.9">15</text>
</g>
<g font-family="Liberation Serif, serif" font-size="67" text-anchor="middle">
<rect x="2063.4" y="2349.9" width="121.5" height="85" fill="#fff" stroke="#000" stroke-width="3"/>
<text x="2124.2" y="2416.9">103</text>
<rect x="2031.7" y="2560.1" width="121.5" height="85" fill="#fff" stroke="#000" stroke-width="3"/>
<text x="2092.4" y="2627.1">104</text>
<rect x="2031.7" y="2982" width="121.5" height="85" fill="#fff" stroke="#000" stroke-width="3"/>
<text x="2092.4" y="3049">105</text>
<rect x="1597.9" y="2982" width="121.5" height="85" fill="#fff" stroke="#000" stroke-width="3"/>
<text x="1658.7" y="3049">107</text>
<rect x="1856.4" y="3066.9" width="121.5" height="85" fill="#fff" stroke="#000" stroke-width="3"/>
<text x="1917.2" y="3133.9">106</text>
<rect x="1233.8" y="3066.9" width="121.5" height="85" fill="#fff" stroke="#000" stroke-width="3"/>
<text x="1294.5" y="3133.9">108</text>
<rect x="550.5" y="2728.6" width="121.5" height="85" fill="#fff" stroke="#000" stroke-width="3"/>
<text x="611.2" y="2795.6">108</text>
<rect x="881.4" y="3539.6" width="121.5" height="85" fill="#fff" stroke="#000" stroke-width="3"/>
<text x="942.1" y="3606.6">109</text>
<rect x="679.2" y="3743.5" width="121.5" height="85" fill="#fff" stroke="#000" stroke-width="3"/>
<text x="740" y="3810.5">110</text>
</g>
<circle cx="520" cy="2308.4" r="17" fill="#cc0000" stroke="#000" stroke-width="2.6"/>
<circle cx="2209.2" cy="2308.4" r="17" fill="#cc0000" stroke="#000" stroke-width="2.6"/>
<circle cx="520" cy="3998.2" r="17" fill="#cc0000" stroke="#000" stroke-width="2.6"/>
<circle cx="2209.2" cy="3998.2" r="17" fill="#cc0000" stroke="#000" stroke-width="2.6"/>
<circle cx="1364.6" cy="3153.3" r="17" fill="#cc0000" stroke="#000" stroke-width="2.6"/>
<text font-family="Liberation Serif, serif" font-size="67" x="1378" y="3154.8">5</text>
<text font-family="Liberation Serif, serif" font-size="76.5" x="949" y="2269" textLength="832" lengthAdjust="spacingAndGlyphs">Tensile Strength (MPa)</text>
<text font-family="Liberation Serif, serif" font-size="72.8" x="1027.6" y="4352.8" textLength="667.6" lengthAdjust="spacingAndGlyphs">A: PTFE Content (%)</text>
<text font-family="Liberation Serif, serif" font-size="72.8" transform="translate(238.3 3540.8) rotate(-90)" textLength="785.5" lengthAdjust="spacingAndGlyphs">B: PTFE Etch Time (min)</text>
<text font-family="Liberation Serif, serif" font-size="80" x="1166.8" y="4477.6" textLength="98.7" lengthAdjust="spacingAndGlyphs">(<tspan font-weight="bold">b</tspan>)</text>
</g></svg></body></html>
